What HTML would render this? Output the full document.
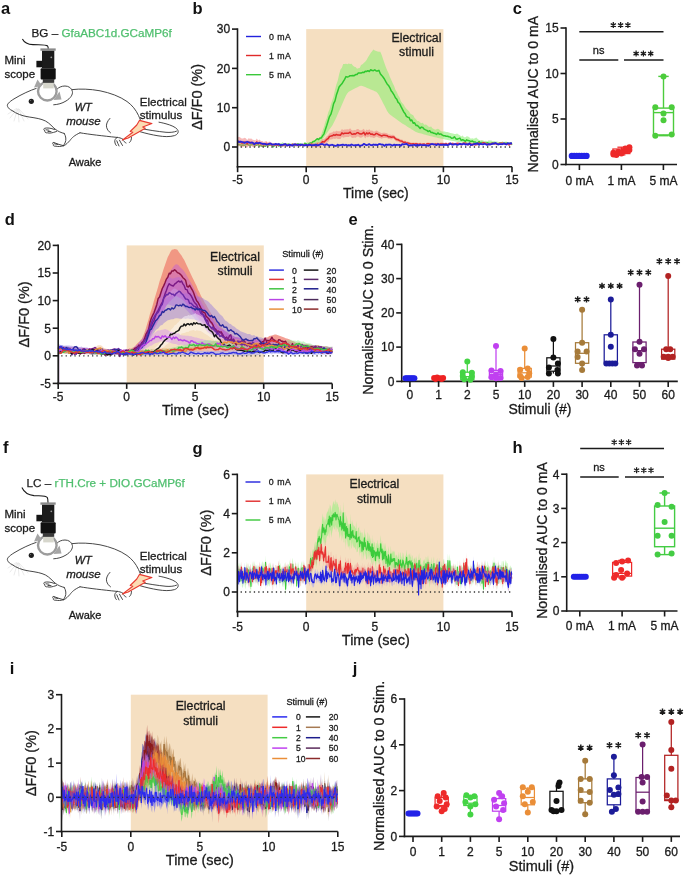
<!DOCTYPE html>
<html><head><meta charset="utf-8"><style>
html,body{margin:0;padding:0;background:#fff;}
svg{display:block;font-family:"Liberation Sans", sans-serif;will-change:transform;}
</style></head><body>
<svg width="685" height="876" viewBox="0 0 685 876">
<rect width="685" height="876" fill="#fff"/>
<rect x="306.2" y="29.1" width="137.2" height="137.6" fill="#f5dfc1"/>
<text x="416.5" y="41.9" font-size="12.3" text-anchor="middle" fill="#1b1b1b" stroke="#1b1b1b" stroke-width="0.3">Electrical</text>
<text x="416.5" y="56.4" font-size="12.3" text-anchor="middle" fill="#1b1b1b" stroke="#1b1b1b" stroke-width="0.3">stimuli</text>
<path transform="scale(.1)" d="M2376 1426l14 2 13-2 14-6 14 2 14 16 13 3 14-15 14 11 13-6 14-4 14 14 14 3 13-14 14 2 14 1 14-1 13 5 14 4 14-8 13 5 14 4 14-13 14 4 13-3 14 8 14-1 13 2 14-1 14-6 14 6 13-7 14 0 14-10 13 21 14-14 14 6 14 0 13 8 14-6 14-7 14 5 13 0 14 2 14-9 13 7 14 13 14-9 14 8 13 8 14-18 14-14 13 4 14 3 14-6 14-17 13 2 14-4 14-4 13-5 14-21 14-29 14-41 13-36 14-53 14-36 14-53 13-30 14-50 14-44 13-38 14-67 14-51 14-41 13-60 14-50 14-18 13-36 14 0 14-3 14 5 13-7 14 3 14-1 13 17 14 13 14 3 14 16 13-4 14-3 14-31 14-7 13-11 14-14 14-17 13-25 14-22 14-24 14-17 13-16 14 8 14 5 13 5 14 3 14 0 14 32 13 40 14 40 14 42 13 31 14 29 14 40 14 29 13 30 14 28 14 40 14 22 13 33 14 20 14 39 13 18 14 14 14 27 14 17 13 11 14 17 14 22 13 7 14 7 14 29 14 12 13 16 14 0 14 17 13 7 14-6 14 20 14-3 13 5 14 15 14 5 14-3 13 17 14 6 14 8 13-4 14-5 14 7 14 15 13 4 14 2 14-2 13 7 14 0 14 3 14 7 13 2 14 2 14 4 13 0 14-4 14 10 14 7 13 13 14-9 14 17 14 0 13-11 14 4 14 8 13 13 14-5 14 5 14-5 13-7 14 16 14 8 13 6 14-4 14 4 14 8 13-6 14 8 14-12 13 1 14 1 14 10 14-5 13 4 14 2 14 1 14 6 13 2 14-12 14 6 13-1 14-4 14 17 14-5 13-5 14-1 0 30-14 0-13 0-14 0-14 0-14 0-13 0-14 0-14 0-13 0-14 0-14 0-14 0-13 0-14 0-14 0-14 0-13 0-14 0-14 0-13 0-14-1-14-2-14-1-13-2-14-1-14-2-13-1-14-2-14-1-14-2-13-1-14-2-14-2-13-1-14-2-14-1-14-2-13-2-14-2-14-2-14-3-13-3-14-2-14-3-13-3-14-2-14-3-14-2-13-3-14-3-14-3-13-3-14-3-14-3-14-3-13-3-14-4-14-3-13-3-14-3-14-4-14-4-13-4-14-4-14-4-14-4-13-4-14-3-14-4-13-6-14-7-14-9-14-8-13-9-14-9-14-8-13-9-14-9-14-8-14-9-13-10-14-9-14-10-13-10-14-10-14-10-14-10-13-9-14-10-14-16-14-21-13-26-14-27-14-26-13-27-14-26-14-27-14-19-13-13-14-6-14-6-13-6-14-6-14-6-14-6-13-5-14-6-14-6-13-6-14-2-14 3-14 7-13 7-14 7-14 7-14 7-13 8-14 7-14 7-13 15-14 23-14 31-14 31-13 31-14 31-14 31-13 31-14 31-14 31-14 27-13 24-14 20-14 19-13 20-14 19-14 20-14 20-13 19-14 20-14 14-14 8-13 3-14 3-14 3-13 2-14 3-14 3-14 3-13 2-14 2-14 1-13 0-14 0-14 0-14 0-13 0-14 0-14 0-13 0-14 0-14 0-14 0-13 0-14 0-14 0-14 0-13 0-14 0-14 0-13 0-14 0-14 0-14 0-13 0-14 0-14 0-13 0-14 0-14 0-14 0-13 0-14 0-14 0-13 0-14 0-14 0-14 0-13 0-14 0-14 0-14 0-13 0-14 0-14 0-13 0-14 0-14 0-14 0-13 0-14 0z" fill="#86ee6e" fill-opacity="0.55"/>
<path transform="scale(.1)" d="M2376 1446l14-1 13 4 14 4 14-3 14 4 13-7 14-9 14 13 13 2 14-8 14 1 14 2 13 8 14-7 14-5 14 15 13-6 14 10 14-4 13 4 14-11 14 7 14-11 13 1 14 2 14 16 13-14 14-3 14-2 14 12 13-8 14 4 14-2 13-13 14 13 14-6 14-6 13 10 14-3 14-2 14 0 13 9 14-9 14-9 13 20 14-17 14 5 14 5 13-19 14 8 14 11 13-13 14-9 14 0 14-14 13-2 14-13 14-13 13 8 14-14 14-2 14-22 13-19 14-43 14-42 14-46 13-41 14-24 14-48 13-57 14-28 14-58 14-42 13-39 14-18 14-14 13-22 14-22 14-28 14 4 13-4 14-9 14 0 13-3 14 3 14-11 14 0 13-15 14-1 14 1 14-8 13 3 14-14 14 3 13-8 14 8 14-18 14 9 13 1 14-9 14 12 13 0 14-7 14 35 14 16 13 16 14 20 14 27 13 22 14 15 14 24 14 33 13 15 14 22 14 30 14 15 13 31 14 11 14 29 13 24 14 29 14 17 14 30 13 8 14 3 14 32 13-7 14 32 14-4 14 26 13 0 14 13 14 17 13-13 14 4 14 17 14 7 13 5 14 12 14-9 14 17 13 1 14 8 14 3 13 8 14-15 14 14 14-4 13 10 14 8 14 1 13 5 14-1 14 6 14 3 13 11 14-1 14-14 13 20 14 5 14-6 14-5 13 23 14-6 14 5 14 11 13-16 14 8 14 2 13 8 14-6 14 9 14 0 13 9 14 3 14-16 13 14 14-5 14 4 14 4 13 2 14-7 14 7 13 1 14-1 14-7 14 3 13 3 14 7 14 6 14-17 13 1 14 8 14-5 13-1 14 0 14-1 14 10 13-13 14 19" fill="none" stroke="#2ec82e" stroke-width="15" stroke-linejoin="round"/>
<path transform="scale(.1)" d="M2376 1374l14-6 13 7 14 11 14 0 14-8 13 4 14 17 14-17 13 6 14-2 14 12 14 1 13 7 14-20 14 18 14-8 13 15 14-2 14 12 13-5 14-6 14 15 14-11 13 6 14 10 14-1 13 2 14 0 14 5 14 4 13-3 14 4 14 2 13-7 14-6 14 15 14-9 13 4 14 2 14-10 14 8 13-12 14 14 14-7 13 4 14 3 14-7 14 4 13-4 14 4 14 4 13-7 14-3 14-7 14 9 13-7 14 8 14-16 13 3 14-3 14-17 14-14 13 3 14-15 14-15 14-9 13-21 14-5 14-3 13-11 14 5 14-10 14 5 13-1 14 1 14-24 13 11 14-6 14 0 14-1 13 1 14-11 14 18 13 3 14-3 14 2 14-12 13 0 14 11 14 2 14-6 13-10 14 25 14-19 13 9 14-10 14 15 14-2 13 10 14-1 14-11 13 6 14 9 14 5 14 9 13-6 14 0 14 3 13 2 14 12 14 0 14 6 13-2 14 2 14 18 14 9 13 2 14 9 14 6 13 2 14 13 14-4 14 11 13-1 14 5 14 4 13 3 14-2 14 3 14-3 13 2 14 8 14-9 13 9 14-5 14-1 14 10 13-13 14 0 14 2 14 1 13 0 14 4 14-5 13 2 14-4 14 8 14-9 13 1 14 2 14 1 13-5 14 13 14-13 14 1 13 0 14 0 14 6 13-3 14-5 14 1 14 2 13 10 14-12 14-4 14 1 13 4 14 11 14-15 13 7 14 14 14-17 14 11 13-2 14-3 14-12 13 10 14-4 14-9 14 1 13 10 14 1 14 6 13-3 14-7 14 0 14 2 13-5 14 10 14-4 14-5 13 1 14-3 14 4 13 5 14-4 14 8 14 3 13-13 14 4 0 24-14-4-13 13-14-4-14-8-14 4-13-4-14-4-14 3-13-1-14 5-14 4-14-11-13 6-14-2-14 0-14 6-13 4-14-6-14-1-13-10-14-1-14 9-14 4-13-10-14 11-14 4-13 1-14-11-14 17-14-14-13-6-14 15-14-11-13-5-14-1-14 4-14 12-13-10-14-1-14-1-14 5-13 2-14-6-14 1-13 0-14-1-14 12-14-13-13 6-14-2-14-1-13-1-14 8-14-7-14 4-13-2-14 4-14-3-13 0-14-2-14-2-14 1-13 13-14-11-14 2-14 4-13-8-14 8-14-8-13-1-14 4-14-2-14 3-13-2-14-4-14-3-13 2-14-10-14 5-14-12-13-1-14-5-14-8-13-1-14-8-14-16-14-1-13 4-14-5-14 2-14-10-13-1-14-1-14 1-13 8-14-7-14-4-14-8-13-4-14 13-14 2-13-8-14 4-14-13-14 11-13-9-14 20-14-25-13 11-14 6-14-2-14-11-13 1-14 12-14-1-14 3-13-3-14-17-14 11-13 0-14 1-14 1-14 6-13-11-14 24-14-2-13 0-14-7-14 8-14-6-13 9-14 2-14 3-13 19-14 8-14 12-14 13-13-6-14 11-14 15-14 0-13-5-14 13-14-11-13 5-14-12-14 4-14 0-13 5-14-7-14-4-13 5-14-5-14 8-14-4-13-3-14 6-14-13-13 11-14-8-14 11-14-2-13-4-14 8-14-14-14 5-13 7-14-1-14-5-13 3-14-1-14-2-14 2-13 1-14 4-14-8-13-3-14 14-14-13-14 9-13 8-14-10-14 5-13-13-14 11-14-16-14 22-13-4-14 0-14-10-14 5-13-5-14 19-14-14-13-2-14 10-14 2-14-9-13-5-14 8z" fill="#f08080" fill-opacity="0.55"/>
<path transform="scale(.1)" d="M2376 1421l14-7 13 6 14 10 14-1 14-9 13 3 14 15 14-18 13 6 14-3 14 11 14 0 13 6 14-21 14 17 14-10 13 14 14-4 14 12 13-7 14-7 14 14 14-13 13 5 14 9 14-3 13 1 14-2 14 4 14 2 13-3 14 5 14 2 13-8 14-5 14 15 14-9 13 4 14 2 14-11 14 9 13-12 14 14 14-7 13 4 14 3 14-8 14 5 13-4 14 4 14 5 13-6 14-1 14-6 14 10 13-5 14 9 14-14 13 4 14-2 14-16 14-13 13 5 14-14 14-13 14-9 13-20 14-4 14-3 13-10 14 6 14-9 14 6 13-1 14 2 14-24 13 11 14-6 14 0 14-1 13 0 14-11 14 18 13 3 14-4 14 2 14-12 13 0 14 10 14 3 14-6 13-11 14 25 14-20 13 10 14-11 14 14 14-3 13 9 14-1 14-13 13 5 14 9 14 5 14 7 13-7 14 0 14 2 13 2 14 11 14-1 14 5 13-3 14 2 14 16 14 9 13 1 14 9 14 5 13 2 14 12 14-4 14 10 13-1 14 4 14 4 13 3 14-3 14 3 14-4 13 2 14 8 14-9 13 8 14-4 14-2 14 11 13-13 14 0 14 1 14 2 13 0 14 3 14-4 13 2 14-4 14 8 14-9 13 1 14 1 14 2 13-6 14 13 14-12 14 1 13 0 14-1 14 6 13-2 14-5 14 1 14 1 13 10 14-12 14-3 14 1 13 4 14 11 14-15 13 6 14 14 14-17 14 11 13-1 14-4 14-11 13 10 14-4 14-9 14 1 13 10 14 1 14 6 13-3 14-7 14 0 14 2 13-5 14 10 14-4 14-5 13 1 14-3 14 4 13 4 14-4 14 8 14 4 13-13 14 4" fill="none" stroke="#e02a2a" stroke-width="15" stroke-linejoin="round"/>
<path transform="scale(.1)" d="M2376 1398l14 11 13-5 14 3 14 3 14 8 13-8 14-4 14 4 13 6 14-1 14-2 14 18 13-11 14-1 14 1 14-4 13 5 14 5 14 2 13-1 14 7 14-2 14-4 13-5 14 10 14 0 13 0 14-5 14 6 14-6 13 11 14-3 14 0 13-4 14-1 14 12 14-3 13-5 14 5 14 4 14-12 13 3 14 0 14 5 13-7 14 6 14-6 14 9 13 0 14-4 14 4 13-7 14 2 14 6 14-5 13 2 14-6 14 8 13-1 14-8 14-5 14 1 13 9 14 0 14-7 14 8 13 4 14-5 14-2 13 6 14 4 14-1 14-10 13 7 14-3 14-1 13-2 14 4 14-4 14 7 13-3 14 3 14-10 13 6 14 3 14-2 14 0 13-5 14 11 14-3 14-3 13-13 14 7 14 5 13-4 14-6 14 11 14 0 13-7 14 3 14-1 13 6 14-12 14 1 14 5 13-1 14 13 14-13 13 4 14-3 14-2 14 5 13 6 14-10 14 5 14-2 13 1 14-1 14 9 13-17 14 5 14-4 14-4 13 9 14 9 14-4 13 2 14-3 14-3 14 10 13-11 14 9 14-8 13 2 14 1 14-1 14 3 13 0 14 5 14-7 14-10 13-1 14 3 14 3 13 6 14-11 14 7 14 0 13 0 14-2 14 2 13-1 14 4 14-4 14-12 13 11 14 0 14-4 13-1 14 9 14-5 14-6 13 3 14 1 14-7 14 10 13-4 14 3 14-10 13 16 14-6 14-1 14-6 13 0 14-4 14 14 13-11 14 4 14 2 14-6 13 7 14 5 14-8 13 5 14-5 14-5 14 0 13-6 14 8 14 6 14-3 13 0 14 1 14-8 13 5 14 6 14-13 14 4 13-3 14 1 0 24-14-1-13 2-14-3-14 13-14-6-13-5-14 8-14-1-13-1-14 4-14-6-14-8-13 6-14 0-14 5-14 4-13-5-14 8-14-5-13-6-14 6-14-2-14-5-13 12-14-14-14 4-13 0-14 6-14 0-14 7-13-16-14 9-14-2-13 4-14-11-14 7-14 0-13-3-14 6-14 4-14-8-13 1-14 4-14-1-13-11-14 13-14 4-14-5-13 2-14-2-14 2-13-1-14 1-14-7-14 10-13-6-14-2-14-3-13 1-14 9-14 8-14-5-13-1-14-2-14 1-14-2-13-2-14 9-14-9-13 11-14-10-14 2-14 3-13-1-14 4-14-9-13-10-14 4-14 4-14-5-13 17-14-9-14 2-13-1-14 2-14-5-14 10-13-7-14-4-14 1-14 3-13-3-14 12-14-12-13 0-14-5-14-1-14 12-13-5-14 1-14-4-13 8-14-1-14-11-14 7-13 4-14-5-14-8-13 14-14 3-14 3-14-11-13 4-14 1-14 2-14-4-13-5-14 10-14-3-13 2-14-6-14 4-14-5-13 2-14 2-14 3-13-7-14 10-14 1-14-4-13-6-14 2-14 5-13-4-14-8-14 6-14 1-13-9-14-1-14 4-14 8-13 1-14-7-14 6-13-2-14 4-14-5-14-2-13 6-14-4-14 5-13 0-14-10-14 6-14-6-13 7-14-5-14 0-13-3-14 12-14-4-14-5-13 6-14 3-14-13-14 1-13 5-14-1-14 4-13-12-14 7-14-7-14 5-13 1-14 0-14-10-13 4-14 4-14 2-14-6-13 0-14-1-14-6-13-4-14 3-14-1-14 2-13 11-14-18-14 2-14 1-13-6-14-4-14 4-13 7-14-8-14-3-14-2-13 4-14-11z" fill="#9090f0" fill-opacity="0.5"/>
<path transform="scale(.1)" d="M2376 1410l14 11 13-5 14 3 14 2 14 9 13-8 14-4 14 4 13 6 14-1 14-2 14 18 13-11 14-2 14 1 14-3 13 4 14 6 14 1 13 0 14 6 14-2 14-4 13-4 14 10 14 0 13-1 14-5 14 7 14-7 13 12 14-3 14 0 13-5 14-1 14 13 14-3 13-6 14 5 14 5 14-12 13 2 14 1 14 4 13-6 14 6 14-6 14 9 13 0 14-5 14 5 13-7 14 2 14 6 14-5 13 2 14-6 14 7 13-1 14-7 14-5 14 1 13 9 14-1 14-6 14 8 13 4 14-5 14-2 13 6 14 4 14-1 14-10 13 7 14-3 14-2 13-2 14 5 14-4 14 7 13-3 14 3 14-10 13 5 14 4 14-2 14-1 13-4 14 11 14-3 14-3 13-14 14 8 14 5 13-4 14-6 14 10 14 1 13-7 14 3 14-1 13 5 14-11 14 1 14 5 13-1 14 13 14-13 13 3 14-3 14-1 14 5 13 6 14-10 14 5 14-2 13 1 14-2 14 10 13-17 14 4 14-3 14-4 13 9 14 9 14-4 13 1 14-3 14-2 14 10 13-11 14 9 14-8 13 2 14 1 14-1 14 2 13 1 14 5 14-8 14-9 13-1 14 3 14 2 13 7 14-11 14 7 14 0 13 0 14-2 14 2 13-2 14 5 14-4 14-13 13 11 14 1 14-4 13-1 14 8 14-4 14-6 13 3 14 1 14-7 14 10 13-4 14 3 14-10 13 16 14-6 14-1 14-6 13 0 14-4 14 14 13-11 14 4 14 2 14-6 13 6 14 6 14-9 13 5 14-4 14-5 14 0 13-6 14 8 14 6 14-4 13 1 14 1 14-8 13 5 14 6 14-13 14 4 13-3 14 1" fill="none" stroke="#2a22d8" stroke-width="17" stroke-linejoin="round"/>
<line x1="240.6" y1="147" x2="512" y2="147" stroke="#333" stroke-width="1.3" stroke-dasharray="1.3 3.1"/>
<line x1="237.5" y1="28.3" x2="237.5" y2="167.5" stroke="#1b1b1b" stroke-width="1.6"/>
<line x1="232" y1="29.1" x2="237.5" y2="29.1" stroke="#1b1b1b" stroke-width="1.6"/>
<text x="230.2" y="33.4" font-size="12" text-anchor="end" fill="#1b1b1b" stroke="#1b1b1b" stroke-width="0.3">30</text>
<line x1="232" y1="68.4" x2="237.5" y2="68.4" stroke="#1b1b1b" stroke-width="1.6"/>
<text x="230.2" y="72.7" font-size="12" text-anchor="end" fill="#1b1b1b" stroke="#1b1b1b" stroke-width="0.3">20</text>
<line x1="232" y1="107.7" x2="237.5" y2="107.7" stroke="#1b1b1b" stroke-width="1.6"/>
<text x="230.2" y="112" font-size="12" text-anchor="end" fill="#1b1b1b" stroke="#1b1b1b" stroke-width="0.3">10</text>
<line x1="232" y1="147" x2="237.5" y2="147" stroke="#1b1b1b" stroke-width="1.6"/>
<text x="230.2" y="151.3" font-size="12" text-anchor="end" fill="#1b1b1b" stroke="#1b1b1b" stroke-width="0.3">0</text>
<line x1="236.7" y1="166.7" x2="512" y2="166.7" stroke="#1b1b1b" stroke-width="1.6"/>
<line x1="237.6" y1="166.7" x2="237.6" y2="172.2" stroke="#1b1b1b" stroke-width="1.6"/>
<text x="237.6" y="183.9" font-size="12" text-anchor="middle" fill="#1b1b1b" stroke="#1b1b1b" stroke-width="0.3">-5</text>
<line x1="306.2" y1="166.7" x2="306.2" y2="172.2" stroke="#1b1b1b" stroke-width="1.6"/>
<text x="306.2" y="183.9" font-size="12" text-anchor="middle" fill="#1b1b1b" stroke="#1b1b1b" stroke-width="0.3">0</text>
<line x1="374.8" y1="166.7" x2="374.8" y2="172.2" stroke="#1b1b1b" stroke-width="1.6"/>
<text x="374.8" y="183.9" font-size="12" text-anchor="middle" fill="#1b1b1b" stroke="#1b1b1b" stroke-width="0.3">5</text>
<line x1="443.4" y1="166.7" x2="443.4" y2="172.2" stroke="#1b1b1b" stroke-width="1.6"/>
<text x="443.4" y="183.9" font-size="12" text-anchor="middle" fill="#1b1b1b" stroke="#1b1b1b" stroke-width="0.3">10</text>
<line x1="512" y1="166.7" x2="512" y2="172.2" stroke="#1b1b1b" stroke-width="1.6"/>
<text x="512" y="183.9" font-size="12" text-anchor="middle" fill="#1b1b1b" stroke="#1b1b1b" stroke-width="0.3">15</text>
<line x1="246" y1="36.5" x2="261" y2="36.5" stroke="#2222dd" stroke-width="1.4"/>
<text x="268.9" y="39.6" font-size="8.8" text-anchor="start" fill="#1b1b1b" stroke="#1b1b1b" stroke-width="0.3" letter-spacing="0.5">0 mA</text>
<line x1="246" y1="55.5" x2="261" y2="55.5" stroke="#e02a2a" stroke-width="1.4"/>
<text x="268.9" y="58.6" font-size="8.8" text-anchor="start" fill="#1b1b1b" stroke="#1b1b1b" stroke-width="0.3" letter-spacing="0.5">1 mA</text>
<line x1="246" y1="74.7" x2="261" y2="74.7" stroke="#3ac83a" stroke-width="1.4"/>
<text x="268.9" y="77.8" font-size="8.8" text-anchor="start" fill="#1b1b1b" stroke="#1b1b1b" stroke-width="0.3" letter-spacing="0.5">5 mA</text>
<text x="201.8" y="97" font-size="14.5" text-anchor="middle" fill="#1b1b1b" stroke="#1b1b1b" stroke-width="0.3" transform="rotate(-90 201.8 97)">ΔF/F0 (%)</text>
<text x="375.8" y="198.2" font-size="14" text-anchor="middle" fill="#1b1b1b" stroke="#1b1b1b" stroke-width="0.3">Time (sec)</text>
<text x="192.5" y="13.7" font-size="16.5" text-anchor="start" fill="#111" font-weight="bold">b</text>
<line x1="566" y1="27.2" x2="566" y2="165.3" stroke="#1b1b1b" stroke-width="1.6"/>
<line x1="560.5" y1="164.5" x2="566" y2="164.5" stroke="#1b1b1b" stroke-width="1.6"/>
<text x="558.7" y="168.8" font-size="12" text-anchor="end" fill="#1b1b1b" stroke="#1b1b1b" stroke-width="0.3">0</text>
<line x1="560.5" y1="119" x2="566" y2="119" stroke="#1b1b1b" stroke-width="1.6"/>
<text x="558.7" y="123.3" font-size="12" text-anchor="end" fill="#1b1b1b" stroke="#1b1b1b" stroke-width="0.3">5</text>
<line x1="560.5" y1="73.5" x2="566" y2="73.5" stroke="#1b1b1b" stroke-width="1.6"/>
<text x="558.7" y="77.8" font-size="12" text-anchor="end" fill="#1b1b1b" stroke="#1b1b1b" stroke-width="0.3">10</text>
<line x1="560.5" y1="28" x2="566" y2="28" stroke="#1b1b1b" stroke-width="1.6"/>
<text x="558.7" y="32.3" font-size="12" text-anchor="end" fill="#1b1b1b" stroke="#1b1b1b" stroke-width="0.3">15</text>
<line x1="565.2" y1="164.5" x2="677" y2="164.5" stroke="#1b1b1b" stroke-width="1.6"/>
<line x1="579.4" y1="164.5" x2="579.4" y2="170" stroke="#1b1b1b" stroke-width="1.6"/>
<text x="579.4" y="185.1" font-size="12" text-anchor="middle" fill="#1b1b1b" stroke="#1b1b1b" stroke-width="0.3">0 mA</text>
<line x1="621.4" y1="164.5" x2="621.4" y2="170" stroke="#1b1b1b" stroke-width="1.6"/>
<text x="621.4" y="185.1" font-size="12" text-anchor="middle" fill="#1b1b1b" stroke="#1b1b1b" stroke-width="0.3">1 mA</text>
<line x1="663.4" y1="164.5" x2="663.4" y2="170" stroke="#1b1b1b" stroke-width="1.6"/>
<text x="663.4" y="185.1" font-size="12" text-anchor="middle" fill="#1b1b1b" stroke="#1b1b1b" stroke-width="0.3">5 mA</text>
<text x="538.4" y="94.2" font-size="14.1" text-anchor="middle" fill="#1b1b1b" stroke="#1b1b1b" stroke-width="0.3" transform="rotate(-90 538.4 94.2)">Normalised AUC to 0 mA</text>
<line x1="579.3" y1="31.7" x2="663.5" y2="31.7" stroke="#1b1b1b" stroke-width="1.5"/>
<line x1="579.3" y1="60" x2="618.3" y2="60" stroke="#1b1b1b" stroke-width="1.5"/>
<line x1="624" y1="60" x2="663.5" y2="60" stroke="#1b1b1b" stroke-width="1.5"/>
<path d="M613.30,22.10L613.30,28.10M610.70,23.60L615.90,26.60M610.70,26.60L615.90,23.60" stroke="#1b1b1b" stroke-width="1.25"/>
<path d="M620.60,22.10L620.60,28.10M618.00,23.60L623.20,26.60M618.00,26.60L623.20,23.60" stroke="#1b1b1b" stroke-width="1.25"/>
<path d="M627.90,22.10L627.90,28.10M625.30,23.60L630.50,26.60M625.30,26.60L630.50,23.60" stroke="#1b1b1b" stroke-width="1.25"/>
<path d="M636.10,50.60L636.10,56.60M633.50,52.10L638.70,55.10M633.50,55.10L638.70,52.10" stroke="#1b1b1b" stroke-width="1.25"/>
<path d="M643.40,50.60L643.40,56.60M640.80,52.10L646.00,55.10M640.80,55.10L646.00,52.10" stroke="#1b1b1b" stroke-width="1.25"/>
<path d="M650.70,50.60L650.70,56.60M648.10,52.10L653.30,55.10M648.10,55.10L653.30,52.10" stroke="#1b1b1b" stroke-width="1.25"/>
<text x="598.6" y="54.2" font-size="11" text-anchor="middle" fill="#1b1b1b" stroke="#1b1b1b" stroke-width="0.3">ns</text>
<circle cx="571.8" cy="155.9" r="3.1" fill="#2222e8"/>
<circle cx="574.2" cy="155.9" r="3.1" fill="#2222e8"/>
<circle cx="576.7" cy="155.9" r="3.1" fill="#2222e8"/>
<circle cx="579.2" cy="155.9" r="3.1" fill="#2222e8"/>
<circle cx="581.7" cy="155.9" r="3.1" fill="#2222e8"/>
<circle cx="584.2" cy="155.9" r="3.1" fill="#2222e8"/>
<circle cx="586.6" cy="155.9" r="3.1" fill="#2222e8"/>
<line x1="621.4" y1="147.2" x2="621.4" y2="149" stroke="#ee2a2a" stroke-width="1.25"/>
<line x1="621.4" y1="153.6" x2="621.4" y2="154.9" stroke="#ee2a2a" stroke-width="1.25"/>
<rect x="612.9" y="149" width="17" height="4.6" fill="white" fill-opacity="0" stroke="#ee2a2a" stroke-width="1.25"/>
<line x1="612.9" y1="151.3" x2="629.9" y2="151.3" stroke="#ee2a2a" stroke-width="1.25"/>
<line x1="617.4" y1="147.2" x2="625.4" y2="147.2" stroke="#ee2a2a" stroke-width="1.25"/>
<line x1="617.4" y1="154.9" x2="625.4" y2="154.9" stroke="#ee2a2a" stroke-width="1.25"/>
<circle cx="613.4" cy="154.5" r="3.0" fill="#ee2a2a"/>
<circle cx="616.4" cy="154.9" r="3.0" fill="#ee2a2a"/>
<circle cx="613.4" cy="152.7" r="3.0" fill="#ee2a2a"/>
<circle cx="618.4" cy="151.8" r="3.0" fill="#ee2a2a"/>
<circle cx="623.4" cy="151.3" r="3.0" fill="#ee2a2a"/>
<circle cx="626.4" cy="150.8" r="3.0" fill="#ee2a2a"/>
<circle cx="629.4" cy="149.9" r="3.0" fill="#ee2a2a"/>
<circle cx="629.4" cy="147.2" r="3.0" fill="#ee2a2a"/>
<circle cx="625.4" cy="148.6" r="3.0" fill="#ee2a2a"/>
<circle cx="621.4" cy="153.6" r="3.0" fill="#ee2a2a"/>
<line x1="663.5" y1="76.4" x2="663.5" y2="108.1" stroke="#4ccc3c" stroke-width="1.4"/>
<line x1="663.5" y1="134.8" x2="663.5" y2="135.7" stroke="#4ccc3c" stroke-width="1.4"/>
<rect x="653.5" y="108.1" width="20" height="26.8" fill="white" fill-opacity="0" stroke="#4ccc3c" stroke-width="1.4"/>
<line x1="653.5" y1="112.6" x2="673.5" y2="112.6" stroke="#4ccc3c" stroke-width="1.4"/>
<line x1="658.3" y1="76.4" x2="668.7" y2="76.4" stroke="#4ccc3c" stroke-width="1.4"/>
<line x1="658.3" y1="135.7" x2="668.7" y2="135.7" stroke="#4ccc3c" stroke-width="1.4"/>
<circle cx="663.5" cy="76.4" r="3.0" fill="#4ccc3c"/>
<circle cx="655.3" cy="107.2" r="3.0" fill="#4ccc3c"/>
<circle cx="671.7" cy="107.2" r="3.0" fill="#4ccc3c"/>
<circle cx="663.5" cy="113.5" r="3.0" fill="#4ccc3c"/>
<circle cx="663.5" cy="120.2" r="3.0" fill="#4ccc3c"/>
<circle cx="655.3" cy="135.7" r="3.0" fill="#4ccc3c"/>
<circle cx="671.7" cy="134.5" r="3.0" fill="#4ccc3c"/>
<text x="512.7" y="13.6" font-size="16.5" text-anchor="start" fill="#111" font-weight="bold">c</text>
<rect x="126.7" y="245.4" width="137.1" height="138" fill="#f5dfc1"/>
<text x="235" y="260.9" font-size="12.3" text-anchor="middle" fill="#1b1b1b" stroke="#1b1b1b" stroke-width="0.3">Electrical</text>
<text x="235" y="275.2" font-size="12.3" text-anchor="middle" fill="#1b1b1b" stroke="#1b1b1b" stroke-width="0.3">stimuli</text>
<path transform="scale(.1)" d="M582 3462l14 0 13 1 14 2 14-2 13-1 14 5 14 1 14 3 13-2 14 4 14 2 13 0 14 4 14 1 13 0 14 0 14 5 14 1 13-1 14 1 14 2 13-2 14-2 14-3 13 2 14 7 14-1 14-4 13 1 14-2 14 5 13-3 14 0 14 3 13-2 14 8 14 0 14 4 13-4 14-3 14-2 13 7 14 1 14 0 13 3 14 2 14-2 14 0 13-1 14 2 14-5 13-14 14 5 14-7 13-8 14-9 14-18 14-15 13-10 14-19 14-13 13-30 14-33 14-44 13-45 14-45 14-54 14-41 13-45 14-49 14-47 13-43 14-47 14-53 13-35 14-45 14-46 14-39 13-38 14-41 14-24 13-28 14-19 14-4 13-5 14 4 14 5 14 21 13 18 14 18 14 25 13 20 14 30 14 31 13 27 14 30 14 29 14 30 13 25 14 30 14 27 13 36 14 24 14 33 13 26 14 21 14 28 14 20 13 25 14 26 14 22 13 25 14 24 14 10 13 23 14 15 14 18 14 23 13 11 14 16 14 17 13 12 14 5 14 11 13 13 14 7 14 5 14 5 13 9 14 1 14 2 13 10 14 3 14 3 13-2 14 8 14 0 14 1 13 1 14 4 14 3 13-9 14 1 14 4 13-8 14-3 14-1 14 6 13-5 14 0 14-6 13-10 14 0 14-12 13-2 14-3 14-5 14-5 13-1 14 7 14 3 13 5 14 5 14 6 13 5 14 8 14 3 14 5 13 4 14 9 14 5 13 4 14 9 14 5 13-1 14 1 14 5 14 5 13 3 14 1 14 1 13-1 14 3 14 4 13 2 14 1 14 2 14-1 13-1 14-1 14 9 13 1 14 1 14 4 13-2 14 3 14 2 14 3 13 1 14-4 0 66-14-6-13-1-14 0-14-1-14 0-13-4-14 1-14-2-13-1-14 6-14-4-13-4-14-3-14-1-14-2-13-1-14 2-14 0-13-4-14-1-14-2-13 1-14 1-14 2-14-3-13-7-14-4-14 0-13-6-14-3-14 0-13-6-14-3-14-6-14-1-13-3-14-2-14-3-13-3-14-5-14-1-13-3-14 0-14 4-14 6-13 8-14-2-14 9-13 1-14 1-14 4-13-2-14 7-14 1-14 0-13-5-14 5-14 4-13-7-14 3-14 2-13-3-14-4-14-4-14 3-13-6-14-1-14-2-13 5-14-5-14-7-13-2-14-5-14-7-14-4-13 3-14-1-14-10-13-9-14-9-14-12-13-16-14-6-14-9-14-13-13-6-14-21-14-13-13-15-14-17-14-13-13-15-14-19-14-12-14-20-13-18-14-15-14-23-13-12-14-21-14-18-13-22-14-19-14-21-14-19-13-22-14-17-14-19-13-22-14-12-14-13-13-14-14-5-14-13-14-5-13 2-14 16-14 11-13 13-14 25-14 21-13 25-14 28-14 28-14 31-13 39-14 23-14 28-13 33-14 29-14 27-13 30-14 35-14 22-14 31-13 30-14 32-14 26-13 11-14 11-14 5-13 14-14 8-14 6-14 10-13 4-14 0-14 11-13-6-14-1-14 3-13-1-14-1-14-3-14 2-13 2-14-1-14 0-13 6-14-2-14-4-13-4-14 2-14 0-14 6-13-2-14 2-14 0-13-4-14 4-14-3-13 0-14-4-14-2-14 7-13 0-14-3-14-3-13-2-14 1-14-1-13-4-14-1-14 3-14-2-13-3-14-1-14 2-13-2-14 0-14 1-13-4-14 1-14-1-14 2-13-3-14-4-14 0-13-1-14-2z" fill="#f07868" fill-opacity="0.7"/>
<path transform="scale(.1)" d="M582 3453l14 2 13-3 14-3 14 11 13-2 14-3 14 0 14 1 13 2 14 0 14 5 13-3 14 6 14-1 13 6 14 0 14-5 14 9 13-3 14 4 14 2 13 2 14 1 14 1 13 0 14-4 14-5 14 12 13 1 14 1 14-3 13 2 14 1 14 2 13 2 14 3 14 3 14-5 13 2 14 6 14-3 13 6 14-6 14 4 13 4 14 0 14 0 14 3 13 0 14-2 14-9 13 4 14-3 14-4 13-7 14-12 14-9 14-10 13-18 14-13 14-13 13-13 14-20 14-25 13-37 14-36 14-35 14-31 13-38 14-39 14-23 13-23 14-20 14-8 13-17 14-27 14-9 14-18 13-12 14-8 14-7 13-8 14-7 14-13 13 0 14 1 14-1 14-1 13-6 14 2 14 3 13-1 14-5 14 5 13 5 14-2 14 10 14 3 13 5 14 3 14 0 13 8 14-3 14 10 13 4 14 6 14 13 14 5 13 9 14 10 14 17 13 10 14 17 14 14 13 14 14 14 14 17 14 19 13 9 14 14 14 21 13 18 14 7 14 14 13 11 14 3 14 14 14 9 13 7 14 14 14 9 13 6 14 14 14 5 13 4 14 6 14 4 14 7 13 2 14 0 14 11 13 2 14-4 14 13 13-2 14 7 14 7 14-3 13 7 14 4 14 1 13-4 14 9 14-1 13 5 14 2 14 0 14-2 13 7 14 7 14-4 13 0 14 8 14 7 13 4 14 4 14-7 14 11 13 7 14 2 14 1 13 3 14 0 14 0 13 3 14-3 14 3 14 3 13 2 14-4 14 2 13-2 14 6 14 3 13-7 14 8 14-4 14 7 13 3 14-4 14 0 13 7 14 2 14 1 13 1 14 1 14 2 14 1 13-5 14 2 0 60-14 0-13-5-14-1-14-1-14-1-13 0-14-1-14 0-13 5-14-3-14-5-13 2-14 4-14-6-14 6-13-8-14 1-14 3-13-3-14 0-14-5-13 0-14 1-14 0-14-3-13 0-14-2-14-1-13 1-14-3-14-2-13 1-14 5-14-12-14-1-13-1-14 0-14 3-13-6-14-8-14 2-13 3-14-5-14-3-14-2-13 1-14-5-14 5-13-7-14-2-14 0-13 3-14-8-14 1-14 0-13-8-14 6-14-10-13-4-14 3-14-6-13-5-14 0-14-2-14-1-13-6-14-7-14-2-13-10-14-6-14-3-13-8-14-7-14-3-14-11-13-6-14-2-14-12-13-5-14-7-14-13-13-17-14-8-14-10-14-13-13-11-14-10-14-2-13-8-14-1-14-8-13-8-14-12-14-4-14-8-13-6-14 3-14-9-13 1-14-5-14-4-13-1-14-3-14 2-14-6-13 1-14 4-14-5-13-1-14 3-14 1-13-4-14-2-14 0-14 4-13 7-14-1-14 4-13 4-14 3-14 9-13 11-14 10-14 18-14 2-13 12-14 19-14 9-13 12-14 22-14 16-13 21-14 26-14 24-14 21-13 21-14 21-14 13-13 8-14 8-14 8-13 3-14 11-14 12-14 3-13 3-14 1-14 1-13 8-14-6-14-1-13-2-14 1-14-2-14-1-13 2-14 2-14-7-13 3-14-4-14 3-13 0-14-6-14 2-14 1-13 0-14 0-14-1-13 0-14-4-14-1-13-1-14 10-14-7-14-5-13-2-14 0-14-1-13 0-14 0-14 2-13-5-14 7-14-6-14-2-13 4-14-3-14 4-13-4-14 3-14-2-13 0-14-1-14-1-14-5-13-3-14 8-14-4-13-5-14 1z" fill="#9c80dc" fill-opacity="0.5"/>
<path transform="scale(.1)" d="M582 3470l14 2 13 1 14 3 14 3 13-7 14 1 14 2 14-4 13 7 14 5 14 0 13 0 14-3 14 0 13-5 14 5 14 5 14-4 13 0 14 1 14 2 13 1 14 2 14-4 13-1 14 2 14-1 14 6 13 0 14 3 14 1 13-1 14-2 14 0 13 2 14 4 14 0 14 2 13 1 14 0 14 1 13 0 14-1 14 1 13 2 14 1 14-2 14-2 13 4 14-3 14-7 13 6 14-5 14-1 13-13 14-18 14-6 14-13 13-21 14-10 14-17 13-21 14-22 14-42 13-28 14-47 14-35 14-39 13-34 14-41 14-40 13-33 14-41 14-30 13-32 14-40 14-29 14-27 13-29 14-10 14-7 13 10 14 6 14 1 13-5 14-6 14-2 14-3 13 7 14 14 14 14 13 13 14 12 14 11 13 19 14 20 14 24 14 17 13 24 14 13 14 24 13 13 14 26 14 29 13 14 14 26 14 22 14 18 13 17 14 19 14 20 13 18 14 13 14 16 13 9 14 18 14 10 14 16 13 10 14 3 14 4 13 11 14 1 14 11 13 13 14 11 14 6 14 6 13 10 14 0 14 6 13-5 14 4 14 9 13 4 14 5 14 4 14 2 13 5 14-2 14-4 13 2 14 5 14 1 13 7 14-2 14 3 14-1 13-3 14 7 14-13 13 6 14 10 14 0 13 7 14-4 14 4 14 3 13-2 14 6 14 0 13-2 14 4 14-2 13 5 14-2 14-5 14 5 13 3 14 0 14-2 13-3 14 0 14 13 13 2 14-6 14 0 14 7 13 2 14-7 14 3 13 6 14 1 14-5 13 10 14-5 14-1 14 3 13 2 14 3 14 2 13 1 14-1 14 3 13 0 14 4 14-4 14 0 13 4 14-6 0 68-14-7-13 2-14-2-14-4-14 1-13-1-14 1-14-2-13-2-14 1-14 1-13 0-14 2-14-3-14-6-13 8-14-7-14 0-13 4-14 0-14-7-13 0-14 4-14-1-14-7-13 1-14 9-14-1-13-4-14-3-14-3-13 2-14 3-14-6-14-4-13 3-14-3-14 2-13-3-14-3-14 4-13-3-14 0-14 1-14-6-13 5-14-2-14 6-13 4-14-14-14 5-13-5-14-3-14 0-14-4-13 4-14-1-14 3-13-1-14-6-14-6-13-1-14-3-14-2-14-1-13-2-14 3-14-2-13-9-14 0-14-5-13 1-14-5-14-7-14-3-13 0-14-3-14-12-13-2-14-10-14-9-13-7-14-5-14-13-14-6-13-14-14-8-14-11-13-6-14-7-14-13-13-17-14-17-14-13-14-9-13-20-14-7-14-10-13-21-14-10-14-22-13-11-14-18-14-10-14-16-13-12-14-16-14-12-13-10-14-11-14-10-13-5-14-1-14 11-14 8-13 0-14-3-14-6-13-3-14-6-14 14-13 18-14 28-14 26-14 17-13 23-14 26-14 19-13 30-14 27-14 25-13 33-14 28-14 31-14 21-13 37-14 13-14 16-13 5-14 9-14 14-13 5-14 12-14 17-14 2-13-1-14 3-14 0-13 9-14-3-14-2-13 3-14-3-14-3-14 0-13 2-14 0-14-2-13-1-14-1-14 0-13 0-14 1-14-1-14 3-13 1-14-1-14-3-13-1-14-1-14 2-13 0-14 4-14-2-14 2-13-2-14-5-14 1-13 0-14 1-14 0-13-1-14-4-14 3-14 4-13-5-14 0-14-5-13 0-14-1-14 3-13 6-14-4-14 1-14 0-13-8-14 2-14 2-13 1-14 0z" fill="#a870e0" fill-opacity="0.45"/>
<path transform="scale(.1)" d="M582 3462l14 2 13 2 14 1 14 4 13 1 14 0 14 0 14 2 13 0 14 0 14-7 13 3 14 1 14 1 13 7 14-1 14-1 14 1 13 1 14 1 14-4 13 6 14-1 14 5 13 1 14 0 14-1 14 0 13 1 14 1 14 2 13-1 14 4 14-2 13 0 14 2 14 1 14 0 13-3 14 2 14 2 13 1 14 3 14 2 13 0 14-5 14 7 14 0 13-4 14 0 14-5 13 2 14-3 14-3 13-7 14-8 14-19 14-11 13-14 14-18 14-11 13-20 14-19 14-30 13-36 14-43 14-33 14-35 13-34 14-44 14-35 13-37 14-31 14-43 13-33 14-39 14-37 14-36 13-34 14-38 14-17 13-24 14-15 14-21 13-16 14-9 14 2 14 9 13 19 14 13 14 12 13 18 14 18 14 25 13 26 14 23 14 23 14 25 13 23 14 28 14 21 13 30 14 22 14 28 13 22 14 24 14 25 14 19 13 23 14 19 14 22 13 15 14 17 14 21 13 24 14 13 14 17 14 9 13 10 14 6 14 8 13 14 14 9 14 18 13 7 14 5 14 1 14 9 13 4 14 5 14 2 13 2 14 9 14 3 13-4 14 4 14 3 14 2 13 1 14 3 14-1 13 2 14-1 14-3 13 7 14-3 14-3 14 0 13 9 14-1 14 2 13 0 14 0 14-10 13 0 14-7 14 3 14 9 13 5 14-7 14 5 13 7 14-1 14-2 13 5 14-1 14 11 14-8 13 1 14 8 14 4 13 4 14 2 14 4 13 3 14 0 14 2 14 3 13-5 14 6 14 3 13 1 14-4 14 1 13 2 14-1 14 6 14 0 13 3 14 2 14-2 13 7 14 0 14-1 13 3 14-3 14 5 14 3 13 1 14-8 0 70-14-10-13 0-14 0-14 2-14-4-13 0-14-3-14-1-13 3-14-4-14 0-13 1-14-2-14 3-14-3-13-1-14 0-14-6-13-1-14 0-14 3-13-6-14 1-14-1-14-2-13-1-14 0-14-2-13 1-14 0-14 3-13-2-14-10-14 5-14-4-13 1-14-5-14-5-13 3-14 2-14-7-13 4-14 8-14 3-14-6-13 0-14-9-14 0-13 0-14 1-14-1-13 6-14-1-14-4-14-5-13 6-14-4-14-3-13 1-14-2-14 1-13-1-14 0-14 2-14 0-13-8-14-3-14 1-13-4-14-4-14-2-13-3-14 2-14-6-14-5-13-6-14 0-14-9-13-3-14-10-14-10-13-8-14-8-14-6-14-13-13-9-14-12-14-14-13-17-14-11-14-13-13-12-14-19-14-17-14-18-13-19-14-14-14-20-13-12-14-21-14-14-13-19-14-16-14-19-14-19-13-15-14-17-14-17-13-11-14-10-14-10-13-4-14-12-14-3-14 5-13 16-14 10-14 17-13 8-14 24-14 15-13 28-14 27-14 26-14 24-13 29-14 21-14 30-13 25-14 27-14 19-13 27-14 27-14 28-14 20-13 26-14 20-14 16-13 4-14 14-14 5-13 10-14 13-14 5-14 8-13 4-14 2-14 1-13 6-14-1-14 0-13-5-14 0-14 5-14-6-13-1-14 0-14 2-13 0-14 1-14 0-13-3-14-1-14 0-14 0-13 0-14-3-14 2-13-1-14 0-14 0-13 0-14-1-14-2-14-1-13-1-14 4-14-2-13 4-14-4-14 0-13-1-14 0-14-2-14-1-13 5-14 0-14-1-13 2-14-7-14-1-13-1-14 1-14-1-14-1-13-1-14 2-14 1-13 0-14 1z" fill="#c058d8" fill-opacity="0.45"/>
<path transform="scale(.1)" d="M582 3489l14-1 13-4 14 0 14 9 13-5 14 5 14-2 14-1 13 4 14 0 14 1 13 0 14-2 14-4 13 2 14 2 14 5 14 1 13-2 14 0 14 2 13-2 14-2 14 3 13 4 14-1 14 0 14-5 13 5 14 0 14 2 13 1 14-2 14-3 13 4 14 0 14 0 14 4 13-5 14 3 14-1 13-1 14 5 14-5 13 4 14 1 14-2 14 2 13-5 14 0 14 5 13-3 14 3 14-2 13-7 14 4 14 3 14-5 13-2 14 4 14-8 13 9 14-8 14-2 13 4 14-2 14-7 14 8 13 0 14-6 14-17 13-11 14-13 14-19 13-11 14-16 14-18 14-16 13-14 14-19 14-16 13-17 14-17 14-13 13-21 14-6 14-16 14-11 13-21 14-7 14-16 13-11 14-5 14 1 13-12 14 5 14-4 14-6 13-2 14-11 14 11 13 4 14 7 14 7 13 9 14 9 14 8 14 14 13 12 14 15 14 13 13 16 14 15 14 13 13 12 14 18 14 14 14 14 13 15 14 13 14 14 13 15 14 11 14 5 13-1 14 17 14 0 14 11 13 10 14 4 14 6 13 6 14 3 14 3 13-3 14 5 14 4 14 0 13 6 14 1 14 3 13 0 14 0 14 2 13-8 14 4 14 0 14-6 13 6 14 1 14-2 13-4 14 4 14 0 13 4 14 1 14-2 14 1 13 1 14 0 14-4 13-9 14-3 14 14 13-7 14 10 14-4 14 0 13 2 14 0 14 0 13 1 14 0 14 2 13-1 14-4 14 5 14-1 13 1 14 0 14-3 13 1 14 3 14 0 13-1 14-4 14 3 14-4 13 2 14 1 14 1 13 2 14 2 14-2 13-6 14 7 14 1 14-3 13 3 14-1 0 44-14-1-13 3-14-3-14 1-14 6-13-6-14-2-14 1-13 3-14 1-14 0-13 2-14-4-14 2-14-3-13-2-14 0-14 3-13 0-14-2-14-1-13 1-14-1-14 5-14-4-13-1-14 1-14 0-13 1-14 0-14 0-13 1-14 0-14-4-14 9-13-6-14 12-14-3-13-8-14-4-14 0-13 1-14 0-14-1-14 0-13 3-14 0-14 4-13-4-14-2-14 1-13 5-14-6-14 0-14 4-13-7-14 1-14-1-13 0-14 2-14-2-13 0-14-3-14-1-14 1-13-7-14-2-14-2-13 2-14-2-14-6-13-2-14-2-14-12-14 4-13-13-14-7-14-6-13-5-14-10-14-11-13-9-14-10-14-9-14-7-13-12-14-12-14-9-13-9-14-11-14-10-13-9-14-7-14-10-14-9-13-7-14-4-14-1-13-4-14 7-14-10-13 4-14 2-14 3-14 13-13-4-14 9-14 4-13 3-14 3-14 15-13 3-14 11-14 7-14 16-13 4-14 14-14 10-13 11-14 11-14 9-13 14-14 11-14 9-14 10-13 14-14 6-14 12-13 14-14 0-14 4-13 1-14 8-14-6-14 0-13 4-14 0-14-6-13 8-14-6-14 5-13 0-14-4-14 4-14 4-13-5-14 0-14 3-13-1-14 5-14-1-13-4-14 1-14-3-14 0-13 3-14-5-14 4-13-1-14-2-14 2-13-5-14 3-14 0-14-2-13 3-14-3-14-2-13 0-14 1-14-1-13 5-14-5-14-1-14-2-13 3-14 3-14-3-13-3-14 2-14-1-13-2-14 0-14 3-14 2-13 1-14-5-14-2-13 0-14 0-14-1-13 3-14-1-14-3-14 4-13-5-14 8-14-1-13-4-14-1z" fill="#ffffff" fill-opacity="0.45"/>
<path transform="scale(.1)" d="M582 3471l14 6 13-2 14 3 14-2 13-3 14-2 14 8 14 2 13 1 14-2 14 2 13 0 14-1 14 2 13 0 14-2 14 4 14 1 13-2 14 2 14 2 13-2 14 3 14 1 13-4 14-1 14 4 14 1 13-3 14 5 14 2 13 0 14 1 14 0 13-2 14-3 14 4 14-3 13 5 14 3 14-4 13 2 14 4 14-5 13 5 14 2 14-1 14 2 13-4 14 2 14-2 13 0 14 0 14-3 13-4 14-7 14-3 14-2 13-8 14-16 14-12 13-18 14-14 14-16 13-16 14-12 14-7 14-16 13-6 14-6 14-11 13-10 14-10 14 1 13-4 14-3 14-1 14-7 13 6 14 6 14 8 13 8 14 2 14 7 13 3 14 7 14-1 14-3 13 17 14 3 14 2 13 2 14 1 14 1 13 0 14 4 14-2 14 7 13 2 14 5 14 2 13 5 14 2 14 7 13-3 14 8 14 2 14 4 13 4 14 2 14 1 13 3 14 3 14 1 13 0 14 1 14 1 14 2 13 6 14 0 14-1 13 0 14 7 14 0 13 4 14-1 14 4 14-7 13 0 14-5 14 9 13 5 14 5 14-9 13 6 14-3 14 4 14 6 13 0 14 2 14 1 13-1 14-3 14 8 13 1 14-1 14 1 14 2 13-2 14 1 14 0 13 1 14 4 14-3 13 0 14 5 14-2 14 2 13 0 14 0 14 1 13-3 14 4 14 0 13-2 14 0 14-7 14-1 13 3 14 4 14 1 13 6 14-3 14 1 13-4 14-2 14 2 14 7 13-1 14 3 14 0 13 1 14-3 14 1 13-1 14 0 14 2 14 1 13 2 14 1 14-1 13 2 14 0 14 0 13-5 14 4 14 5 14 0 13-1 14-6 0 62-14-6-13-2-14 0-14 3-14 3-13-5-14 0-14-1-13 1-14-2-14 0-13 2-14 0-14 1-14-1-13-1-14 0-14-3-13 0-14 0-14 2-13-2-14 6-14 1-14-2-13-4-14 0-14-4-13 5-14 1-14 2-13 2-14-2-14-6-14 0-13-3-14-1-14 3-13-3-14 0-14 0-13-1-14 1-14-2-14 4-13-1-14-3-14 3-13 0-14-1-14 0-13-4-14 1-14-2-14-2-13-1-14 6-14-4-13-3-14 0-14 0-13-2-14 5-14 1-14-4-13 4-14-10-14 3-13 3-14 6-14-7-13-2-14-7-14 1-14-3-13 2-14-3-14 4-13-2-14-3-14-2-13 4-14-1-14-1-14-2-13-4-14-3-14-1-13-2-14-2-14-3-13-1-14 0-14-3-14 3-13-8-14 0-14-4-13-2-14-4-14-2-13-3-14 3-14-4-14 0-13-2-14-2-14-1-13-2-14-2-14-1-13 9-14-9-14-7-14 1-13-4-14-1-14-8-13-3-14-3-14-5-13 0-14-7-14 3-14 2-13 1-14 8-14 3-13 5-14 5-14 10-13 10-14 0-14 12-14 8-13 8-14 9-14 9-13 6-14 11-14 9-13 8-14 7-14 0-14-3-13-1-14 0-14 2-13 3-14 0-14 2-13-5-14 1-14-1-14 0-13 4-14-6-14 4-13 1-14-5-14 1-13 5-14-4-14 3-14-4-13-3-14 0-14-1-13 0-14 1-14 3-13-3-14 0-14 3-14-2-13-5-14 1-14 1-13-2-14 1-14 1-13-3-14 0-14 3-14-3-13-1-14 2-14-2-13-2-14 1-14-2-13 0-14 1-14 7-14-4-13-3-14-3-14 3-13-3-14 5z" fill="#d38ef0" fill-opacity="0.45"/>
<path transform="scale(.1)" d="M582 3486l14-1 13-2 14 3 14-1 13 0 14-2 14-1 14 5 13-2 14 2 14 2 13 0 14-7 14 6 13-2 14 1 14-2 14 5 13-6 14 6 14-3 13 5 14-5 14-3 13-1 14-3 14-5 14-12 13-11 14 0 14 1 13 7 14 15 14 11 13 3 14 4 14 1 14-1 13-3 14 1 14 3 13 3 14-1 14-3 13 0 14 4 14-1 14 6 13-2 14 2 14 2 13-5 14 4 14-3 13-3 14 0 14-2 14 3 13 1 14-3 14-1 13 0 14 1 14-1 13-2 14-1 14 2 14-3 13 2 14 0 14-7 13-1 14 4 14-4 13 3 14-8 14 0 14-1 13 0 14 7 14-1 13-2 14-4 14 4 13-2 14 1 14 0 14-3 13-3 14 2 14-5 13-3 14 2 14-8 13 2 14-3 14 1 14-3 13-8 14 0 14 2 13-8 14 0 14-1 13-7 14 0 14-2 14-3 13-1 14-6 14-1 13-5 14-10 14 1 13-4 14-1 14-5 14-6 13-2 14-5 14-2 13 1 14 0 14-2 13 6 14-7 14 6 14-2 13-1 14 3 14 1 13 3 14 0 14 3 13 3 14 0 14 6 14-2 13 2 14 8 14-2 13 4 14 1 14 2 13 0 14 3 14 3 14-1 13-3 14 5 14 3 13 2 14 0 14 2 13 1 14 1 14 1 14 0 13 2 14 5 14-8 13 4 14 9 14 1 13-2 14 3 14-5 14 5 13 6 14 2 14-4 13 7 14-3 14 5 13-5 14-5 14 9 14 5 13-7 14 1 14 2 13-4 14 10 14-6 13 4 14 5 14-2 14 3 13 3 14-7 14 6 13 3 14 0 14-3 13 5 14-6 14 8 14-2 13-6 14 5 0 53-14 4-13-7-14-3-14 6-14-7-13 3-14-4-14-1-13 0-14 5-14-8-13 2-14 1-14-4-14 3-13 3-14-7-14 7-13-5-14 1-14-1-13-7-14 3-14 7-14-7-13-5-14 3-14-4-13 4-14-4-14-1-13 2-14 3-14-8-14 0-13-4-14-2-14 5-13 1-14-9-14 2-13-1-14-3-14-1-14-2-13-1-14-1-14-3-13-1-14 0-14 2-13-4-14-3-14 0-14 1-13-2-14-1-14 0-13 1-14-5-14 4-13-2-14-7-14 2-14-4-13-2-14-1-14-4-13-2-14-2-14 2-13-1-14-2-14 5-14-7-13 6-14-2-14 0-13 1-14 1-14-1-13 5-14 0-14 2-14 6-13 2-14 8-14-3-13 2-14 5-14 1-13 5-14 4-14 4-14 6-13-2-14 2-14 4-13-4-14 6-14 3-13-3-14 1-14 3-14 1-13 6-14-4-14 5-13 1-14-1-14 3-13-2-14-1-14 1-14 2-13-1-14 4-14-2-13-1-14 0-14 8-13 1-14 0-14 1-14-6-13 3-14-2-14 5-13 0-14-5-14 1-13 2-14-1-14 3-14 0-13-1-14 0-14 2-13 1-14 0-14-1-13 1-14 5-14-2-14 1-13-1-14-1-14 4-13-4-14 3-14 1-13-3-14 4-14-3-14 3-13-2-14-4-14-2-13 1-14 2-14 0-13-4-14-2-14 0-14 2-13-6-14-4-14-7-13-15-14-6-14 7-13 10-14 11-14 9-14 5-13-2-14-3-14-5-13 4-14-3-14 5-13-6-14 4-14-2-14 0-13-2-14 5-14-6-13 0-14 1-14 1-13-2-14 4-14-2-14-2-13 0-14-1-14 2-13-2-14-1z" fill="#f0b070" fill-opacity="0.4"/>
<path transform="scale(.1)" d="M582 3482l14-1 13 8 14 1 14 1 13-1 14 3 14 0 14-1 13 1 14-5 14 1 13 1 14 0 14 6 13-3 14 3 14 0 14 2 13-1 14 2 14-2 13 2 14-5 14 1 13-3 14 0 14 4 14-6 13 11 14-3 14 3 13 4 14-11 14 11 13 0 14-2 14 3 14 1 13-1 14 1 14-1 13 0 14-2 14 3 13 2 14 1 14 0 14-1 13 0 14-3 14 4 13-2 14-3 14-4 13-3 14 1 14 4 14 2 13-1 14-4 14-2 13 1 14 4 14-3 13 0 14 0 14-3 14-6 13 7 14-4 14 2 13-3 14 0 14-6 13 2 14 5 14-5 14 3 13-6 14 3 14-3 13-2 14-7 14-5 13-1 14-2 14-10 14 4 13-2 14-5 14-2 13-6 14-1 14-2 13-6 14-3 14-5 14 2 13-14 14-4 14 3 13-4 14 1 14-8 13 3 14-1 14-6 14 3 13-5 14 1 14 1 13 4 14 1 14-1 13-1 14 4 14 4 14 0 13 5 14-1 14 4 13 2 14 6 14 0 13 2 14 0 14 2 14 2 13 2 14 4 14-3 13 3 14 3 14 2 13 2 14 1 14-2 14 0 13 1 14 1 14-9 13 0 14 9 14 1 13-6 14-5 14 8 14 0 13-6 14-5 14 4 13-6 14 9 14-4 13-2 14 0 14-3 14-5 13-3 14-3 14-5 13-8 14 3 14-3 13-1 14-3 14-1 14-9 13 4 14-4 14 9 13-1 14-1 14 5 13-8 14 7 14 6 14 4 13-5 14 10 14 7 13 3 14-1 14 2 13 6 14 11 14 2 14-4 13 5 14 1 14 3 13 0 14 4 14 0 13 2 14-4 14 8 14 0 13-1 14 2 0 63-14 0-13-4-14-2-14 4-14-6-13-1-14-3-14 0-13-2-14 0-14-2-13 1-14-6-14-1-14 6-13 0-14-4-14-7-13-4-14 0-14 3-13-11-14-2-14-2-14 3-13-10-14 5-14-1-13-1-14 8-14-4-13 4-14-8-14-1-14-1-13 3-14 3-14 8-13-3-14 1-14 2-13 4-14 0-14 2-14 4-13 2-14-3-14 10-13-5-14 5-14-3-13-4-14 2-14 9-14-4-13-3-14 2-14 9-13 2-14-9-14 1-13-1-14-2-14-5-14-1-13 0-14 0-14 1-13 0-14-5-14 1-13 1-14-1-14-1-14-2-13-2-14-4-14 1-13-2-14-1-14-4-13 0-14-5-14-1-14 1-13-2-14-1-14 1-13 4-14 1-14 0-13-4-14 2-14-5-14 1-13 7-14-3-14 7-13 2-14 7-14 1-13-6-14 6-14 1-14 3-13-1-14 3-14 4-13-1-14 4-14 1-13 2-14 9-14-4-14 3-13 4-14 0-14-1-13 3-14 1-14 5-13-4-14 3-14-3-14 5-13 3-14-4-14 1-13-2-14 3-14-2-13 7-14-4-14-2-14 1-13 1-14-1-14 4-13 2-14-1-14-2-13-1-14 4-14 4-14 3-13-2-14-3-14-2-13 0-14 4-14-3-13-1-14-1-14-1-14 0-13 2-14 1-14-2-13 0-14-2-14 1-13-2-14 0-14 2-14-2-13-1-14 9-14-10-13 3-14 2-14-4-13 10-14-6-14 3-14-1-13-3-14 0-14-5-13 1-14-3-14 2-13-2-14 1-14 0-14 2-13-3-14 4-14 0-13 0-14 0-14-4-13 0-14-2-14-1-14 2-13-1-14 0-14 1-13 6-14-1z" fill="#8ee68e" fill-opacity="0.45"/>
<path transform="scale(.1)" d="M582 3485l14-4 13-2 14 5 14 3 13-8 14 8 14 0 14-3 13-1 14-1 14 4 13 0 14-3 14 6 13 4 14 1 14-1 14-1 13-5 14 3 14 0 13 1 14 4 14-2 13-2 14-1 14 3 14 4 13-1 14-1 14 0 13 4 14 1 14 3 13 0 14 1 14-3 14-2 13 5 14-1 14 3 13-1 14 1 14 1 13-3 14-1 14 1 14 4 13 2 14-3 14 1 13-1 14-2 14-1 13 1 14 3 14-2 14-2 13 1 14-4 14-2 13 2 14 5 14-7 13 2 14-2 14 3 14-8 13 4 14-1 14 3 13-2 14 1 14-6 13 1 14-9 14 11 14-2 13-1 14-4 14-4 13 4 14-2 14 0 13-3 14-2 14-2 14 0 13-1 14-3 14-1 13 1 14-7 14 0 13 2 14-2 14 0 14-2 13-6 14 3 14-2 13-4 14 3 14-7 13 0 14 5 14-3 14 1 13-3 14-4 14 7 13 5 14 0 14 0 13 1 14 0 14-1 14 0 13-6 14 4 14-4 13 1 14 4 14 2 13-3 14 0 14 0 14-1 13 1 14-7 14 8 13-2 14-3 14-1 13-1 14 0 14-6 14-3 13-2 14-9 14 3 13-5 14 2 14-5 13-8 14-1 14 1 14-4 13-4 14-1 14-9 13-12 14-8 14-1 13-4 14 1 14 1 14 6 13 3 14 4 14 1 13 8 14 0 14 8 13 0 14 2 14 2 14-1 13 13 14-4 14 11 13 0 14-6 14 12 13 5 14 3 14 0 14 2 13-1 14 4 14-8 13 9 14-2 14 4 13-2 14 10 14 1 14-3 13 7 14-3 14 1 13 4 14 3 14-4 13 4 14 6 14-2 14 2 13 2 14 3 0 46-14 0-13 0-14-1-14-4-14 3-13 0-14-6-14 0-13 1-14-1-14-5-13 4-14-6-14-1-14 6-13-4-14 1-14-4-13 5-14-10-14 2-13-3-14-2-14-2-14 0-13-1-14 6-14-11-13-4-14 4-14-9-13 6-14-6-14-3-14-4-13-6-14 1-14-6-13 0-14-4-14-3-13-4-14-1-14-5-14 1-13 2-14 12-14 5-13 2-14 2-14 7-13 1-14 1-14 6-14 4-13-3-14 1-14 7-13 0-14 8-14-4-13 3-14 3-14 0-14 3-13 1-14 0-14-2-13-1-14 8-14-6-13 2-14 0-14 0-14 1-13-2-14 3-14 3-13 2-14-4-14 5-13-7-14 0-14-2-14-1-13 0-14 0-14-1-13 4-14 6-14-5-13-3-14 0-14-3-14 4-13 1-14-3-14 4-13-2-14 1-14 5-13-4-14 1-14 2-14 0-13 3-14 3-14-4-13 3-14 1-14-1-13 1-14 2-14 1-14 0-13 0-14 2-14 0-13 6-14-2-14-2-13 2-14 0-14 12-14-6-13 3-14-3-14 3-13 0-14 4-14 0-13 5-14-7-14 3-14-1-13 2-14-5-14 4-13 2-14-1-14-3-13 2-14-1-14-2-14 4-13 2-14-1-14-2-13 0-14 1-14-3-13 0-14 3-14 1-14-2-13-3-14-1-14 0-13-1-14 1-14-1-13 4-14-3-14-3-14 0-13-2-14 2-14 1-13 2-14 0-14-2-13-2-14 3-14 2-14-2-13-3-14-2-14 2-13 0-14 0-14 2-13-5-14-2-14-2-14 0-13 3-14 4-14-3-13-1-14 2-14-1-13-2-14-3-14-1-14 6-13-8-14 2-14 3-13-2-14-5z" fill="#f09090" fill-opacity="0.4"/>
<path transform="scale(.1)" d="M582 3435l14 9 13 6 14 0 14 7 13 1 14 4 14 0 14 10 13 2 14 2 14 3 13-4 14 0 14 9 13 0 14 2 14 3 14-3 13-3 14 0 14 8 13 3 14-5 14-5 13 2 14 4 14 5 14-3 13 6 14 1 14-3 13 2 14 2 14 3 13 0 14-3 14 1 14 0 13 3 14 3 14 0 13-6 14 8 14-1 13-3 14 0 14 4 14-4 13 0 14 6 14 2 13-1 14-7 14 1 13 7 14 0 14-1 14-1 13-1 14 1 14-8 13-2 14 5 14-1 13 5 14-1 14 3 14-4 13 3 14-4 14-2 13 5 14 1 14-5 13 3 14 0 14 1 14-1 13 3 14 0 14-2 13 1 14 0 14-7 13 4 14-1 14 5 14 0 13-1 14 1 14-1 13-10 14 11 14-2 13-2 14-11 14 10 14 2 13-6 14 9 14-5 13 2 14 2 14-3 13 4 14-4 14 1 14 0 13-3 14 5 14 0 13 0 14 1 14-3 13 1 14 0 14-1 14 1 13-2 14-8 14 4 13-3 14 1 14-3 13 6 14 6 14-4 14 2 13-1 14-1 14 1 13-1 14-3 14-4 13-10 14 10 14 7 14-5 13-2 14 5 14 1 13 1 14 0 14-4 13-10 14 5 14-4 14 6 13-2 14-5 14-4 13 1 14 0 14 1 13-3 14-6 14 10 14-2 13 5 14 0 14 0 13 1 14 2 14-5 13 2 14-3 14 7 14 1 13 4 14-1 14-7 13-3 14 7 14-2 13 5 14-1 14 0 14 3 13-3 14 1 14-1 13-7 14 1 14 9 13-6 14 2 14-4 14 0 13 4 14 0 14 2 13-3 14 3 14-4 13 2 14 3 14 1 14-4 13 4 14-1 0 40-14-2-13 5-14-4-14 1-14 2-13 2-14-3-14 2-13-3-14 2-14 1-13 3-14 0-14-3-14 1-13-5-14 8-14 1-13-7-14 0-14 1-13-4-14 4-14 0-14-1-13 4-14-2-14 7-13-3-14-7-14-2-13 3-14-1-14 5-14-4-13 0-14-6-14 0-13 1-14-2-14-2-13 3-14-3-14 8-14-6-13-1-14 2-14 3-13 3-14-2-14-2-13 0-14 8-14-2-14 7-13-7-14-2-14 2-13 3-14 2-14 5-13-1-14-4-14 6-14 9-13-9-14-4-14-2-13-1-14 1-14-1-13-1-14 2-14-4-14 7-13 5-14-3-14 1-13-3-14 4-14-8-13-1-14 1-14-1-14 0-13 1-14-2-14 0-13 0-14 1-14 5-13-3-14 0-14 1-14-4-13 4-14-3-14 2-13 2-14-4-14 8-13-6-14 2-14 9-14-10-13-2-14-1-14 10-13-9-14-1-14 0-13 0-14 0-14 4-14-1-13 4-14-6-14 0-13 1-14-2-14 1-13 2-14 0-14 1-14 0-13 2-14-4-14 0-13 6-14-3-14-3-13 3-14-4-14 3-14-1-13 4-14 0-14 4-13-1-14-7-14 1-13-1-14-1-14-1-14 0-13 6-14 1-14-6-13-1-14 1-14 6-13-2-14-5-14 2-14 0-13-5-14-2-14 6-13-6-14-2-14 2-13 1-14 0-14-1-14-4-13-1-14 1-14 1-13 0-14-4-14 0-13 5-14-4-14 3-14 2-13 0-14-5-14-6-13 2-14 5-14-2-13-4-14-5-14 0-14 0-13-2-14 7-14-3-13-6-14 0-14-3-13-5-14 2-14-6-14-2-13-6-14 0-14-6-13-1-14 4z" fill="#9a9af0" fill-opacity="0.5"/>
<path transform="scale(.1)" d="M582 3465l14 3 13 16 14 0 14-8 13 22 14 5 14 9 14 15 13-13 14 6 14-23 13 20 14 3 14 10 13-2 14 12 14-8 14-3 13 5 14-8 14-19 13 11 14-27 14 19 13-11 14 18 14 10 14-4 13-9 14 8 14 12 13 9 14-13 14 21 13-6 14 4 14-18 14 18 13-11 14-9 14 6 13-1 14-15 14 13 13-11 14-12 14 19 14 18 13-7 14-10 14-29 13 10 14-2 14-10 13 2 14-18 14-5 14-9 13-19 14 15 14-39 13-9 14-27 14-45 13-24 14-22 14-75 14-43 13-27 14-28 14-41 13-37 14-63 14-14 13-43 14-42 14-26 14-34 13-34 14-19 14-40 13 5 14-28 14 0 13-12 14 12 14 17 14 6 13 9 14 14 14 22 13 11 14 14 14 61 13 7 14-17 14 27 14 23 13 30 14 41 14 33 13 15 14 26 14 27 13 23 14 28 14 0 14 38 13 11 14 14 14 26 13 11 14 24 14 38 13 10 14 14 14 0 14 14 13-7 14 32 14 25 13 10 14 9 14 4 13 0 14-7 14 37 14 0 13 1 14 19 14-18 13-4 14-3 14 13 13-8 14-17 14 26 14 0 13-4 14-2 14 8 13 11 14-3 14-4 13 9 14-4 14-12 14-2 13-19 14-1 14-35 13 33 14-9 14 2 13-7 14-27 14 26 14 5 13 16 14 4 14-26 13 2 14 14 14 0 13 6 14-7 14 32 14 1 13 24 14-1 14-32 13 46 14-20 14 12 13 13 14 11 14-3 14-8 13-11 14 7 14-20 13 10 14 6 14-10 13-2 14 2 14 14 14-6 13 6 14 5 14-9 13 16 14-1 14-8 13 24 14-17 14 14 14-19 13 12 14-6" fill="none" stroke="#8c1444" stroke-width="14.5" stroke-linejoin="round"/>
<path transform="scale(.1)" d="M582 3493l14-23 13 6 14 13 14 1 13 21 14-2 14-15 14 1 13-4 14 17 14-1 13 9 14 28 14-26 13 2 14 3 14-11 14-21 13-3 14 11 14 17 13-5 14 2 14-21 13-5 14-6 14-7 14 14 13 18 14 20 14-3 13 15 14-26 14 9 13 0 14-15 14 18 14-8 13-11 14-11 14-5 13 25 14 21 14-4 13 34 14-42 14 6 14 18 13-43 14-4 14 32 13-8 14-8 14 6 13 9 14-28 14-17 14 0 13-26 14-2 14-30 13 5 14-24 14-20 13-36 14-59 14-12 14-23 13-35 14-20 14-45 13-32 14-23 14-31 13-26 14-22 14-42 14-47 13-31 14-42 14-26 13 12 14 6 14 6 13-20 14-10 14-13 14-8 13 11 14-11 14 29 13 18 14 37 14 2 13 33 14 9 14 19 14 27 13 30 14 19 14 13 13 37 14 3 14 5 13 43 14 16 14 20 14 36 13-3 14 51 14 15 13 18 14 3 14-5 13 6 14 40 14-17 14 6 13 13 14 10 14 27 13 9 14-8 14 20 13-32 14-12 14 69 14-25 13 25 14 12 14-17 13 28 14-20 14-11 13 23 14 18 14-1 14 12 13-12 14 21 14-10 13 26 14-15 14 9 13 18 14-36 14-13 14-5 13-11 14 20 14 14 13-29 14-4 14-4 13 17 14 16 14 3 14-16 13 4 14 7 14-1 13 1 14 1 14-30 13 18 14 27 14-5 14-8 13 11 14 10 14 7 13-7 14 2 14-1 13-35 14 25 14-2 14-29 13 17 14-2 14-3 13 17 14 21 14 10 13-23 14 12 14-24 14-7 13 25 14-20 14 4 13-4 14 29 14 2 13 23 14 12 14 3 14-9 13 3 14-18" fill="none" stroke="#7b1a86" stroke-width="14.5" stroke-linejoin="round"/>
<path transform="scale(.1)" d="M582 3473l14 27 13-14 14 28 14-6 13-23 14 14 14 14 14-13 13 24 14 25 14-22 13 17 14-28 14-1 13 8 14-7 14 0 14-5 13-1 14-12 14 21 13-11 14 17 14 0 13-15 14 19 14-20 14 1 13 14 14-1 14 5 13 1 14 11 14-21 13-12 14-2 14-3 14 31 13 0 14-22 14-11 13-9 14 5 14-10 13 13 14 12 14 13 14 4 13 7 14 4 14-14 13 12 14-19 14 0 13-7 14-5 14-6 14-27 13 4 14-3 14-23 13-18 14-32 14-9 13-50 14-13 14-60 14-42 13-32 14-24 14-25 13-11 14-13 14-28 13-33 14-19 14-61 14-16 13-20 14 2 14-19 13 5 14 11 14-2 13 16 14-21 14-10 14-14 13 5 14 17 14 12 13 21 14 22 14 1 13 7 14 36 14-2 14 15 13 16 14 2 14 22 13-5 14 16 14 33 13 12 14 6 14 40 14 27 13 25 14 11 14 14 13 13 14-10 14 40 13 4 14 31 14-13 14 34 13-9 14 14 14 3 13 26 14-5 14 12 13-6 14 5 14 10 14 2 13 10 14-11 14 3 13-7 14 29 14 10 13-8 14-21 14 17 14 1 13 10 14-8 14-3 13-16 14 10 14 15 13 26 14 1 14-9 14 8 13-32 14-11 14 31 13-11 14-15 14-1 13 23 14 7 14 0 14 6 13 8 14-17 14 20 13 4 14-19 14 26 13-6 14-13 14-11 14 1 13 10 14 6 14-19 13 12 14-2 14-2 13 7 14 0 14 3 14 16 13 3 14 8 14 6 13-17 14 17 14-17 13 23 14 7 14-5 14-18 13 18 14 7 14-23 13 0 14 8 14-13 13-3 14 10 14-11 14 11 13-7 14-7" fill="none" stroke="#6a2aa6" stroke-width="14.5" stroke-linejoin="round"/>
<path transform="scale(.1)" d="M582 3501l14 15 13-23 14-9 14 13 13-8 14-13 14 7 14 2 13 13 14 21 14-33 13-17 14-3 14 10 13 29 14-6 14 10 14 5 13-17 14 6 14 5 13 13 14-9 14 11 13 14 14-12 14-17 14 22 13-26 14 3 14-8 13-9 14 32 14 14 13-8 14-6 14 11 14-30 13-1 14 3 14-9 13 7 14-9 14 25 13-23 14 20 14 14 14 2 13 16 14-3 14-7 13-11 14-21 14-1 13 17 14-8 14 1 14-5 13-18 14-8 14-7 13-22 14-5 14-28 13-35 14-39 14-49 14-8 13-28 14-27 14-27 13-11 14-20 14-23 13-5 14-35 14 9 14-21 13-2 14-13 14 0 13 11 14-21 14 11 13-9 14-30 14 1 14 7 13-8 14 10 14-19 13 10 14 15 14-4 13 10 14 4 14-5 14 13 13 0 14 15 14-16 13 14 14-4 14-1 13 6 14 6 14 0 14 14 13 15 14 19 14 13 13-11 14 22 14-11 13 22 14 28 14 12 14 24 13 9 14-13 14 23 13 3 14 0 14 34 13 1 14-11 14 14 14 5 13 24 14-6 14 9 13 12 14 13 14 21 13 13 14-5 14-8 14 11 13 5 14 1 14-1 13 1 14-20 14 2 13-10 14 17 14 12 14 18 13 18 14-14 14 11 13-12 14 22 14 3 13 7 14-10 14-6 14 9 13-8 14 13 14-24 13 18 14 15 14 18 13-11 14 2 14 3 14 3 13 3 14 6 14-26 13 0 14 2 14 10 13 22 14 5 14 3 14-9 13-2 14 2 14-12 13 2 14-7 14 1 13 21 14-1 14 0 14 8 13 7 14 0 14-1 13-25 14 5 14-18 13 10 14 16 14-7 14 11 13 10 14 3" fill="none" stroke="#2a2a9c" stroke-width="14.5" stroke-linejoin="round"/>
<path transform="scale(.1)" d="M582 3510l14-2 13 16 14-9 14-8 13 6 14-12 14 2 14 25 13-6 14 15 14-11 13-13 14 5 14-6 13 18 14 4 14-13 14 4 13-7 14 3 14-1 13-18 14 8 14 2 13-18 14 8 14-5 14 7 13-3 14 15 14-1 13 11 14 7 14-5 13 4 14 16 14-2 14-9 13 10 14-24 14 1 13 1 14-14 14-8 13 12 14-5 14 16 14-2 13-19 14 23 14 2 13 0 14 6 14-1 13 15 14-11 14 3 14-3 13-16 14 8 14-1 13-11 14 14 14-6 13 1 14-4 14 2 14-7 13 4 14-5 14-16 13-10 14-8 14-14 13-20 14-13 14-23 14-15 13-7 14-16 14-3 13-32 14 5 14-11 13-2 14-15 14-7 14-7 13-28 14-15 14 0 13-21 14 17 14-17 13-2 14 10 14-13 14 14 13-22 14 13 14-13 13 11 14 1 14 1 13 13 14-2 14-4 14 27 13-10 14 31 14 11 13 7 14 18 14 36 13-19 14 23 14 17 14 6 13 32 14 14 14 1 13 18 14 6 14-8 13-6 14 12 14 6 14 5 13 8 14 13 14 6 13 0 14 1 14 0 13 5 14 5 14-2 14-2 13 7 14 1 14 7 13-7 14-6 14 3 13 3 14 2 14 8 14-5 13-2 14-1 14-17 13 4 14-4 14 2 13-6 14 10 14-5 14-12 13 0 14 22 14-20 13 23 14 5 14 8 13-3 14-3 14-3 14-26 13 9 14 5 14-10 13 8 14 7 14 7 13-9 14 6 14-11 14 23 13-3 14-5 14 11 13 1 14-9 14 3 13 7 14-17 14-8 14 5 13 9 14-2 14-4 13 9 14-2 14-5 13-8 14 14 14 4 14-9 13 0 14-1" fill="none" stroke="#151515" stroke-width="14.5" stroke-linejoin="round"/>
<path transform="scale(.1)" d="M582 3501l14 0 13-10 14 18 14 8 13 2 14 1 14-16 14 29 13-18 14-4 14 10 13-6 14-11 14 0 13 18 14 4 14-7 14-9 13 0 14 4 14-13 13 15 14 2 14 7 13 4 14-6 14-23 14-11 13-2 14-5 14-2 13 24 14 13 14-7 13 1 14-7 14 9 14-3 13-2 14 3 14 2 13 8 14 5 14-2 13 7 14 0 14-6 14-2 13-8 14 5 14-4 13-5 14 6 14-1 13-3 14 8 14 6 14 8 13-12 14-9 14-3 13 2 14 11 14-17 13 6 14-5 14 10 14 9 13 5 14 9 14-17 13-6 14-15 14 1 13 1 14 10 14 0 14-11 13 1 14-7 14 15 13 10 14 1 14-4 13-7 14-7 14-7 14 5 13 3 14 9 14-12 13 8 14 5 14-20 13-11 14 9 14-5 14 3 13-3 14 3 14-7 13-17 14 10 14-5 13 0 14 6 14-11 14-9 13 3 14-10 14-8 13 5 14 13 14-1 13-1 14-18 14 0 14-9 13 3 14 4 14-19 13 1 14 7 14-16 13 4 14 5 14-3 14 14 13-9 14-7 14 17 13-1 14 1 14-11 13 6 14 1 14 6 14 10 13 0 14 5 14 5 13-5 14-15 14 3 13-6 14 9 14 11 14 11 13-2 14-6 14 2 13 2 14-3 14-6 13 5 14-5 14 5 14 6 13-2 14 5 14 5 13 4 14 10 14-10 13 18 14-9 14-16 14 13 13 3 14-7 14-1 13 10 14-3 14 7 13-1 14-18 14 23 14 4 13 6 14-4 14 0 13 4 14 5 14 7 13-12 14 0 14-4 14 21 13-8 14 0 14-5 13-3 14-6 14 3 13 7 14 1 14-7 14-9 13 15 14-10" fill="none" stroke="#e8903c" stroke-width="14.5" stroke-linejoin="round"/>
<path transform="scale(.1)" d="M582 3503l14 7 13-10 14 19 14-6 13-1 14-8 14-8 14-6 13 23 14-4 14 3 13 13 14-1 14-9 13-11 14 17 14-4 14 11 13-5 14 0 14-13 13 4 14-7 14 2 13 5 14 4 14 11 14 4 13-21 14 0 14-2 13-8 14 19 14-3 13 2 14-4 14 0 14 3 13-1 14-10 14 26 13-21 14 0 14 10 13-8 14-16 14 16 14-16 13 21 14 9 14 7 13-5 14-1 14-3 13-6 14 8 14-15 14 0 13-5 14-26 14-19 13-10 14-7 14-4 13-15 14-8 14-15 14 1 13-19 14 0 14-24 13 7 14-6 14 11 13 11 14-27 14 11 14-13 13 15 14 2 14-6 13 8 14 19 14-25 13 14 14-13 14 11 14 21 13-8 14 8 14 5 13-9 14 9 14 4 13 7 14 12 14-24 14 3 13 13 14 0 14 10 13 7 14-2 14 8 13-20 14 13 14 3 14 3 13 0 14-7 14 9 13 12 14 2 14-2 13-6 14-22 14 7 14-5 13 27 14 3 14-10 13 2 14 13 14 2 13-4 14 2 14 1 14-13 13 9 14 7 14 4 13 16 14-9 14 3 13 6 14-7 14 6 14 2 13-5 14-4 14 6 13 1 14 8 14-13 13-2 14-13 14 9 14-3 13-1 14 16 14-9 13-5 14 15 14-19 13 15 14 0 14-7 14 13 13 2 14-1 14-8 13 7 14-6 14 14 13 16 14-3 14 13 14-12 13-3 14-18 14-2 13-2 14 13 14 0 13 3 14 7 14 2 14-7 13-14 14 17 14 1 13-7 14 8 14-13 13 3 14 5 14-15 14-5 13 15 14-4 14 10 13-1 14 5 14-4 13-16 14 3 14-3 14-1 13 1 14-2" fill="none" stroke="#b845e6" stroke-width="14.5" stroke-linejoin="round"/>
<path transform="scale(.1)" d="M582 3533l14-7 13 2 14-9 14 4 13-11 14-9 14-4 14 11 13 7 14-2 14 11 13-6 14-16 14 19 13-7 14 6 14-3 14 7 13-7 14-3 14-6 13-2 14 1 14-1 13 4 14 14 14-3 14 10 13-6 14 0 14 13 13-2 14 1 14-8 13-15 14 9 14-5 14 4 13-10 14 5 14 0 13-2 14 4 14 4 13 0 14 2 14-2 14-8 13 18 14-4 14-4 13-12 14-11 14-4 13 13 14 9 14 4 14 9 13 1 14-4 14 7 13 0 14-19 14-20 13 11 14-9 14 23 14 5 13 6 14-7 14-18 13 17 14-22 14 15 13-4 14-12 14 4 14 7 13 11 14-14 14 5 13-18 14 7 14 3 13-4 14-11 14 2 14-24 13 5 14-9 14 11 13 6 14-11 14 5 13-7 14-26 14 6 14-1 13-8 14 15 14-9 13 10 14-14 14 3 13 4 14 0 14 2 14-5 13-6 14 13 14-5 13 2 14 4 14-2 13-18 14 26 14-4 14 6 13-4 14 6 14-4 13-3 14 11 14 5 13-13 14 11 14-6 14-11 13 22 14 1 14 6 13 3 14-7 14-17 13 8 14 9 14 24 14-11 13 3 14 4 14-7 13 1 14-21 14 6 13-6 14-5 14 3 14 12 13 4 14 2 14-15 13-1 14 2 14 3 13-8 14-9 14 16 14-10 13 5 14-5 14-14 13-4 14 6 14-4 13-14 14 18 14-4 14-7 13 7 14 7 14-3 13-4 14-6 14-10 13 6 14-10 14 17 14 0 13 17 14-3 14-4 13-4 14 9 14 7 13 7 14 10 14-4 14-1 13-2 14-2 14 11 13-6 14 10 14 4 13-5 14-5 14 5 14 5 13 6 14 3" fill="none" stroke="#44c444" stroke-width="14.5" stroke-linejoin="round"/>
<path transform="scale(.1)" d="M582 3532l14-3 13 3 14-16 14-18 13 2 14 0 14 4 14 7 13 2 14 11 14 3 13 6 14-16 14 6 13-2 14-12 14-1 14 12 13-9 14 8 14 6 13-8 14 11 14-4 13-6 14 4 14-10 14 9 13 13 14-4 14-13 13 0 14-12 14 6 13 10 14-3 14 0 14 10 13-6 14-7 14 11 13-7 14 2 14 9 13-6 14-1 14-14 14 8 13 12 14 8 14-10 13 1 14 8 14-17 13 11 14-7 14 11 14 13 13-7 14 8 14-16 13 3 14-12 14-1 13-2 14-6 14 5 14 3 13 6 14-4 14 4 13-22 14 7 14-8 13-4 14 9 14 8 14 4 13 3 14-6 14-6 13-11 14-5 14-1 13-4 14 7 14-2 14 3 13-3 14 5 14 5 13-17 14-4 14-2 13 7 14 8 14-4 14 6 13-6 14-16 14-1 13 0 14 10 14 0 13-4 14-3 14-8 14 8 13-10 14 5 14-6 13 4 14 9 14 13 13 3 14-3 14-1 14-14 13 8 14 5 14 0 13 6 14-2 14-2 13-5 14-9 14 7 14-10 13-2 14 15 14 2 13-3 14 0 14-14 13 11 14 4 14 0 14 8 13-11 14-7 14-10 13 0 14-9 14 4 13 7 14-23 14 20 14-7 13-19 14 13 14-17 13-3 14-7 14-14 13-5 14-7 14 7 14 2 13-3 14 13 14 2 13 14 14 3 14-12 13 1 14-3 14 12 14 1 13 17 14 6 14 3 13-6 14 8 14-5 13 14 14 12 14-4 14 3 13-7 14 2 14-3 13 15 14-14 14-6 13 8 14 2 14 12 14-6 13 2 14-1 14 11 13 9 14 15 14-15 13-1 14-5 14-13 14 6 13 12 14-2" fill="none" stroke="#e03434" stroke-width="14.5" stroke-linejoin="round"/>
<path transform="scale(.1)" d="M582 3469l14 3 13-9 14 11 14 14 13-2 14 10 14-1 14 0 13 1 14 1 14 1 13 5 14-3 14 7 13-5 14-2 14 11 14-1 13 2 14-1 14-1 13 2 14-8 14 10 13-9 14 11 14-1 14-5 13 9 14-1 14 5 13 6 14 0 14-14 13 15 14 1 14 0 14-1 13 10 14-4 14-10 13 1 14-13 14 6 13 13 14 5 14 4 14-3 13-6 14-3 14 5 13 4 14 1 14 0 13 8 14-8 14-2 14-4 13 0 14-1 14-9 13 0 14 11 14 2 13-3 14 0 14 12 14-10 13 5 14-13 14 0 13 8 14 0 14-8 13 2 14-4 14-5 14 14 13 3 14 4 14-2 13-4 14-2 14-3 13 6 14 2 14-2 14-11 13 5 14-7 14-3 13 8 14 5 14 6 13 3 14-11 14-10 14 6 13 4 14 4 14 2 13-6 14 2 14 7 13-4 14-1 14-9 14 7 13-4 14 5 14-7 13-4 14 2 14 9 13 10 14-4 14 0 14-2 13-8 14-2 14 5 13 2 14 1 14-2 13-4 14 1 14-4 14-4 13 5 14-3 14 13 13-1 14-1 14-4 13-6 14 7 14-2 14-4 13-8 14 6 14 4 13 0 14-2 14-9 13-4 14-7 14 13 14-5 13 9 14 4 14-1 13-6 14-2 14-11 13 10 14-7 14 4 14 2 13 0 14-4 14 4 13-9 14 5 14 5 13-3 14 10 14-2 14 16 13-6 14-11 14 13 13-1 14-4 14 0 13 3 14-9 14-1 14 2 13 1 14-1 14 6 13-2 14-6 14 1 13-15 14 11 14 9 14-8 13 1 14-1 14 1 13 6 14-8 14 4 13-5 14-3 14 9 14-5 13 8 14-5" fill="none" stroke="#3333e0" stroke-width="14.5" stroke-linejoin="round"/>
<line x1="61.2" y1="355.8" x2="332.2" y2="355.8" stroke="#333" stroke-width="1.3" stroke-dasharray="1.3 3.1"/>
<line x1="58.6" y1="351.4" x2="58.6" y2="383.4" stroke="#5a2a6a" stroke-width="1.3"/>
<line x1="58.2" y1="244.6" x2="58.2" y2="384.2" stroke="#1b1b1b" stroke-width="1.6"/>
<line x1="52.7" y1="245.4" x2="58.2" y2="245.4" stroke="#1b1b1b" stroke-width="1.6"/>
<text x="50.9" y="249.7" font-size="12" text-anchor="end" fill="#1b1b1b" stroke="#1b1b1b" stroke-width="0.3">20</text>
<line x1="52.7" y1="273" x2="58.2" y2="273" stroke="#1b1b1b" stroke-width="1.6"/>
<text x="50.9" y="277.3" font-size="12" text-anchor="end" fill="#1b1b1b" stroke="#1b1b1b" stroke-width="0.3">15</text>
<line x1="52.7" y1="300.6" x2="58.2" y2="300.6" stroke="#1b1b1b" stroke-width="1.6"/>
<text x="50.9" y="304.9" font-size="12" text-anchor="end" fill="#1b1b1b" stroke="#1b1b1b" stroke-width="0.3">10</text>
<line x1="52.7" y1="328.2" x2="58.2" y2="328.2" stroke="#1b1b1b" stroke-width="1.6"/>
<text x="50.9" y="332.5" font-size="12" text-anchor="end" fill="#1b1b1b" stroke="#1b1b1b" stroke-width="0.3">5</text>
<line x1="52.7" y1="355.8" x2="58.2" y2="355.8" stroke="#1b1b1b" stroke-width="1.6"/>
<text x="50.9" y="360.1" font-size="12" text-anchor="end" fill="#1b1b1b" stroke="#1b1b1b" stroke-width="0.3">0</text>
<line x1="52.7" y1="383.4" x2="58.2" y2="383.4" stroke="#1b1b1b" stroke-width="1.6"/>
<text x="50.9" y="387.7" font-size="12" text-anchor="end" fill="#1b1b1b" stroke="#1b1b1b" stroke-width="0.3">-5</text>
<line x1="57.4" y1="383.4" x2="332.2" y2="383.4" stroke="#1b1b1b" stroke-width="1.6"/>
<line x1="58.2" y1="383.4" x2="58.2" y2="388.9" stroke="#1b1b1b" stroke-width="1.6"/>
<text x="58.2" y="400.9" font-size="12" text-anchor="middle" fill="#1b1b1b" stroke="#1b1b1b" stroke-width="0.3">-5</text>
<line x1="126.7" y1="383.4" x2="126.7" y2="388.9" stroke="#1b1b1b" stroke-width="1.6"/>
<text x="126.7" y="400.9" font-size="12" text-anchor="middle" fill="#1b1b1b" stroke="#1b1b1b" stroke-width="0.3">0</text>
<line x1="195.2" y1="383.4" x2="195.2" y2="388.9" stroke="#1b1b1b" stroke-width="1.6"/>
<text x="195.2" y="400.9" font-size="12" text-anchor="middle" fill="#1b1b1b" stroke="#1b1b1b" stroke-width="0.3">5</text>
<line x1="263.7" y1="383.4" x2="263.7" y2="388.9" stroke="#1b1b1b" stroke-width="1.6"/>
<text x="263.7" y="400.9" font-size="12" text-anchor="middle" fill="#1b1b1b" stroke="#1b1b1b" stroke-width="0.3">10</text>
<line x1="332.2" y1="383.4" x2="332.2" y2="388.9" stroke="#1b1b1b" stroke-width="1.6"/>
<text x="332.2" y="400.9" font-size="12" text-anchor="middle" fill="#1b1b1b" stroke="#1b1b1b" stroke-width="0.3">15</text>
<text x="28.9" y="314.4" font-size="14.5" text-anchor="middle" fill="#1b1b1b" stroke="#1b1b1b" stroke-width="0.3" transform="rotate(-90 28.9 314.4)">ΔF/F0 (%)</text>
<text x="195.6" y="415" font-size="14.3" text-anchor="middle" fill="#1b1b1b" stroke="#1b1b1b" stroke-width="0.3">Time (sec)</text>
<text x="302.9" y="257.3" font-size="9.2" text-anchor="middle" fill="#1b1b1b" stroke="#1b1b1b" stroke-width="0.3">Stimuli (#)</text>
<line x1="269.1" y1="270.1" x2="283.9" y2="270.1" stroke="#3333e0" stroke-width="1.5"/>
<text x="292.1" y="273.8" font-size="8.7" text-anchor="start" fill="#1b1b1b" stroke="#1b1b1b" stroke-width="0.3">0</text>
<line x1="303.8" y1="270.1" x2="318.4" y2="270.1" stroke="#151515" stroke-width="1.5"/>
<text x="326.6" y="273.8" font-size="8.7" text-anchor="start" fill="#1b1b1b" stroke="#1b1b1b" stroke-width="0.3">20</text>
<line x1="269.1" y1="279.4" x2="283.9" y2="279.4" stroke="#e03434" stroke-width="1.5"/>
<text x="292.1" y="283.1" font-size="8.7" text-anchor="start" fill="#1b1b1b" stroke="#1b1b1b" stroke-width="0.3">1</text>
<line x1="303.8" y1="279.4" x2="318.4" y2="279.4" stroke="#5a2a6a" stroke-width="1.5"/>
<text x="326.6" y="283.1" font-size="8.7" text-anchor="start" fill="#1b1b1b" stroke="#1b1b1b" stroke-width="0.3">30</text>
<line x1="269.1" y1="288.8" x2="283.9" y2="288.8" stroke="#44c444" stroke-width="1.5"/>
<text x="292.1" y="292.5" font-size="8.7" text-anchor="start" fill="#1b1b1b" stroke="#1b1b1b" stroke-width="0.3">2</text>
<line x1="303.8" y1="288.8" x2="318.4" y2="288.8" stroke="#1c1c8c" stroke-width="1.5"/>
<text x="326.6" y="292.5" font-size="8.7" text-anchor="start" fill="#1b1b1b" stroke="#1b1b1b" stroke-width="0.3">40</text>
<line x1="269.1" y1="299.6" x2="283.9" y2="299.6" stroke="#b845e6" stroke-width="1.5"/>
<text x="292.1" y="303.3" font-size="8.7" text-anchor="start" fill="#1b1b1b" stroke="#1b1b1b" stroke-width="0.3">5</text>
<line x1="303.8" y1="299.6" x2="318.4" y2="299.6" stroke="#4a2a5a" stroke-width="1.5"/>
<text x="326.6" y="303.3" font-size="8.7" text-anchor="start" fill="#1b1b1b" stroke="#1b1b1b" stroke-width="0.3">50</text>
<line x1="269.1" y1="309.1" x2="283.9" y2="309.1" stroke="#e8903c" stroke-width="1.5"/>
<text x="292.1" y="312.8" font-size="8.7" text-anchor="start" fill="#1b1b1b" stroke="#1b1b1b" stroke-width="0.3">10</text>
<line x1="303.8" y1="309.1" x2="318.4" y2="309.1" stroke="#8b2a2a" stroke-width="1.5"/>
<text x="326.6" y="312.8" font-size="8.7" text-anchor="start" fill="#1b1b1b" stroke="#1b1b1b" stroke-width="0.3">60</text>
<text x="4.7" y="224.8" font-size="16.5" text-anchor="start" fill="#111" font-weight="bold">d</text>
<line x1="401.7" y1="243.6" x2="401.7" y2="382.2" stroke="#1b1b1b" stroke-width="1.6"/>
<line x1="396.2" y1="381.4" x2="401.7" y2="381.4" stroke="#1b1b1b" stroke-width="1.6"/>
<text x="394.4" y="385.7" font-size="12" text-anchor="end" fill="#1b1b1b" stroke="#1b1b1b" stroke-width="0.3">0</text>
<line x1="396.2" y1="347.1" x2="401.7" y2="347.1" stroke="#1b1b1b" stroke-width="1.6"/>
<text x="394.4" y="351.4" font-size="12" text-anchor="end" fill="#1b1b1b" stroke="#1b1b1b" stroke-width="0.3">10</text>
<line x1="396.2" y1="312.9" x2="401.7" y2="312.9" stroke="#1b1b1b" stroke-width="1.6"/>
<text x="394.4" y="317.2" font-size="12" text-anchor="end" fill="#1b1b1b" stroke="#1b1b1b" stroke-width="0.3">20</text>
<line x1="396.2" y1="278.6" x2="401.7" y2="278.6" stroke="#1b1b1b" stroke-width="1.6"/>
<text x="394.4" y="282.9" font-size="12" text-anchor="end" fill="#1b1b1b" stroke="#1b1b1b" stroke-width="0.3">30</text>
<line x1="396.2" y1="244.4" x2="401.7" y2="244.4" stroke="#1b1b1b" stroke-width="1.6"/>
<text x="394.4" y="248.7" font-size="12" text-anchor="end" fill="#1b1b1b" stroke="#1b1b1b" stroke-width="0.3">40</text>
<line x1="400.9" y1="381.4" x2="677.8" y2="381.4" stroke="#1b1b1b" stroke-width="1.6"/>
<line x1="409.9" y1="381.4" x2="409.9" y2="386.9" stroke="#1b1b1b" stroke-width="1.6"/>
<text x="409.9" y="398.9" font-size="12" text-anchor="middle" fill="#1b1b1b" stroke="#1b1b1b" stroke-width="0.3">0</text>
<line x1="438.6" y1="381.4" x2="438.6" y2="386.9" stroke="#1b1b1b" stroke-width="1.6"/>
<text x="438.6" y="398.9" font-size="12" text-anchor="middle" fill="#1b1b1b" stroke="#1b1b1b" stroke-width="0.3">1</text>
<line x1="467.3" y1="381.4" x2="467.3" y2="386.9" stroke="#1b1b1b" stroke-width="1.6"/>
<text x="467.3" y="398.9" font-size="12" text-anchor="middle" fill="#1b1b1b" stroke="#1b1b1b" stroke-width="0.3">2</text>
<line x1="496" y1="381.4" x2="496" y2="386.9" stroke="#1b1b1b" stroke-width="1.6"/>
<text x="496" y="398.9" font-size="12" text-anchor="middle" fill="#1b1b1b" stroke="#1b1b1b" stroke-width="0.3">5</text>
<line x1="524.7" y1="381.4" x2="524.7" y2="386.9" stroke="#1b1b1b" stroke-width="1.6"/>
<text x="524.7" y="398.9" font-size="12" text-anchor="middle" fill="#1b1b1b" stroke="#1b1b1b" stroke-width="0.3">10</text>
<line x1="553.4" y1="381.4" x2="553.4" y2="386.9" stroke="#1b1b1b" stroke-width="1.6"/>
<text x="553.4" y="398.9" font-size="12" text-anchor="middle" fill="#1b1b1b" stroke="#1b1b1b" stroke-width="0.3">20</text>
<line x1="582.1" y1="381.4" x2="582.1" y2="386.9" stroke="#1b1b1b" stroke-width="1.6"/>
<text x="582.1" y="398.9" font-size="12" text-anchor="middle" fill="#1b1b1b" stroke="#1b1b1b" stroke-width="0.3">30</text>
<line x1="610.8" y1="381.4" x2="610.8" y2="386.9" stroke="#1b1b1b" stroke-width="1.6"/>
<text x="610.8" y="398.9" font-size="12" text-anchor="middle" fill="#1b1b1b" stroke="#1b1b1b" stroke-width="0.3">40</text>
<line x1="639.5" y1="381.4" x2="639.5" y2="386.9" stroke="#1b1b1b" stroke-width="1.6"/>
<text x="639.5" y="398.9" font-size="12" text-anchor="middle" fill="#1b1b1b" stroke="#1b1b1b" stroke-width="0.3">50</text>
<line x1="668.2" y1="381.4" x2="668.2" y2="386.9" stroke="#1b1b1b" stroke-width="1.6"/>
<text x="668.2" y="398.9" font-size="12" text-anchor="middle" fill="#1b1b1b" stroke="#1b1b1b" stroke-width="0.3">60</text>
<text x="373.4" y="309.7" font-size="14.3" text-anchor="middle" fill="#1b1b1b" stroke="#1b1b1b" stroke-width="0.3" transform="rotate(-90 373.4 309.7)">Normalised AUC to 0 Stim.</text>
<text x="540" y="413.5" font-size="14" text-anchor="middle" fill="#1b1b1b" stroke="#1b1b1b" stroke-width="0.3">Stimuli (#)</text>
<circle cx="405.4" cy="378.3" r="3" fill="#2222e8"/>
<circle cx="406.9" cy="378.3" r="3" fill="#2222e8"/>
<circle cx="408.4" cy="378.3" r="3" fill="#2222e8"/>
<circle cx="409.9" cy="378.3" r="3" fill="#2222e8"/>
<circle cx="411.4" cy="378.3" r="3" fill="#2222e8"/>
<circle cx="412.9" cy="378.3" r="3" fill="#2222e8"/>
<circle cx="414.4" cy="378.3" r="3" fill="#2222e8"/>
<circle cx="434.1" cy="378" r="3" fill="#ee2222"/>
<circle cx="437.1" cy="377.6" r="3" fill="#ee2222"/>
<circle cx="440.1" cy="378.3" r="3" fill="#ee2222"/>
<circle cx="443.1" cy="378" r="3" fill="#ee2222"/>
<circle cx="435.6" cy="379" r="3" fill="#ee2222"/>
<circle cx="441.6" cy="379" r="3" fill="#ee2222"/>
<line x1="467.3" y1="361.5" x2="467.3" y2="372.2" stroke="#44d444" stroke-width="1.25"/>
<line x1="467.3" y1="379.3" x2="467.3" y2="379.7" stroke="#44d444" stroke-width="1.25"/>
<rect x="460.7" y="372.2" width="13.2" height="7.2" fill="white" fill-opacity="0" stroke="#44d444" stroke-width="1.25"/>
<line x1="460.7" y1="376.6" x2="473.9" y2="376.6" stroke="#44d444" stroke-width="1.25"/>
<circle cx="467.3" cy="361.5" r="3.0" fill="#44d444"/>
<circle cx="462.8" cy="372.2" r="3.0" fill="#44d444"/>
<circle cx="471.8" cy="372.8" r="3.0" fill="#44d444"/>
<circle cx="462.8" cy="375.9" r="3.0" fill="#44d444"/>
<circle cx="471.8" cy="376.6" r="3.0" fill="#44d444"/>
<circle cx="464.3" cy="379.3" r="3.0" fill="#44d444"/>
<circle cx="470.3" cy="379.7" r="3.0" fill="#44d444"/>
<line x1="496" y1="346.1" x2="496" y2="370.4" stroke="#c040f0" stroke-width="1.25"/>
<line x1="496" y1="378.3" x2="496" y2="378.3" stroke="#c040f0" stroke-width="1.25"/>
<rect x="489.4" y="370.4" width="13.2" height="7.9" fill="white" fill-opacity="0" stroke="#c040f0" stroke-width="1.25"/>
<line x1="489.4" y1="374.5" x2="502.6" y2="374.5" stroke="#c040f0" stroke-width="1.25"/>
<circle cx="496" cy="346.1" r="3.0" fill="#c040f0"/>
<circle cx="491.5" cy="370.4" r="3.0" fill="#c040f0"/>
<circle cx="500.5" cy="371.1" r="3.0" fill="#c040f0"/>
<circle cx="496" cy="374.5" r="3.0" fill="#c040f0"/>
<circle cx="491.5" cy="377.3" r="3.0" fill="#c040f0"/>
<circle cx="500.5" cy="378" r="3.0" fill="#c040f0"/>
<circle cx="496" cy="378.3" r="3.0" fill="#c040f0"/>
<line x1="524.7" y1="348.5" x2="524.7" y2="368.4" stroke="#ea8e38" stroke-width="1.25"/>
<line x1="524.7" y1="377.1" x2="524.7" y2="378" stroke="#ea8e38" stroke-width="1.25"/>
<rect x="518.1" y="368.4" width="13.2" height="8.7" fill="white" fill-opacity="0" stroke="#ea8e38" stroke-width="1.25"/>
<line x1="518.1" y1="372.8" x2="531.3" y2="372.8" stroke="#ea8e38" stroke-width="1.25"/>
<circle cx="524.7" cy="348.5" r="3.0" fill="#ea8e38"/>
<circle cx="527.7" cy="368.4" r="3.0" fill="#ea8e38"/>
<circle cx="520.2" cy="369.8" r="3.0" fill="#ea8e38"/>
<circle cx="529.2" cy="373.2" r="3.0" fill="#ea8e38"/>
<circle cx="520.2" cy="375.9" r="3.0" fill="#ea8e38"/>
<circle cx="521.7" cy="378" r="3.0" fill="#ea8e38"/>
<circle cx="527.7" cy="376.9" r="3.0" fill="#ea8e38"/>
<line x1="553.4" y1="338.9" x2="553.4" y2="357.8" stroke="#111111" stroke-width="1.25"/>
<line x1="553.4" y1="371.1" x2="553.4" y2="373.5" stroke="#111111" stroke-width="1.25"/>
<rect x="546.8" y="357.8" width="13.2" height="13.4" fill="white" fill-opacity="0" stroke="#111111" stroke-width="1.25"/>
<line x1="546.8" y1="366" x2="560" y2="366" stroke="#111111" stroke-width="1.25"/>
<circle cx="553.4" cy="338.9" r="3.0" fill="#111111"/>
<circle cx="553.4" cy="357.4" r="3.0" fill="#111111"/>
<circle cx="557.9" cy="363.6" r="3.0" fill="#111111"/>
<circle cx="548.9" cy="367.4" r="3.0" fill="#111111"/>
<circle cx="557.4" cy="370.1" r="3.0" fill="#111111"/>
<circle cx="548.9" cy="373.5" r="3.0" fill="#111111"/>
<circle cx="557.9" cy="373.5" r="3.0" fill="#111111"/>
<line x1="582.1" y1="309.8" x2="582.1" y2="342.7" stroke="#a67a3a" stroke-width="1.25"/>
<line x1="582.1" y1="363.2" x2="582.1" y2="370.1" stroke="#a67a3a" stroke-width="1.25"/>
<rect x="575.5" y="342.7" width="13.2" height="20.6" fill="white" fill-opacity="0" stroke="#a67a3a" stroke-width="1.25"/>
<line x1="575.5" y1="353.3" x2="588.7" y2="353.3" stroke="#a67a3a" stroke-width="1.25"/>
<circle cx="582.1" cy="309.8" r="3.0" fill="#a67a3a"/>
<circle cx="582.1" cy="342.7" r="3.0" fill="#a67a3a"/>
<circle cx="577.6" cy="351.6" r="3.0" fill="#a67a3a"/>
<circle cx="586.6" cy="351.6" r="3.0" fill="#a67a3a"/>
<circle cx="577.6" cy="357.1" r="3.0" fill="#a67a3a"/>
<circle cx="582.1" cy="363.6" r="3.0" fill="#a67a3a"/>
<circle cx="582.1" cy="370.1" r="3.0" fill="#a67a3a"/>
<line x1="610.8" y1="299.5" x2="610.8" y2="334.8" stroke="#1c1c99" stroke-width="1.25"/>
<line x1="610.8" y1="361.9" x2="610.8" y2="363.6" stroke="#1c1c99" stroke-width="1.25"/>
<rect x="604.2" y="334.8" width="13.2" height="27.1" fill="white" fill-opacity="0" stroke="#1c1c99" stroke-width="1.25"/>
<line x1="604.2" y1="361.9" x2="617.4" y2="361.9" stroke="#1c1c99" stroke-width="1.25"/>
<circle cx="610.8" cy="299.5" r="3.0" fill="#1c1c99"/>
<circle cx="610.8" cy="334.8" r="3.0" fill="#1c1c99"/>
<circle cx="610.8" cy="346.8" r="3.0" fill="#1c1c99"/>
<circle cx="606.3" cy="363.6" r="3.0" fill="#1c1c99"/>
<circle cx="609.3" cy="363.6" r="3.0" fill="#1c1c99"/>
<circle cx="612.3" cy="363.6" r="3.0" fill="#1c1c99"/>
<circle cx="615.3" cy="363.6" r="3.0" fill="#1c1c99"/>
<line x1="639.5" y1="284.8" x2="639.5" y2="342" stroke="#6b1f6e" stroke-width="1.25"/>
<line x1="639.5" y1="362.6" x2="639.5" y2="365.6" stroke="#6b1f6e" stroke-width="1.25"/>
<rect x="632.9" y="342" width="13.2" height="20.6" fill="white" fill-opacity="0" stroke="#6b1f6e" stroke-width="1.25"/>
<line x1="632.9" y1="350.6" x2="646.1" y2="350.6" stroke="#6b1f6e" stroke-width="1.25"/>
<circle cx="639.5" cy="284.8" r="3.0" fill="#6b1f6e"/>
<circle cx="639.5" cy="341.7" r="3.0" fill="#6b1f6e"/>
<circle cx="635" cy="349.2" r="3.0" fill="#6b1f6e"/>
<circle cx="644" cy="349.2" r="3.0" fill="#6b1f6e"/>
<circle cx="639.5" cy="353.7" r="3.0" fill="#6b1f6e"/>
<circle cx="637" cy="365.6" r="3.0" fill="#6b1f6e"/>
<circle cx="642" cy="365.6" r="3.0" fill="#6b1f6e"/>
<line x1="668.2" y1="275.9" x2="668.2" y2="349.2" stroke="#b22222" stroke-width="1.25"/>
<line x1="668.2" y1="359.1" x2="668.2" y2="358.1" stroke="#b22222" stroke-width="1.25"/>
<rect x="661.6" y="349.2" width="13.2" height="9.9" fill="white" fill-opacity="0" stroke="#b22222" stroke-width="1.25"/>
<line x1="661.6" y1="355.4" x2="674.8" y2="355.4" stroke="#b22222" stroke-width="1.25"/>
<circle cx="668.2" cy="275.9" r="3.0" fill="#b22222"/>
<circle cx="666.2" cy="349.2" r="3.0" fill="#b22222"/>
<circle cx="670.2" cy="349.2" r="3.0" fill="#b22222"/>
<circle cx="663.7" cy="356.7" r="3.0" fill="#b22222"/>
<circle cx="668.2" cy="356.7" r="3.0" fill="#b22222"/>
<circle cx="672.7" cy="356.7" r="3.0" fill="#b22222"/>
<circle cx="668.2" cy="358.1" r="3.0" fill="#b22222"/>
<path d="M577.70,296.20L577.70,302.60M574.93,297.80L580.47,301.00M574.93,301.00L580.47,297.80" stroke="#1b1b1b" stroke-width="1.45"/>
<path d="M586.50,296.20L586.50,302.60M583.73,297.80L589.27,301.00M583.73,301.00L589.27,297.80" stroke="#1b1b1b" stroke-width="1.45"/>
<path d="M602.00,282.70L602.00,289.10M599.23,284.30L604.77,287.50M599.23,287.50L604.77,284.30" stroke="#1b1b1b" stroke-width="1.45"/>
<path d="M610.80,282.70L610.80,289.10M608.03,284.30L613.57,287.50M608.03,287.50L613.57,284.30" stroke="#1b1b1b" stroke-width="1.45"/>
<path d="M619.60,282.70L619.60,289.10M616.83,284.30L622.37,287.50M616.83,287.50L622.37,284.30" stroke="#1b1b1b" stroke-width="1.45"/>
<path d="M630.70,269.30L630.70,275.70M627.93,270.90L633.47,274.10M627.93,274.10L633.47,270.90" stroke="#1b1b1b" stroke-width="1.45"/>
<path d="M639.50,269.30L639.50,275.70M636.73,270.90L642.27,274.10M636.73,274.10L642.27,270.90" stroke="#1b1b1b" stroke-width="1.45"/>
<path d="M648.30,269.30L648.30,275.70M645.53,270.90L651.07,274.10M645.53,274.10L651.07,270.90" stroke="#1b1b1b" stroke-width="1.45"/>
<path d="M659.40,258.10L659.40,264.50M656.63,259.70L662.17,262.90M656.63,262.90L662.17,259.70" stroke="#1b1b1b" stroke-width="1.45"/>
<path d="M668.20,258.10L668.20,264.50M665.43,259.70L670.97,262.90M665.43,262.90L670.97,259.70" stroke="#1b1b1b" stroke-width="1.45"/>
<path d="M677.00,258.10L677.00,264.50M674.23,259.70L679.77,262.90M674.23,262.90L679.77,259.70" stroke="#1b1b1b" stroke-width="1.45"/>
<text x="348.5" y="224.9" font-size="16.5" text-anchor="start" fill="#111" font-weight="bold">e</text>
<rect x="306.2" y="474.4" width="137.2" height="137.2" fill="#f5dfc1"/>
<text x="374.4" y="488.4" font-size="12.3" text-anchor="middle" fill="#1b1b1b" stroke="#1b1b1b" stroke-width="0.3">Electrical</text>
<text x="374.4" y="502.6" font-size="12.3" text-anchor="middle" fill="#1b1b1b" stroke="#1b1b1b" stroke-width="0.3">stimuli</text>
<path transform="scale(.1)" d="M2376 5614l5 61 5-50 4 94 5-57 5-38 5 48 5 68 4-49 5-37 5 83 5 2 5-72 4 51 5-71 5 81 5 28 5-46 4-98 5 102 5-37 5-11 5 52 4-88 5 39 5-12 5 92 5 3 4 44 5-111 5 2 5-42 5-33 4 76 5 0 5-31 5-46 5 101 4-62 5 37 5 4 5-50 5 70 4 12 5-75 5 30 5 10 5-6 4-27 5 38 5-49 5 15 5-46 5 9 4 18 5 45 5-14 5 31 5-149 4 133 5-33 5-35 5 117 5-23 4-18 5 25 5 12 5-32 5-78 4 24 5 30 5 0 5 73 5-102 4 12 5 65 5-56 5 18 5 14 4 20 5-13 5 11 5-61 5 5 4 1 5 22 5 10 5-106 5 169 4-132 5 36 5 12 5 25 5-12 4 41 5 9 5-55 5 67 5-108 4-12 5 197 5-82 5-78 5 2 4 4 5-13 5-14 5-5 5-40 4 76 5-36 5 107 5-64 5 47 4-113 5-41 5 78 5 79 5-51 4-6 5-7 5-39 5 6 5 155 4-173 5 80 5 3 5-85 5 73 4 47 5-2 5-59 5-37 5-26 4 72 5 13 5-90 5 90 5-83 4 53 5 0 5 20 5-23 5 33 4 9 5-23 5 18 5-57 5-5 4 0 5-18 5-14 5-100 5 60 5 11 4-28 5-57 5 22 5-17 5-10 4-34 5-25 5-17 5 75 5-40 4 52 5-163 5-28 5-23 5 34 4-58 5 36 5-11 5 46 5-48 4-23 5-81 5-47 5 82 5-45 4-5 5 36 5 32 5-51 5 21 4-58 5-16 5-8 5-9 5-37 4 51 5-87 5 105 5-78 5-17 4 48 5 31 5-99 5 54 5-66 4-2 5 30 5-3 5-46 5 23 4 54 5-48 5-9 5 23 5 8 4 22 5 6 5 43 5 29 5-102 4 83 5-30 5 82 5-64 5 50 4-155 5 178 5 6 5-75 5 0 4 146 5-93 5-20 5 98 5-76 4 57 5 25 5-24 5 10 5 44 4-151 5 120 5 17 5-64 5 44 4-56 5 74 5-22 5 15 5 1 4 20 5-1 5-73 5 105 5-2 5-5 4-35 5 11 5-19 5 101 5-65 4 23 5 8 5-15 5 95 5-92 4 9 5 71 5-53 5-67 5 87 4-38 5 38 5 29 5 9 5-19 4-69 5 24 5 68 5-70 5 52 4 27 5-45 5 60 5 31 5-119 4 136 5-98 5 91 5-60 5 10 4 13 5 78 5-86 5 0 5 40 4-33 5-42 5 76 5-39 5 63 4-62 5-8 5-75 5 70 5 23 4-38 5 105 5-85 5 72 5 6 4-70 5 40 5-44 5 121 5-70 4 37 5-8 5 73 5-118 5 34 4 54 5 18 5-17 5-94 5 67 4 13 5-32 5 23 5-6 5-19 4 21 5-21 5 91 5-51 5 19 4-18 5 8 5 27 5-11 5-53 4 65 5 31 5-77 5-14 5 54 4-16 5 43 5-26 5-54 5 15 4 29 5 19 5 59 5-81 5-4 5-24 4-39 5 71 5-23 5 89 5-97 4 16 5-20 5 30 5 11 5-42 4 91 5-54 5-17 5 80 5 16 4-65 5 14 5-20 5 0 5 60 4-45 5-32 5 63 5-1 5 36 4-81 5-46 5 141 5-89 5-5 4 63 5-7 5 30 5-10 5-39 4-20 5 23 5-30 5 28 5 59 4-110 5 12 5 81 5-104 5 55 4 15 5-74 5 186 5-36 5-97 4 41 5 30 5-102 5 43 5 75 4-25 5-63 5-38 5 160 5-94 4 27 5 58 5-66 5 61 5-44 4-89 5 47 5-11 5 9 5 11 4-26 5 91 5-33 5-50 5 67 4-12 5-68 5-13 5 91 5 9 4-58 5 14 5 40 5-52 5 2 4 21 5-120 5 67 5 24 5-8 4-81 5 79 5 78 5-43 5 11 4 28 5-35 5 2 5 13 5 19 5-55 4 103 5-101 5 35 5-10 5 112 4-171 5 144 5-36 5-64 5 53 4-9 5 77 5-75 5-28 5-19 4 40 5-21 5-9 5 47 5 3 4-115 5 119 5-88 5 49 5-59 4 89 5-49 5 8 5 24 5-23 4 46 5-30 5 14 5-49 5 36 4 55 5-43 5-12 5 34 5-94 4 39 5-19 5 68 5-15 5-60 4 104 5-76 5 11 5 25 5-25 4 50 5-55 5 61 5 2 5-113 4 89 5 60 5-131 5 74 5 116 4-147 5-41 5 24 5-58 5 78 4-30 5 68 5-50 5-58 5 44 4 14 5 91 5-68 5 39 5-88 4 64 5-46 5 57 5-122 5 130 4-56 5-106 5 103 5 46 5-63 4-16 5 5 5 121 5-93 5 99 4-171 5 78 5 23 5-49 5 8 4 71 5-119 5 79 5 65 5-135 5-5 4 12 5 30 5 61 5-78 5-39 4 44 5-33 5 101 5-77 5 4 4 103 5 6 5-38 5-35 5-16 4 29 5-6 5 2 0 137-5-2-5 7-4-29-5 16-5 34-5 38-5-5-4-104-5-3-5 76-5-101-5 33-4-44-5 39-5 78-5-61-5-30-4-12-5 6-5 134-5-65-5-79-5 120-4-72-5-7-5 48-5-23-5-77-4 170-5-99-5 93-5-121-5-5-4 16-5 63-5-46-5-102-5 105-4 56-5-130-5 123-5-58-5 47-4-65-5 88-5-39-5 68-5-91-4-14-5-44-5 58-5 50-5-68-4 31-5-79-5 58-5-24-5 42-4 146-5-116-5-74-5 131-5-60-4-89-5 113-5-2-5-61-5 55-4-50-5 25-5-25-5-11-5 76-4-103-5 59-5 16-5-68-5 18-4-39-5 94-5-34-5 12-5 43-4-55-5-36-5 49-5-13-5 29-4-46-5 23-5-24-5-8-5 49-4-89-5 59-5-49-5 88-5-118-4 114-5-3-5-47-5 9-5 21-4-40-5 19-5 28-5 76-5-77-4 8-5-53-5 64-5 36-5-143-4 170-5-112-5 11-5-35-5 101-4-103-5 55-5-19-5-13-5-1-5 34-4-27-5-12-5 44-5-77-5-79-4 81-5 8-5-24-5-67-5 120-4-21-5-2-5 53-5-41-5-13-4 58-5-10-5-90-5 13-5 69-4 11-5-67-5 51-5 33-5-91-4 26-5-11-5-8-5 10-5-47-4 90-5 44-5-61-5 66-5-58-4-27-5 94-5-160-5 39-5 63-4 25-5-74-5-44-5 103-5-30-4-41-5 97-5 36-5-186-5 75-4-15-5-55-5 103-5-80-5-12-4 110-5-58-5-28-5 30-5-23-4 20-5 39-5 10-5-29-5 7-4-63-5 5-5 89-5-141-5 47-4 81-5-36-5 2-5-63-5 32-4 46-5-61-5 1-5 19-5-14-4 66-5-16-5-80-5 18-5 54-4-91-5 42-5-10-5-30-5 20-4-16-5 97-5-89-5 24-5-71-4 40-5 24-5 4-5 81-5-58-5-19-4-29-5-14-5 54-5 26-5-42-4 15-5-53-5 14-5 77-5-31-4-64-5 53-5 11-5-26-5-8-4 19-5-19-5 51-5-90-5 21-4-20-5 19-5 7-5-23-5 33-4-13-5-66-5 94-5 18-5-18-4-53-5-33-5 118-5-72-5 8-4-36-5 71-5-121-5 44-5-39-4 71-5-6-5-71-5 85-5-105-4 39-5-22-5-70-5 76-5 9-4 63-5-63-5 39-5-75-5 43-4 33-5-40-5 1-5 86-5-77-4-13-5-9-5 61-5-91-5 99-4-136-5 120-5-30-5-60-5 45-4-26-5-51-5 71-5-68-5-23-4 69-5 19-5-7-5-29-5-38-4 39-5-86-5 68-5 53-5-70-4-8-5 92-5-94-5 16-5-8-4-21-5 65-5-100-5 19-5-10-4 36-5 6-5 2-5-104-5 73-5 2-4-19-5 0-5-15-5 23-5-72-4 56-5-43-5 65-5-17-5-119-4 152-5-43-5-9-5 24-5-24-4-55-5 76-5-96-5 21-5 95-4-146-5 2-5 76-5-4-5-177-4 157-5-49-5 65-5-80-5 31-4-82-5 104-5-28-5-41-5-5-4-21-5-6-5-22-5 11-5 47-4-54-5-24-5 45-5 3-5-31-4 2-5 65-5-54-5 99-5-32-4-49-5 17-5 77-5-106-5 86-4-53-5 35-5 8-5 6-5 15-4 55-5-22-5 49-5-33-5-38-4 3-5 44-5-84-5 45-5 77-4 21-5 45-5-49-5 9-5-39-4 56-5-38-5 21-5 25-5 160-4-55-5 37-5-77-5 15-5 22-4 30-5 8-5 14-5-24-5 53-4 25-5-12-5-63-5 97-5 11-5 15-4-3-5 3-5 54-5-19-5 23-4-9-5-33-5 23-5-20-5 0-4-53-5 83-5-90-5 90-5-12-4-72-5 25-5 37-5 59-5 2-4-47-5-73-5 85-5-2-5-81-4 174-5-156-5-6-5 39-5 7-4 6-5 51-5-79-5-77-5 40-4 113-5-47-5 64-5-107-5 36-4-76-5 40-5 5-5 14-5 14-4-5-5-2-5 78-5 82-5-197-4 12-5 108-5-67-5 55-5-8-4-42-5 12-5-24-5-13-5-36-4 132-5-169-5 106-5-10-5-21-4-2-5-4-5 60-5-11-5 13-4-20-5-14-5-17-5 55-5-65-4-11-5 101-5-73-5 0-5-30-4-24-5 78-5 32-5-11-5-26-4 18-5 24-5-118-5 35-5 33-4-132-5 148-5-30-5 14-5-46-4-18-5-9-5 46-5-15-5 49-5-38-4 28-5 5-5-10-5-30-5 75-4-12-5-69-5 49-5-4-5-37-4 62-5-101-5 46-5 31-5 0-4-75-5 33-5 41-5-2-5 111-4-44-5-2-5-92-5 11-5-39-4 88-5-52-5 11-5 37-5-102-4 98-5 46-5-28-5-81-5 71-4-51-5 72-5-2-5-83-5 37-4 49-5-68-5-48-5 38-5 57-4-93-5 49-5-60z" fill="#8ef07a" fill-opacity="0.55"/>
<path transform="scale(.1)" d="M2376 5683l5 61 5-50 4 93 5-57 5-37 5 47 5 69 4-49 5-38 5 84 5 2 5-73 4 51 5-70 5 80 5 29 5-46 4-98 5 102 5-37 5-11 5 51 4-88 5 40 5-12 5 92 5 3 4 43 5-111 5 2 5-41 5-33 4 75 5 1 5-31 5-47 5 102 4-63 5 38 5 4 5-50 5 69 4 12 5-75 5 30 5 11 5-6 4-27 5 37 5-49 5 15 5-46 5 10 4 17 5 46 5-14 5 31 5-149 4 133 5-34 5-35 5 118 5-23 4-19 5 26 5 12 5-33 5-78 4 25 5 30 5 0 5 73 5-102 4 12 5 65 5-56 5 17 5 14 4 21 5-14 5 12 5-61 5 4 4 2 5 22 5 10 5-106 5 168 4-132 5 37 5 12 5 25 5-13 4 42 5 9 5-55 5 66 5-107 4-12 5 196 5-81 5-79 5 3 4 4 5-13 5-14 5-6 5-39 4 76 5-36 5 107 5-65 5 47 4-112 5-41 5 77 5 80 5-51 4-7 5-7 5-38 5 6 5 155 4-173 5 80 5 3 5-85 5 72 4 48 5-2 5-60 5-36 5-26 4 72 5 13 5-90 5 89 5-82 4 52 5 0 5 21 5-23 5 33 4 9 5-24 5 19 5-55 5-4 4 1 5-17 5-12 5-99 5 62 5 12 4-27 5-55 5 23 5-15 5-10 4-32 5-23 5-16 5 76 5-38 4 53 5-161 5-27 5-22 5 36 4-57 5 37 5-10 5 48 5-47 4-22 5-78 5-46 5 83 5-45 4-4 5 37 5 33 5-50 5 21 4-57 5-15 5-7 5-9 5-36 4 53 5-87 5 105 5-77 5-17 4 48 5 32 5-99 5 54 5-65 4-3 5 31 5-3 5-45 5 23 4 54 5-47 5-10 5 22 5 7 4 22 5 5 5 42 5 28 5-103 4 83 5-30 5 81 5-65 5 49 4-156 5 178 5 5 5-75 5-2 4 147 5-95 5-20 5 97 5-76 4 56 5 24 5-23 5 9 5 44 4-152 5 120 5 16 5-64 5 44 4-56 5 72 5-22 5 15 5 0 4 20 5-1 5-73 5 104 5-2 5-5 4-36 5 11 5-20 5 101 5-65 4 22 5 8 5-16 5 95 5-92 4 8 5 71 5-53 5-67 5 86 4-39 5 39 5 28 5 8 5-18 4-70 5 24 5 68 5-70 5 51 4 27 5-46 5 60 5 31 5-119 4 136 5-99 5 91 5-61 5 10 4 13 5 77 5-85 5-1 5 40 4-33 5-43 5 76 5-39 5 63 4-63 5-8 5-75 5 69 5 23 4-39 5 106 5-86 5 72 5 6 4-70 5 39 5-44 5 121 5-71 4 37 5-8 5 72 5-118 5 34 4 53 5 18 5-17 5-94 5 67 4 12 5-32 5 23 5-7 5-19 4 21 5-21 5 91 5-51 5 19 4-19 5 8 5 27 5-11 5-54 4 65 5 31 5-77 5-14 5 54 4-16 5 42 5-25 5-54 5 14 4 29 5 19 5 59 5-81 5-5 5-24 4-39 5 71 5-23 5 89 5-97 4 15 5-19 5 30 5 10 5-42 4 91 5-54 5-17 5 79 5 17 4-66 5 14 5-19 5-1 5 60 4-45 5-32 5 63 5-2 5 37 4-81 5-47 5 141 5-89 5-5 4 63 5-7 5 29 5-10 5-39 4-20 5 24 5-31 5 28 5 59 4-110 5 12 5 80 5-103 5 55 4 15 5-74 5 186 5-37 5-97 4 41 5 30 5-102 5 43 5 75 4-25 5-63 5-38 5 159 5-94 4 28 5 58 5-66 5 61 5-44 4-90 5 47 5-11 5 9 5 11 4-26 5 91 5-33 5-51 5 68 4-12 5-69 5-13 5 91 5 10 4-59 5 14 5 41 5-53 5 2 4 21 5-120 5 67 5 24 5-8 4-81 5 79 5 77 5-43 5 11 4 28 5-34 5 1 5 13 5 19 5-55 4 103 5-101 5 35 5-11 5 113 4-171 5 144 5-37 5-63 5 52 4-8 5 77 5-76 5-27 5-20 4 41 5-21 5-10 5 47 5 3 4-114 5 119 5-88 5 49 5-59 4 89 5-49 5 8 5 23 5-22 4 45 5-29 5 14 5-49 5 36 4 54 5-43 5-11 5 34 5-95 4 40 5-19 5 68 5-15 5-60 4 103 5-76 5 12 5 25 5-25 4 49 5-55 5 61 5 3 5-114 4 89 5 60 5-131 5 74 5 117 4-147 5-42 5 25 5-58 5 78 4-31 5 68 5-49 5-58 5 43 4 15 5 90 5-67 5 38 5-87 4 64 5-47 5 58 5-122 5 129 4-55 5-106 5 102 5 47 5-63 4-17 5 6 5 120 5-93 5 100 4-171 5 78 5 22 5-48 5 8 4 71 5-120 5 80 5 64 5-134 5-6 4 12 5 30 5 61 5-77 5-40 4 45 5-34 5 102 5-77 5 4 4 103 5 6 5-39 5-34 5-16 4 29 5-7 5 2" fill="none" stroke="#3ccc3c" stroke-width="11" stroke-linejoin="round"/>
<path transform="scale(.1)" d="M2376 5679l5-21 5 3 4 24 5-14 5 31 5-53 5 55 4-92 5 72 5-13 5 44 5-18 4-22 5 7 5 27 5 23 5-51 4-5 5-17 5-30 5 67 5 72 4-79 5 73 5-24 5-100 5 20 4 52 5 0 5-24 5 72 5-96 4 35 5-93 5 124 5-89 5 73 4-73 5 85 5-73 5 50 5 17 4-29 5-27 5 3 5-50 5 32 4 149 5-96 5 68 5-69 5-43 5 84 4-7 5-57 5 19 5-81 5 55 4-9 5-53 5 97 5-22 5 43 4-54 5-33 5-14 5 60 5 29 4 2 5 27 5-65 5-53 5 160 4-8 5-154 5 129 5-83 5 68 4-87 5 0 5 26 5-28 5 33 4-22 5-54 5 31 5 75 5 7 4-25 5 0 5-13 5 29 5-54 4 26 5-14 5 16 5-27 5 78 4-119 5 53 5-5 5-7 5-20 4 15 5 22 5 18 5 63 5-81 4 23 5 0 5-117 5 184 5-83 4-50 5 11 5-12 5 108 5-13 4-68 5 39 5-86 5 64 5 1 4-11 5 31 5-17 5 34 5-27 4 19 5-32 5 72 5 4 5-85 4 10 5 52 5-32 5 35 5-133 4 156 5-142 5 110 5-54 5 29 4 6 5-57 5 5 5 48 5 26 4-134 5 15 5 41 5 5 5-39 5-5 4-62 5 80 5-57 5 25 5-99 4-31 5 73 5-36 5-47 5 65 4 18 5-93 5 21 5 29 5-75 4 51 5 85 5-94 5 15 5-86 4 85 5 13 5-23 5 14 5 76 4-60 5 24 5-70 5-37 5 156 4-1 5 0 5-3 5 7 5-26 4-39 5 108 5 16 5 18 5-121 4-4 5 129 5 9 5-70 5-36 4 9 5 38 5-19 5 18 5 41 4-103 5 85 5 51 5-26 5 50 4-65 5-44 5 105 5-101 5-39 4 76 5 67 5-13 5-21 5 41 4-1 5-42 5-2 5-34 5 79 4-132 5 36 5 8 5 67 5-102 4 90 5-92 5 32 5 86 5-18 4-100 5 38 5 51 5-15 5 1 4 42 5-24 5 21 5-9 5-37 4 62 5-71 5 28 5-27 5-4 5-14 4 28 5-2 5 40 5-31 5 65 4-27 5-42 5 35 5-22 5 65 4-104 5 84 5-42 5 18 5-42 4 57 5 27 5 39 5-69 5 38 4-74 5-40 5 159 5-41 5-69 4-40 5 40 5 0 5-8 5-3 4-46 5 44 5 80 5-33 5-29 4 44 5-24 5 11 5 8 5-60 4 47 5 30 5-16 5-33 5-90 4 81 5-54 5 43 5 115 5-110 4 54 5 21 5-12 5-124 5 146 4-41 5-77 5 21 5 103 5-69 4 17 5-14 5-41 5 58 5-11 4-78 5 144 5-64 5-37 5 75 4-27 5 30 5-64 5 34 5-61 4-10 5 42 5 18 5-27 5 8 4 56 5-100 5 37 5-24 5 93 4-97 5-54 5 65 5 90 5-65 4 4 5-12 5 20 5-32 5 42 4-30 5 40 5-34 5-39 5 64 5-50 4 68 5-23 5-6 5-64 5 87 4-86 5 117 5-57 5-47 5 10 4 74 5 9 5-91 5 93 5-80 4 48 5-22 5-102 5 34 5 31 4 96 5-74 5 12 5 7 5-63 4 133 5-89 5 9 5 38 5-108 4 130 5-56 5-2 5 99 5-33 4-20 5-77 5-7 5 15 5 16 4 106 5-105 5 32 5-74 5-7 4-39 5 66 5-4 5 80 5-48 4 57 5-93 5 92 5-43 5 26 4-15 5-41 5 45 5-34 5 53 4-105 5 90 5-73 5-49 5 200 4-63 5-34 5-61 5 73 5-38 4 48 5-56 5 78 5-90 5 168 4-49 5-162 5 72 5 47 5-136 4 51 5-4 5 68 5-46 5 5 4 95 5-98 5 34 5-65 5-1 4 86 5-2 5-35 5-20 5 47 4-13 5-32 5 8 5-32 5 40 5 50 4 38 5-113 5 50 5 1 5-2 4 56 5-52 5 97 5-96 5 21 4-120 5 61 5 29 5-16 5-25 4 65 5-23 5 6 5-126 5 107 4 90 5-122 5-79 5 156 5-196 4 157 5-47 5 69 5-13 5 42 4-7 5 48 5-146 5 102 5-67 4 1 5 44 5-31 5 6 5 18 4-24 5 0 5 47 5 13 5-20 4-43 5-56 5-4 5 51 5-28 4 37 5-44 5 44 5-12 5 30 4-13 5-84 5 138 5-54 5 27 4-69 5-39 5 95 5 110 5-151 4 0 5 102 5-64 5-8 5 100 4-133 5 11 5 9 5 58 5-16 4-3 5-50 5 65 5-109 5 49 4 114 5-173 5 68 5 32 5-29 4 86 5-90 5 119 5-65 5-106 4 4 5 72 5 28 5-85 5 44 4-12 5-18 5 76 5-84 5 131 5-161 4 136 5-42 5 2 5-63 5-1 4 18 5-8 5 3 5 24 5 83 4 17 5 0 5-101 5 8 5-4 4-16 5 21 5 34 0 118-5-35-5-20-4 16-5 4-5-8-5 101-5 0-4-18-5-82-5-25-5-3-5 8-4-17-5 1-5 62-5-1-5 42-4-136-5 160-5-130-5 84-5-77-5 19-4 12-5-45-5 86-5-28-5-72-4-4-5 106-5 64-5-118-5 90-4-86-5 29-5-32-5-68-5 172-4-114-5-48-5 109-5-65-5 49-4 4-5 15-5-58-5-9-5-10-4 133-5-100-5 8-5 64-5-103-4 0-5 151-5-109-5-95-5 38-4 69-5-26-5 53-5-138-5 85-4 12-5-30-5 12-5-43-5 43-4-36-5 28-5-52-5 4-5 56-4 43-5 20-5-12-5-48-5 0-4 25-5-18-5-6-5 30-5-43-4-2-5 67-5-101-5 145-5-48-4 8-5-42-5 13-5-70-5 47-4-156-5 196-5-157-5 79-5 122-4-90-5-106-5 125-5-5-5 23-4-66-5 25-5 17-5-29-5-62-4 121-5-22-5 97-5-97-5 52-4-57-5 3-5-1-5-50-5 113-4-39-5-49-5-41-5 33-5-9-5 32-4 13-5-46-5 20-5 35-5 2-4-86-5 1-5 64-5-34-5 99-4-95-5-5-5 46-5-68-5 3-4-50-5 135-5-46-5-72-5 162-4 48-5-167-5 89-5-77-5 56-4-48-5 37-5-72-5 60-5 34-4 64-5-200-5 49-5 72-5-89-4 105-5-54-5 35-5-45-5 40-4 16-5-27-5 43-5-91-5 93-4-58-5 49-5-81-5 5-5-67-4 39-5 8-5 73-5-32-5 106-4-107-5-15-5-15-5 7-5 76-4 20-5 33-5-99-5 3-5 56-4-130-5 108-5-39-5-8-5 89-4-133-5 62-5-7-5-11-5 74-4-97-5-31-5-33-5 101-5 22-4-48-5 81-5-94-5 92-5-9-4-75-5-9-5 47-5 56-5-116-4 86-5-88-5 65-5 6-5 22-4-67-5 50-5-65-5 39-5 34-5-39-4 30-5-42-5 32-5-20-5 12-4-4-5 65-5-90-5-65-5 53-4 98-5-94-5 25-5-37-5 99-4-55-5-9-5 28-5-19-5-42-4 10-5 61-5-33-5 63-5-29-4 27-5-75-5 37-5 63-5-143-4 77-5 11-5-57-5 41-5 14-4-18-5 70-5-103-5-22-5 77-4 42-5-146-5 124-5 12-5-22-4-53-5 109-5-114-5-43-5 53-4-80-5 90-5 32-5 17-5-31-4-47-5 61-5-8-5-11-5 23-4-44-5 30-5 33-5-80-5-45-4 46-5 3-5 8-5 1-5-40-4 40-5 69-5 40-5-158-5 39-4 75-5-38-5 68-5-38-5-27-4-57-5 41-5-18-5 42-5-84-4 105-5-65-5 22-5-35-5 41-4 27-5-65-5 31-5-39-5 2-4-28-5 14-5 4-5 27-5-28-5 71-4-63-5 37-5 10-5-21-5 24-4-43-5 0-5 14-5-50-5-38-4 99-5 19-5-86-5-33-5 93-4-91-5 103-5-68-5-8-5-35-4 132-5-79-5 33-5 3-5 42-4 1-5-42-5 22-5 12-5-67-4-75-5 39-5 100-5-104-5 44-4 64-5-49-5 25-5-51-5-85-4 104-5-41-5-18-5 18-5-38-4-9-5 36-5 71-5-10-5-129-4 4-5 122-5-19-5-15-5-109-4 39-5 27-5-7-5 3-5 0-4 1-5-157-5 38-5 70-5-25-4 61-5-77-5-13-5 23-5-14-4-85-5 86-5-15-5 94-5-84-4-51-5 74-5-28-5-21-5 92-4-18-5-64-5 46-5 37-5-73-4 31-5 99-5-25-5 56-5-79-4 62-5 4-5 39-5-5-5-40-5-16-4 135-5-27-5-47-5-6-5 57-4-5-5-29-5 53-5-109-5 141-4-155-5 133-5-35-5 31-5-51-4-10-5 84-5-3-5-72-5 32-4-19-5 27-5-34-5 17-5-31-4 11-5-2-5-64-5 87-5-40-4 69-5 13-5-108-5 12-5-11-4 50-5 82-5-183-5 117-5 0-4-23-5 80-5-63-5-18-5-21-4-15-5 20-5 7-5 5-5-54-4 120-5-78-5 26-5-15-5 14-4-27-5 55-5-29-5 12-5 1-4 24-5-6-5-76-5-31-5 54-4 23-5-34-5 29-5-27-5 0-4 88-5-68-5 83-5-129-5 153-4 9-5-161-5 54-5 65-5-27-4-3-5-29-5-60-5 14-5 34-4 54-5-43-5 21-5-96-5 52-4 9-5-54-5 80-5-18-5 57-4 6-5-84-5 43-5 70-5-69-5 96-4-148-5-33-5 51-5-3-5 26-4 29-5-16-5-50-5 73-5-86-4 73-5-72-5 88-5-124-5 94-4-36-5 96-5-71-5 23-5 1-4-52-5-20-5 99-5 24-5-73-4 79-5-72-5-66-5 30-5 17-4 4-5 52-5-23-5-28-5-6-4 22-5 18-5-45-5 13-5-71-4 92-5-56-5 53-5-30-5 14-4-24-5-4-5 21z" fill="#f08a8a" fill-opacity="0.5"/>
<path transform="scale(.1)" d="M2376 5738l5-22 5 4 4 24 5-14 5 31 5-54 5 56 4-92 5 71 5-12 5 44 5-18 4-22 5 7 5 27 5 23 5-51 4-5 5-17 5-30 5 67 5 72 4-80 5 73 5-24 5-99 5 20 4 52 5-1 5-23 5 71 5-95 4 35 5-94 5 125 5-89 5 72 4-73 5 86 5-73 5 50 5 17 4-29 5-27 5 3 5-51 5 33 4 148 5-96 5 69 5-69 5-44 5 85 4-7 5-57 5 19 5-81 5 54 4-9 5-52 5 97 5-22 5 43 4-54 5-33 5-15 5 61 5 29 4 2 5 27 5-65 5-53 5 160 4-8 5-154 5 129 5-83 5 68 4-88 5 0 5 27 5-29 5 34 4-22 5-55 5 32 5 75 5 6 4-24 5 0 5-13 5 29 5-54 4 26 5-14 5 15 5-26 5 78 4-119 5 53 5-5 5-7 5-20 4 15 5 21 5 18 5 63 5-80 4 23 5 0 5-117 5 184 5-83 4-50 5 11 5-12 5 108 5-13 4-68 5 39 5-86 5 63 5 2 4-11 5 31 5-17 5 34 5-27 4 19 5-32 5 72 5 3 5-84 4 10 5 52 5-32 5 35 5-133 4 155 5-141 5 109 5-53 5 29 4 5 5-56 5 5 5 47 5 27 4-134 5 15 5 40 5 6 5-40 5-4 4-62 5 79 5-56 5 25 5-99 4-31 5 73 5-37 5-46 5 64 4 19 5-93 5 21 5 28 5-74 4 51 5 84 5-94 5 16 5-86 4 84 5 14 5-23 5 14 5 76 4-61 5 25 5-70 5-38 5 157 4-1 5 0 5-3 5 7 5-26 4-40 5 109 5 16 5 18 5-121 4-4 5 128 5 10 5-70 5-36 4 8 5 39 5-19 5 18 5 41 4-103 5 85 5 50 5-25 5 49 4-64 5-44 5 105 5-101 5-39 4 75 5 67 5-12 5-22 5 42 4-1 5-42 5-3 5-33 5 79 4-132 5 36 5 8 5 67 5-103 4 91 5-93 5 33 5 86 5-19 4-99 5 38 5 51 5-15 5 1 4 42 5-24 5 21 5-9 5-38 4 63 5-71 5 28 5-27 5-4 5-14 4 28 5-2 5 40 5-31 5 64 4-26 5-42 5 35 5-22 5 65 4-105 5 84 5-42 5 18 5-41 4 57 5 27 5 39 5-69 5 38 4-75 5-39 5 159 5-41 5-69 4-40 5 40 5-1 5-7 5-3 4-47 5 45 5 80 5-33 5-30 4 45 5-24 5 11 5 8 5-61 4 47 5 31 5-17 5-32 5-90 4 80 5-53 5 43 5 115 5-110 4 53 5 22 5-12 5-124 5 146 4-42 5-77 5 22 5 103 5-70 4 18 5-14 5-41 5 58 5-12 4-77 5 144 5-64 5-37 5 75 4-27 5 30 5-64 5 34 5-62 4-10 5 43 5 18 5-28 5 9 4 56 5-100 5 37 5-25 5 94 4-97 5-54 5 65 5 90 5-65 4 4 5-12 5 20 5-32 5 42 4-30 5 40 5-35 5-39 5 65 5-50 4 67 5-22 5-6 5-64 5 87 4-86 5 117 5-57 5-47 5 10 4 74 5 9 5-91 5 93 5-80 4 48 5-23 5-101 5 33 5 31 4 97 5-74 5 12 5 6 5-62 4 133 5-89 5 8 5 39 5-108 4 130 5-56 5-2 5 99 5-34 4-20 5-76 5-7 5 15 5 16 4 106 5-105 5 32 5-74 5-8 4-39 5 67 5-4 5 80 5-48 4 57 5-93 5 91 5-42 5 26 4-15 5-41 5 45 5-34 5 53 4-105 5 89 5-72 5-49 5 200 4-63 5-35 5-60 5 73 5-38 4 48 5-56 5 77 5-89 5 167 4-48 5-162 5 72 5 47 5-136 4 50 5-3 5 68 5-46 5 5 4 95 5-99 5 35 5-65 5-1 4 86 5-2 5-35 5-20 5 47 4-13 5-32 5 8 5-33 5 41 5 50 4 38 5-113 5 50 5 1 5-3 4 57 5-52 5 97 5-97 5 22 4-120 5 61 5 29 5-16 5-25 4 65 5-23 5 5 5-125 5 107 4 90 5-122 5-80 5 157 5-196 4 157 5-47 5 69 5-13 5 42 4-7 5 48 5-146 5 102 5-68 4 2 5 44 5-31 5 6 5 18 4-24 5 0 5 47 5 12 5-19 4-43 5-56 5-4 5 51 5-28 4 37 5-44 5 43 5-11 5 30 4-13 5-84 5 137 5-53 5 26 4-69 5-38 5 95 5 110 5-151 4 0 5 102 5-64 5-8 5 100 4-133 5 11 5 9 5 57 5-15 4-4 5-49 5 65 5-109 5 48 4 115 5-173 5 68 5 32 5-29 4 86 5-90 5 118 5-64 5-106 4 4 5 72 5 28 5-85 5 44 4-12 5-19 5 77 5-84 5 130 5-160 4 136 5-42 5 2 5-63 5-1 4 18 5-9 5 4 5 24 5 83 4 17 5 0 5-101 5 8 5-4 4-16 5 20 5 35" fill="none" stroke="#e83030" stroke-width="11" stroke-linejoin="round"/>
<path transform="scale(.1)" d="M2376 5774l5 16 5-127 4 13 5 92 5-44 5-29 5-47 4 89 5-31 5-41 5 119 5-41 4-29 5 28 5-116 5 51 5 28 4 47 5-75 5 10 5 47 5-3 4 42 5-57 5-38 5-6 5 17 4-10 5 58 5-5 5-68 5 31 4 51 5-53 5-14 5 5 5 25 4 25 5-37 5-53 5 63 5 33 4-41 5 65 5-60 5 21 5-51 4 35 5-39 5-51 5 103 5 25 5-53 4 23 5-10 5 31 5-47 5 19 4 91 5-78 5-23 5-35 5 72 4 9 5-80 5 72 5-29 5-15 4-11 5 30 5 46 5-87 5 59 4 4 5-103 5 46 5 79 5-24 4-10 5 21 5 47 5-110 5 1 4 21 5 27 5-25 5-18 5 69 4-29 5 9 5-51 5 18 5 63 4-27 5-97 5 111 5-46 5 32 4-76 5 53 5 15 5 30 5-38 4-43 5 6 5 81 5-117 5 74 4 32 5-48 5 31 5-2 5 2 4-22 5 17 5 49 5-91 5 43 4-70 5 27 5-3 5 17 5-45 4 66 5 27 5-54 5 124 5-95 4-24 5 26 5-68 5 22 5 24 4 21 5-61 5 72 5-10 5-47 4 6 5-59 5 92 5 67 5-103 4-24 5 58 5-70 5-9 5 99 4-8 5 32 5-73 5-7 5 4 5 75 4-19 5 27 5 7 5-11 5 10 4-57 5-24 5-8 5 26 5 26 4-27 5-23 5 35 5-14 5 14 4 9 5-22 5 46 5-87 5 105 4-81 5 73 5-116 5 26 5 68 4-15 5 28 5-43 5-19 5-87 4 158 5-105 5 74 5-35 5-24 4 13 5 5 5 25 5-7 5-7 4-42 5 107 5-39 5 30 5-11 4 9 5-76 5-43 5 32 5 103 4-51 5 49 5-64 5-33 5 27 4-11 5 41 5 73 5 1 5-76 4-27 5-28 5 65 5-17 5-7 4-33 5 46 5 41 5-88 5 27 4 1 5 67 5-51 5 69 5 12 4-72 5 8 5-40 5-35 5 59 4-73 5 96 5-55 5 82 5-56 4 18 5-5 5-32 5 100 5-81 4 38 5-38 5-11 5 31 5 0 5 31 4-68 5 49 5-45 5 75 5-112 4 96 5-88 5 65 5-40 5 28 4-33 5 27 5-51 5 24 5-1 4-39 5 95 5-80 5 49 5 62 4-78 5 27 5-76 5 88 5-22 4-8 5 87 5-98 5 61 5-97 4-10 5 67 5 64 5-71 5 0 4-22 5 41 5 36 5-42 5 31 4-108 5 99 5-2 5-24 5 48 4-32 5-13 5 15 5-10 5-60 4 32 5 72 5-37 5-47 5 56 4-29 5 4 5-22 5 28 5-1 4 28 5-49 5 52 5-107 5 71 4 8 5-41 5 35 5-7 5 6 4 27 5 8 5-9 5-74 5 71 4-9 5 2 5-46 5-52 5 117 4-59 5 17 5 17 5-32 5 71 4-85 5 25 5 49 5-104 5 30 4-13 5 105 5-47 5 10 5-46 4-29 5 130 5-77 5 6 5-45 5 42 4 49 5-43 5 33 5-10 5-33 4 21 5-30 5 72 5-154 5 42 4 22 5 81 5 34 5-52 5-25 4-99 5 38 5 73 5-70 5 0 4 48 5-48 5 36 5 39 5 21 4 123 5-210 5 94 5 10 5-86 4 131 5-182 5 91 5-47 5-46 4 133 5-16 5-132 5 101 5-6 4-14 5-33 5-11 5 48 5 18 4-12 5-13 5-41 5 32 5-68 4 108 5-56 5-49 5 19 5 38 4 49 5-7 5-23 5-18 5 22 4 49 5-29 5-51 5-12 5 89 4-41 5 52 5-44 5-165 5 140 4 16 5 10 5 25 5 26 5-73 4 9 5-70 5 125 5-83 5-37 4 133 5-105 5 91 5-86 5-38 4 59 5-11 5 39 5-39 5-34 4 53 5-2 5-21 5-18 5 99 4-68 5 30 5-48 5-21 5 29 5-40 4 92 5-23 5 23 5-42 5-2 4 12 5 41 5-46 5 15 5-42 4 35 5-57 5 37 5 84 5-68 4 50 5-96 5-18 5 58 5-19 4 76 5 32 5-68 5-12 5 51 4-64 5-9 5-14 5-36 5 30 4 47 5-19 5-20 5 66 5-95 4 17 5 45 5 17 5-179 5 119 4-4 5-34 5 33 5 31 5-20 4 65 5-66 5 91 5-79 5-5 4 85 5-140 5 123 5-88 5 63 4-34 5 39 5-126 5 58 5-31 4 41 5 4 5 22 5 15 5-34 4 18 5 13 5 49 5-43 5-37 4 43 5-33 5 20 5 36 5-5 4-7 5-18 5-1 5-56 5 89 4 38 5-109 5 46 5-14 5-107 4 43 5 36 5-15 5 33 5-33 4 63 5 4 5-10 5-82 5 1 4 86 5-71 5 53 5-49 5 56 5-51 4 42 5 8 5-11 5-7 5 29 4 32 5-123 5 84 5 57 5 18 4 22 5-88 5-80 5 121 5-53 4 61 5-119 5 30 0 98-5-30-5 119-4-61-5 53-5-121-5 80-5 88-4-22-5-18-5-57-5-84-5 123-4-32-5-29-5 7-5 11-5-8-4-42-5 51-5-56-5 49-5-53-5 71-4-86-5-1-5 82-5 10-5-4-4-63-5 33-5-33-5 15-5-36-4-43-5 107-5 14-5-46-5 109-4-38-5-89-5 56-5 1-5 18-4 7-5 5-5-36-5-20-5 33-4-43-5 37-5 43-5-49-5-13-4-18-5 34-5-15-5-22-5-4-4-41-5 31-5-58-5 126-5-39-4 34-5-63-5 88-5-123-5 140-4-85-5 5-5 79-5-91-5 66-4-65-5 20-5-31-5-33-5 34-4 4-5-119-5 179-5-17-5-45-4-17-5 95-5-66-5 20-5 19-4-47-5-30-5 36-5 14-5 9-4 64-5-51-5 12-5 68-5-32-4-76-5 19-5-58-5 18-5 96-4-50-5 68-5-84-5-37-5 57-4-35-5 42-5-15-5 46-5-41-4-12-5 2-5 42-5-23-5 23-4-92-5 40-5-29-5 21-5 48-5-30-4 68-5-99-5 18-5 21-5 2-4-53-5 34-5 39-5-39-5 11-4-59-5 38-5 86-5-91-5 105-4-133-5 37-5 83-5-125-5 70-4-9-5 73-5-26-5-25-5-10-4-16-5-140-5 165-5 44-5-52-4 41-5-89-5 12-5 51-5 29-4-49-5-22-5 18-5 23-5 7-4-49-5-38-5-19-5 49-5 56-4-108-5 68-5-32-5 41-5 13-4 12-5-18-5-48-5 11-5 33-4 14-5 6-5-101-5 132-5 16-4-133-5 46-5 47-5-91-5 182-4-131-5 86-5-10-5-94-5 210-4-123-5-21-5-39-5-36-5 48-4-48-5 0-5 70-5-73-5-38-4 99-5 25-5 52-5-34-5-81-4-22-5-42-5 154-5-72-5 30-4-21-5 33-5 10-5-33-5 43-4-49-5-42-5 45-5-6-5 77-5-130-4 29-5 46-5-10-5 47-5-105-4 13-5-30-5 104-5-49-5-25-4 85-5-71-5 32-5-17-5-17-4 59-5-117-5 52-5 46-5-2-4 9-5-71-5 74-5 9-5-8-4-27-5-6-5 7-5-35-5 41-4-8-5-71-5 107-5-52-5 49-4-28-5 1-5-28-5 22-5-4-4 29-5-56-5 47-5 37-5-72-4-32-5 60-5 10-5-15-5 13-4 32-5-48-5 24-5 2-5-99-4 108-5-31-5 42-5-36-5-41-4 22-5 0-5 71-5-64-5-67-4 10-5 97-5-61-5 98-5-87-4 8-5 22-5-88-5 76-5-27-4 78-5-62-5-49-5 80-5-95-4 39-5 1-5-24-5 51-5-27-4 33-5-28-5 40-5-65-5 88-4-96-5 112-5-75-5 45-5-49-4 68-5-31-5 0-5-31-5 11-5 38-4-38-5 81-5-100-5 32-5 5-4-18-5 56-5-82-5 55-5-96-4 73-5-59-5 35-5 40-5-8-4 72-5-12-5-69-5 51-5-67-4-1-5-27-5 88-5-41-5-46-4 33-5 7-5 17-5-65-5 28-4 27-5 76-5-1-5-73-5-41-4 11-5-27-5 33-5 64-5-49-4 51-5-103-5-32-5 43-5 76-4-9-5 11-5-30-5 39-5-107-4 42-5 7-5 7-5-25-5-5-4-13-5 24-5 35-5-74-5 105-4-158-5 87-5 19-5 43-5-28-4 15-5-68-5-26-5 116-5-73-4 81-5-105-5 87-5-46-5 22-4-9-5-14-5 14-5-35-5 23-4 27-5-26-5-26-5 8-5 24-4 57-5-10-5 11-5-7-5-27-4 19-5-75-5-4-5 7-5 73-5-32-4 8-5-99-5 9-5 70-5-58-4 24-5 103-5-67-5-92-5 59-4-6-5 47-5 10-5-72-5 61-4-21-5-24-5-22-5 68-5-26-4 24-5 95-5-124-5 54-5-27-4-66-5 45-5-17-5 3-5-27-4 70-5-43-5 91-5-49-5-17-4 22-5-2-5 2-5-31-5 48-4-32-5-74-5 117-5-81-5-6-4 43-5 38-5-30-5-15-5-53-4 76-5-32-5 46-5-111-5 97-4 27-5-63-5-18-5 51-5-9-4 29-5-69-5 18-5 25-5-27-4-21-5-1-5 110-5-47-5-21-4 10-5 24-5-79-5-46-5 103-4-4-5-59-5 87-5-46-5-30-4 11-5 15-5 29-5-72-5 80-4-9-5-72-5 35-5 23-5 78-4-91-5-19-5 47-5-31-5 10-4-23-5 53-5-25-5-103-5 51-5 39-4-35-5 51-5-21-5 60-5-65-4 41-5-33-5-63-5 53-5 37-4-25-5-25-5-5-5 14-5 53-4-51-5-31-5 68-5 5-5-58-4 10-5-17-5 6-5 38-5 57-4-42-5 3-5-47-5-10-5 75-4-47-5-28-5-51-5 116-5-28-4 29-5 41-5-119-5 41-5 31-4-89-5 47-5 29-5 44-5-92-4-13-5 127-5-16z" fill="#9a9af4" fill-opacity="0.5"/>
<path transform="scale(.1)" d="M2376 5823l5 16 5-127 4 13 5 92 5-44 5-29 5-47 4 89 5-31 5-41 5 119 5-41 4-29 5 28 5-116 5 51 5 28 4 47 5-75 5 10 5 47 5-3 4 42 5-57 5-38 5-6 5 17 4-10 5 58 5-5 5-68 5 31 4 51 5-53 5-14 5 5 5 25 4 25 5-37 5-53 5 63 5 33 4-41 5 65 5-60 5 21 5-51 4 35 5-39 5-51 5 103 5 25 5-53 4 23 5-10 5 31 5-47 5 19 4 91 5-78 5-23 5-35 5 72 4 9 5-80 5 72 5-29 5-15 4-11 5 30 5 46 5-87 5 59 4 4 5-103 5 46 5 79 5-24 4-10 5 21 5 47 5-110 5 1 4 21 5 27 5-25 5-18 5 69 4-29 5 9 5-51 5 18 5 63 4-27 5-97 5 111 5-46 5 32 4-76 5 53 5 15 5 30 5-38 4-43 5 6 5 81 5-117 5 74 4 32 5-48 5 31 5-2 5 2 4-22 5 17 5 49 5-91 5 43 4-70 5 27 5-3 5 17 5-45 4 66 5 27 5-54 5 124 5-95 4-24 5 26 5-68 5 22 5 24 4 21 5-61 5 72 5-10 5-47 4 6 5-59 5 92 5 67 5-103 4-24 5 58 5-70 5-9 5 99 4-8 5 32 5-73 5-7 5 4 5 75 4-19 5 27 5 7 5-11 5 10 4-57 5-24 5-8 5 26 5 26 4-27 5-23 5 35 5-14 5 14 4 9 5-22 5 46 5-87 5 105 4-81 5 73 5-116 5 26 5 68 4-15 5 28 5-43 5-19 5-87 4 158 5-105 5 74 5-35 5-24 4 13 5 5 5 25 5-7 5-7 4-42 5 107 5-39 5 30 5-11 4 9 5-76 5-43 5 32 5 103 4-51 5 49 5-64 5-33 5 27 4-11 5 41 5 73 5 1 5-76 4-27 5-28 5 65 5-17 5-7 4-33 5 46 5 41 5-88 5 27 4 1 5 67 5-51 5 69 5 12 4-72 5 8 5-40 5-35 5 59 4-73 5 96 5-55 5 82 5-56 4 18 5-5 5-32 5 100 5-81 4 38 5-38 5-11 5 31 5 0 5 31 4-68 5 49 5-45 5 75 5-112 4 96 5-88 5 65 5-40 5 28 4-33 5 27 5-51 5 24 5-1 4-39 5 95 5-80 5 49 5 62 4-78 5 27 5-76 5 88 5-22 4-8 5 87 5-98 5 61 5-97 4-10 5 67 5 64 5-71 5 0 4-22 5 41 5 36 5-42 5 31 4-108 5 99 5-2 5-24 5 48 4-32 5-13 5 15 5-10 5-60 4 32 5 72 5-37 5-47 5 56 4-29 5 4 5-22 5 28 5-1 4 28 5-49 5 52 5-107 5 71 4 8 5-41 5 35 5-7 5 6 4 27 5 8 5-9 5-74 5 71 4-9 5 2 5-46 5-52 5 117 4-59 5 17 5 17 5-32 5 71 4-85 5 25 5 49 5-104 5 30 4-13 5 105 5-47 5 10 5-46 4-29 5 130 5-77 5 6 5-45 5 42 4 49 5-43 5 33 5-10 5-33 4 21 5-30 5 72 5-154 5 42 4 22 5 81 5 34 5-52 5-25 4-99 5 38 5 73 5-70 5 0 4 48 5-48 5 36 5 39 5 21 4 123 5-210 5 94 5 10 5-86 4 131 5-182 5 91 5-47 5-46 4 133 5-16 5-132 5 101 5-6 4-14 5-33 5-11 5 48 5 18 4-12 5-13 5-41 5 32 5-68 4 108 5-56 5-49 5 19 5 38 4 49 5-7 5-23 5-18 5 22 4 49 5-29 5-51 5-12 5 89 4-41 5 52 5-44 5-165 5 140 4 16 5 10 5 25 5 26 5-73 4 9 5-70 5 125 5-83 5-37 4 133 5-105 5 91 5-86 5-38 4 59 5-11 5 39 5-39 5-34 4 53 5-2 5-21 5-18 5 99 4-68 5 30 5-48 5-21 5 29 5-40 4 92 5-23 5 23 5-42 5-2 4 12 5 41 5-46 5 15 5-42 4 35 5-57 5 37 5 84 5-68 4 50 5-96 5-18 5 58 5-19 4 76 5 32 5-68 5-12 5 51 4-64 5-9 5-14 5-36 5 30 4 47 5-19 5-20 5 66 5-95 4 17 5 45 5 17 5-179 5 119 4-4 5-34 5 33 5 31 5-20 4 65 5-66 5 91 5-79 5-5 4 85 5-140 5 123 5-88 5 63 4-34 5 39 5-126 5 58 5-31 4 41 5 4 5 22 5 15 5-34 4 18 5 13 5 49 5-43 5-37 4 43 5-33 5 20 5 36 5-5 4-7 5-18 5-1 5-56 5 89 4 38 5-109 5 46 5-14 5-107 4 43 5 36 5-15 5 33 5-33 4 63 5 4 5-10 5-82 5 1 4 86 5-71 5 53 5-49 5 56 5-51 4 42 5 8 5-11 5-7 5 29 4 32 5-123 5 84 5 57 5 18 4 22 5-88 5-80 5 121 5-53 4 61 5-119 5 30" fill="none" stroke="#2323e0" stroke-width="11" stroke-linejoin="round"/>
<line x1="240.6" y1="592" x2="512" y2="592" stroke="#333" stroke-width="1.3" stroke-dasharray="1.3 3.1"/>
<line x1="237.3" y1="473.6" x2="237.3" y2="612.4" stroke="#1b1b1b" stroke-width="1.6"/>
<line x1="231.8" y1="474.4" x2="237.3" y2="474.4" stroke="#1b1b1b" stroke-width="1.6"/>
<text x="230" y="478.7" font-size="12" text-anchor="end" fill="#1b1b1b" stroke="#1b1b1b" stroke-width="0.3">6</text>
<line x1="231.8" y1="513.6" x2="237.3" y2="513.6" stroke="#1b1b1b" stroke-width="1.6"/>
<text x="230" y="517.9" font-size="12" text-anchor="end" fill="#1b1b1b" stroke="#1b1b1b" stroke-width="0.3">4</text>
<line x1="231.8" y1="552.8" x2="237.3" y2="552.8" stroke="#1b1b1b" stroke-width="1.6"/>
<text x="230" y="557.1" font-size="12" text-anchor="end" fill="#1b1b1b" stroke="#1b1b1b" stroke-width="0.3">2</text>
<line x1="231.8" y1="592" x2="237.3" y2="592" stroke="#1b1b1b" stroke-width="1.6"/>
<text x="230" y="596.3" font-size="12" text-anchor="end" fill="#1b1b1b" stroke="#1b1b1b" stroke-width="0.3">0</text>
<line x1="236.5" y1="611.6" x2="512" y2="611.6" stroke="#1b1b1b" stroke-width="1.6"/>
<line x1="237.6" y1="611.6" x2="237.6" y2="617.1" stroke="#1b1b1b" stroke-width="1.6"/>
<text x="237.6" y="630.9" font-size="12" text-anchor="middle" fill="#1b1b1b" stroke="#1b1b1b" stroke-width="0.3">-5</text>
<line x1="306.2" y1="611.6" x2="306.2" y2="617.1" stroke="#1b1b1b" stroke-width="1.6"/>
<text x="306.2" y="630.9" font-size="12" text-anchor="middle" fill="#1b1b1b" stroke="#1b1b1b" stroke-width="0.3">0</text>
<line x1="374.8" y1="611.6" x2="374.8" y2="617.1" stroke="#1b1b1b" stroke-width="1.6"/>
<text x="374.8" y="630.9" font-size="12" text-anchor="middle" fill="#1b1b1b" stroke="#1b1b1b" stroke-width="0.3">5</text>
<line x1="443.4" y1="611.6" x2="443.4" y2="617.1" stroke="#1b1b1b" stroke-width="1.6"/>
<text x="443.4" y="630.9" font-size="12" text-anchor="middle" fill="#1b1b1b" stroke="#1b1b1b" stroke-width="0.3">10</text>
<line x1="512" y1="611.6" x2="512" y2="617.1" stroke="#1b1b1b" stroke-width="1.6"/>
<text x="512" y="630.9" font-size="12" text-anchor="middle" fill="#1b1b1b" stroke="#1b1b1b" stroke-width="0.3">15</text>
<line x1="245.5" y1="482" x2="260.4" y2="482" stroke="#2222dd" stroke-width="1.4"/>
<text x="268.8" y="485.1" font-size="8.8" text-anchor="start" fill="#1b1b1b" stroke="#1b1b1b" stroke-width="0.3" letter-spacing="0.5">0 mA</text>
<line x1="245.5" y1="501.2" x2="260.4" y2="501.2" stroke="#e02a2a" stroke-width="1.4"/>
<text x="268.8" y="504.3" font-size="8.8" text-anchor="start" fill="#1b1b1b" stroke="#1b1b1b" stroke-width="0.3" letter-spacing="0.5">1 mA</text>
<line x1="245.5" y1="520" x2="260.4" y2="520" stroke="#3ac83a" stroke-width="1.4"/>
<text x="268.8" y="523.1" font-size="8.8" text-anchor="start" fill="#1b1b1b" stroke="#1b1b1b" stroke-width="0.3" letter-spacing="0.5">5 mA</text>
<text x="210.6" y="542.6" font-size="14.5" text-anchor="middle" fill="#1b1b1b" stroke="#1b1b1b" stroke-width="0.3" transform="rotate(-90 210.6 542.6)">ΔF/F0 (%)</text>
<text x="375.8" y="645.4" font-size="14.5" text-anchor="middle" fill="#1b1b1b" stroke="#1b1b1b" stroke-width="0.3">Time (sec)</text>
<text x="192.5" y="453.5" font-size="16.5" text-anchor="start" fill="#111" font-weight="bold">g</text>
<line x1="566.7" y1="473.4" x2="566.7" y2="611.8" stroke="#1b1b1b" stroke-width="1.6"/>
<line x1="561.2" y1="611" x2="566.7" y2="611" stroke="#1b1b1b" stroke-width="1.6"/>
<text x="559.4" y="615.3" font-size="12" text-anchor="end" fill="#1b1b1b" stroke="#1b1b1b" stroke-width="0.3">0</text>
<line x1="561.2" y1="576.8" x2="566.7" y2="576.8" stroke="#1b1b1b" stroke-width="1.6"/>
<text x="559.4" y="581.1" font-size="12" text-anchor="end" fill="#1b1b1b" stroke="#1b1b1b" stroke-width="0.3">1</text>
<line x1="561.2" y1="542.6" x2="566.7" y2="542.6" stroke="#1b1b1b" stroke-width="1.6"/>
<text x="559.4" y="546.9" font-size="12" text-anchor="end" fill="#1b1b1b" stroke="#1b1b1b" stroke-width="0.3">2</text>
<line x1="561.2" y1="508.4" x2="566.7" y2="508.4" stroke="#1b1b1b" stroke-width="1.6"/>
<text x="559.4" y="512.7" font-size="12" text-anchor="end" fill="#1b1b1b" stroke="#1b1b1b" stroke-width="0.3">3</text>
<line x1="561.2" y1="474.2" x2="566.7" y2="474.2" stroke="#1b1b1b" stroke-width="1.6"/>
<text x="559.4" y="478.5" font-size="12" text-anchor="end" fill="#1b1b1b" stroke="#1b1b1b" stroke-width="0.3">4</text>
<line x1="565.9" y1="611" x2="677.5" y2="611" stroke="#1b1b1b" stroke-width="1.6"/>
<line x1="579.8" y1="611" x2="579.8" y2="616.5" stroke="#1b1b1b" stroke-width="1.6"/>
<text x="579.8" y="630.3" font-size="12" text-anchor="middle" fill="#1b1b1b" stroke="#1b1b1b" stroke-width="0.3">0 mA</text>
<line x1="622.1" y1="611" x2="622.1" y2="616.5" stroke="#1b1b1b" stroke-width="1.6"/>
<text x="622.1" y="630.3" font-size="12" text-anchor="middle" fill="#1b1b1b" stroke="#1b1b1b" stroke-width="0.3">1 mA</text>
<line x1="664.6" y1="611" x2="664.6" y2="616.5" stroke="#1b1b1b" stroke-width="1.6"/>
<text x="664.6" y="630.3" font-size="12" text-anchor="middle" fill="#1b1b1b" stroke="#1b1b1b" stroke-width="0.3">5 mA</text>
<text x="547" y="540.5" font-size="14.1" text-anchor="middle" fill="#1b1b1b" stroke="#1b1b1b" stroke-width="0.3" transform="rotate(-90 547 540.5)">Normalised AUC to 0 mA</text>
<line x1="580.2" y1="448.4" x2="664" y2="448.4" stroke="#1b1b1b" stroke-width="1.5"/>
<line x1="580.2" y1="477.1" x2="618.7" y2="477.1" stroke="#1b1b1b" stroke-width="1.5"/>
<line x1="625" y1="477.1" x2="664" y2="477.1" stroke="#1b1b1b" stroke-width="1.5"/>
<path d="M614.20,439.30L614.20,445.30M611.60,440.80L616.80,443.80M611.60,443.80L616.80,440.80" stroke="#1b1b1b" stroke-width="1.25"/>
<path d="M621.40,439.30L621.40,445.30M618.80,440.80L624.00,443.80M618.80,443.80L624.00,440.80" stroke="#1b1b1b" stroke-width="1.25"/>
<path d="M628.60,439.30L628.60,445.30M626.00,440.80L631.20,443.80M626.00,443.80L631.20,440.80" stroke="#1b1b1b" stroke-width="1.25"/>
<path d="M636.60,467.30L636.60,473.30M634.00,468.80L639.20,471.80M634.00,471.80L639.20,468.80" stroke="#1b1b1b" stroke-width="1.25"/>
<path d="M643.80,467.30L643.80,473.30M641.20,468.80L646.40,471.80M641.20,471.80L646.40,468.80" stroke="#1b1b1b" stroke-width="1.25"/>
<path d="M651.00,467.30L651.00,473.30M648.40,468.80L653.60,471.80M648.40,471.80L653.60,468.80" stroke="#1b1b1b" stroke-width="1.25"/>
<text x="599" y="470.6" font-size="11" text-anchor="middle" fill="#1b1b1b" stroke="#1b1b1b" stroke-width="0.3">ns</text>
<circle cx="573.8" cy="576.8" r="3" fill="#2222e8"/>
<circle cx="575.8" cy="576.8" r="3" fill="#2222e8"/>
<circle cx="577.8" cy="576.8" r="3" fill="#2222e8"/>
<circle cx="579.8" cy="576.8" r="3" fill="#2222e8"/>
<circle cx="581.8" cy="576.8" r="3" fill="#2222e8"/>
<circle cx="583.8" cy="576.8" r="3" fill="#2222e8"/>
<circle cx="585.8" cy="576.8" r="3" fill="#2222e8"/>
<line x1="622.1" y1="560.4" x2="622.1" y2="562.4" stroke="#ee2a2a" stroke-width="1.25"/>
<line x1="622.1" y1="576.1" x2="622.1" y2="577.8" stroke="#ee2a2a" stroke-width="1.25"/>
<rect x="612.6" y="562.4" width="19" height="13.7" fill="white" fill-opacity="0" stroke="#ee2a2a" stroke-width="1.25"/>
<line x1="612.6" y1="573.4" x2="631.6" y2="573.4" stroke="#ee2a2a" stroke-width="1.25"/>
<line x1="618.1" y1="560.4" x2="626.1" y2="560.4" stroke="#ee2a2a" stroke-width="1.25"/>
<line x1="618.1" y1="577.8" x2="626.1" y2="577.8" stroke="#ee2a2a" stroke-width="1.25"/>
<circle cx="628.1" cy="560.4" r="3.0" fill="#ee2a2a"/>
<circle cx="622.1" cy="561.4" r="3.0" fill="#ee2a2a"/>
<circle cx="616.1" cy="563.1" r="3.0" fill="#ee2a2a"/>
<circle cx="621.1" cy="570" r="3.0" fill="#ee2a2a"/>
<circle cx="627.1" cy="573.4" r="3.0" fill="#ee2a2a"/>
<circle cx="616.1" cy="575.1" r="3.0" fill="#ee2a2a"/>
<circle cx="614.1" cy="577.8" r="3.0" fill="#ee2a2a"/>
<circle cx="622.1" cy="577.8" r="3.0" fill="#ee2a2a"/>
<line x1="664.6" y1="493" x2="664.6" y2="506" stroke="#44cc44" stroke-width="1.4"/>
<line x1="664.6" y1="546.7" x2="664.6" y2="554.6" stroke="#44cc44" stroke-width="1.4"/>
<rect x="654.6" y="506" width="20" height="40.7" fill="white" fill-opacity="0" stroke="#44cc44" stroke-width="1.4"/>
<line x1="654.6" y1="528.2" x2="674.6" y2="528.2" stroke="#44cc44" stroke-width="1.4"/>
<line x1="659.4" y1="493" x2="669.8" y2="493" stroke="#44cc44" stroke-width="1.4"/>
<line x1="659.4" y1="554.6" x2="669.8" y2="554.6" stroke="#44cc44" stroke-width="1.4"/>
<circle cx="664.6" cy="493" r="3.0" fill="#44cc44"/>
<circle cx="657.6" cy="505" r="3.0" fill="#44cc44"/>
<circle cx="671.6" cy="506.7" r="3.0" fill="#44cc44"/>
<circle cx="664.6" cy="522.1" r="3.0" fill="#44cc44"/>
<circle cx="657.6" cy="535.8" r="3.0" fill="#44cc44"/>
<circle cx="671.6" cy="535.8" r="3.0" fill="#44cc44"/>
<circle cx="657.6" cy="554.6" r="3.0" fill="#44cc44"/>
<circle cx="671.6" cy="553.5" r="3.0" fill="#44cc44"/>
<text x="512.4" y="452.8" font-size="16.5" text-anchor="start" fill="#111" font-weight="bold">h</text>
<rect x="130.8" y="694.7" width="136.8" height="136.8" fill="#f5dfc1"/>
<text x="200.6" y="710.3" font-size="12.3" text-anchor="middle" fill="#1b1b1b" stroke="#1b1b1b" stroke-width="0.3">Electrical</text>
<text x="200.6" y="724.8" font-size="12.3" text-anchor="middle" fill="#1b1b1b" stroke="#1b1b1b" stroke-width="0.3">stimuli</text>
<path transform="scale(.1)" d="M618 7896l4-96 4 18 4 29 5 33 4 43 4 79 4 22 4-179 4 34 4 49 5-31 4-68 4 56 4-17 4-38 4 69 4 111 5-87 4 14 4-10 4-23 4-11 4-16 4 46 5-26 4 19 4-29 4-41 4 72 4-47 4 71 4 61 5-102 4-23 4 15 4 72 4-7 4-63 4 43 5-26 4 87 4-117 4-42 4 92 4-50 4-6 5-20 4 97 4-98 4 46 4 85 4-62 4-34 5 75 4-65 4 99 4-100 4 30 4-3 4-53 5-13 4 91 4-34 4 32 4-79 4 65 4 52 5-88 4 5 4-43 4-18 4 110 4-30 4 45 5-47 4-29 4-79 4 115 4-40 4-9 4 12 4-64 5 72 4 38 4-32 4 96 4-109 4-33 4 59 5-62 4-9 4-29 4 109 4 42 4-1 4-47 5 77 4-95 4 14 4 15 4-26 4-45 4 52 5 7 4-80 4 121 4 9 4-146 4 40 4 113 5-19 4-31 4 44 4-25 4-36 4 11 4-17 5 85 4 24 4-106 4 17 4-81 4 38 4 107 5-58 4 7 4-55 4-12 4-61 4 66 4 22 4 2 5-41 4 142 4-55 4-50 4 2 4 34 4-50 5-31 4 38 4 48 4-44 4 1 4-40 4-49 5 98 4 4 4 59 4-66 4 2 4 1 4 6 5-1 4-23 4 39 4 18 4-10 4-51 4 40 5 40 4-135 4 102 4-31 4 40 4 34 4 20 5-17 4-2 4-98 4 87 4-12 4-84 4 56 5-59 4-16 4 122 4-28 4-2 4-96 4-8 4 34 5-115 4 100 4-31 4-26 4 39 4-101 4-6 5-16 4 9 4 20 4-4 4-57 4 54 4-90 5-71 4-14 4 45 4-33 4-36 4-37 4-77 5 59 4-8 4-39 4-4 4-16 4 65 4 7 5-94 4-36 4 99 4-26 4-23 4-4 4-14 5-26 4 25 4 103 4-50 4 117 4 17 4-37 5 32 4-66 4-75 4 66 4 3 4 30 4-34 4 33 5 3 4-6 4 25 4-6 4-30 4 53 4-74 5 105 4-43 4 109 4 18 4-71 4 18 4 3 5-51 4 62 4 14 4 61 4-82 4 24 4 9 5 128 4-55 4-20 4 19 4-44 4 72 4 4 5-55 4 16 4 69 4 36 4 3 4 11 4-64 5-5 4 102 4-25 4 33 4 109 4-166 4-52 5 130 4 9 4-65 4 36 4-12 4 15 4-25 4-14 5 35 4-26 4 29 4-17 4 71 4-89 4 72 5 7 4-52 4-13 4 6 4-23 4 60 4 10 5-49 4 58 4 20 4-127 4 63 4 45 4-21 5 20 4-103 4 53 4-57 4 80 4-12 4-66 5 114 4-80 4 32 4-16 4 34 4 4 4 100 5-184 4 95 4 13 4-84 4 27 4-42 4-15 5-4 4 32 4 10 4 97 4-76 4 29 4-28 4 17 5 53 4-70 4-27 4 63 4-41 4-33 4-24 5 88 4 66 4-69 4-75 4 102 4-54 4 75 5-59 4 24 4-33 4 50 4-95 4 63 4 3 5-20 4 2 4 35 4-37 4 65 4-45 4-54 5 32 4 46 4-14 4 86 4-100 4-71 4 36 5 44 4 20 4 26 4-24 4-23 4-47 4 4 5 55 4-18 4-10 4 10 4 90 4 33 4-68 4-88 5 5 4 48 4-55 4 43 4-76 4 30 4 67 5-56 4 71 4 50 4-42 4-58 4 33 4 89 5-75 4-25 4-111 4 19 4 54 4 74 4-40 5 61 4-63 4-30 4-24 4 39 4-9 4 45 5-93 4 0 4 55 4 45 4-34 4-52 4 7 5-23 4 16 4 97 4-104 4-36 4 26 4-9 5 131 4-2 4 1 4-77 4 56 4 23 4-103 4-28 5 98 4-134 4 108 4-17 4 27 4-36 4-7 5 72 4-62 4 99 4-131 4 62 4-56 4 84 5 18 4-63 4-29 4 132 4-45 4-54 4 5 5 73 4-83 4 60 4-31 4-63 4 83 4 8 5 74 4-38 4 4 4-117 4-91 4 177 4-112 5 3 4 64 4-17 4-69 4 125 4 66 4-66 5-51 4 38 4 23 4-106 4 52 4-18 4-2 4 32 5 31 4-24 4-16 4 94 4-83 4 9 4-37 5-1 4 79 4-32 4 52 4 6 4-128 4-30 5 1 4 26 4 25 4 9 4 89 4-1 4-131 5-52 4 71 4 59 4-13 4-3 4 53 4 38 5-69 4-12 4 9 4-158 4 89 4 69 4-35 5 73 4-98 4 24 4 20 4-13 4-75 4 58 5 70 4-139 4 31 4 6 4 52 4 12 4-11 4-6 5 21 4 1 4-87 4-8 4 116 4 12 4-2 5 7 4 6 4-53 4-60 4 74 4 80 4-94 5-44 4 62 4-81 4 33 4 46 4-14 4-12 5 23 4-29 4 19 4-111 4 35 4 5 4 140 5-1 4-12 4-143 4 62 4-28 4 76 4 5 5-109 4 56 4 87 4-31 4-94 4-5 4 19 5 37 4 14 4-45 4 64 4-64 4 33 4-14 4-15 5 54 4-164 4 105 4 11 4 53 4-10 4-33 5 53 4 45 4-62 4-60 4 163 4-29 4-66 5-17 4-80 4 124 4-55 4-6 4 6 4 3 5-75 4 22 4 6 4-4 4 82 4-9 4 22 5-83 4 77 4-85 4 13 4-1 4 5 4-13 5-8 4 1 4 24 4-43 4 47 4 85 4 8 5-138 4 27 4 21 4 8 4 22 4-150 4 154 4-2 5-52 4 90 4 6 4-58 4-16 4-7 4-2 5 61 4-31 4-149 4 98 4 70 4 76 4-108 5-62 4 68 4-54 4 69 4-8 4 0 4 0 5-53 4 66 4-48 4-4 4 70 4-54 4-48 5 69 4 4 4-19 4-39 4-11 4 3 0 156-4 59-4 13-4-52-4 33-4-7-5-72-4 28-4 87-4-105-4-32-4 88-4 37-5-78-4 84-4-85-4-12-4-24-4 78-4-37-5 18-4 171-4-142-4-124-4 79-4-10-4 49-5-75-4 108-4-10-4 32-4-13-4-37-4-4-5-20-4-25-4-98-4 132-4-21-4-44-4-20-4-11-5 153-4-44-4-40-4-16-4-37-4 9-4 46-5-63-4 51-4-41-4 21-4 21-4 16-4 76-5-52-4 50-4-74-4 72-4-132-4 22-4 17-5 34-4 29-4-38-4-31-4 51-4-17-4-14-5 57-4 108-4-61-4-69-4-39-4 93-4 4-5-60-4-38-4 29-4-37-4-50-4-28-4 105-5-55-4 60-4 5-4-17-4 6-4-53-4 94-4 82-5-170-4-47-4 57-4 45-4 143-4-163-4 16-5-7-4 111-4-130-4 24-4-59-4 90-4 13-5 11-4-95-4 109-4-116-4 10-4 130-4-73-5 23-4-82-4 25-4-37-4 77-4 26-4-92-5 116-4-10-4-36-4 17-4-13-4-25-4 52-5-38-4-10-4 99-4-123-4-49-4 94-4-60-5-21-4 75-4-69-4 40-4-92-4 73-4-61-4 114-5-31-4-82-4 23-4 41-4-42-4 29-4 62-5-70-4 39-4-75-4 48-4 15-4 12-4-4-5 81-4-59-4 15-4-19-4-35-4-15-4-11-5 8-4 70-4 9-4-104-4 8-4 36-4-35-5-57-4 57-4 120-4 69-4-97-4-35-4-48-5-22-4 37-4 56-4 38-4-11-4-51-4 36-5-58-4 44-4-64-4 91-4-73-4 30-4-21-4 34-5 51-4-21-4-52-4 14-4-77-4 41-4-52-5-8-4 95-4-51-4-50-4 133-4 27-4 25-5-48-4-62-4-78-4 146-4-57-4-24-4 64-5 61-4-157-4 52-4 49-4-128-4 74-4 22-5-40-4 1-4 26-4 43-4-16-4-3-4 12-5 2-4-54-4 8-4 20-4 44-4-104-4 32-5-16-4-51-4 81-4 29-4-100-4 66-4 21-4 13-5-97-4 24-4-27-4-20-4 122-4-68-4-54-5 38-4 43-4 9-4 34-4-20-4-49-4-22-5 82-4 7-4-40-4 73-4-86-4 24-4 11-5-27-4 48-4-66-4-88-4-6-4 122-4 47-5 26-4-95-4-1-4 21-4 46-4-8-4-117-5 102-4-50-4 28-4 49-4-118-4 40-4 51-5 6-4 67-4-16-4 29-4-73-4 21-4-32-4 2-5-24-4-69-4 52-4 15-4 31-4-28-4-47-5-2-4 98-4 11-4-12-4-56-4-24-4-38-5 9-4 22-4 52-4-74-4 57-4-16-4-55-5 91-4-65-4-52-4 128-4-16-4-46-4 89-5-39-4 37-4-42-4-122-4 63-4 92-4 28-5-71-4-81-4 130-4 9-4-150-4 75-4 85-5-75-4 62-4-83-4 70-4-7-4-69-4 41-4-36-5-96-4 19-4 88-4-6-4 76-4-58-4-8-5 78-4-59-4-51-4 22-4 19-4-79-4 72-5-54-4 22-4 10-4 75-4-19-4 31-4-70-5 30-4 2-4 5-4-58-4 33-4-10-4 6-5-1-4 30-4-122-4 57-4-8-4 3-4 29-5 56-4-120-4 130-4-58-4 31-4-34-4-48-5 88-4-39-4 3-4 25-4-77-4 4-4 30-4-8-5-111-4 68-4 161-4-113-4-53-4 33-4-49-5-27-4 106-4-42-4 4-4-54-4-6-4-41-5 19-4 27-4-72-4 13-4 56-4-49-4 46-5-80-4-69-4 4-4 73-4-24-4-40-4-63-5 107-4-69-4 36-4 31-4-30-4-85-4 32-5-5-4 39-4-32-4 78-4-7-4-42-4-86-5 18-4 54-4-53-4 12-4-33-4-47-4 16-4 83-5-9-4 49-4-64-4-16-4-12-4-73-4 64-5-37-4-73-4 36-4 11-4 9-4-68-4 67-5 34-4 24-4-5-4-49-4-31-4 48-4 48-5-103-4 91-4 14-4 35-4 40-4 17-4-31-5 70-4 91-4-20-4-19-4 21-4-9-4-37-5 19-4 29-4 41-4 12-4 39-4-34-4-31-5 27-4 58-4-59-4 104-4-5-4 17-4-85-4 38-5-23-4 22-4 37-4-4-4-39-4 45-4 3-5 52-4-54-4-30-4 12-4-23-4-9-4 24-5 13-4-20-4-4-4 68-4 29-4-58-4-71-5-5-4 25-4-15-4-13-4 97-4 57-4-95-5-69-4 11-4 68-4 41-4-65-4-9-4-46-5 41-4 54-4-70-4 39-4 76-4 38-4-143-5-8-4-12-4 26-4-104-4 48-4 113-4 13-4-74-5 66-4-74-4 5-4 31-4-25-4 106-4-22-5-103-4 33-4 23-4 24-4 29-4-24-4-36-5 24-4-46-4-96-4 173-4-24-4-60-4-3-5 4-4-8-4 131-4-97-4-43-4 107-4-7-5 14-4 87-4-88-4-95-4-78-4 94-4 15-5-13-4-83-4 18-4 131-4-71-4 59-4-114-5-72-4 141-4-71-4 49-4 77-4-84-4-3-4 94-5 26-4-89-4-3-4-122-4 169-4-77-4-14-5 75-4-39-4-49-4 49-4 104-4-82-4-12-5-87-4 96-4-31-4 34-4 75-4-32-4-15-5-20-4-45-4 127-4-152-4-13-4 77-4-111-5 45-4-22-4 107-4-65-4-28-4 111-4-81-5 8-4 27-4-8-4 15-4 11-4-100-4 127-5 2-4-61-4-58-4 57-4 7-4 11-4-49-4 54-5-5-4-83-4 72-4-2-4 47-4-35-4-50-5 115-4-61-4 2-4-65-4 63-4-122-4 98-5-15-4 18-4-39-4 119-4-33-4 82-4-72-5-130-4-17-4 75-4-12z" fill="#3a3a3a" fill-opacity="0.65"/>
<path transform="scale(.1)" d="M618 7948l4-42 4-29 4 23 5 81 4 58 4-2 4 28 4-149 4 36 4 16 5-8 4-83 4 89 4-40 4 13 4 34 4 86 5-101 4 32 4 12 4-35 4-4 4-44 4 65 5-11 4-17 4 9 4-25 4 32 4-52 4 64 4 62 5-52 4-76 4 58 4 30 4-11 4-27 4 8 5-17 4 84 4-114 4-7 4 78 4-78 4 8 5-32 4 103 4-87 4 30 4 118 4-95 4 6 5 48 4-26 4 66 4-88 4-2 4 15 4-75 5 37 4 52 4 23 4-36 4-63 4 57 4 45 5-81 4 9 4 17 4-94 4 117 4-14 4 67 5-36 4-62 4-38 4 100 4-59 4-29 4 41 4-102 5 72 4 76 4-45 4 83 4-120 4-25 4 71 5-25 4-12 4-61 4 93 4 69 4 43 4-67 5 31 4-43 4-47 4 29 4 36 4-89 4 31 5 1 4-39 4 91 4 17 4-160 4 68 4 80 5-22 4 2 4 34 4-27 4-29 4-6 4-25 5 93 4 24 4-106 4 21 4-56 4 16 4 90 5-61 4 40 4-34 4-62 4-55 4 85 4-2 4 7 5-16 4 142 4-47 4-63 4-18 4 52 4-52 5-36 4 42 4 29 4 10 4-20 4-54 4-30 5 83 4 50 4 1 4-82 4 8 4 8 4-9 5 1 4 24 4 49 4-5 4-40 4-23 4 30 5 13 4-79 4 55 4-3 4 13 4 32 4 37 5-34 4-3 4-71 4 63 4-4 4-60 4 16 5-17 4-27 4 103 4-22 4 1 4-100 4 25 4-12 5-70 4 65 4 1 4-32 4 13 4-71 4-17 5-17 4 23 4 14 4-13 4-18 4 36 4-90 5-71 4 9 4 14 4-37 4-35 4-26 4-83 5 81 4-29 4-43 4 13 4 17 4 35 4-8 5-64 4-52 4 84 4-18 4-17 4-20 4 29 5 6 4-20 4 88 4-19 4 67 4 41 4-43 5 20 4-74 4-46 4 57 4 18 4 8 4 10 4-10 5-8 4 40 4 34 4 0 4-54 4 42 4-56 5 55 4-38 4 98 4 23 4-50 4-10 4 36 5-79 4 63 4 27 4 42 4-77 4 10 4 39 5 104 4-50 4 14 4-19 4-28 4 72 4-12 5-36 4 28 4 38 4 45 4-1 4 26 4-85 5 11 4 76 4-29 4 43 4 111 4-164 4-60 5 121 4 9 4-48 4 16 4 32 4-5 4-14 4 13 5-26 4 10 4 32 4-24 4 64 4-109 4 96 5-24 4-41 4-8 4 7 4-40 4 91 4-10 5-24 4 26 4 15 4-80 4 61 4 20 4-12 5-5 4-17 4 12 4-20 4 3 4-11 4-44 5 84 4-76 4 56 4-18 4 6 4 28 4 79 5-131 4 51 4 36 4-80 4 16 4-65 4-16 5 45 4 34 4-15 4 83 4-34 4-21 4 27 4-22 5 64 4-78 4-51 4 107 4-25 4-82 4 29 5 79 4 19 4-80 4-69 4 112 4-6 4 19 5-10 4-33 4 7 4 33 4-112 4 58 4 34 5-56 4 29 4 25 4-46 4 69 4-49 4-38 5 12 4 42 4 5 4 71 4-44 4-41 4-31 5 23 4 34 4 27 4-28 4-19 4-49 4 36 5 39 4-9 4 10 4-5 4 82 4 1 4-26 4-77 5 0 4-2 4-47 4 80 4-62 4 1 4 58 5-79 4 94 4 29 4-44 4-40 4 17 4 93 5-51 4-36 4-116 4 12 4 71 4 70 4-44 5 44 4-37 4-27 4 31 4-17 4 16 4 18 5-87 4 11 4 52 4 32 4-34 4-30 4-18 5-31 4 35 4 83 4-113 4-8 4 27 4-17 5 114 4-7 4-11 4-71 4 78 4-3 4-92 4 11 5 57 4-82 4 105 4-30 4 3 4-22 4 24 5 35 4-37 4 51 4-58 4 10 4-41 4 41 5 30 4-43 4-52 4 131 4-47 4-53 4 80 5 7 4-74 4 42 4 13 4-104 4 80 4 35 5 61 4-31 4-12 4-125 4-20 4 113 4-103 5 5 4 58 4-29 4 4 4 56 4 59 4-22 5-51 4 2 4 21 4-68 4 63 4-55 4 31 4-5 5 44 4-30 4 17 4 53 4-61 4-23 4-37 5 10 4 64 4 1 4 75 4-32 4-123 4-44 5 29 4 31 4-6 4 0 4 97 4-5 4-101 5-29 4 40 4 38 4 11 4 8 4 18 4 49 5-75 4-4 4-2 4-86 4 21 4 71 4-36 5 71 4-80 4-3 4 31 4-26 4-49 4 70 5 50 4-126 4 46 4-34 4 72 4-14 4 29 4-40 5 21 4 30 4-91 4 21 4 119 4-43 4 4 5 23 4-24 4-13 4-24 4 29 4 58 4-42 5-80 4 76 4-53 4-22 4 42 4-20 4 35 5 0 4 22 4-56 4-60 4 75 4-51 4 117 5-6 4-13 4-116 4 61 4-26 4 102 4-52 5-51 4 19 4 126 4-87 4-70 4-31 4 33 5 103 4-34 4-69 4 58 4-35 4 26 4-10 4-37 5 54 4-134 4 66 4 31 4 44 4-19 4 3 5 56 4 21 4-78 4-10 4 116 4 16 4-87 5-38 4-32 4 70 4-53 4 13 4 22 4-13 5-55 4 2 4-8 4 64 4 5 4 33 4-14 5-16 4 1 4-50 4-5 4-10 4 22 4-32 5 28 4-23 4 8 4-3 4 31 4 63 4 26 5-145 4 19 4 20 4 26 4 21 4-141 4 126 4 12 5-16 4 47 4 22 4-23 4-24 4 1 4-54 5 68 4-41 4-69 4 10 4 97 4 108 4-139 5-40 4 52 4-65 4 46 4 2 4 43 4-43 5 13 4 14 4-68 4 15 4 87 4-70 4-39 5 71 4 5 4-26 4 7 4-12 4-28" fill="none" stroke="#151515" stroke-width="10" stroke-linejoin="round"/>
<path transform="scale(.1)" d="M618 7973l4-47 4-4 4-93 5-4 4 96 4-48 4 58 4 82 4-72 4-55 5 94 4-83 4-37 4 67 4-3 4-17 4 18 5-35 4 53 4-43 4-74 4 55 4 100 4 59 5-111 4-12 4 15 4 21 4 55 4-88 4 17 4-26 5-11 4 35 4-49 4 108 4-153 4 90 4-18 5-91 4 94 4-72 4 73 4 90 4-75 4-65 5 53 4 44 4 7 4-77 4 2 4-40 4 42 5-56 4 144 4-131 4 50 4-11 4 38 4-5 5-17 4-68 4 4 4 19 4-58 4 59 4 37 5 42 4-142 4 109 4-52 4-41 4 115 4-64 5 1 4 72 4 57 4-53 4 73 4-99 4 15 4-80 5 70 4-48 4-7 4-42 4 68 4-19 4 62 5 63 4-82 4-11 4 76 4-16 4-94 4 53 5 17 4 18 4-109 4-29 4 14 4 87 4-96 5 36 4 91 4 45 4-39 4-127 4 37 4-83 5 54 4 78 4-54 4 38 4 15 4 36 4 43 5-31 4-89 4 45 4 58 4-58 4 12 4-8 5 39 4 34 4-131 4 58 4-49 4-23 4-25 4 51 5 21 4 3 4-50 4 34 4 16 4 4 4-8 5-19 4 10 4-58 4 46 4 11 4-7 4 47 5 29 4-44 4-30 4-48 4 60 4 24 4 7 5-62 4-27 4 113 4-54 4 1 4 24 4-13 5 11 4 5 4-64 4-74 4 108 4-55 4 33 5-73 4 5 4 140 4-14 4-154 4 77 4 37 5-66 4 136 4 56 4-161 4-48 4 82 4-55 4 0 5 7 4 1 4 23 4-15 4-56 4-9 4-93 5-12 4 102 4-77 4-82 4 25 4-65 4 47 5-82 4 76 4-80 4 43 4-106 4 74 4 65 5-123 4-6 4-45 4-7 4-39 4 92 4-90 5-4 4-63 4 15 4 99 4-43 4-3 4 39 5 51 4-21 4-112 4 70 4-15 4 55 4-38 5 39 4-9 4-19 4 6 4-63 4 87 4-39 4-96 5 41 4 77 4-24 4 67 4-96 4 23 4 16 5-46 4 91 4 32 4 6 4-27 4-42 4 1 5-102 4 44 4 59 4-49 4 63 4 1 4-121 5 56 4 33 4 55 4 1 4-19 4-45 4-7 5 57 4-50 4 133 4-94 4 34 4 79 4-46 5-7 4-36 4-15 4 82 4-2 4-4 4 52 5-10 4 18 4 32 4 45 4-30 4-57 4-2 4 48 5-74 4 21 4 29 4-52 4 0 4 41 4 47 5 32 4 37 4-42 4-10 4 27 4-108 4 88 5-37 4-29 4 98 4-1 4 100 4-98 4-54 5 58 4 120 4-176 4 49 4 68 4-69 4 62 5 70 4-64 4 41 4-48 4-52 4 50 4 105 5-89 4 6 4-38 4 85 4-79 4 26 4-9 5 79 4-71 4 47 4 42 4 63 4-13 4-104 4-1 5-2 4 41 4-8 4-45 4 39 4-15 4 42 5 1 4 75 4-85 4 19 4 5 4-37 4 31 5 33 4-53 4-26 4 78 4-30 4-24 4 81 5 60 4 24 4-127 4-13 4 93 4-8 4-34 5-6 4-37 4-129 4 154 4-5 4 19 4 10 5 1 4-4 4-50 4-16 4 4 4 56 4-123 5 94 4 18 4-116 4 93 4-34 4-45 4 51 4 90 5-74 4 14 4 32 4-127 4 74 4-19 4 67 5-21 4 54 4-68 4 59 4 1 4-40 4-7 5-7 4-54 4 65 4 81 4-74 4-16 4-94 5 32 4 7 4 70 4-29 4 2 4-14 4-28 5 35 4 39 4-11 4 33 4-40 4 60 4-63 5-13 4-94 4 105 4-5 4-4 4 2 4 32 5-7 4 62 4-52 4-27 4 81 4 0 4-82 4-42 5 63 4-65 4-18 4 29 4 66 4 12 4 68 5-51 4-66 4 64 4-114 4-7 4 83 4-40 5 96 4-2 4-23 4-76 4 56 4 32 4-125 5 47 4-27 4-6 4 24 4 38 4 6 4 79 5-115 4-4 4 114 4-51 4 62 4-190 4 41 5-32 4 13 4 31 4-1 4 27 4 43 4 17 5-49 4 26 4-73 4 13 4 33 4 79 4-66 4-41 5 35 4 26 4-23 4-61 4 143 4-103 4 76 5-38 4-85 4 40 4 9 4 23 4 2 4-126 5 37 4 87 4-29 4 26 4-99 4 45 4-3 5 37 4 70 4-172 4 81 4 86 4 5 4-6 5-17 4 30 4-100 4 12 4-36 4 42 4-25 5 13 4-32 4-7 4 27 4 78 4 40 4-16 5-5 4-5 4 0 4-101 4 15 4 126 4-10 4 12 5-71 4-68 4 49 4-4 4 13 4-79 4-9 5 62 4-6 4 10 4 34 4 52 4-101 4 30 5 27 4-10 4 0 4-28 4 45 4-67 4 37 5-48 4 77 4 49 4-100 4-40 4 72 4-31 5-56 4 8 4 53 4 10 4 17 4 2 4-26 5-59 4 94 4 39 4 7 4-128 4 135 4-3 5-150 4 17 4 99 4-24 4-68 4 28 4-33 4 103 5-74 4 26 4-27 4 11 4-3 4-105 4 122 5-12 4 39 4-1 4-1 4-18 4-30 4-22 5-75 4 46 4 64 4-54 4 38 4-88 4 154 5-97 4 48 4-84 4 97 4-54 4 49 4 104 5-48 4-51 4-12 4 104 4-22 4-25 4-37 5-2 4 29 4 51 4-103 4 25 4-100 4 101 5-36 4 21 4 5 4-10 4-27 4 86 4-37 4-29 5-40 4 46 4-195 4 143 4 18 4-6 4-5 5 0 4 13 4-10 4-43 4-83 4 223 4-69 5 2 4 117 4-10 4-50 4 15 4-49 4 29 5-27 4-40 4-23 4 63 4 16 4 10 4-74 5 19 4-91 4 119 4-96 4 84 4 16 0 119-4-8-4-40-4-5-4-45-4 21-5 9-4 54-4-22-4 26-4-9-4-59-4 37-5 139-4-114-4 19-4 2-4 25-4 41-4-90-5 42-4 15-4-77-4-112-4 116-4-53-4 44-5-29-4 68-4-40-4-9-4-46-4 35-4 135-5-1-4-69-4-6-4-26-4 0-4 9-4 62-4-81-5 26-4 13-4-12-4 23-4 36-4-41-4-49-5 51-4 22-4 47-4 3-4-87-4 32-4 40-5-15-4-71-4-16-4 20-4 5-4 10-4-55-5 55-4-75-4 3-4-6-4 43-4-90-4 25-5 5-4 99-4 36-4-55-4 10-4 3-4-27-5 13-4 7-4 38-4-92-4-1-4 20-4 0-5 53-4 30-4-110-4 28-4 49-4 30-4-118-4-15-5 171-4 24-4-111-4 35-4 6-4-3-4-111-5 49-4 46-4 103-4-122-4-20-4-48-4 30-5 9-4 40-4-36-4 62-4 25-4-44-4-101-5 56-4-36-4 97-4 65-4-107-4-1-4 8-5-13-4 39-4 8-4-28-4-21-4-42-4-1-5-25-4 52-4 22-4-20-4 78-4-109-4 53-5 61-4 18-4 4-4-118-4-23-4 135-4-59-4 9-5 22-4 2-4-37-4-26-4-25-4-9-4 52-5 19-4-4-4-57-4-8-4 21-4 116-4-51-5-11-4-1-4-8-4-19-4 34-4 32-4-55-5-67-4 18-4-67-4 106-4 60-4-84-4-89-5 16-4 93-4 6-4-36-4-6-4-58-4 120-5 59-4-62-4 30-4-102-4 44-4 92-4-108-5-44-4 46-4 98-4-87-4-59-4 27-4 80-4-21-5-6-4-11-4 62-4-89-4-27-4-46-4 48-5 12-4 3-4 107-4 16-4 4-4-24-4-127-5 132-4-27-4-35-4-13-4-9-4 28-4-76-5-19-4 107-4-34-4 50-4-22-4 49-4-39-5-74-4 22-4-76-4 73-4 57-4-40-4 71-5 11-4-61-4-22-4-46-4 19-4 35-4-16-5 10-4 76-4-3-4-25-4 10-4 13-4-3-4 31-5-100-4 15-4-4-4 21-4-71-4-35-4 25-5 16-4 86-4-71-4 48-4-18-4 1-4-38-5 15-4-23-4 168-4-158-4 15-4-38-4 0-5 60-4 1-4 64-4 14-4-116-4-27-4 55-5 13-4-12-4 46-4 4-4 33-4-56-4-57-5 27-4-23-4 81-4-51-4 17-4-64-4-8-5 153-4-137-4-44-4 25-4 62-4-111-4 92-4 62-5-98-4 94-4-47-4 18-4 55-4-60-4 46-5-17-4-5-4-36-4-12-4-47-4 81-4-8-5 5-4 7-4 11-4-52-4 17-4 104-4 12-5-73-4-48-4-4-4-5-4-57-4 43-4 46-5 47-4-114-4 102-4-10-4-22-4 17-4-70-5-28-4-6-4 108-4-17-4-44-4-47-4 3-5 24-4-55-4 102-4 7-4-16-4-93-4 90-4-8-5-59-4-41-4-10-4 60-4-106-4 76-4-13-5 53-4-82-4 112-4-62-4 50-4-73-4 42-5-38-4-28-4 37-4-15-4-84-4 126-4-77-5 16-4-25-4 158-4-205-4 61-4-72-4-53-5 83-4 3-4-18-4 19-4 28-4-18-4 36-5-66-4-84-4 12-4 15-4-2-4 23-4-67-5 89-4 37-4-7-4-27-4 71-4-92-4 94-4-71-5-13-4-95-4 5-4 44-4-109-4-8-4 133-5 57-4-59-4-47-4-60-4 66-4-48-4-18-5 16-4 89-4-57-4 47-4-106-4-28-4-11-5 55-4-35-4 30-4-91-4 59-4-49-4-69-5 107-4 73-4 65-4-42-4-6-4-23-4-52-5-20-4 25-4 35-4-21-4 72-4-104-4-89-5 49-4 63-4 57-4-152-4 59-4 26-4 59-4-61-5-29-4 24-4-42-4 22-4-2-4 52-4 12-5-46-4-36-4 67-4-50-4-95-4 157-4-39-5 47-4-8-4 12-4-60-4 43-4-24-4 31-5 119-4-45-4-68-4 101-4-64-4 61-4-12-5-11-4 9-4 10-4-11-4 105-4 69-4-93-5-19-4 100-4 19-4 39-4-20-4 45-4-66-5 24-4 29-4 64-4-104-4 42-4 121-4-55-4-162-5 80-4 2-4-33-4 58-4 58-4 16-4-184-5 89-4 125-4-14-4-138-4 53-4 98-4-88-5-2-4 17-4 92-4-145-4 39-4 23-4-78-5 99-4-4-4-54-4-40-4 38-4 57-4 15-5-22-4-34-4-62-4 38-4-23-4 31-4-24-5 7-4 12-4 54-4-85-4 23-4 12-4 25-5-24-4-40-4-23-4 85-4-21-4-13-4 164-4-122-5 5-4-37-4 27-4 122-4-85-4-6-4 13-5 8-4-18-4-72-4 25-4-57-4 77-4-27-5-101-4 146-4-130-4 145-4 9-4-50-4-47-5-17-4 54-4 11-4-115-4 74-4 72-4-38-5 10-4-18-4 29-4 21-4-23-4 36-4 4-5 32-4-111-4 2-4-111-4 41-4 43-4 12-5-62-4 90-4 64-4 54-4-58-4 43-4-103-4-39-5-38-4 200-4-201-4 54-4-5-4 48-4-14-5-18-4 47-4-112-4 38-4-63-4 44-4 73-5 8-4-24-4-45-4-3-4-19-4 171-4-81-5-76-4 17-4 31-4 27-4 37-4 71-4-108-5-74-4 68-4 63-4-82-4 20-4-33-4 23-5-5-4 40-4-113-4 167-4-120-4 106-4-79-5 92-4-33-4 10-4-12-4 2-4 11-4-32-4-50-5 119-4-17-4-153-4 52-4-34-4 73-4-69-5 41-4 36-4-37-4 17-4-55-4 34-4 64-5-105-4 67-4 39-4-23-4-94-4 25-4 3-5-56-4 55-4 36-4 82z" fill="#b08048" fill-opacity="0.65"/>
<path transform="scale(.1)" d="M618 8043l4-65 4-19 4-75 5 26 4 47 4-37 4 76 4 53 4-56 4-61 5 100 4-73 4-36 4 61 4-10 4 10 4-9 5-38 4 61 4-58 4-20 4 1 4 127 4 38 5-115 4 19 4 24 4 4 4 27 4-38 4 4 4 3 5-51 4 57 4-78 4 114 4-160 4 102 4-29 5-44 4 36 4-20 4 27 4 86 4-69 4-67 5 64 4 76 4-32 4-57 4-13 4-35 4 12 5 11 4 112 4-151 4 34 4-4 4 42 4 9 5-12 4-71 4-19 4 40 4-47 4 85 4-5 5 30 4-64 4 30 4-23 4-47 4 158 4-133 5 20 4 55 4 81 4-48 4 65 4-77 4-24 4-85 5 66 4-30 4-25 4-41 4 89 4-10 4 86 5 16 4-44 4-23 4 49 4-18 4-62 4 36 5 3 4 29 4-91 4-51 4 64 4 38 4-75 5 26 4 69 4 48 4-24 4-136 4 83 4-114 5 77 4 53 4-66 4 48 4-5 4 54 4 30 5-19 4-51 4 26 4 71 4-90 4-8 4 15 5 17 4 78 4-147 4 35 4-14 4-54 4-1 4 45 5 23 4-11 4-31 4 5 4 51 4-25 4-10 5-13 4 17 4-45 4 35 4-13 4 27 4 40 5 26 4-30 4-43 4-43 4 50 4 39 4 6 5-81 4 26 4 44 4-46 4 73 4-34 4-15 5 6 4 47 4-81 4-64 4 123 4-20 4-46 5-81 4 94 4 63 4-36 4-106 4 54 4 18 5-73 4 149 4 56 4-141 4-45 4 93 4-60 4-14 5-9 4 34 4-11 4 2 4-47 4-15 4-96 5 3 4 98 4-73 4-93 4 18 4-38 4 19 5-35 4 43 4-70 4 54 4-104 4 71 4 55 5-121 4-18 4-11 4-25 4 10 4 40 4-40 5-26 4-12 4-71 4 97 4 3 4-34 4 37 5 48 4-16 4-82 4 36 4-18 4 48 4-31 5 34 4 26 4-39 4-10 4-61 4 119 4-48 4-79 5-4 4 83 4 40 4-3 4-37 4-6 4-5 5-13 4 72 4 28 4 6 4 7 4-53 4-37 5-104 4 57 4 54 4-54 4 76 4-14 4-43 5 1 4 21 4 42 4 53 4-33 4 6 4-48 5 21 4-16 4 90 4-79 4 47 4 63 4 6 5-32 4-85 4-3 4 96 4-23 4-5 4 74 5 1 4 44 4-30 4 68 4-50 4-15 4 2 4 5 5-81 4 44 4 3 4-25 4-7 4 14 4 65 5 50 4 0 4-12 4-19 4 4 4-45 4 42 5-60 4 12 4 85 4-31 4 153 4-128 4-14 5 20 4 99 4-151 4 67 4 41 4-53 4 45 5 54 4-53 4 57 4-49 4 5 4-31 4 94 5-71 4 9 4-57 4 96 4-70 4 18 4 16 5 69 4-32 4-21 4 68 4 39 4-10 4-103 4 27 5-13 4 19 4 19 4 0 4 28 4-62 4 24 5 15 4 72 4-50 4 20 4 8 4-70 4 73 5-8 4-49 4-35 4 68 4-12 4-10 4 64 5 66 4 6 4-115 4-15 4 72 4-9 4-21 5-5 4-15 4-104 4 100 4 4 4 27 4 7 5 10 4-25 4 4 4-35 4-7 4 51 4-108 5 96 4-22 4-104 4 102 4-48 4-35 4 47 4 114 5-113 4 10 4 49 4-72 4 62 4-50 4 45 5-24 4 56 4-7 4 14 4-2 4-43 4 3 5-11 4-54 4 46 4 99 4-45 4-39 4-48 5-14 4 3 4 54 4-21 4 80 4-91 4-3 5 10 4 38 4-6 4 26 4-44 4 66 4-75 5-15 4-59 4 70 4 33 4-12 4 3 4 8 5 47 4 15 4-24 4-21 4 36 4 12 4-39 4-59 5 27 4-25 4-26 4 4 4 56 4 17 4 65 5-31 4-69 4 52 4-85 4-40 4 79 4-31 5 85 4 19 4-36 4-27 4 3 4 33 4-116 5 33 4 25 4-18 4 17 4 26 4 20 4 53 5-123 4 61 4 69 4-27 4 22 4-148 4 19 5-22 4-18 4 39 4 13 4 58 4-10 4 14 5-21 4 24 4-77 4-7 4 46 4 83 4-82 4-44 5 40 4 67 4-58 4-52 4 123 4-67 4 69 5-49 4-102 4 49 4 7 4 30 4-2 4-109 5 10 4 88 4 28 4-17 4-103 4 56 4-11 5 53 4 62 4-102 4 24 4 52 4 6 4-2 5-3 4 40 4-108 4-4 4-14 4 50 4-11 5-3 4-42 4 1 4 26 4 52 4 39 4-10 5-13 4-7 4 30 4-118 4 18 4 122 4-7 4-2 5-67 4-60 4 79 4-41 4 16 4-50 4-31 5 44 4-2 4 26 4 27 4 40 4-54 4-5 5 20 4-9 4 0 4 40 4-10 4-82 4 36 5-51 4 88 4 47 4-63 4-50 4 54 4-36 5-32 4-11 4 50 4 15 4 70 4-51 4-36 5-54 4 102 4 21 4 1 4-82 4 123 4-13 5-160 4 16 4 108 4-27 4-58 4-1 4 39 4 36 5-63 4 13 4-24 4 7 4 44 4-72 4 58 5-13 4 34 4-3 4-5 4 19 4-34 4-60 5-40 4 10 4 78 4-49 4 22 4-45 4 114 5-76 4 52 4-47 4 46 4-37 4 32 4 88 5-17 4-45 4-23 4 96 4-12 4-36 4-30 5-27 4 40 4 46 4-70 4 1 4-44 4 44 5-31 4 51 4-29 4-9 4-13 4 55 4-15 4 20 5-20 4-44 4-115 4 95 4 13 4 17 4-36 5 14 4-16 4 22 4-80 4 15 4 150 4-42 5-20 4 104 4-26 4-37 4 6 4-34 4 72 5-84 4-38 4 18 4 36 4-5 4 16 4-64 5 5 4-56 4 82 4-45 4 62 4 12" fill="none" stroke="#a0703a" stroke-width="10" stroke-linejoin="round"/>
<path transform="scale(.1)" d="M618 7871l4 33 4-10 4 38 5 16 4-83 4-2 4 118 4-10 4-40 4-17 5-33 4 23 4 87 4-121 4 70 4-25 4-18 5-12 4-3 4-61 4 7 4 66 4 7 4-95 5 84 4 78 4 23 4-191 4 44 4 80 4 4 4-18 5-28 4 122 4-40 4-31 4-20 4-3 4 24 5-13 4 97 4-175 4-3 4 24 4 52 4-44 5-42 4-18 4 81 4 61 4-34 4-12 4-17 5 74 4-23 4-30 4 18 4-51 4 28 4 86 5-45 4-94 4 75 4-39 4 14 4-35 4-4 5 61 4-8 4-13 4-9 4 53 4 22 4-33 5-51 4 18 4 25 4-10 4-5 4-37 4-30 4-30 5 93 4-77 4 51 4 93 4-33 4-60 4-11 5 28 4 42 4 22 4-7 4-58 4-40 4 202 5-109 4-72 4-80 4 36 4 31 4 64 4 11 5-67 4 57 4-13 4-4 4 55 4-23 4 19 5-23 4-39 4 33 4 42 4-23 4 75 4-60 5-66 4-57 4 84 4-17 4-65 4-69 4 132 5-16 4-50 4 17 4 66 4 9 4-37 4-74 4 60 5-37 4-30 4 117 4 22 4-85 4-29 4 32 5 13 4 8 4 52 4-134 4 99 4 68 4-75 5-80 4 87 4 24 4 23 4-23 4 39 4-16 5 31 4-13 4-159 4 33 4 12 4-59 4 73 5 68 4-69 4 75 4-47 4-34 4 57 4-5 5-96 4 118 4 26 4-47 4-7 4 20 4-146 5 109 4-5 4-9 4-47 4 104 4-108 4 5 4-68 5 83 4-8 4-91 4-23 4 32 4-31 4-21 5-73 4 124 4-181 4-56 4-27 4-68 4 2 5 33 4-18 4-20 4-17 4 105 4-146 4-31 5-11 4 53 4-28 4-52 4 133 4 38 4-90 5 19 4-16 4 31 4-76 4 96 4 22 4 10 5 29 4-55 4 6 4 45 4-56 4-30 4 10 5-46 4 51 4 44 4-17 4 35 4-50 4 100 4 126 5-14 4-53 4-23 4 2 4 18 4 65 4 29 5-56 4-24 4 80 4-77 4 38 4 30 4 35 5 101 4-45 4-72 4 134 4-173 4 4 4 86 5-75 4 38 4 82 4-11 4 10 4 79 4 35 5-42 4-99 4-2 4 56 4 42 4 29 4-95 5-83 4 106 4 71 4-62 4 67 4 28 4 40 5-62 4-29 4 14 4 49 4 48 4-46 4-58 4 19 5-70 4 113 4-9 4-52 4-12 4-21 4 128 5-93 4 2 4 8 4-11 4 56 4-43 4 27 5 5 4-18 4-32 4-14 4 60 4-18 4 38 5 14 4 25 4-35 4-69 4 17 4 58 4-55 5 12 4-6 4-25 4-9 4 51 4 35 4-87 5 41 4 58 4-81 4-16 4 47 4-17 4 1 5-81 4 55 4 36 4-48 4-63 4 103 4 12 4 26 5-50 4 85 4-28 4 50 4-59 4 69 4-44 5-81 4 37 4 14 4 0 4 11 4 43 4-61 5-79 4 18 4 59 4-53 4-38 4 56 4-16 5 21 4 62 4 77 4-111 4-14 4-64 4 125 5-101 4 33 4 35 4 31 4-68 4-16 4-1 5-25 4 51 4-69 4 40 4 53 4-61 4 51 5-36 4 27 4 44 4 94 4-118 4-28 4-33 4-107 5 178 4-59 4-11 4 27 4 31 4 8 4-13 5-71 4-62 4 62 4 41 4-80 4 59 4 5 5 47 4-49 4-39 4 79 4 29 4-122 4-36 5 64 4 61 4 4 4-25 4 28 4 5 4-12 5 10 4 7 4-37 4 42 4-7 4-3 4 20 5 9 4-10 4-112 4-6 4 43 4 64 4-36 5-47 4 11 4 61 4 15 4-3 4 8 4 22 4-19 5 38 4-45 4-94 4-16 4 81 4 8 4 45 5 9 4-16 4-44 4 3 4-52 4 32 4 26 5-55 4-21 4 55 4-43 4-22 4 95 4-2 5-17 4 61 4-110 4-17 4 112 4-25 4 38 5-62 4 4 4 34 4-62 4 10 4-12 4-1 5 35 4-46 4-13 4 4 4 2 4 21 4 71 5-124 4 53 4-21 4 36 4 14 4 30 4-107 4 70 5 16 4 61 4-30 4-80 4 37 4 80 4-60 5 12 4-110 4 40 4-41 4 37 4 35 4 12 5 28 4-81 4 139 4-107 4 72 4-36 4 111 5-129 4-73 4 52 4 19 4 5 4-16 4-30 5 61 4-30 4-18 4-1 4 13 4 26 4 25 5-149 4 110 4-46 4-48 4 136 4-60 4-77 5 75 4 64 4-43 4 59 4 14 4-23 4-77 4-65 5 35 4 15 4 39 4 95 4-54 4-91 4 49 5 106 4-103 4-59 4 129 4-55 4 55 4-142 5 46 4 17 4 34 4-24 4 22 4 25 4 25 5-35 4-52 4 22 4-26 4 98 4-46 4-51 5-83 4 102 4 33 4 12 4-78 4 33 4 32 5 24 4-29 4-41 4 89 4-1 4-104 4-19 5 34 4 15 4-76 4 57 4 69 4-105 4 34 4-66 5 102 4-39 4-41 4 45 4-27 4 6 4 89 5-22 4 6 4 111 4-114 4-71 4 75 4 12 5-69 4 28 4 53 4-20 4-60 4 46 4 60 5-43 4 12 4-90 4-7 4-9 4 42 4 2 5 44 4-98 4 88 4 2 4 106 4-68 4-27 5-3 4-118 4 133 4 30 4-84 4 45 4-38 5-4 4 17 4 38 4-69 4-34 4 98 4-31 4-60 5 25 4 65 4-23 4-37 4 5 4-67 4 58 5 51 4-31 4-58 4 24 4-30 4 110 4-92 5-54 4 55 4 82 4-67 4 10 4 78 4-72 5 45 4 7 4-26 4 10 4-7 4-5 4-1 5-49 4 46 4-40 4-37 4 103 4-42 0 88-4 54-4-40-4-13-4 12-4-11-5 11-4 27-4-29-4 47-4-36-4 87-4-71-5-60-4 91-4-66-4 14-4 30-4-62-4 80-5-14-4 43-4-98-4-26-4 54-4-15-4 43-5-32-4 104-4-13-4-114-4 86-4 3-4-34-5-39-4 64-4-40-4-98-4 64-4 51-4-33-4 13-5 48-4-14-4-34-4 81-4-41-4-36-4 38-5 19-4 26-4 17-4-58-4-15-4 27-4-21-5 37-4-50-4-74-4-19-4 122-4 16-4-47-5 29-4-72-4 39-4-21-4 58-4-73-4 58-5-41-4-7-4 34-4-18-4 172-4-168-4 24-5 0-4-16-4-19-4-60-4 144-4-86-4-9-5-47-4 30-4 134-4-44-4-59-4-21-4 72-4-63-5-86-4 63-4 59-4 43-4-28-4-41-4 11-5 6-4-18-4-30-4 112-4 26-4-114-4-3-5-27-4 22-4 96-4-107-4 92-4-14-4 37-5-62-4-17-4-31-4 48-4-48-4-6-4-39-5 61-4 64-4 0-4-18-4-73-4 90-4 18-5-3-4-148-4 117-4 4-4 34-4-132-4 40-5-31-4 67-4-19-4 49-4-14-4-31-4 7-4-86-5 78-4 53-4 45-4-143-4-43-4 55-4-49-5 78-4-36-4 37-4 26-4-75-4 27-4 2-5-47-4 73-4 9-4-52-4 9-4 22-4 40-5 69-4-71-4-20-4-27-4 72-4-46-4-23-5 32-4-72-4-27-4-28-4 104-4-57-4 92-5-44-4 90-4-78-4 29-4 9-4 6-4-81-5 42-4-23-4 12-4 40-4-25-4-106-4 82-4-37-5 67-4-75-4 30-4 8-4 48-4-52-4 18-5-34-4 90-4-70-4-51-4 60-4-17-4-14-5 104-4-89-4 44-4-129-4 42-4 139-4-42-5-52-4 28-4-89-4-16-4 86-4-26-4-44-5 121-4-36-4 14-4 76-4-41-4 40-4 31-5-68-4 51-4-58-4-88-4 0-4 101-4-19-5-30-4 87-4-83-4 8-4-17-4 37-4-120-4-18-5 120-4-28-4 0-4-22-4 51-4-29-4 28-5-21-4-20-4 21-4 20-4-7-4-22-4 58-5-20-4-42-4 15-4-65-4 65-4-43-4 15-5-39-4-4-4 56-4 32-4-21-4-9-4-14-5 61-4-55-4-62-4 115-4-65-4-71-4 33-5 38-4 31-4 65-4-91-4 46-4-31-4 37-5-52-4 35-4 72-4-79-4 124-4-110-4-4-4-19-5-31-4-23-4 36-4-23-4-1-4 6-4 59-5-61-4 64-4-13-4 10-4-16-4 65-4-38-5 23-4-147-4 90-4 14-4 110-4-101-4-14-5-25-4-49-4 76-4-66-4 29-4-8-4 27-5 19-4 76-4-50-4 38-4-45-4-12-4 22-5 62-4-24-4-91-4 114-4-79-4 10-4-69-5 50-4-21-4 15-4-32-4-23-4 43-4-65-4 4-5 56-4-44-4 139-4-143-4 95-4-25-4-58-5-28-4 106-4-51-4-6-4 19-4 3-4-29-5 1-4 81-4-24-4-65-4 76-4 68-4-94-5-3-4-16-4-13-4 14-4-40-4 62-4 40-5-90-4-1-4 25-4 32-4-25-4-52-4 75-5 61-4-82-4 70-4-7-4-64-4-4-4-23-5 18-4-59-4 132-4-15-4-35-4 6-4-51-4 2-5 59-4-41-4 34-4-93-4 33-4-50-4-79-5 59-4 156-4-87-4-65-4 95-4-47-4 39-5-7-4 23-4-111-4-24-4 32-4-56-4 86-5-96-4-42-4 117-4 28-4-49-4-9-4 26-5-49-4 47-4-156-4 29-4 14-4 38-4-76-5 77-4-14-4-104-4 77-4-73-4 24-4 64-5-11-4-114-4-62-4-4-4-26-4 81-4-98-4-17-5 5-4-1-4 79-4 32-4-66-4 58-4-16-5-8-4 44-4-40-4-141-4 76-4-13-4 10-5 3-4 70-4-3-4-104-4-25-4 58-4-82-5 19-4 68-4 147-4-139-4 27-4 24-4-23-5 122-4-55-4-32-4 20-4 174-4 32-4-14-5 56-4-59-4 34-4-2-4 9-4 43-4 11-5-48-4 62-4-25-4 72-4 29-4-39-4-35-4 20-5 2-4 52-4-35-4-23-4 44-4-17-4-49-5 108-4-20-4-106-4 80-4 35-4-29-4 48-5-42-4-110-4 119-4-20-4-61-4 70-4 51-5-8-4-42-4-13-4 29-4-45-4 6-4-38-5 82-4 69-4-87-4-120-4 94-4-36-4 46-5-46-4-19-4-14-4 109-4-11-4-137-4 46-5 39-4-101-4 116-4 91-4-30-4-77-4-35-4 4-5 49-4-44-4 4-4 75-4-37-4-29-4 49-5 28-4 46-4-58-4 3-4-7-4-20-4-7-5 75-4-71-4 50-4-45-4 86-4-32-4-62-5-5-4 10-4-21-4 30-4-33-4-51-4 75-5 99-4-139-4 22-4 21-4 23-4-32-4-3-5 8-4-14-4 3-4 40-4 8-4-18-4-71-5-20-4 87-4-78-4 42-4 55-4 10-4-76-4 40-5 17-4-19-4 22-4-38-4-24-4 48-4-21-5 95-4-83-4-45-4 123-4-95-4 14-4 29-5 25-4 17-4-112-4 55-4-30-4 39-4 8-5-71-4 66-4-11-4 46-4-97-4-71-4 8-5 124-4 3-4-75-4-32-4-34-4 215-4-125-5 27-4-15-4-8-4 37-4 31-4-12-4-105-5 26-4 18-4 9-4-57-4 97-4 21-4 37-4-39-5-84-4-5-4 43-4-41-4 40-4-71-4-7-5 54-4 54-4 0-4-71-4 70-4-70-4 68-5-55-4 19-4 33-4 1-4-95-4 68-4 37-5 44-4-74-4-55-4-1z" fill="#3030b0" fill-opacity="0.65"/>
<path transform="scale(.1)" d="M618 7926l4 17 4 22 4 57 5-14 4-60 4-36 4 107 4-6 4-36 4-18 5 11 4-23 4 79 4-95 4 70 4-13 4-35 5-34 4 2 4 5 4-16 4 54 4-18 4-45 5 84 4 58 4-7 4-106 4-26 4 68 4-3 4-17 5-28 4 114 4-14 4-31 4-28 4 2 4 20 5-20 4 110 4-195 4 16 4 28 4 63 4-23 5-83 4-13 4 76 4 79 4-40 4-1 4-41 5 73 4-16 4-35 4 25 4-53 4 70 4 34 5-35 4-62 4 31 4 28 4-54 4 4 4 40 5-17 4 6 4-30 4 8 4 45 4 0 4-7 5-34 4-11 4 50 4-10 4-29 4-40 4 24 4-59 5 57 4-3 4 34 4 43 4-37 4-31 4 2 5 9 4 23 4 27 4-15 4-39 4-31 4 170 5-104 4-74 4-14 4 35 4 0 4 42 4 1 5-31 4 60 4 9 4-45 4 50 4-37 4 45 5-48 4-17 4 27 4 24 4-13 4 67 4-53 5-47 4-53 4 57 4 9 4-70 4-36 4 88 5-33 4-27 4 26 4 72 4 19 4-64 4-94 4 80 5-38 4-38 4 127 4 17 4-98 4-7 4 26 5 29 4-19 4 44 4-114 4 109 4 78 4-72 5-81 4 63 4 8 4 35 4-27 4 27 4 12 5 20 4-32 4-114 4 46 4 17 4-89 4 91 5 55 4-58 4 52 4-42 4-57 4 82 4 7 5-101 4 83 4 21 4-45 4 8 4 27 4-98 5 53 4-12 4 12 4-4 4 38 4-90 4 15 4-65 5 65 4-9 4-67 4-16 4 17 4-32 4 18 5-64 4 69 4-106 4-116 4-23 4-18 4 29 5-45 4 2 4-21 4-22 4 122 4-147 4-50 5-15 4 68 4-43 4-13 4 118 4 20 4-79 5 8 4-13 4 21 4-75 4 118 4 31 4-17 5 19 4-20 4-26 4 56 4-45 4-54 4 5 5-25 4 34 4 71 4-49 4 31 4-24 4 82 4 120 5-2 4-59 4-23 4 37 4-29 4 84 4 22 5-67 4 26 4 22 4-46 4 5 4 93 4-6 5 75 4-36 4-32 4 92 4-101 4-56 4 64 5 10 4-23 4 69 4-22 4 17 4 95 4 6 5-18 4-68 4 22 4-19 4 53 4 58 4-125 5-71 4 92 4 60 4-47 4 80 4-3 4 41 5-61 4-15 4 32 4 22 4 41 4-15 4-95 4 39 5-45 4 68 4-2 4 6 4-2 4-46 4 105 5-77 4-37 4 31 4 7 4 11 4-33 4 14 5 47 4-29 4-47 4 13 4 23 4-3 4 28 5 8 4 59 4-51 4-73 4 42 4 41 4-69 5 6 4 11 4-13 4-14 4 28 4 43 4-97 5 35 4 58 4-28 4-56 4 95 4-77 4 22 5-69 4 26 4 51 4-46 4-20 4 68 4-2 4 23 5-49 4 77 4-19 4 64 4-86 4 79 4-9 5-72 4 8 4 12 4 23 4-13 4 46 4-68 5-49 4-5 4 34 4-42 4 15 4-10 4 16 5 23 4 38 4 89 4-111 4-13 4-77 4 136 5-63 4 36 4-15 4 24 4-40 4-1 4-32 5 17 4-3 4-38 4 21 4 37 4-48 4 37 5-3 4 23 4 25 4 101 4-121 4 26 4-53 4-70 5 114 4-48 4 10 4-9 4 61 4-28 4-22 5-55 4-47 4 66 4 53 4-97 4 60 4 30 5-7 4-17 4-15 4 49 4-1 4-89 4-16 5 52 4 23 4 23 4-45 4 46 4-5 4 15 5 15 4-25 4-8 4 25 4-13 4-13 4 21 5 15 4-19 4-42 4-28 4 32 4 32 4-4 5-84 4 15 4 91 4-12 4 8 4-1 4 53 4-53 5 34 4-13 4-98 4-7 4 84 4 33 4-3 5 39 4-24 4-42 4 22 4-64 4 9 4 31 5-88 4 11 4 41 4-65 4-2 4 91 4-15 5 18 4 52 4-125 4-30 4 121 4-35 4 64 5-83 4 9 4 26 4-61 4 30 4 29 4-45 5 34 4-32 4 20 4-23 4-3 4-4 4 73 5-96 4 45 4-51 4 71 4 20 4-5 4-60 4 47 5-14 4 72 4-18 4-45 4 4 4 79 4-75 5 28 4-101 4 49 4-73 4 33 4 30 4 43 5-3 4-28 4 92 4-90 4 50 4-8 4 91 5-99 4-57 4 16 4 4 4 29 4-12 4-52 5 54 4-16 4-23 4 38 4-7 4-6 4 31 5-114 4 80 4-50 4-3 4 140 4-53 4-65 5-2 4 76 4-25 4 45 4 14 4-36 4-30 4-65 5 32 4-12 4 86 4 30 4-29 4-104 4 99 5 54 4-60 4-75 4 101 4-18 4 27 4-103 5-8 4 29 4 19 4 13 4-13 4 28 4 21 5 13 4-45 4 19 4-60 4 103 4-71 4-36 5-29 4 53 4 73 4-6 4-96 4 32 4 25 5 9 4-20 4 0 4 59 4-22 4-82 4-41 5 60 4 39 4-74 4 39 4 64 4-31 4-49 4-49 5 75 4-15 4 23 4-50 4 16 4 13 4 52 5-10 4-9 4 139 4-143 4-26 4 20 4 10 5-15 4-14 4 63 4-39 4-20 4 4 4 65 5-36 4 30 4-53 4-64 4 5 4 58 4 25 5 4 4-38 4 30 4 9 4 81 4-42 4-26 5-12 4-77 4 84 4 35 4-82 4 40 4-13 5-25 4 1 4 36 4-60 4-49 4 98 4 4 4-61 5 31 4 50 4-13 4-62 4 60 4-27 4-23 5 42 4-37 4-22 4-15 4-2 4 104 4-67 5-21 4-12 4 72 4-49 4-2 4 72 4-81 5 53 4 39 4-57 4 23 4-27 4 12 4-14 5-30 4 28 4-26 4-12 4 72 4-48" fill="none" stroke="#1c1c99" stroke-width="10" stroke-linejoin="round"/>
<path transform="scale(.1)" d="M618 7961l4-40 4 62 4-40 5-29 4 92 4-77 4 29 4-27 4-7 4-62 5 42 4 27 4-29 4-9 4 132 4-98 4 27 5-1 4-65 4-18 4 92 4-10 4-88 4 54 5-10 4 112 4-94 4-36 4 45 4 7 4-123 4 36 5 4 4 19 4-5 4 92 4-5 4 63 4-197 5 33 4 80 4 29 4-2 4 49 4-143 4 10 5 42 4 63 4-104 4 10 4 7 4-11 4 58 5-15 4-43 4-49 4-20 4 65 4 95 4-78 5 38 4-1 4-83 4 137 4-23 4-61 4-36 5 43 4-30 4-16 4 50 4 29 4-20 4-58 5 58 4-46 4 20 4-7 4 23 4-105 4 115 4-48 5 55 4-5 4 48 4-45 4-35 4 44 4-24 5 29 4-24 4 13 4 27 4-23 4 4 4-41 5-137 4 225 4-22 4-38 4 28 4-33 4 1 5-96 4 30 4 3 4 59 4 20 4-27 4 62 5 41 4-56 4-147 4 74 4 92 4-42 4 10 5-29 4 58 4-89 4-4 4 27 4-59 4 144 5-71 4-94 4 65 4-12 4 17 4 33 4-45 4-11 5-55 4 8 4 45 4-4 4 100 4-72 4-1 5-18 4-18 4 6 4 71 4-61 4 8 4 0 5 84 4-58 4-16 4-12 4-21 4 50 4-39 5 12 4-20 4-31 4 64 4-67 4 178 4-89 5 11 4-79 4 67 4-28 4 57 4 34 4-108 5-15 4 63 4-156 4 90 4 6 4 57 4 50 5-55 4 24 4-39 4 55 4-88 4 29 4 43 4-70 5 2 4 7 4-93 4 18 4-17 4-82 4 70 5-104 4 84 4-39 4-20 4 26 4-1 4 0 5-52 4-93 4 9 4-10 4-91 4-4 4-73 5 92 4-32 4-70 4 79 4-15 4 21 4-19 5-34 4 75 4-28 4-67 4 47 4 20 4-67 5 67 4-18 4-70 4 56 4-10 4 16 4-30 5-14 4 35 4 77 4 6 4-118 4 126 4 26 4-61 5-13 4 88 4-72 4 72 4 25 4-84 4-15 5 44 4 46 4-5 4 35 4 35 4 5 4-122 5 109 4-43 4 79 4-58 4 5 4 30 4-55 5 116 4-14 4 56 4 0 4 6 4-21 4-27 5-105 4 202 4 2 4-35 4 11 4-54 4 9 5 27 4 17 4-94 4 101 4 75 4-25 4-74 5 30 4 68 4 14 4-42 4 34 4-51 4 39 4-49 5-23 4-7 4 1 4 0 4 109 4-31 4 8 5 29 4 33 4-32 4-33 4 92 4-38 4-64 5-72 4 105 4-7 4-69 4-8 4 73 4 49 5-68 4 18 4 18 4 29 4-37 4 17 4-8 5 16 4 67 4-114 4-42 4 13 4 39 4-7 5-11 4-13 4 126 4-85 4 77 4-35 4-15 5-66 4 7 4 8 4-5 4 38 4 36 4-5 4 17 5-51 4-35 4 51 4 7 4-32 4-41 4 26 5-5 4 89 4 39 4-41 4-85 4 29 4 47 5 3 4-20 4-1 4-13 4 38 4 22 4-95 5 20 4 33 4-86 4 105 4-29 4-33 4 12 5-45 4 120 4-32 4-80 4 45 4-23 4-43 5 12 4 50 4-50 4-36 4 63 4-53 4 92 5 15 4-9 4-50 4 19 4-59 4 14 4 41 4-85 5 71 4 21 4 4 4 32 4 6 4-8 4 1 5 12 4-24 4 4 4 33 4-7 4 13 4-117 5 1 4-32 4 53 4 16 4 32 4 27 4-31 5 50 4-34 4-16 4-117 4 130 4-50 4 6 5 10 4 155 4-40 4-164 4 50 4-59 4-63 5 51 4 127 4-12 4-61 4-13 4 73 4-60 5-26 4 59 4-8 4 109 4-76 4 38 4-2 4-108 5 25 4 18 4 14 4-112 4 40 4 26 4 47 5 37 4-4 4-52 4 53 4-62 4-101 4 126 5 17 4 93 4-74 4-89 4-11 4 186 4 7 5-102 4 22 4-43 4-14 4-12 4 74 4-2 5-116 4 37 4 64 4-40 4-6 4 42 4-95 5 14 4 53 4-75 4 96 4-71 4 34 4 63 5-2 4-109 4 71 4 23 4 0 4 1 4-85 4-49 5 14 4-24 4 41 4 33 4 75 4-55 4-26 5-4 4 39 4 40 4-24 4 20 4-34 4-16 5-29 4 59 4-21 4 28 4 5 4-96 4 16 5 65 4-59 4 22 4-43 4 72 4-8 4 11 5 10 4-64 4 60 4 2 4-45 4 29 4 45 5-52 4 24 4-62 4-17 4 166 4-34 4-103 5-27 4 18 4 14 4 75 4-51 4 34 4-84 4 8 5-4 4 12 4-49 4 72 4-28 4 95 4-101 5 1 4 0 4 60 4 15 4-106 4 40 4 25 5-6 4 56 4-44 4-22 4 56 4-87 4 83 5-35 4 12 4 11 4 16 4-13 4-18 4 13 5 20 4-43 4-62 4 74 4-46 4-26 4 37 5 21 4-38 4 105 4 27 4-69 4-54 4 7 5 70 4 18 4-68 4 37 4 65 4-78 4-29 4 23 5-52 4-35 4 58 4 10 4 108 4-71 4-27 5-60 4-19 4 46 4-29 4 44 4 20 4-15 5 59 4-41 4-66 4 71 4-44 4-102 4 171 5 9 4-33 4-72 4-83 4 56 4 66 4 80 5-60 4-49 4 56 4 18 4-72 4 48 4-5 5-22 4 82 4-26 4-26 4 30 4-73 4 80 5-134 4-73 4 167 4 143 4-149 4-28 4 58 4 33 5-1 4 61 4-209 4-9 4 91 4-70 4 144 5-77 4-30 4 85 4 13 4-20 4 5 4-81 5-7 4 13 4-17 4 108 4-101 4 33 4 43 5-19 4 32 4-25 4-51 4 155 4-122 4-88 5 82 4-82 4 19 4-28 4-12 4 132 0 157-4-112-4 34-4-55-4 73-4 55-5-143-4 55-4 113-4-67-4-11-4 31-4 36-5 25-4-125-4-37-4 144-4-122-4 26-4-45-5 2-4 60-4 81-4-59-4 2-4-49-4 43-5 37-4-108-4 77-4-122-4 35-4 161-4 10-5-71-4-62-4 14-4-7-4 128-4-51-4-49-4-108-5 89-4-2-4 6-4 11-4 3-4 36-4-44-5-21-4 51-4-76-4 103-4-72-4 82-4-25-5-16-4-26-4-65-4 20-4 29-4 21-4 22-5-3-4-102-4 75-4 36-4-59-4 22-4 20-5 81-4-82-4-19-4-55-4 25-4-24-4 19-5 54-4 4-4 80-4-80-4-74-4 0-4 8-5 9-4 23-4-2-4 81-4-80-4-16-4 55-4-14-5-12-4-29-4 69-4 93-4-72-4-51-4-18-5 14-4-83-4 105-4-56-4 22-4-42-4 59-5-19-4-27-4 96-4-20-4-55-4 9-4-32-5 47-4-70-4 104-4-69-4 22-4 35-4-38-5-43-4-23-4 143-4-51-4-29-4-52-4 12-5 52-4 24-4 59-4-88-4-19-4-48-4 43-5-29-4 62-4 1-4 26-4 17-4 57-4-167-4 82-5 126-4-92-4 20-4-97-4 16-4 46-4-52-5 20-4 18-4-82-4 51-4 51-4 15-4-72-5 9-4-21-4 30-4-33-4 40-4 3-4-13-5-50-4-12-4 89-4 0-4-14-4 38-4-129-5 75-4 14-4-7-4-20-4 50-4 35-4-43-5-83-4 180-4-118-4 30-4-55-4 39-4-121-5-25-4 109-4 62-4-19-4-21-4-8-4-27-4 53-5 5-4-28-4 7-4 35-4-55-4-6-4-16-5 58-4 7-4-64-4 16-4 41-4-46-4 16-5 52-4 39-4-106-4 71-4-12-4-7-4-7-5 138-4-42-4-126-4 45-4 54-4 57-4-121-5-42-4 51-4-82-4 68-4 33-4 5-4-57-5-5-4-67-4 22-4-39-4 63-4 12-4-50-5-27-4 125-4 89-4-100-4 45-4-45-4 17-4-79-5 60-4-18-4-95-4 134-4-18-4 26-4-82-5-49-4 126-4-108-4 56-4 67-4 49-4-28-5-11-4-54-4-23-4-35-4 9-4 48-4 37-5-89-4 59-4-4-4-86-4 78-4-37-4-40-5-19-4 96-4 117-4-120-4-11-4 5-4 45-5-49-4-2-4 76-4-83-4-35-4 16-4-24-5-17-4 59-4-57-4-42-4 67-4 39-4-7-4 31-5-41-4-20-4-18-4-6-4 46-4-23-4 41-5-52-4 9-4 16-4-25-4 247-4-164-4 6-5-16-4-24-4-15-4 99-4-130-4 59-4 40-5-122-4 130-4-34-4-50-4 12-4-5-4 82-5-67-4-51-4 46-4 142-4-82-4 13-4-59-5-57-4 62-4-72-4 62-4-16-4-9-4 45-5-20-4 17-4 22-4-63-4-48-4 101-4-74-4-27-5 121-4-40-4 6-4 23-4 27-4-97-4 21-5 34-4-33-4-96-4 23-4 5-4 128-4-42-5 14-4-28-4-14-4 18-4 32-4-72-4-6-5 65-4-17-4-93-4-12-4 56-4-3-4 6-5 11-4 59-4 21-4-112-4 95-4 59-4-125-5 25-4-14-4-21-4 94-4-25-4-169-4 83-5-36-4 137-4-14-4-51-4 19-4 26-4-52-4-5-5-11-4-30-4 62-4-38-4-151-4 78-4-24-5-14-4 16-4 76-4 50-4-6-4-66-4-42-5 65-4-3-4-74-4 30-4-24-4 8-4-53-5-89-4 96-4-81-4-3-4 46-4-45-4 31-5-55-4 140-4-41-4-86-4-6-4 8-4 46-5-50-4-89-4 125-4 37-4-23-4-56-4-101-5 88-4 52-4-100-4-34-4 102-4-42-4-15-4-116-5 39-4 46-4-14-4-40-4 57-4 30-4-29-5-14-4 1-4-29-4 123-4-39-4-20-4-92-5 42-4 13-4-29-4 43-4-43-4 0-4 36-5-32-4 26-4 76-4 11-4-5-4 34-4 89-5 25-4 33-4-76-4-30-4 40-4 48-4 35-5-35-4 5-4 29-4 0-4 32-4 28-4-7-5 14-4 33-4-1-4 42-4 48-4-122-4 63-4-36-5 43-4-17-4-109-4 93-4-55-4 70-4-70-5 48-4 57-4-38-4-64-4 59-4-103-4 115-5-30-4 109-4-179-4 89-4-119-4 80-4 2-5 37-4 11-4 7-4-80-4 23-4 13-4 61-5-32-4-47-4 11-4 11-4-63-4 78-4-21-5 53-4 27-4-26-4-37-4 91-4-173-4 29-5-13-4 80-4-4-4-65-4-8-4 34-4-15-4 107-5-3-4-93-4-9-4 62-4-43-4 46-4-36-5 38-4 21-4 27-4-144-4 95-4 11-4 49-5-39-4-21-4-24-4-11-4 53-4-131-4 45-5 29-4 82-4-27-4-54-4 92-4-15-4-78-5-26-4 85-4-14-4 9-4 37-4-44-4 90-5-29-4-75-4-81-4 43-4 57-4-60-4 81-5 21-4-86-4-65-4 68-4 55-4-97-4-21-4 40-5 45-4-46-4 65-4-51-4 11-4 38-4-30-5-67-4 17-4 86-4 0-4-20-4 50-4-77-5 1-4 30-4 4-4 17-4-45-4-62-4 41-5 44-4-49-4 37-4-20-4 87-4-29-4-61-5-13-4-47-4 246-4-115-4-43-4-34-4-6-5-33-4 117-4 15-4-15-4-142-4 22-4-34-5 27-4 14-4 50-4-10-4-57-4 128-4 18-4-23-5-25-4-16-4 78-4-75-4-92-4 22-4 130-5-64-4 40-4 12-4-129-4 44-4 28-4-17-5 28-4-14-4-26-4 20-4 10-4 112-4-85-5 11-4 136-4-155-4 21z" fill="#6a3a7a" fill-opacity="0.65"/>
<path transform="scale(.1)" d="M618 8020l4-31 4 109 4-88 5-20 4 88 4-94 4 10 4-24 4 10 4-24 5 6 4 23 4-29 4-26 4 130 4-55 4-6 5 31 4-98 4-20 4 92 4 33 4-83 4 35 5 8 4 67 4-56 4-82 4 51 4 8 4-86 4 11 5-12 4 27 4-13 4 117 4 4 4 25 4-158 5 33 4 43 4 32 4 21 4 82 4-195 4 28 5 28 4 62 4-37 4-39 4 14 4-24 4 53 5-29 4-42 4 6 4 13 4 23 4 46 4-54 5 19 4 37 4-66 4 78 4-11 4-73 4-27 5 55 4 0 4-27 4 20 4 39 4-42 4-6 5 7 4-44 4 21 4 45 4-16 4-87 4 91 4 18 5 17 4-42 4 53 4-51 4-38 4 62 4 26 5 29 4-58 4 29 4-5 4-16 4 9 4-63 5-55 4 151 4-3 4-66 4 42 4-4 4-40 5-62 4-8 4 67 4 3 4 15 4-1 4 41 5 41 4-53 4-79 4-10 4 118 4-35 4-5 5-34 4 47 4-68 4 20 4-18 4-24 4 118 5-34 4-100 4 39 4-22 4 12 4 49 4-21 4-45 5-21 4-11 4 109 4-47 4 68 4-22 4-15 5-35 4 1 4-36 4 68 4-37 4-1 4 23 5 58 4-59 4-15 4-17 4 29 4 22 4-25 5-13 4-10 4-56 4 92 4-78 4 178 4-99 5 21 4-98 4 85 4-43 4 61 4 35 4-82 5-32 4 67 4-113 4 72 4-43 4 83 4 33 5-48 4 30 4-51 4 88 4-68 4-7 4 23 4-52 5-6 4 7 4-61 4-7 4-8 4-55 4 32 5-34 4 24 4-44 4-30 4 29 4 37 4-16 5-39 4-91 4-12 4-3 4-51 4-40 4-49 5 61 4-34 4-34 4 60 4-29 4 26 4-16 5-38 4 83 4-4 4-14 4-38 4 25 4-34 5 40 4 6 4-51 4 0 4 15 4 15 4-38 5-26 4 75 4 46 4 24 4-110 4 80 4 63 4-57 5-50 4 94 4-8 4 48 4-6 4-104 4 37 5 47 4-1 4-6 4 21 4 60 4 23 4-131 5 82 4-37 4 62 4-52 4 4 4 56 4-76 5 103 4 19 4 24 4 12 4-12 4 27 4-13 5-85 4 123 4 33 4-14 4-20 4-65 4-3 5 20 4 21 4-86 4 126 4 57 4-44 4-22 5 20 4 37 4 33 4-34 4 8 4 0 4 26 4-93 5 6 4-44 4 85 4 12 4 7 4-4 4 10 5 3 4 79 4-46 4-64 4 102 4-29 4-62 5-42 4 50 4-2 4-63 4 2 4 84 4 33 5-67 4 12 4 45 4-1 4-28 4 15 4 11 5 0 4 55 4-121 4-24 4-5 4 68 4 13 5-23 4-17 4 112 4-56 4 27 4-20 4 12 5-93 4 16 4 42 4-54 4 43 4 50 4-14 4 0 5-15 4-40 4 30 4 12 4-48 4 16 4-18 5 26 4 74 4 13 4 21 4-114 4-9 4 49 5 35 4-51 4 2 4-12 4 44 4 28 4-112 5 70 4-3 4-73 4 118 4-64 4-9 4 18 5-15 4 57 4 66 4-163 4 35 4-19 4-27 5 33 4 4 4-13 4-41 4 34 4-18 4 56 5 28 4-20 4-21 4-10 4-63 4 28 4 49 4-72 5 44 4 23 4-6 4 33 4 45 4-42 4 1 5 31 4-35 4 0 4 21 4 57 4-52 4-107 5 10 4 4 4 45 4-30 4 59 4 15 4-45 5 70 4-36 4-32 4-63 4 83 4-14 4 30 5 11 4 91 4-45 4-115 4-3 4 25 4-95 5 50 4 104 4-19 4-21 4-74 4 84 4-21 5-42 4 69 4-13 4 77 4-61 4 69 4-45 4-117 5 26 4 35 4 0 4-87 4 40 4 2 4 57 5 21 4 26 4-29 4 10 4-65 4-9 4 38 5 29 4 107 4-65 4-72 4-28 4 156 4 25 5-121 4 15 4-18 4-1 4-42 4 90 4-20 5-84 4 10 4 55 4-40 4-11 4 53 4-51 5-22 4 35 4-35 4 76 4-53 4 13 4 46 5-4 4-81 4 49 4 16 4 10 4 10 4-73 4-80 5 20 4 49 4 1 4 44 4 22 4 31 4-103 5 40 4 41 4 2 4-36 4 20 4-14 4-15 5-52 4 94 4-29 4 20 4 3 4-92 4 13 5 58 4-23 4 9 4-41 4 53 4-19 4 15 5 1 4 4 4 22 4-24 4-48 4 56 4 13 5-36 4 38 4-54 4-16 4 131 4-27 4-6 5-76 4-32 4 91 4 8 4-33 4 4 4-43 4-27 5 13 4-16 4-1 4 46 4 30 4 18 4-62 5-26 4-6 4 56 4 22 4-27 4-52 4 24 5 19 4 47 4-40 4-22 4 62 4-95 4 77 5-41 4 22 4 0 4 36 4 4 4-58 4 21 5 19 4-51 4-10 4 26 4 5 4-65 4 60 5 3 4-10 4 78 4 49 4-81 4-61 4 18 5 41 4 16 4-61 4 26 4 73 4-80 4-14 4 0 5-30 4-22 4 29 4 43 4 94 4-76 4-16 5-56 4-20 4 35 4-26 4 49 4 19 4 34 5-11 4-30 4-44 4 65 4-41 4-88 4 136 5 7 4-28 4-46 4-56 4 18 4 65 4 53 5-22 4-12 4-13 4 45 4-87 4 61 4-28 5 0 4 63 4-31 4-15 4 10 4-40 4 41 5-111 4 17 4 108 4 97 4-138 4-10 4 21 4 48 5 35 4 25 4-184 4-22 4 106 4-73 4 125 5-56 4-37 4 67 4 5 4 20 4-38 4-71 5-4 4 29 4-22 4 116 4-123 4 35 4 84 5-22 4-2 4-28 4-20 4 111 4-117 4-72 5 113 4-69 4-27 4 14 4-23 4 121" fill="none" stroke="#4a1f5a" stroke-width="10" stroke-linejoin="round"/>
<path transform="scale(.1)" d="M618 7866l4 41 4 38 4 34 5-6 4 23 4-5 4-42 4-15 4 116 4-77 5-88 4 37 4 28 4-14 4 21 4-14 4 21 5-37 4 89 4-124 4 114 4-85 4-59 4 122 5-68 4 32 4-54 4 39 4 1 4-24 4-71 4 133 5-76 4 17 4 14 4 6 4-45 4-34 4-20 5 104 4 73 4-47 4-44 4 34 4-59 4-130 5 106 4 133 4-96 4 2 4 36 4-53 4-11 5 43 4-14 4-70 4 51 4-61 4 203 4-62 5-3 4-106 4 29 4 6 4 57 4 1 4-44 5 14 4 33 4-20 4-93 4 164 4-135 4-28 5 104 4-40 4 22 4-56 4 64 4-30 4 38 4-32 5-13 4-7 4-16 4 69 4-47 4 36 4 40 5-19 4-52 4 55 4-90 4 14 4-9 4 113 5 18 4-88 4 35 4-8 4-82 4 19 4-26 5 30 4 50 4-14 4 32 4-83 4 91 4-177 5 98 4 62 4 38 4-66 4 41 4-49 4 6 5 36 4-42 4-50 4 99 4 1 4-66 4 38 5-2 4-111 4 109 4 2 4 16 4-14 4 100 4-101 5-49 4 100 4-150 4 94 4 37 4 9 4-66 5-15 4 48 4 60 4-21 4-49 4 6 4 65 5 5 4-121 4-118 4 125 4 148 4-143 4-9 5 71 4-64 4 34 4 24 4 35 4-40 4-17 5 45 4-110 4 108 4-122 4 21 4 61 4-46 5 32 4 28 4-142 4 115 4-49 4 54 4-6 5-59 4 42 4-58 4 97 4 19 4-33 4-169 4 63 5 64 4-56 4-63 4 100 4-100 4-81 4-36 5 78 4-48 4-4 4-9 4-75 4-59 4-19 5 48 4-108 4-48 4 3 4-3 4-5 4 37 5-68 4-54 4-70 4 66 4 23 4 36 4-58 5-9 4 46 4-5 4-23 4 115 4-88 4 22 5-59 4 77 4 17 4-12 4-3 4-14 4 28 5 28 4 61 4-30 4-18 4 16 4-28 4-6 4 35 5-28 4 16 4 84 4-37 4 3 4 54 4-80 5 26 4 77 4 62 4-55 4 3 4 3 4-91 5 70 4-39 4 44 4 97 4-49 4 77 4-45 5 32 4 81 4-20 4 13 4-13 4-44 4 40 5-71 4 11 4 112 4 38 4-59 4 57 4-19 5-12 4 12 4-17 4 37 4 49 4 41 4 30 5-36 4-47 4 12 4-21 4-87 4 130 4-14 4-14 5 61 4-103 4 39 4-39 4 43 4-87 4-18 5 70 4 72 4-11 4-16 4 83 4-82 4-4 5 57 4 86 4-109 4 16 4-54 4 10 4 79 5-75 4-9 4 6 4-27 4 18 4-30 4 130 5-70 4-19 4 16 4-71 4 45 4 8 4 32 5 20 4-53 4 56 4 30 4-41 4-25 4 9 5 45 4 26 4-103 4 74 4-60 4 88 4-66 4-46 5-17 4 79 4-28 4 89 4-107 4-22 4 85 5-27 4-8 4 9 4-98 4 153 4-70 4-22 5 55 4-29 4 22 4-63 4 17 4 63 4 3 5-31 4-62 4 61 4-9 4-31 4 57 4-93 5 41 4 86 4-79 4-36 4-2 4-68 4 79 5 48 4-10 4-13 4 26 4-73 4-41 4 94 5-8 4 58 4 54 4-39 4-41 4 0 4 19 4 31 5-117 4-43 4 174 4-36 4-63 4 51 4 45 5-49 4 2 4 0 4-78 4-89 4 105 4-20 5 69 4-47 4 13 4-61 4-4 4 99 4-57 5-62 4 54 4 67 4-6 4 17 4-56 4 30 5 28 4-96 4 11 4 30 4 105 4-104 4 27 5-8 4 38 4-35 4 23 4-49 4-114 4 137 5 135 4-95 4-27 4 5 4-37 4-18 4-102 4 124 5 36 4-11 4 57 4-95 4 44 4 29 4-27 5-50 4 2 4-61 4 43 4 94 4-64 4-4 5-88 4 172 4-106 4-21 4 11 4 75 4 22 5-27 4 81 4-160 4-20 4 40 4-9 4 116 5-41 4-20 4-38 4 72 4-12 4-27 4 13 5 42 4-102 4-26 4 153 4-97 4-83 4 87 5-21 4 42 4 40 4-127 4 14 4-15 4 59 4-19 5 5 4-27 4-17 4 20 4 81 4 13 4 27 5-76 4-12 4 50 4-51 4-2 4-65 4 31 5-91 4 109 4 74 4 40 4-131 4 68 4-77 5-7 4 2 4 77 4-25 4-54 4-16 4 73 5-72 4-9 4-21 4 35 4-21 4-7 4-33 5 68 4-66 4 86 4-4 4 35 4-87 4 75 5-54 4 9 4 62 4 70 4-60 4-37 4 9 4 33 5-59 4 24 4-9 4 48 4-5 4-69 4 95 5-9 4-38 4-34 4 43 4 4 4 77 4-33 5-11 4 8 4 68 4-142 4-35 4 40 4 65 5-4 4-39 4-13 4 65 4-66 4-5 4 16 5-1 4 47 4 26 4-20 4-24 4-23 4-9 5-1 4 28 4 1 4 79 4-103 4 27 4 30 5 12 4-9 4 10 4-34 4 46 4-57 4 14 4-9 5-103 4 89 4-21 4 32 4 29 4-71 4-22 5 63 4 56 4-62 4 111 4-88 4-18 4 3 5-8 4 62 4 10 4-26 4-64 4 25 4-40 5 17 4-15 4 144 4-9 4-117 4-12 4 3 5 22 4 67 4-28 4 22 4-12 4 8 4 10 5-23 4-34 4 22 4-52 4 29 4-47 4-19 5 118 4-68 4 50 4-54 4-9 4 84 4 41 4-45 5-23 4-54 4 75 4-12 4-34 4-6 4-10 5 12 4-39 4 75 4-22 4 53 4-89 4 90 5-36 4-40 4-35 4 59 4 49 4-66 4-22 5 49 4-35 4 49 4 30 4-53 4 39 4-63 5-24 4-30 4 106 4-77 4-19 4 128 0 102-4-127-4 3-4 78-4-82-4 16-5 39-4 61-4-23-4 53-4-85-4-10-4 40-5-67-4 160-4-54-4 50-4-183-4 43-4 54-5 7-4 16-4-21-4-56-4 59-4-39-4 29-5-25-4-2-4-27-4 58-4 7-4-56-4 128-5-53-4 74-4-100-4-62-4-24-4 125-4-86-4 48-5-88-4-8-4 80-4-50-4 94-4-24-4-11-5 22-4 14-4 11-4-13-4-50-4 8-4-32-5 19-4-15-4 32-4 36-4 17-4-66-4-64-5 158-4-97-4-10-4 47-4-2-4-10-4 102-5-152-4 37-4 19-4 34-4-82-4 37-4-54-5-42-4 62-4-7-4 0-4 25-4-49-4-29-5 124-4-81-4 45-4 3-4-12-4 22-4 24-4 3-5-42-4-60-4 2-4 81-4-73-4 4-4 43-5-19-4-54-4 111-4-71-4 38-4-26-4 51-5-83-4-15-4 10-4 58-4-59-4 1-4 80-5 5-4-90-4-72-4 113-4 115-4-104-4 89-5-79-4 59-4-65-4-45-4 23-4-19-4 48-5-34-4-49-4 28-4 56-4-71-4 43-4-31-5 52-4-83-4-4-4 60-4 45-4-52-4-69-4 80-5-12-4 9-4-19-4-55-4 39-4-69-4 20-5-35-4 52-4 56-4-55-4-4-4 93-4-58-5 18-4-80-4 63-4 42-4-15-4-75-4 30-5-31-4 95-4-7-4 69-4-33-4-10-4-64-5-47-4 19-4 105-4-80-4 58-4-56-4 28-5 45-4-16-4-3-4-58-4-66-4 62-4 79-5-76-4 8-4-9-4 56-4-56-4 87-4 18-4-85-5 66-4-153-4 94-4 114-4-24-4-18-4-26-5-20-4 22-4-34-4 36-4-87-4 64-4 63-5 35-4-91-4-43-4-16-4-11-4 136-4 18-5-76-4-32-4 21-4-45-4 12-4 87-4-142-5 105-4-22-4 13-4-30-4-16-4-15-4 71-5 84-4 2-4-84-4-2-4 69-4-118-4 65-5-44-4-96-4 105-4 19-4-31-4 67-4 31-4 41-5-87-4-73-4-4-4 91-4-53-4 18-4-46-5 17-4 49-4 31-4-30-4-123-4 90-4-1-5-8-4 36-4-18-4 31-4 6-4-99-4-1-5 48-4 8-4-70-4 26-4 57-4-50-4 52-5 25-4-107-4 27-4-35-4 109-4-43-4 22-5 71-4-37-4-96-4 81-4 25-4-130-4 124-5 80-4-76-4-52-4 48-4 3-4 14-4-58-4 28-5-81-4-58-4 40-4 99-4-32-4-37-4 5-5-17-4 0-4-44-4 21-4 42-4 66-4-34-5-103-4 130-4-95-4 62-4-30-4 47-4-22-5 6-4 74-4-97-4-5-4 17-4 35-4-36-5 54-4-55-4 95-4-104-4-4-4 8-4 52-5-33-4 26-4-44-4 77-4 21-4-105-4-48-5 42-4 45-4 21-4-88-4 87-4-50-4 50-4 40-5-39-4-78-4 37-4 84-4-10-4 0-4-66-5 71-4-103-4 53-4-82-4 32-4-33-4 89-5 35-4-86-4-50-4 85-4-77-4 30-4 20-5 62-4-9-4-78-4 54-4 85-4-21-4-99-5-54-4 68-4 16-4-62-4 37-4 2-4 52-5-196-4 100-4 102-4-131-4 28-4-20-4 77-5 12-4-14-4-40-4-90-4 90-4-18-4-2-4 29-5 61-4-27-4-20-4-23-4-96-4 20-4-18-5 66-4-11-4 13-4-9-4-16-4-63-4-39-5 38-4-56-4 39-4 38-4 49-4-68-4-75-5 37-4 19-4-70-4 84-4-76-4-59-4-5-5-30-4 40-4 19-4-45-4 53-4 83-4-156-5-58-4 151-4-118-4 12-4 40-4 22-4-108-5 69-4-42-4-73-4 120-4-101-4 110-4-59-4 58-5-95-4-68-4 34-4 20-4-15-4-39-4 18-5-21-4-27-4 122-4-112-4 42-4 33-4-98-5 26-4 10-4 32-4-71-4-48-4 65-4 61-5 66-4-64-4 54-4 27-4-80-4 57-4 67-5-4-4 10-4 84-4 12-4 68-4 5-4-37-5-40-4 24-4 97-4 58-4-11-4 16-4-9-5-61-4 106-4-18-4 75-4 47-4-65-4 22-4-112-5 58-4 27-4-52-4 10-4-25-4 25-4 48-5-33-4-15-4-13-4 5-4 45-4-7-4 77-5-112-4 36-4 54-4-16-4-63-4 19-4 76-5-38-4-31-4 75-4-80-4-104-4 128-4 8-5 47-4-119-4 10-4 72-4-14-4-38-4-12-5-49-4 94-4-22-4-49-4 2-4 57-4 3-5-53-4 112-4-79-4-5-4-23-4 19-4-77-4 108-5-43-4 7-4 16-4 15-4-115-4 58-4 65-5 23-4-55-4-5-4 18-4 46-4-76-4-26-5 86-4-14-4-17-4-21-4-25-4 52-4-99-5-20-4 21-4 87-4 4-4 46-4 2-4 8-5-27-4-48-4 27-4-19-4 30-4-12-4-29-5 26-4-23-4-51-4 61-4-18-4 24-4-63-5 55-4 20-4-73-4 66-4-78-4 27-4 13-4 59-5-33-4-34-4 77-4-123-4 47-4 28-4-18-5-22-4 67-4 41-4-124-4 43-4 18-4 22-5 79-4-17-4-197-4 62-4 52-4-18-4 5-5-9-4-30-4 37-4 47-4-63-4 87-4-111-5-29-4 11-4 79-4 22-4 27-4 33-4-104-5-75-4 53-4-9-4 65-4 11-4-57-4 36-5 67-4-101-4 64-4-18-4-27-4-63-4 52-4 4-5 55-4-98-4 37-4 54-4 5-4 7-4-8-5 30-4-74-4 40-4 5-4-59-4 13-4-56-5 126-4 16-4-62-4-1-4 13-4 4-4 57-5-63-4 15-4 4-4-5z" fill="#a83030" fill-opacity="0.65"/>
<path transform="scale(.1)" d="M618 7975l4 22 4 17 4 10 5 28 4-17 4-4 4-28 4-7 4 90 4-47 5-107 4 47 4 7 4 23 4 8 4-27 4 47 5-33 4 48 4-65 4 54 4-69 4-48 4 110 5-62 4 14 4-53 4 51 4 14 4-3 4-67 4 117 5-72 4-10 4 36 4-3 4-55 4-12 4-36 5 89 4 89 4-41 4-35 4 6 4-69 4-70 5 67 4 122 4-91 4 32 4-5 4-45 4 9 5 26 4-9 4-26 4-1 4-61 4 200 4-23 5-41 4-64 4 6 4-19 4 90 4-19 4-56 5 18 4 25 4-24 4-70 4 144 4-106 4 3 5 69 4-50 4 5 4-42 4 71 4-48 4 56 4-26 5-35 4 29 4-20 4 43 4-54 4 44 4 31 5-22 4-12 4 34 4-60 4 16 4-18 4 81 5 22 4-48 4 16 4-27 4-42 4-35 4-23 5 25 4 75 4-34 4 29 4-31 4 54 4-81 5 6 4 44 4 57 4-56 4 11 4-22 4 30 5 7 4-53 4-54 4 107 4-7 4-41 4 15 5 20 4-109 4 93 4-9 4 20 4-5 4 90 4-106 5 1 4 49 4-104 4 47 4 43 4 15 4-80 5 17 4 30 4 49 4-3 4-61 4-2 4 92 5-21 4-64 4-123 4 114 4 114 4-109 4 11 5 54 4-70 4 8 4 43 4 26 4-47 4-26 5 78 4-94 4 58 4-84 4 8 4 38 4-16 5 32 4-10 4-83 4 70 4-29 4 52 4-16 5-58 4 76 4-40 4 81 4-14 4-53 4-76 4-22 5 63 4-24 4-39 4 55 4-79 4-88 4-30 5 59 4-6 4-5 4-38 4-44 4-71 4-15 5 26 4-87 4-52 4 41 4-15 4-29 4 50 5-67 4-57 4-68 4 57 4 47 4 2 4-34 5-17 4 71 4-19 4-32 4 113 4-104 4 24 5-19 4 30 4 27 4 2 4-12 4-23 4 48 5 61 4 2 4 14 4-64 4 59 4-75 4 34 4 39 5-49 4 62 4 31 4-38 4-5 4 86 4-115 5 41 4 117 4-11 4-54 4 25 4-8 4-66 5 50 4-17 4 51 4 87 4-66 4 73 4-32 5-2 4 78 4 23 4-17 4-26 4-42 4 49 5-55 4 25 4 87 4 28 4-25 4 21 4-4 5-39 4 15 4-18 4 66 4 37 4 30 4 29 5-49 4-38 4 7 4-1 4-89 4 110 4 13 4 0 5 24 4-90 4 30 4-34 4 88 4-95 4-59 5 133 4 10 4-6 4-27 4 72 4-49 4-35 5 55 4 92 4-43 4-35 4-54 4 44 4 44 5-69 4-14 4-12 4 25 4-33 4 9 4 109 5-53 4-54 4 24 4-51 4 63 4-22 4 68 5-26 4 6 4 28 4 20 4-62 4-31 4 44 5 41 4-7 4-76 4 62 4-74 4 89 4-44 4-46 5-29 4 64 4 38 4 34 4-92 4 11 4 30 5 3 4-30 4 0 4-47 4 128 4-82 4 17 5 0 4 4 4-7 4-40 4 11 4 80 4-35 5-19 4-20 4 7 4 10 4-46 4 76 4-112 5 72 4 61 4-73 4-39 4-12 4-11 4 39 5 33 4-8 4 12 4 29 4-86 4-40 4 75 5 37 4 15 4 56 4-27 4-22 4-24 4 36 4 54 5-99 4-84 4 153 4-31 4-72 4 73 4 42 5-61 4-9 4 21 4-94 4-26 4 38 4 44 5 22 4-49 4 31 4-59 4-15 4 84 4-32 5-55 4 28 4 83 4-7 4-7 4-19 4-3 5 18 4-47 4-39 4 76 4 68 4-68 4-11 5-13 4 42 4-26 4 38 4-70 4-55 4 105 5 111 4-68 4-29 4-31 4-3 4-18 4-104 4 110 5 40 4-38 4 88 4-82 4 23 4 56 4-14 5-68 4-34 4-23 4 30 4 62 4-39 4 9 5-96 4 156 4-96 4-17 4 28 4 27 4 28 5 24 4 32 4-148 4-5 4 28 4 17 4 104 5-38 4-42 4-51 4 79 4-24 4 4 4-5 5 32 4-38 4-5 4 89 4-106 4-88 4 120 5-44 4 64 4 11 4-107 4 35 4-35 4 34 4-14 5 40 4-53 4-39 4 43 4 69 4 9 4 21 5-60 4-21 4 53 4-54 4 39 4-85 4 6 5-22 4 86 4 43 4 36 4-100 4 38 4-87 5 12 4-14 4 76 4-4 4-49 4-39 4 77 5-45 4 24 4-57 4 20 4 17 4-32 4-42 5 51 4-43 4 77 4-21 4 45 4-34 4 33 5-21 4-35 4 65 4 61 4-52 4-49 4 7 4 57 5-55 4 28 4-27 4 60 4-31 4-48 4 72 5 12 4-43 4-7 4 10 4 25 4 70 4-46 5 34 4-40 4 86 4-129 4-74 4 57 4 77 5-5 4-59 4-7 4 62 4-62 4-7 4 15 5 41 4-2 4 26 4-29 4 24 4-67 4 22 5 9 4-7 4-2 4 76 4-92 4 12 4 45 5 28 4-7 4-7 4-28 4 29 4-29 4-16 4 36 5-113 4 59 4 13 4 4 4 15 4-32 4-43 5 53 4 55 4-50 4 97 4-61 4-18 4-17 5 71 4-19 4 10 4-13 4-55 4 17 4 29 5-71 4 25 4 105 4-13 4-77 4-22 4 9 5 2 4 50 4-18 4 35 4 1 4-2 4-1 5-23 4-12 4 23 4-72 4 39 4-64 4-5 5 103 4-58 4 68 4-89 4 7 4 73 4 71 4-60 5 15 4-91 4 66 4-10 4-46 4 11 4-4 5 18 4-34 4 57 4-41 4 55 4-34 4 37 5-21 4-47 4-40 4 122 4-1 4-6 4-91 5 58 4-38 4 30 4 58 4-54 4 32 4-63 5-31 4-23 4 94 4-78 4-11 4 128" fill="none" stroke="#8b1a1a" stroke-width="10" stroke-linejoin="round"/>
<path transform="scale(.1)" d="M618 7891l4-68 4-43 4 108 5 18 4-23 4 16 4 90 4-134 4-38 4 78 5 44 4-11 4 41 4-27 4-63 4-43 4 32 5 7 4 60 4 125 4-170 4 20 4 7 4-53 5 78 4 33 4-6 4-113 4 15 4 109 4-155 4 52 5 37 4 8 4-90 4 41 4 2 4 79 4-82 5 4 4 69 4 25 4-35 4 36 4-13 4-22 5-38 4 43 4 53 4-18 4 21 4-63 4-28 5 9 4 11 4-80 4 15 4 36 4-2 4 60 5 27 4-55 4-86 4-36 4 99 4 5 4 6 5 16 4 17 4-82 4-66 4 73 4 0 4 20 5 10 4 87 4-98 4 22 4-48 4 80 4 0 4-14 5 56 4-150 4 132 4 7 4-18 4 23 4-47 5 7 4-2 4-13 4-14 4-9 4 13 4-34 5-36 4 69 4-7 4-11 4 33 4-2 4-31 5 77 4-131 4 87 4-51 4 3 4-41 4 66 5-15 4 23 4-41 4 19 4-53 4 104 4-32 5-93 4 27 4 88 4-31 4-19 4 33 4 84 5-88 4 67 4-153 4 33 4 34 4-13 4 19 4 32 5 15 4-24 4 8 4-108 4 44 4-40 4 38 5-10 4 16 4-14 4 14 4 33 4-47 4-49 5 59 4 129 4-152 4 13 4-36 4 27 4 16 5 59 4 48 4-135 4-38 4 89 4 88 4-54 5 21 4-15 4 132 4-133 4-90 4 99 4-2 5-40 4 72 4-76 4 74 4-72 4 36 4-12 5 8 4 40 4-66 4-21 4-9 4 50 4 58 4-78 5-10 4 51 4-18 4-57 4-45 4 26 4 50 5 71 4-47 4-75 4 38 4-33 4 27 4-67 5 14 4 25 4-72 4 43 4 16 4-77 4 33 5-59 4-80 4 43 4-18 4 21 4 26 4-42 5-13 4-52 4 27 4-31 4 27 4-5 4-37 5-42 4 89 4-82 4-122 4 118 4-108 4 56 5-81 4 109 4-97 4 74 4-12 4-48 4 70 4 113 5-92 4-14 4-32 4 76 4 38 4-112 4-52 5 79 4 31 4 1 4-55 4 62 4-64 4 18 5 45 4 8 4-17 4-74 4 38 4 65 4-6 5-42 4 78 4 79 4-121 4 4 4 25 4 37 5-57 4 157 4-111 4 0 4-27 4 22 4-142 5 171 4-41 4 167 4-65 4-71 4 115 4 55 5-76 4-57 4-50 4 95 4-22 4 69 4-100 4 66 5-65 4 91 4 11 4-94 4 119 4-54 4 21 5 68 4-58 4-17 4-23 4 74 4 33 4-64 5-90 4 111 4-36 4 147 4-6 4-89 4-7 5-22 4 24 4 39 4 36 4-18 4-6 4 13 5 37 4-95 4-2 4 62 4 58 4-15 4-92 5 32 4-42 4 59 4-18 4 21 4-11 4 77 5-88 4-30 4 21 4-15 4 87 4-58 4 11 4-5 5 15 4 0 4 3 4-51 4 28 4-8 4 87 5-118 4 39 4 64 4 9 4 28 4 11 4 26 5-104 4 32 4-17 4 15 4 32 4-6 4-107 5 136 4 27 4-133 4 20 4 64 4-111 4-5 5-17 4 149 4-70 4 36 4-4 4 22 4-94 5 67 4-24 4-42 4 5 4 20 4 31 4-49 5 55 4 69 4-99 4 48 4-15 4 7 4 64 4-34 5 49 4-77 4-68 4 19 4 35 4-63 4 69 5 39 4 36 4-77 4-58 4 36 4 49 4-2 5 11 4-12 4-60 4 17 4-10 4 60 4-60 5-17 4 41 4-11 4 29 4-103 4 89 4-56 5-36 4 68 4-72 4 126 4-23 4-50 4 49 5-41 4 46 4 10 4-66 4-6 4 51 4-7 5-29 4 17 4-5 4 18 4 24 4 8 4-39 4-23 5 52 4-74 4-13 4 43 4 6 4 129 4-106 5 11 4-73 4 77 4-53 4 6 4 19 4-82 5 35 4 91 4 0 4-47 4 21 4-53 4 44 5 89 4-37 4-68 4-24 4-14 4-28 4 57 5 15 4-21 4 23 4 10 4-5 4-24 4-102 5 23 4 157 4-85 4 17 4 19 4-28 4 22 5 50 4 13 4-148 4-22 4 133 4-10 4-12 4-17 5 43 4-76 4 36 4-8 4 86 4-66 4-65 5-24 4 182 4-92 4-37 4 8 4-30 4-99 5 68 4 49 4-77 4 67 4-3 4 4 4 84 5 25 4-95 4-67 4 102 4 4 4-69 4 103 5-1 4-50 4-24 4 84 4-31 4-69 4-21 5 41 4 116 4-89 4-26 4 59 4 31 4-134 5 52 4 2 4-2 4-14 4-7 4-56 4 129 4 0 5-40 4-44 4 41 4 67 4-34 4-44 4 37 5 21 4 3 4 73 4-191 4 71 4 30 4-23 5-79 4 153 4-52 4-39 4 60 4-109 4 113 5 11 4-34 4-29 4 1 4 49 4-8 4 55 5-188 4 57 4 66 4-34 4-27 4-7 4 82 5 40 4-32 4-21 4-1 4-25 4 2 4-91 5 33 4 135 4-87 4-40 4 112 4-111 4 24 4 61 5-34 4-39 4-22 4-4 4 47 4 16 4-107 5 122 4 6 4-8 4-44 4-44 4 109 4-74 5 72 4-114 4 33 4-18 4 41 4-29 4 63 5-17 4-21 4 24 4-18 4-9 4 48 4 38 5-33 4-9 4-80 4 23 4 78 4-28 4-91 5 81 4 41 4-117 4 32 4 11 4-77 4 124 5-14 4 81 4-76 4-29 4 34 4 34 4-3 4-26 5-70 4 33 4 34 4-15 4 44 4-21 4 65 5-98 4 74 4 12 4-48 4 68 4-45 4-72 5 76 4-57 4 4 4 46 4 42 4-114 4 35 5-18 4-37 4 57 4 25 4 63 4-49 4 1 5-3 4-25 4-41 4 18 4-28 4 57 0 86-4-40-4 73-4-45-4 34-4 1-5 10-4 47-4-23-4 9-4-88-4 118-4-118-5 15-4-53-4 148-4-53-4-63-4 69-4-9-5-53-4 167-4-66-4-98-4 104-4 38-4-86-5 6-4 22-4 34-4-80-4-14-4-12-4-73-5 86-4-11-4 54-4-7-4-71-4 32-4 69-4-80-5-13-4-113-4 85-4-31-4-29-4 172-4-87-5-26-4 18-4 34-4-51-4 45-4 29-4-5-5 41-4-45-4 23-4-97-4 45-4 27-4-5-5 17-4-35-4 16-4-27-4 42-4-144-4 148-5-65-4 78-4-93-4 18-4 52-4 8-4-26-5-111-4 103-4-17-4-38-4 51-4 2-4 1-5 7-4-15-4 53-4 11-4-103-4 57-4 69-4-45-5-62-4 8-4 39-4 30-4 2-4-32-4 70-5-76-4-14-4-18-4 16-4 18-4 2-4-41-5 132-4-88-4-2-4-25-4-17-4 34-4 31-5 12-4 3-4-29-4-17-4 62-4-28-4-95-5 28-4 90-4-101-4 3-4 129-4-7-4-63-5 47-4 15-4-59-4 66-4-107-4-68-4 131-5-44-4 6-4-89-4 33-4 30-4-8-4-2-4-14-5 40-4 52-4-44-4-10-4-20-4 136-4-128-5-45-4 121-4 37-4-73-4-87-4 33-4 114-5-23-4-132-4 76-4 28-4-25-4-53-4 90-5-45-4-46-4-29-4 41-4 2-4-32-4 8-5-16-4 16-4 76-4-79-4 77-4 69-4-128-5 75-4-27-4 43-4-98-4 44-4-60-4 82-5-42-4-1-4 18-4 22-4-56-4-4-4 78-4 57-5 4-4-119-4 76-4 23-4-98-4 65-4-102-5 24-4-13-4 99-4-16-4-47-4-22-4 47-5-52-4-16-4 21-4 24-4 62-4 23-4 12-5-58-4-55-4 25-4 9-4 51-4-10-4-131-5 39-4 79-4 3-4-63-4 87-4-26-4 3-5-59-4 113-4-106-4-2-4-34-4-19-4 144-5-50-4 0-4-12-4 64-4-32-4-65-4 78-4-43-5-40-4 106-4-66-4-77-4 57-4-8-4-38-5 27-4 36-4 17-4 90-4-167-4 60-4-55-5 7-4 45-4-69-4 71-4 29-4-24-4-34-5 0-4 31-4-58-4 106-4-45-4 18-4-2-5-28-4 22-4-26-4-87-4 112-4 95-4-27-5-119-4-2-4 115-4-103-4-57-4 60-4 104-5 3-4-47-4-19-4 20-4-54-4 1-4 127-4-123-5 35-4-19-4-45-4-4-4 3-4 32-4-9-5-50-4 158-4-77-4 20-4 13-4 27-4-141-5-43-4 91-4 87-4-132-4 21-4 110-4-48-5-33-4 28-4-2-4 61-4-106-4 1-4 56-5 23-4-30-4 25-4-53-4-13-4-19-4-26-5 51-4-6-4-32-4-6-4 0-4 53-4 6-5-74-4 22-4-13-4 88-4-107-4 82-4-119-4 25-5 234-4-135-4-68-4 54-4-7-4 21-4-102-5 35-4 65-4 25-4-77-4 16-4-76-4 71-5 27-4-27-4 92-4-73-4 8-4-27-4 69-5-89-4 2-4 43-4 107-4-197-4-24-4 36-5-31-4 128-4-82-4 6-4-79-4 146-4-78-5-34-4-69-4 53-4-50-4 64-4-48-4 0-5 19-4-54-4 114-4-64-4 2-4-72-4-19-4 73-5 84-4-65-4-76-4 59-4 46-4-114-4-10-5-71-4 98-4-26-4-7-4-20-4 113-4-150-5 46-4 29-4-97-4 19-4 107-4-63-4-101-5 84-4 16-4-58-4-70-4 147-4-47-4 37-5-77-4-57-4 85-4-67-4 63-4 1-4 59-5-152-4 9-4 113-4-12-4 72-4-72-4-12-5 69-4-61-4-127-4 119-4-16-4-105-4 109-4-21-5-42-4 9-4 109-4-128-4 94-4 49-4 14-5 8-4-45-4 46-4-15-4-29-4-31-4 108-5-45-4 54-4 29-4-29-4 25-4-27-4 55-5 13-4 68-4 3-4-39-4-75-4 90-4 96-5-115-4 61-4 29-4-49-4 63-4-37-4 37-5-48-4-16-4 6-4-12-4 38-4 34-4 72-5-58-4-2-4-36-4-6-4 105-4-127-4 48-4-42-5 13-4-17-4 105-4-74-4 10-4 9-4-29-5-3-4-12-4-41-4 110-4 58-4-78-4 10-5 29-4-45-4-51-4 20-4-10-4 60-4-5-5-33-4-66-4-32-4-6-4 30-4 120-4-27-5-119-4 23-4 47-4 28-4-74-4 20-4-31-5 4-4 45-4-31-4 120-4-13-4-77-4 26-5 33-4-38-4-1-4 27-4-72-4 10-4 97-4-53-5 103-4-126-4 29-4 17-4 13-4-120-4 40-5 42-4 22-4-87-4 11-4 48-4-21-4 12-5-16-4 8-4-45-4 10-4 104-4-81-4 123-5-16-4-51-4-39-4 94-4-13-4-52-4-9-5 12-4 7-4-7-4-11-4-23-4 15-4 19-5-12-4 85-4-56-4 74-4-42-4-132-4 157-5-81-4-7-4-5-4-46-4 15-4 43-4 49-4-32-5 9-4 67-4-128-4-40-4 42-4 93-4-40-5-9-4 90-4-124-4-57-4 96-4-48-4 72-5-23-4-46-4 9-4-11-4 18-4-19-4 63-5 15-4 11-4 21-4-53-4 32-4 37-4-117-5 30-4 44-4 16-4 0-4-42-4-32-4 27-5 0-4-5-4-89-4 35-4-4-4 95-4-80-5 27-4 11-4 53-4-134-4 25-4 86-4 12-4-39-5-90-4 84-4-47-4 47-4 150-4-118-4-123-5 19-4-6-4 60-4 52-4 11-4-45-4 18-5-26-4-77-4-3-4 112-4 5-4 9-4 19-5 1-4-126-4 13-4 24z" fill="#f0a050" fill-opacity="0.65"/>
<path transform="scale(.1)" d="M618 7947l4-45 4-28 4 117 5 8 4-21 4 4 4 42 4-123 4-17 4 77 5 35 4-14 4 43 4-19 4-58 4-51 4 19 5-6 4 91 4 122 4-160 4-14 4 27 4-68 5 84 4 36 4-9 4-100 4-5 4 122 4-105 4 21 5 5 4 44 4-93 4 23 4-16 4 83 4-38 5 2 4 21 4 29 4 3 4 18 4-14 4-34 5-34 4 81 4 7 4-24 4 36 4-41 4-20 5-3 4-26 4-31 4-1 4 24 4-6 4 53 5 25 4-64 4-18 4-67 4 78 4 65 4-42 5 13 4 28 4-87 4-55 4 57 4 64 4-23 5 0 4 60 4-74 4-11 4-31 4 63 4 2 4-3 5 68 4-153 4 132 4 24 4-45 4 39 4-66 5 9 4-10 4-14 4 4 4 2 4 10 4-21 5-24 4 39 4 23 4 0 4-30 4 18 4 10 5 47 4-127 4 84 4-78 4-3 4 2 4 29 5 1 4 5 4-10 4-14 4-32 4 95 4-27 5-68 4-6 4 104 4-22 4-18 4 2 4 105 5-96 4 61 4-125 4 11 4 53 4-20 4 10 4 35 5-9 4-25 4 43 4-48 4-38 4-4 4-4 5-7 4 24 4-18 4 44 4 3 4-47 4-36 5 89 4 78 4-136 4-9 4-14 4 29 4 41 5 46 4 26 4-97 4-14 4 35 4 69 4-4 5-5 4-12 4 105 4-95 4-101 4 70 4 6 5-19 4 50 4-42 4 32 4 1 4-35 4 3 5-2 4 40 4-56 4 53 4-58 4 28 4 48 4-38 5 24 4-11 4-26 4-47 4-17 4 10 4 33 5 60 4-42 4-20 4-12 4 8 4-1 4-64 5 64 4-35 4-81 4 59 4 27 4-40 4-17 5-36 4-67 4 34 4-21 4 25 4-1 4-49 5 16 4-79 4 28 4-1 4 22 4-26 4 4 5-25 4 38 4-66 4-108 4 123 4-109 4 24 5-19 4 64 4-103 4 90 4 2 4-83 4 98 4 87 5-81 4-1 4 21 4 2 4 25 4-113 4-31 5 116 4-14 4 0 4-59 4 64 4-74 4 38 5 61 4-15 4 15 4-111 4 54 4 62 4-11 5-63 4 90 4 70 4-113 4-8 4 61 4 4 5-51 4 153 4-112 4 10 4-10 4 24 4-120 5 121 4-16 4 141 4-56 4-65 4 96 4 60 5-80 4-65 4-16 4 84 4-12 4 66 4-106 4 60 5-42 4 45 4 30 4-79 4 84 4-53 4 45 5 51 4 10 4-82 4 28 4 34 4 58 4-96 5-30 4 37 4-6 4 173 4-57 4-66 4-5 5 34 4-23 4 34 4 13 4 28 4-49 4 20 5 5 4-83 4 37 4 23 4 67 4-20 4-78 5-1 4 29 4 19 4-5 4-16 4 28 4 106 5-161 4-27 4 69 4-48 4 97 4-73 4 12 4-14 5 45 4-3 4-25 4-26 4 18 4 11 4 47 5-85 4 33 4 41 4 12 4 40 4-7 4 28 5-63 4-13 4-8 4 60 4-15 4-2 4-67 5 85 4 37 4-121 4-1 4 98 4-99 4-48 5 13 4 145 4-48 4 11 4-12 4 49 4-125 5 58 4-7 4-37 4 1 4 11 4 38 4-15 5 11 4 96 4-113 4 23 4 19 4-6 4 41 4 7 5 23 4-90 4-65 4 38 4 70 4-89 4 35 5 79 4 31 4-86 4-85 4 62 4 37 4-12 5 20 4-5 4-39 4 31 4-58 4 59 4-45 5-9 4 37 4 7 4 0 4-87 4 79 4-51 5-21 4 61 4-65 4 146 4-57 4-33 4 7 5-34 4 42 4 8 4-61 4 36 4 58 4-56 5 5 4 30 4-42 4 42 4 28 4-28 4-14 4-11 5 51 4-109 4 3 4 38 4 4 4 118 4-110 5 36 4-39 4 52 4-70 4 34 4 8 4-80 5-2 4 111 4 5 4-49 4 6 4-39 4 50 5 73 4-25 4-45 4-43 4-19 4-25 4 37 5 34 4-35 4 23 4 28 4 6 4-61 4-45 5-1 4 130 4-75 4 57 4-1 4-52 4 70 5 23 4-22 4-113 4-9 4 95 4-17 4-15 4-7 5 42 4-79 4 48 4-26 4 92 4-54 4-20 5-49 4 155 4-80 4-57 4 43 4-53 4-57 5 41 4 21 4-22 4 32 4-22 4 16 4 65 5 35 4-92 4-7 4 64 4-12 4-73 4 118 5 11 4-82 4-29 4 85 4 22 4-54 4-70 5 42 4 122 4-112 4-3 4 35 4 37 4-93 5 6 4 8 4 0 4-3 4-19 4-44 4 109 4-3 5 2 4-88 4 55 4 87 4-50 4 8 4 10 5-12 4 33 4 40 4-161 4 34 4 66 4-56 5-54 4 124 4-12 4-50 4 38 4-40 4 55 5-1 4-32 4-32 4 9 4 37 4-3 4 72 5-160 4 49 4 32 4-26 4-21 4 5 4 48 5 58 4-51 4 6 4-2 4-27 4-19 4-50 5 48 4 90 4-78 4-49 4 108 4-61 4-15 4 38 5-20 4-20 4-12 4-27 4 42 4 17 4-106 5 117 4 16 4-8 4-48 4-31 4 101 4-76 5 69 4-131 4 88 4-30 4 34 4-23 4 50 5-17 4-8 4-2 4-32 4 44 4 13 4 42 5-37 4-2 4-55 4-11 4 64 4-30 4-55 5 53 4 65 4-145 4 30 4 22 4-81 4 118 5 0 4 80 4-73 4-30 4 53 4 20 4-29 4-7 5-78 4 53 4 23 4-1 4 63 4-28 4 22 5-52 4 79 4-13 4-75 4 82 4 11 4-119 5 64 4-24 4-33 4 55 4 48 4-132 4 45 5-17 4 40 4-30 4 57 4 27 4-14 4-23 5-6 4-13 4-38 4 32 4-50 4 48" fill="none" stroke="#ea8e38" stroke-width="10" stroke-linejoin="round"/>
<path transform="scale(.1)" d="M618 7964l4-121 4 36 4 66 5-16 4-60 4 104 4-32 4-148 4 53 4 107 5-38 4-27 4-66 4 74 4 32 4-26 4 83 5 104 4-121 4-59 4 0 4 12 4-44 4 19 5 72 4-87 4-29 4-15 4 55 4 17 4 32 4-118 5 54 4 72 4-81 4 75 4-79 4 39 4-44 5-73 4 66 4 78 4 30 4-82 4 36 4-36 5 22 4-47 4 88 4 40 4-25 4-27 4 23 5-48 4 76 4-18 4-15 4 59 4-32 4-7 5-5 4-13 4-94 4 103 4 38 4-54 4-65 5 33 4 11 4-41 4 17 4 27 4 24 4 12 5-80 4-10 4 138 4-105 4 39 4 39 4-92 4 6 5-40 4-2 4 54 4-6 4 5 4 24 4 115 5-95 4-37 4-27 4 30 4-71 4 24 4-23 5 31 4-53 4 96 4-122 4 22 4 88 4-20 5 85 4-57 4-44 4 89 4 25 4-100 4 64 5-55 4-17 4 1 4-26 4 32 4 54 4-14 5-28 4-12 4-45 4 35 4 38 4-12 4 88 5-78 4 8 4-137 4 79 4 38 4 22 4 58 4-84 5 9 4-44 4-14 4 35 4-27 4 74 4-32 5 45 4 38 4 35 4-107 4-67 4-17 4 49 5-14 4-32 4 87 4 7 4-80 4 39 4-42 5 77 4 8 4-37 4 46 4-24 4 0 4-1 5-22 4-31 4 82 4-22 4 21 4-17 4-14 5-5 4-33 4 70 4 30 4 3 4-44 4 15 5-94 4 36 4-40 4-13 4 18 4 56 4 27 4-75 5 3 4-49 4-12 4-17 4 28 4 13 4-119 5 40 4-66 4-2 4 80 4-66 4-79 4-28 5-74 4 75 4 15 4 12 4-7 4-57 4-25 5 37 4 2 4-27 4 47 4-37 4 53 4 42 5-36 4 44 4-32 4 11 4 67 4-167 4-1 5 80 4 8 4 25 4-26 4 18 4 86 4-23 5 45 4-26 4-16 4 8 4-29 4-46 4 1 4 55 5 77 4-89 4 91 4-21 4 0 4 43 4-76 5 26 4-50 4 94 4-51 4 29 4 45 4-8 5-23 4 7 4 30 4 64 4-13 4 51 4-19 5-2 4-62 4 111 4-188 4 53 4 129 4-55 5-31 4-24 4-45 4 97 4-20 4 28 4 21 5-52 4-23 4 79 4-30 4-84 4 69 4 99 5-47 4-12 4-41 4 50 4-136 4 152 4-24 4 28 5-69 4-78 4 110 4 14 4-19 4 72 4 16 5-49 4-19 4 25 4-17 4-46 4 20 4 33 5 2 4-30 4 97 4-131 4-22 4 55 4-91 5 126 4 2 4 24 4-29 4-97 4 70 4-16 5 13 4-107 4 73 4 43 4-33 4-44 4 74 5-75 4 65 4 4 4-4 4-65 4 63 4-44 5 18 4 39 4 2 4-22 4-68 4 11 4 33 4 77 5-43 4 56 4-44 4 0 4-23 4 3 4 47 5-9 4-69 4-79 4 69 4-43 4-16 4 94 5-2 4 45 4-65 4 9 4 59 4-61 4-19 5 31 4-31 4 26 4 12 4-46 4 11 4 21 5 45 4 2 4-50 4 10 4-6 4 26 4-62 5-110 4 94 4 106 4-88 4 54 4 1 4 3 5-26 4-33 4-58 4 88 4-79 4-22 4 101 4 8 5 36 4-99 4 54 4-79 4 101 4-64 4 20 5 59 4 13 4-38 4-40 4 72 4-40 4 0 5-32 4 63 4-86 4 34 4 51 4 66 4-65 5-21 4-74 4 94 4 58 4-7 4-54 4-8 5 54 4-71 4 17 4 39 4 3 4 53 4 29 5-131 4 0 4 76 4 6 4-102 4 75 4 2 5-112 4 105 4 15 4-9 4-3 4 49 4-27 4-52 5 68 4-43 4-2 4 117 4-6 4-87 4-40 5 4 4 73 4-24 4-69 4 36 4 48 4-43 5-7 4-14 4-9 4-15 4-1 4 79 4-34 5-26 4-44 4 89 4 4 4 9 4-33 4 18 5 77 4-125 4 6 4 37 4 49 4-22 4 4 5-22 4-29 4 5 4-50 4 52 4-8 4 10 5-50 4-13 4 48 4-27 4-17 4 42 4-57 4-63 5 162 4 51 4-40 4-59 4-53 4-17 4 60 5-15 4-20 4 78 4-43 4-22 4 57 4 17 5 8 4-115 4 5 4 5 4 54 4 13 4-76 5 71 4-55 4 60 4 5 4-34 4-18 4-52 5 81 4-52 4 85 4 41 4 1 4-66 4-61 5 64 4 32 4-26 4 50 4-29 4-25 4 12 5 45 4-74 4 0 4 50 4-76 4 41 4 126 4-92 5-92 4 109 4-75 4 37 4-15 4-29 4 71 5 41 4-156 4 105 4-12 4-87 4 25 4 10 5 70 4 1 4 33 4 33 4-138 4 16 4 23 5 37 4-36 4-94 4 126 4-63 4-18 4 34 5-7 4 16 4-69 4 1 4 29 4-36 4 74 5-4 4-23 4 28 4-69 4 83 4-35 4 21 5-27 4 33 4 10 4 87 4-96 4-32 4-17 4 95 5-10 4 9 4-103 4 52 4-1 4 3 4-15 5 53 4-71 4-7 4-8 4 75 4-83 4-39 5 49 4-61 4 203 4-108 4-114 4 57 4 36 5 10 4-99 4 130 4 19 4-94 4 40 4 124 5-56 4-75 4 79 4-51 4 10 4 35 4-69 5-98 4 37 4 54 4 98 4-64 4 10 4 15 5 38 4-90 4-15 4-24 4 2 4 3 4 46 4 39 5 42 4 45 4-49 4 13 4-41 4-35 4-18 5-21 4 63 4-23 4-36 4 18 4 37 4 49 5 21 4-99 4 43 4 36 4-111 4 48 4-16 5 7 4 54 4 61 4-161 4 131 4-10 4-146 5 140 4-52 4-24 4 26 4 49 4-25 0 124-4-13-4-26-4-10-4-21-4 41-5 23-4 45-4-50-4-44-4 90-4-77-4-23-5-24-4 113-4-83-4 60-4-40-4-63-4 130-5 66-4-160-4 15-4-60-4 78-4-16-4 1-5-1-4 2-4 44-4 7-4-25-4 54-4-51-5 5-4-5-4-58-4 63-4-67-4 13-4-52-4 109-5 43-4-118-4 69-4 49-4-1-4-206-4 50-5 109-4 72-4-145-4 36-4 24-4-27-4 4-5 80-4-108-4 10-4 45-4-61-4-127-4 97-5 18-4-46-4 14-4 44-4 127-4-68-4-103-5-18-4 99-4 15-4-73-4 46-4 45-4-5-5-36-4 26-4-5-4-32-4-79-4 113-4 84-5-38-4-121-4 6-4 125-4-9-4-75-4 69-4-19-5-38-4-30-4 33-4-61-4 54-4 27-4-52-5 16-4-30-4 84-4-142-4 96-4-11-4 127-5-128-4-53-4 26-4 72-4-27-4-24-4 59-5 2-4-100-4 117-4 33-4-27-4 12-4 58-5-121-4-32-4-23-4 88-4-27-4-95-4 176-5-35-4-34-4-69-4 16-4-26-4 61-4-107-5 115-4 79-4-141-4 134-4-21-4-108-4 72-4 9-5-22-4-49-4 41-4 72-4-58-4 4-4 31-5-146-4 80-4 158-4-119-4-37-4-66-4 62-5-72-4 33-4 24-4 15-4-29-4-2-4 28-5-21-4 40-4 7-4-44-4-3-4 3-4 75-5-9-4-30-4-64-4 71-4-22-4-28-4-14-5 49-4-4-4-28-4 19-4 79-4 80-4-102-5-114-4-8-4 93-4-73-4-9-4 82-4-31-4 17-5-23-4-10-4 81-4-37-4-19-4-6-4 28-5 70-4-3-4 4-4 1-4-46-4-17-4 147-5-163-4-18-4 43-4-23-4 29-4-87-4 52-5 19-4 14-4-12-4-45-4 35-4 12-4-31-5-10-4 83-4-102-4-16-4 60-4 57-4-43-5-68-4 58-4 106-4 4-4-67-4-69-4 65-5-57-4 4-4 63-4-82-4 31-4-23-4-4-4 52-5-62-4 16-4-66-4 87-4-2-4-92-4 49-5 88-4 0-4-2-4-4-4-78-4-32-4 63-5-36-4 110-4-39-4-23-4-2-4-83-4 42-5 34-4 24-4-89-4 16-4-38-4 83-4 79-5-77-4-79-4 60-4-74-4 49-4 85-4 58-5-80-4-129-4 46-4-62-4 73-4 34-4 38-5-55-4-7-4-28-4-12-4 12-4 60-4-45-4-21-5 20-4 58-4-23-4-40-4 69-4-86-4-141-5 182-4 8-4 42-4 27-4-13-4-52-4-9-5-16-4 46-4-2-4 79-4-99-4-67-4 36-5 6-4-23-4 49-4-59-4 99-4-42-4-26-5 42-4-104-4 35-4 13-4-45-4 27-4 50-5 13-4-51-4 79-4-30-4 34-4 6-4 35-5-66-4-43-4 53-4-13-4-60-4 43-4-16-4-18-5-3-4 34-4-85-4 84-4 43-4-68-4 17-5 23-4-22-4 61-4 8-4-44-4-14-4 12-5 47-4-76-4-11-4 122-4-27-4 47-4-93-5-68-4 38-4-59-4 58-4 73-4-68-4 42-5 74-4-96-4 18-4-25-4 14-4-41-4 49-5 66-4 19-4-89-4-41-4 87-4-113-4-22-5 119-4-42-4 31-4-66-4 3-4-23-4 76-4-19-5 48-4-109-4 50-4-2-4 19-4-81-4 85-5 3-4-60-4 43-4-15-4-118-4 98-4-34-5 27-4 76-4-54-4-21-4 109-4-155-4 56-5 13-4 110-4-128-4 42-4-79-4-42-4 14-5-13-4 20-4 6-4-37-4-1-4-17-4-30-5-6-4 75-4-5-4 42-4-44-4-96-4 88-5-65-4-49-4 55-4 51-4-8-4 0-4-38-4 58-5-80-4 39-4-58-4 12-4-23-4 75-4-104-5 18-4-22-4 148-4-110-4 61-4-47-4-16-5-20-4-9-4-58-4 81-4-17-4 60-4-105-5 5-4 32-4 78-4-96-4 29-4-44-4 1-5-13-4 38-4 70-4 91-4-74-4-4-4 20-5 21-4 157-4-77-4-25-4 62-4-94-4 79-5-28-4 86-4-17-4-54-4 96-4-78-4 41-4 5-5 54-4-80-4 61-4 12-4-27-4-39-4 32-5-56-4 114-4-88-4 62-4-36-4 20-4-100-5 163-4-98-4 5-4-28-4-8-4 75-4-19-5-47-4 5-4-64-4 61-4 47-4-110-4 40-5 123-4-146-4-1-4 52-4 87-4-17-4-66-5 25-4 4-4-30-4-21-4 42-4-41-4 25-5 74-4-28-4-66-4-3-4-17-4 39-4-22-4 4-5 82-4-65-4 41-4-54-4-36-4 72-4-41-5 10-4 119-4-146-4-44-4 51-4 51-4 7-5-22-4 84-4 31-4-102-4-34-4 40-4 18-5-81-4 40-4-82-4 121-4-46-4-40-4 44-5-2-4-9-4-53-4 76-4 7-4-39-4 95-5 39-4-63-4-22-4 101-4-156-4 14-4 36-5-27-4-26-4 72-4 83-4-126-4 138-4-137-4-22-5 68-4 15-4-26-4-6-4-88-4 51-4 17-5 50-4 24-4 16-4-75-4-5-4-14-4 13-5 92-4-49-4 26-4-70-4 68-4 23-4-118-5 45-4-45-4 77-4-19-4-36-4-20-4-14-5 5-4 58-4-29-4 10-4 15-4-33-4-49-5 48-4 20-4 6-4-24-4 4-4-4-4-42-5 124-4-50-4-14-4-8-4-14-4-38-4 7-4 119-5-135-4 21-4 5-4 64-4-59-4 93-4 88-5-88-4-13-4-19-4-33-4-136-4 183-4-28-5-5-4-104-4-22-4 118-4 44-4-126-4 81-5-5-4-39-4-9-4 70z" fill="#d070f5" fill-opacity="0.65"/>
<path transform="scale(.1)" d="M618 8007l4-96 4 23 4 53 5-6 4-70 4 114 4-38 4-132 4 37 4 106 5-17 4 0 4-124 4 105 4 32 4-3 4 48 5 96 4-105 4-76 4 30 4-26 4-24 4-2 5 104 4-103 4-18 4 11 4 35 4 12 4 23 4-33 5-36 4 57 4-38 4 35 4-27 4 17 4-33 5-60 4 58 4 55 4 7 4-46 4 33 4-47 5 8 4-16 4 54 4 38 4-3 4-52 4 34 5-47 4 97 4-20 4-41 4 64 4-29 4 21 5-49 4-13 4-39 4 53 4 57 4-35 4-45 5-8 4-3 4-46 4 53 4 16 4 25 4-2 5-74 4 6 4 138 4-122 4 83 4-22 4-82 4 16 5-6 4-20 4 20 4 75 4-47 4 22 4 90 5-67 4-67 4 7 4 11 4-73 4 38 4-7 5 16 4-48 4 68 4-38 4-50 4 85 4-29 5 83 4-38 4-42 4 62 4 63 4-65 4-10 5-17 4-12 4-25 4-39 4 38 4 101 4-67 5-19 4 14 4-58 4 36 4 45 4-26 4 77 5-80 4 1 4-57 4 20 4 28 4 12 4 62 4-28 5-32 4-35 4 14 4-4 4-3 4 52 4-18 5 10 4 52 4 26 4-97 4-59 4-9 4 98 5-68 4-36 4 98 4-20 4-70 4 51 4-23 5 61 4 14 4-56 4 27 4 2 4-2 4 48 5-92 4 34 4 31 4 7 4-20 4 35 4-64 5 26 4-33 4 54 4 29 4-4 4-53 4 47 5-73 4 15 4-40 4 32 4-39 4 55 4 22 4-81 5 16 4-64 4 41 4-39 4 26 4 45 4-138 5 9 4-43 4 2 4 77 4-79 4-75 4-32 5-31 4 37 4 29 4-8 4 45 4-68 4-29 5 16 4 54 4-44 4 32 4-58 4 55 4 25 5-7 4 30 4 7 4-25 4 88 4-157 4 10 5 31 4 56 4-24 4-2 4 3 4 72 4-31 5 62 4-41 4 11 4 3 4-10 4-48 4-27 4 52 5 71 4-89 4 94 4 11 4-21 4 24 4-76 5 16 4-10 4 56 4-25 4 33 4 20 4-14 5-5 4-4 4 36 4 72 4-28 4 90 4-65 5-8 4-58 4 133 4-149 4 37 4 91 4-65 5-29 4 5 4-72 4 108 4-2 4-8 4 41 5-28 4-54 4 80 4-24 4-41 4 9 4 104 5-47 4 3 4-59 4 37 4-70 4 109 4-27 4 35 5-94 4-28 4 111 4-36 4 11 4 81 4-2 5-57 4-34 4 33 4-16 4-10 4 1 4 64 5-36 4-36 4 82 4-102 4-40 4 58 4-65 5 97 4 48 4-12 4-1 4-110 4 41 4 30 5-17 4-59 4 43 4 44 4-21 4-53 4 49 5-50 4 24 4 36 4-23 4-74 4 73 4-39 5 11 4 28 4 10 4-33 4-4 4 12 4-10 4 60 5 12 4 10 4-25 4-17 4 4 4-39 4 49 5-10 4-60 4-53 4 57 4-28 4-25 4 98 5-21 4 35 4-11 4-46 4 60 4-55 4 1 5 13 4-33 4 46 4 55 4-62 4 6 4-12 5 30 4 6 4 1 4 12 4-17 4-8 4-35 5-146 4 117 4 96 4-78 4 47 4 12 4-27 5-24 4-6 4-6 4 14 4-46 4-5 4 65 4 7 5 46 4-69 4 10 4-76 4 82 4-55 4 75 5 69 4-23 4-61 4-44 4 73 4-50 4 39 5 22 4-7 4-85 4 36 4 18 4 77 4-45 5-27 4-58 4 89 4 30 4 7 4-7 4-59 5 45 4-67 4 25 4 58 4 4 4 27 4 15 5-110 4-24 4 83 4 5 4-95 4 71 4-7 5-26 4 27 4 10 4 6 4-17 4 66 4-45 4-28 5 62 4-54 4 34 4 92 4-5 4-96 4-49 5 36 4 58 4-41 4-64 4 26 4 74 4-62 5 1 4 8 4-10 4-25 4 22 4 46 4-24 5-23 4-48 4 88 4-12 4 16 4-39 4 19 5 120 4-137 4 12 4 41 4 24 4-13 4 4 5-46 4-29 4 6 4-16 4 45 4-44 4 9 5-13 4-15 4 39 4-54 4-4 4 58 4-76 4-27 5 138 4 76 4-59 4-70 4-35 4 5 4 32 5-32 4-3 4 53 4-11 4-46 4 60 4 24 5 8 4-94 4 1 4 3 4 50 4 2 4-58 5 46 4-41 4 31 4 17 4-25 4-21 4-42 5 76 4-56 4 75 4 39 4 60 4-112 4-70 5 104 4 1 4-15 4 54 4-51 4-32 4 30 5 34 4-42 4-36 4 79 4-28 4-46 4 133 4-85 5-103 4 107 4-67 4 31 4-15 4 19 4 53 5 38 4-166 4 100 4 8 4-88 4 24 4 21 5 95 4-28 4 10 4 30 4-85 4-51 4 62 5 18 4-48 4-35 4 76 4-67 4-22 4 43 5 61 4-56 4-29 4-47 4 85 4-59 4 51 5-10 4 15 4 1 4-62 4 72 4-34 4 25 5 6 4 26 4-30 4 81 4-43 4-79 4-11 4 108 5 14 4-38 4-107 4 65 4 15 4 4 4-20 5 44 4-32 4-26 4-28 4 74 4-48 4-70 5 34 4 21 4 135 4-117 4-79 4 22 4 40 5-3 4-98 4 128 4 40 4-69 4 15 4 116 5-68 4-40 4 53 4-38 4-13 4 90 4-70 5-104 4-6 4 130 4 50 4-57 4-30 4 67 5-2 4-100 4 18 4-18 4 35 4-31 4 52 4 22 5 19 4 48 4-52 4 20 4-25 4-39 4-10 5-10 4 31 4-3 4-58 4 40 4 11 4 104 5-22 4-115 4 53 4 38 4-86 4 66 4-64 5 15 4 38 4 70 4-126 4 88 4 20 4-96 5 58 4-46 4-2 4 18 4 38 4-6" fill="none" stroke="#c040f0" stroke-width="10" stroke-linejoin="round"/>
<path transform="scale(.1)" d="M618 7924l4 26 4-67 4-51 5 50 4 41 4-63 4 66 4 47 4 7 4 56 5 56 4-122 4-90 4-50 4 31 4 112 4-9 5-126 4 81 4 88 4-99 4 19 4-27 4-35 5-19 4 19 4 35 4 49 4-49 4 48 4-71 4-11 5-27 4 96 4-4 4-21 4-26 4 78 4-2 5-54 4-54 4 75 4-78 4 58 4-118 4 90 5 70 4 23 4-48 4-98 4 4 4 95 4 56 5-62 4 24 4-153 4 85 4 51 4 121 4-60 5-72 4 37 4 2 4-114 4 45 4 79 4-32 5-32 4 43 4-64 4-17 4-100 4 92 4 90 5 8 4-47 4-59 4-39 4 99 4-44 4 90 4-52 5-6 4 24 4-30 4-18 4 51 4 22 4 23 5-65 4 34 4-12 4-64 4-30 4 79 4 43 5-57 4-22 4 85 4-144 4 126 4-86 4 45 5 42 4-6 4-39 4 39 4-22 4-71 4 26 5 44 4 105 4-117 4 114 4-106 4-25 4 93 5-54 4 33 4-61 4 28 4 50 4-41 4-17 5-2 4-111 4 98 4-60 4 55 4 64 4-16 4 26 5-95 4 8 4 6 4 63 4-70 4 85 4 31 5-31 4 47 4-55 4-22 4-4 4-23 4-57 5 13 4-17 4 55 4 12 4-101 4 93 4 18 5-51 4 50 4-19 4-16 4 7 4-30 4 58 5 28 4-70 4-29 4 76 4 26 4-33 4-109 5 142 4-5 4-86 4 39 4 92 4 33 4-88 5 47 4-59 4-14 4-62 4 39 4 5 4 38 4 44 5-59 4-19 4-115 4 47 4 78 4-143 4 71 5 8 4-38 4 37 4-50 4-41 4 36 4 54 5-46 4 41 4-55 4 13 4-19 4-36 4-75 5 34 4 6 4 41 4 12 4-49 4-44 4 12 5-16 4 82 4 15 4-34 4 26 4 77 4-101 5-28 4-29 4 71 4-31 4 21 4-12 4 51 5-24 4-5 4 18 4-8 4-15 4-12 4 52 4-74 5 160 4-5 4 5 4-75 4-27 4 75 4 11 5-34 4 19 4-36 4 35 4-43 4 52 4 60 5-15 4-12 4 22 4-32 4-17 4-23 4 10 5 46 4 64 4-34 4 4 4 7 4-22 4-19 5 0 4 33 4-53 4 13 4 63 4-84 4 44 5 70 4-28 4 63 4-67 4-61 4 82 4-17 5-74 4 23 4 32 4 0 4 67 4-68 4-12 4 46 5-16 4 69 4-29 4 3 4-22 4 98 4 4 5 41 4-53 4 21 4-45 4 26 4-65 4 58 5 20 4 16 4-53 4-16 4 44 4 18 4 19 5-119 4 40 4 43 4-37 4-21 4-90 4-47 5 139 4-2 4 22 4 47 4 11 4-139 4-32 5 116 4-36 4-41 4 0 4-44 4 89 4 1 5-58 4-23 4 85 4-29 4 5 4-17 4 18 4-40 5-126 4 41 4 75 4 87 4-86 4-84 4 90 5-57 4 86 4 49 4-65 4 50 4-75 4-65 5 42 4-15 4-35 4 43 4-49 4-28 4 122 5-102 4-15 4 61 4-24 4 12 4 2 4-23 5 3 4 24 4-80 4 6 4 15 4 11 4-71 5 136 4-11 4-156 4 32 4-4 4-47 4-40 5 127 4-22 4 40 4-38 4-88 4 62 4-46 4 87 5-92 4 28 4 44 4 1 4-14 4-43 4 31 5 79 4-46 4 5 4 66 4-19 4-2 4 20 5 10 4 43 4-32 4 18 4-17 4 13 4 10 5-67 4 39 4 81 4-95 4 54 4 45 4-115 5 117 4-32 4-26 4-9 4 49 4-8 4 9 5-43 4 76 4-39 4-34 4-37 4 50 4 4 5 20 4-85 4 69 4 139 4-92 4-41 4-22 4 61 5-3 4-28 4 11 4-39 4-32 4 39 4 47 5 0 4 48 4-34 4-76 4-43 4 50 4-51 5 39 4 5 4 30 4-34 4 47 4 42 4-27 5-80 4 19 4 91 4-97 4 69 4-51 4-9 5 125 4-2 4-106 4-41 4 74 4 11 4-16 5-52 4 2 4-35 4 76 4-32 4 28 4-7 5-48 4-65 4 111 4-11 4 8 4 18 4-70 4 88 5-44 4 106 4-89 4-22 4-83 4 85 4 19 5-40 4 55 4 2 4 40 4-73 4 94 4-33 5-1 4 74 4-120 4 63 4-105 4 35 4 55 5 35 4-3 4-46 4 24 4-44 4-88 4 148 5-23 4-47 4-32 4-113 4 189 4-43 4 95 5-53 4-65 4-57 4 113 4 19 4 59 4-35 5 5 4-52 4 13 4-49 4 24 4 23 4-97 4-24 5 110 4-62 4-67 4 45 4 0 4 86 4-12 5 97 4-29 4-54 4-79 4 17 4-6 4-6 5 74 4-110 4 59 4 75 4-7 4-38 4-18 5-65 4 57 4 39 4-94 4-80 4 47 4 89 5 4 4 10 4-25 4 41 4-54 4-89 4 71 5 124 4-19 4-4 4-74 4 49 4-64 4 17 5 13 4 80 4-80 4-44 4-19 4 17 4 65 4-66 5 6 4-5 4 64 4-13 4 32 4-3 4-57 5 100 4-142 4-7 4 121 4-34 4 26 4-15 5 64 4-50 4 66 4-29 4-133 4 43 4 0 5-22 4 35 4-16 4 21 4-28 4 39 4-36 5 14 4-67 4-6 4 98 4 48 4-60 4-9 5-31 4 58 4 110 4-83 4-98 4 91 4-45 5 25 4-15 4 13 4-25 4 12 4 43 4-43 4 25 5-8 4-104 4 131 4-18 4-70 4-30 4 101 5 3 4-23 4 38 4-32 4 41 4-46 4 54 5-64 4-17 4 51 4 60 4 4 4-16 4-161 5 125 4 22 4-144 4 77 4-71 4 17 4 37 5 12 4 30 4-4 4-78 4 2 4 22 0 121-4 13-4 6-4 31-4 14-4-28-5-58-4-29-4 70-4 6-4 99-4 15-4-30-5-90-4 141-4-63-4 3-4-57-4-51-4 82-5 22-4-82-4 86-4-62-4-5-4-32-4 80-5-48-4-76-4-15-4 89-4 1-4-34-4 27-5 7-4-45-4 53-4-48-4 36-4 3-4 23-4 62-5-104-4 46-4-45-4 15-4 95-4-106-4-48-5 148-4-20-4-25-4-71-4-10-4-38-4 20-5 29-4 27-4-37-4 81-4-72-4-25-4-18-5 138-4-81-4-48-4 101-4 10-4-24-4 11-5-29-4-7-4 74-4-74-4-94-4-19-4 156-5-61-4 44-4 19-4-55-4 36-4-117-4 0-5 76-4 54-4-32-4-9-4 37-4 14-4-5-4-101-5 36-4 54-4 52-4-85-4 82-4-61-4 7-5 32-4-183-4 72-4 98-4-63-4-27-4 83-5-89-4-87-4-31-4 95-4 81-4-4-4-66-5 28-4 63-4 2-4-8-4-51-4 42-4 13-5-50-4 43-4-26-4-31-4 107-4 35-4 0-5-37-4 45-4-130-4-57-4 75-4-43-4 97-5-119-4-14-4 73-4-16-4 3-4 37-4-29-4 70-5-8-4 46-4-36-4 8-4-70-4-39-4 100-5 68-4-166-4 43-4 2-4-73-4 39-4 92-5-25-4-156-4 150-4-15-4 93-4-64-4 32-5-59-4-46-4 64-4 40-4-39-4 49-4-35-5-34-4 65-4 55-4-129-4-19-4 58-4-79-5 1-4 58-4-147-4 72-4 65-4 52-4-94-5 62-4-44-4-9-4-22-4 78-4-71-4-88-4 45-5 70-4 30-4 53-4-85-4-56-4 105-4-57-5 1-4 36-4 28-4 30-4-118-4 82-4 17-5-51-4-5-4 17-4 2-4 0-4-9-4 24-5-15-4-16-4 13-4 63-4-39-4 0-4-19-5-106-4 75-4-31-4 5-4 40-4 97-4-74-5-44-4 6-4-88-4 38-4 47-4-24-4 112-5-89-4-50-4 29-4 63-4 48-4-52-4 44-4-45-5-85-4 123-4-128-4 36-4-6-4 92-4-139-5 74-4 42-4-44-4-54-4 20-4 59-4 19-5-18-4-12-4-41-4-23-4 36-4-79-4-23-5 117-4-21-4-59-4 61-4 16-4 2-4-45-5-58-4 77-4 9-4-73-4-24-4 14-4-18-5 56-4-49-4-70-4 27-4 23-4-6-4-67-5 57-4 44-4-23-4-32-4 2-4 70-4-2-4 22-5-79-4-73-4 70-4 56-4-18-4 54-4 29-5-119-4 44-4-18-4 8-4 11-4 54-4 62-5 32-4-113-4-8-4 0-4 14-4-42-4-1-5 106-4-73-4 10-4-8-4-12-4 73-4-14-5-51-4 53-4 63-4-37-4 68-4 18-4-84-5 49-4-90-4 15-4 93-4-70-4-92-4-68-5 135-4 129-4-47-4 1-4-49-4 96-4-127-4 18-5 43-4 32-4-131-4 133-4-4-4 0-4 0-5-17-4-37-4 101-4 29-4 13-4-81-4-25-5-71-4-24-4 80-4 58-4 20-4-3-4 31-5 6-4-22-4-30-4 9-4 40-4-10-4 5-5-41-4-61-4 53-4 5-4 17-4 33-4 20-5 20-4-35-4-144-4 21-4 52-4-37-4-3-5-54-4 59-4-30-4 10-4-23-4-25-4 26-4 26-5-13-4 63-4-126-4 51-4 36-4-9-4-8-5-12-4-33-4 45-4-106-4 45-4 35-4-22-5 46-4-29-4-29-4 88-4-24-4-17-4-54-5 12-4-26-4-12-4 10-4 43-4-10-4 15-5 28-4-100-4-82-4 51-4 81-4-77-4-2-5 42-4-3-4-103-4 29-4 72-4-5-4 10-5-88-4 32-4-46-4-8-4 100-4-50-4-57-4 130-5-50-4-82-4-7-4-16-4 92-4-29-4-19-5-2-4 72-4-58-4 1-4 61-4-89-4 30-5 16-4-41-4-2-4 43-4 6-4-55-4 2-5 3-4 12-4 64-4-22-4 111-4-60-4-24-5 5-4 71-4-138-4 67-4 69-4 11-4 5-5-28-4-92-4 112-4-22-4-25-4 104-4-42-5 24-4 13-4-58-4 82-4-165-4 99-4 25-4 66-5-12-4 38-4-76-4-30-4-4-4 95-4-20-5-17-4-45-4-1-4-33-4-28-4 23-4 67-5-65-4 125-4-151-4 52-4-48-4 12-4 58-5-42-4 32-4-67-4 31-4-24-4-40-4 14-5 13-4 102-4-24-4-23-4 68-4-13-4-33-5 154-4-158-4 30-4-4-4-53-4-66-4 108-5 5-4 11-4-50-4 3-4-58-4 46-4-32-4 133-5-86-4 65-4-28-4-13-4-91-4 69-4-22-5 46-4-65-4 71-4 109-4-82-4 13-4-50-5-81-4 12-4-2-4 41-4 18-4-33-4 33-5 25-4-46-4-8-4 30-4-15-4-28-4 157-5-102-4 37-4-108-4 15-4 3-4 27-4 8-5 1-4 14-4 44-4-46-4-52-4 3-4 155-5-101-4-28-4 21-4-69-4 55-4-117-4 79-4 64-5 0-4-55-4-47-4 63-4 6-4-8-4 7-5 11-4 74-4-144-4 56-4 44-4 5-4-50-5 41-4 77-4-24-4-159-4 92-4-33-4 47-5 21-4-55-4-2-4-20-4 5-4 34-4 82-5-141-4 4-4 13-4 38-4-8-4-53-4 86-5 18-4 11-4-115-4 14-4 22-4 80-4-99-5-39-4 52-4 27-4-38-4 26-4-18-4-17-4 8-5 69-4-72-4 17-4 36-4 29-4-11-4-64-5 73-4 97-4-210-4 75-4-34-4 93-4 65-5-51-4-54-4 21-4 41-4-118-4 37-4-14-5-85-4 61-4 72-4 36z" fill="#60d860" fill-opacity="0.65"/>
<path transform="scale(.1)" d="M618 8015l4-5 4-69 4-56 5 68 4 27 4-50 4 92 4 3 4-7 4 55 5 54 4-94 4-91 4-9 4-22 4 162 4-54 5-99 4 73 4 49 4-64 4-9 4-22 4 19 5-44 4 5 4 27 4 33 4-37 4 43 4-50 4-31 5 6 4 97 4-41 4-22 4-20 4 96 4-6 5-36 4-70 4 64 4-35 4 10 4-65 4 43 5 105 4-29 4-42 4-51 4 12 4 49 4 55 5-41 4-12 4-60 4-3 4 105 4 72 4-68 5-57 4 44 4-2 4-79 4-5 4 111 4-53 5-22 4 18 4-27 4-12 4-82 4 70 4 73 5 4 4-56 4-69 4 39 4 22 4 13 4 34 4-12 5 47 4-65 4-16 4 16 4 49 4-11 4 5 5-33 4 12 4-19 4-33 4-23 4 93 4 3 5 23 4-89 4 56 4-64 4 48 4-39 4 45 5 9 4-20 4-3 4 10 4-31 4-34 4 6 5 63 4 77 4-64 4 98 4-108 4-48 4 79 5-50 4 27 4-64 4 59 4 32 4-7 4-41 5 42 4-122 4 65 4-53 4 56 4 31 4 17 4 8 5-51 4-49 4 35 4 59 4-33 4 27 4 95 5-93 4 40 4-21 4-45 4 10 4 0 4-79 5-1 4-15 4 47 4 18 4-66 4 81 4-7 5-5 4-4 4-16 4 16 4-22 4 61 4-34 5 46 4-68 4-26 4 52 4 30 4-17 4-31 5 79 4 8 4-91 4 21 4 62 4 54 4-63 5 30 4-63 4-19 4-81 4 102 4-39 4 48 4 16 5-41 4 11 4-110 4 37 4 49 4-127 4 81 5 19 4-22 4 13 4-60 4-54 4 88 4-9 5-25 4 32 4 3 4-50 4 2 4-50 4-44 5 16 4 2 4 48 4 3 4-46 4-21 4 26 5-16 4 26 4 52 4-47 4 13 4 67 4-86 5-14 4-4 4 49 4-61 4 19 4-3 4 66 5 13 4-67 4 37 4 22 4-58 4-2 4 49 4-53 5 124 4-8 4 6 4-74 4-28 4 89 4 7 5-38 4 11 4 20 4-23 4-47 4 67 4 80 5-21 4-14 4 16 4-37 4-14 4-5 4 17 5 18 4 59 4-9 4 14 4-40 4 3 4 5 5-23 4 27 4-43 4-17 4 85 4-65 4 39 5 41 4-10 4 36 4-51 4-56 4 104 4-41 5-30 4-2 4 4 4 12 4 45 4-39 4 9 4-6 5 19 4 35 4 5 4-25 4-22 4 122 4 19 5 11 4-37 4-6 4-31 4 11 4-59 4 59 5 31 4 5 4-21 4-29 4 18 4 24 4 21 5-63 4 5 4 23 4-29 4-40 4-85 4-11 5 105 4 12 4 51 4 17 4-9 4-120 4 3 5 66 4-18 4-21 4 2 4-88 4 110 4-16 5-50 4-21 4 106 4-62 4 27 4-9 4 32 4-84 5-130 4 54 4 83 4 79 4-89 4-50 4 90 5-53 4 85 4 16 4-67 4 43 4-69 4-58 5 46 4-1 4-54 4 28 4-21 4-19 4 98 5-104 4-7 4 52 4-19 4 6 4 4 4 46 5-15 4-19 4-67 4-2 4 3 4 15 4-58 5 127 4-19 4-105 4 25 4-31 4-58 4 16 5 103 4-21 4 21 4-55 4-44 4 46 4-11 4 22 5-75 4 48 4 25 4-11 4-21 4 13 4 40 5 12 4-14 4-4 4 44 4 28 4-6 4-28 5 33 4 44 4-17 4 1 4-38 4 36 4 15 5-92 4 31 4 80 4-65 4 38 4 43 4-52 5 68 4-25 4-43 4-15 4 52 4 18 4-16 5-59 4 108 4-66 4-14 4-36 4 88 4-59 5 53 4-20 4 12 4 96 4-71 4-52 4-25 4 55 5 43 4-70 4 18 4-43 4-35 4 63 4 21 5 22 4 61 4-65 4-59 4-23 4 40 4-63 5 73 4 12 4 14 4 3 4-8 4 15 4-6 5-33 4-2 4 50 4-48 4 33 4-34 4-2 5 88 4-9 4-95 4 39 4 22 4-9 4-25 5-27 4 29 4-70 4 66 4 27 4-13 4-18 5-59 4-55 4 100 4 30 4-36 4 20 4-30 4 66 5-53 4 100 4-71 4-43 4-78 4 116 4-19 5-21 4 67 4-28 4 30 4 28 4 19 4-49 5 17 4 54 4-84 4 51 4-73 4-14 4 51 5 46 4-17 4 9 4-35 4-14 4-119 4 152 5 1 4-69 4-36 4-20 4 93 4-42 4 130 5-60 4-83 4-9 4 91 4 6 4 47 4-40 5 7 4-61 4 20 4-43 4 11 4 20 4-86 4-4 5 114 4-80 4-12 4-15 4 29 4 108 4-29 5 67 4-14 4-44 4-94 4 25 4 9 4-24 5 62 4-62 4 9 4 63 4 0 4-19 4-41 5-47 4 62 4 21 4-87 4-88 4 39 4 89 5 46 4-37 4 2 4 52 4-76 4-81 4 127 5 46 4-13 4 28 4-77 4 66 4-58 4-18 5-11 4 90 4-38 4-28 4-28 4 13 4 48 4-60 5-35 4-2 4 90 4-25 4 44 4-11 4-51 5 81 4-149 4 6 4 108 4 20 4-24 4-5 5 47 4-31 4 45 4-19 4-117 4 45 4 41 5-80 4 26 4 5 4 47 4-55 4 38 4-32 5-7 4-43 4 16 4 54 4 59 4-18 4 6 5-90 4 53 4 108 4-88 4-57 4 68 4-45 5 64 4-38 4-5 4-15 4-11 4 45 4-48 4 35 5-8 4-65 4 83 4-10 4-80 4-7 4 89 5 25 4-51 4 35 4-14 4 51 4-65 4 68 5-43 4-50 4 51 4 59 4 0 4 24 4-152 5 108 4 26 4-79 4-12 4-38 4-27 4 34 5 35 4 29 4-10 4-54 4-2 4 4" fill="none" stroke="#44cc44" stroke-width="10" stroke-linejoin="round"/>
<path transform="scale(.1)" d="M618 7944l4-3 4-26 4-95 5 7 4 57 4 45 4-28 4 56 4-37 4-40 5-10 4 33 4 138 4-88 4-7 4 25 4-123 5 61 4 41 4-9 4 10 4-86 4 126 4-100 5 54 4-56 4-44 4 38 4 85 4-91 4-1 4-40 5 77 4-39 4 61 4-41 4 21 4 15 4 32 5-32 4 31 4 22 4-126 4 34 4 59 4-5 5-26 4 9 4-16 4 12 4-27 4 25 4 51 5-110 4 19 4-36 4 31 4 51 4 16 4-112 5 74 4 39 4 18 4-47 4 30 4-22 4 8 5-4 4-14 4-26 4 10 4-24 4-70 4 103 5 57 4-46 4-17 4 22 4-56 4 116 4-68 4-28 5 100 4-84 4-36 4 56 4-26 4 30 4-3 5-17 4-43 4 46 4-4 4 92 4-68 4-60 5 28 4 5 4-8 4-16 4 56 4 8 4-89 5 4 4 108 4 11 4-42 4-43 4-83 4 83 5 71 4-50 4-2 4-5 4 71 4 11 4-30 5-17 4-43 4-32 4 57 4-125 4 88 4-30 5 60 4 44 4-19 4 57 4-111 4-6 4-5 4-36 5 31 4-49 4 134 4-44 4-14 4 29 4-41 5 35 4 39 4 28 4-113 4 143 4-65 4-105 5 28 4 48 4 19 4-10 4-4 4-28 4 56 5 39 4-129 4 82 4 13 4-151 4 122 4 40 5 4 4-80 4 22 4 1 4 96 4-36 4-118 5 46 4-40 4-26 4 205 4-3 4-100 4-36 5 13 4-40 4 70 4 71 4-115 4 30 4 63 4-29 5-67 4-5 4 40 4-115 4 84 4-82 4 3 5 24 4-127 4 68 4-106 4 117 4-41 4-14 5-90 4 40 4 17 4 19 4-74 4-89 4 47 5-2 4-15 4-7 4 75 4 8 4-103 4 135 5-79 4-47 4 54 4-96 4-47 4 95 4-20 5 39 4-29 4 47 4-35 4-76 4 32 4 26 5 13 4 14 4-34 4 29 4 57 4-33 4 58 4 4 5-35 4-2 4 46 4-27 4-61 4 38 4 11 5 23 4 53 4-25 4 107 4-118 4-72 4 57 5 65 4-103 4 52 4-8 4 49 4 13 4 32 5 15 4-25 4-29 4 23 4 20 4-4 4-30 5 33 4-21 4-11 4 3 4 20 4-15 4 3 5 41 4-45 4 46 4 89 4-19 4-35 4 8 5-17 4-81 4 127 4 43 4-47 4-31 4 53 4-61 5-88 4 146 4 58 4-65 4 58 4 6 4-107 5 14 4 25 4-42 4 124 4-33 4-70 4 32 5 63 4-45 4 17 4-34 4 36 4-52 4 103 5-53 4-44 4 39 4 10 4-15 4-17 4-59 5 15 4 36 4 53 4-53 4-25 4 3 4 77 5 5 4-19 4 47 4-12 4-51 4-25 4 54 5-40 4 73 4-63 4 0 4-59 4 19 4 55 4 9 5-6 4 20 4 30 4-24 4-72 4 11 4-84 5 52 4 49 4 30 4 3 4-29 4 19 4 3 5-63 4 9 4 43 4 17 4-35 4 33 4-32 5 41 4-74 4 5 4 73 4-20 4-42 4 58 5-54 4 58 4-225 4 131 4 74 4-7 4 99 5-48 4-101 4 39 4 44 4 0 4-14 4 16 5 11 4-40 4 56 4 10 4 36 4 29 4-92 4-63 5-42 4 126 4 12 4-41 4-15 4 17 4 9 5-12 4 7 4-52 4 36 4-1 4-27 4 2 5 110 4 20 4 22 4-77 4 81 4-107 4-29 5 114 4-85 4 67 4-48 4-47 4-46 4 2 5 22 4 68 4-56 4 26 4-21 4-62 4 17 5 110 4-38 4 9 4-19 4-38 4 38 4 4 5-32 4 23 4-18 4 12 4 27 4-24 4-114 4 126 5 17 4-6 4-59 4 33 4-79 4-3 4 10 5-8 4-4 4 59 4 25 4-45 4-58 4 150 5 6 4-127 4 77 4-66 4 18 4 75 4-31 5-64 4 53 4-68 4 5 4 33 4-5 4 41 5-119 4 135 4-115 4 44 4-26 4-33 4 5 5 62 4-23 4 51 4-37 4 69 4 66 4-104 5 1 4-86 4-8 4 81 4 70 4-90 4-37 4 57 5 0 4 11 4-136 4 125 4 9 4-42 4 40 5-116 4 55 4 41 4 14 4-12 4-32 4-10 5 105 4 22 4-25 4 71 4-4 4-109 4 36 5 17 4-59 4-7 4-30 4-38 4 62 4 8 5-14 4 91 4-6 4-63 4-79 4 85 4 17 5-28 4-21 4 50 4 3 4-68 4-32 4 104 5 28 4-61 4 0 4-47 4 56 4 61 4-65 4-28 5 88 4-16 4-5 4 6 4-50 4-58 4 2 5 74 4 31 4-91 4 41 4 1 4-118 4 192 5-58 4 33 4-24 4-89 4-4 4 93 4-16 5 15 4-30 4-78 4 27 4 89 4-32 4 87 5-104 4 28 4 66 4-47 4-33 4 59 4-68 5 14 4 85 4-81 4-14 4 2 4 98 4-31 5 18 4-33 4-21 4-86 4-36 4 41 4 69 4-86 5 60 4-24 4 54 4-14 4 36 4 8 4-34 5 12 4-7 4-48 4-107 4 176 4-20 4-34 5 47 4-68 4-63 4 99 4 3 4 38 4-6 5 1 4-42 4 63 4 16 4-11 4-102 4 66 5 7 4-32 4 27 4-85 4 59 4-23 4 18 5 113 4-148 4 0 4 110 4-76 4 12 4-5 5-74 4 32 4-24 4-35 4 47 4 79 4 29 4-72 5 57 4 15 4-82 4 62 4-58 4-24 4 7 5 9 4 60 4-91 4-28 4 90 4 32 4-80 5 121 4-3 4-7 4 38 4-87 4-5 4-79 5 95 4-39 4-32 4-8 4 11 4 49 4-61 5 35 4-31 4 64 4 17 4 10 4-34 0 128-4 0-4-27-4 3-4-60-4 15-5-12-4 64-4 24-4-100-4 11-4 7-4 40-5 85-4-97-4 65-4 30-4-5-4 31-4-30-5-101-4 28-4-30-4-68-4 86-4 7-4-18-5 88-4-68-4-52-4 104-4 32-4-44-4 57-5-96-4 85-4-74-4-87-4-1-4 51-4-34-4 40-5 33-4-7-4-16-4 50-4-107-4 62-4 89-5-88-4 19-4 8-4 37-4-56-4-27-4 99-5-67-4-3-4 93-4-46-4-8-4-8-4 35-5-63-4-1-4 29-4-73-4 86-4-57-4 5-5-21-4 69-4 34-4-111-4 49-4 15-4 20-5-58-4 43-4-32-4 32-4-24-4-44-4 5-5-39-4 74-4 11-4-71-4 19-4 40-4 5-4 49-5 55-4-60-4-41-4-1-4-28-4 84-4-36-5-71-4 68-4-17-4 50-4 41-4-110-4 47-5 65-4-79-4-7-4 39-4-181-4 121-4 14-5-12-4 17-4 31-4-110-4 79-4 37-4 70-5-31-4-134-4 94-4-28-4-9-4 23-4 4-5-86-4 21-4 46-4 31-4-52-4 29-4 42-5-67-4 13-4 30-4-75-4-35-4 24-4 88-4 22-5-63-4-100-4 17-4 141-4-50-4 65-4-82-5 85-4-98-4 16-4-17-4 85-4 14-4-50-5 67-4-36-4 14-4-107-4-5-4-5-4 80-5-11-4 28-4 24-4 50-4-97-4 6-4-30-5-45-4-10-4 9-4 35-4-11-4-67-4 153-5-5-4-69-4-25-4 31-4-9-4 155-4-149-5-34-4-20-4 44-4 64-4 19-4-176-4 56-4 31-5 37-4 46-4-47-4-16-4-12-4 39-4-53-5-86-4-14-4 88-4 47-4-29-4 53-4 50-5-91-4-1-4 36-4-26-4 25-4 21-4-29-5 29-4-5-4-65-4 12-4 30-4-14-4 39-5 29-4-182-4 102-4 71-4-27-4-70-4 37-5 42-4-54-4 12-4 45-4 27-4-34-4 23-5 17-4-39-4-10-4 46-4-13-4-87-4 36-4-11-5 113-4-86-4 39-4-23-4 94-4-118-4 85-5-25-4 15-4-27-4-38-4-34-4 50-4-44-5 19-4 19-4 70-4-35-4 15-4-16-4 28-5-16-4-72-4 112-4-81-4 93-4 8-4-52-5-3-4-21-4-65-4 81-4-35-4 36-4-69-5 22-4-34-4-9-4 93-4-32-4 22-4-123-5 19-4 37-4 144-4 44-4-141-4 54-4-103-4 20-5 68-4-69-4-5-4 2-4-59-4-33-4 136-5-7-4-26-4-40-4-64-4-19-4 79-4 25-5 18-4-92-4 77-4-1-4-1-4-15-4-12-5 53-4-47-4-9-4 14-4 54-4-77-4 8-5 7-4-9-4 47-4-38-4-17-4 21-4-5-5-109-4 111-4 32-4-18-4 21-4-9-4 9-5-33-4 55-4-99-4-15-4 7-4 14-4 69-4 2-5 11-4-74-4 86-4-48-4 18-4 26-4-52-5-1-4-7-4-28-4 31-4-13-4 42-4-29-5-46-4 25-4 16-4 26-4 12-4-96-4 57-5 86-4-95-4 19-4-68-4 45-4 60-4-36-5-38-4 51-4-35-4 41-4-89-4 53-4-14-5-47-4 86-4 22-4-39-4 25-4-41-4-147-5 102-4 9-4 94-4-35-4 71-4-83-4-75-4 31-5-49-4 44-4 27-4 23-4-55-4-38-4-38-5 3-4 72-4-72-4 39-4-30-4-1-4 5-5 1-4 9-4 19-4-30-4-33-4 33-4-3-5-21-4 55-4-87-4-43-4 98-4-66-4 59-5-56-4-31-4 46-4 89-4-123-4 21-4-14-5-16-4-39-4 117-4 17-4-25-4-78-4 15-5 7-4 41-4-121-4 88-4-25-4-36-4 50-4-63-5 11-4-22-4-76-4 51-4 49-4 36-4-69-5 64-4-18-4-143-4 52-4 131-4-99-4 105-5 35-4-84-4 54-4-29-4-33-4-33-4 1-5 116-4-99-4 13-4 85-4 15-4-60-4 53-5 23-4 81-4-60-4-54-4 150-4-156-4 112-5-10-4 52-4-6-4-23-4 89-4 31-4-46-5 26-4 61-4-100-4-33-4 137-4-39-4-111-4 24-5 63-4 38-4 3-4 10-4-116-4-67-4 83-5 67-4-12-4 48-4-74-4 10-4-59-4 81-5 20-4-93-4-52-4 152-4-44-4-52-4 91-5-11-4-59-4-31-4 61-4-30-4 14-4-90-5-10-4 104-4 40-4-129-4 173-4-100-4-55-5-8-4 75-4-72-4 6-4 154-4-176-4 16-5-50-4 65-4-6-4-27-4 149-4-46-4-1-4-13-5-83-4 36-4-33-4 25-4 74-4-22-4 7-5 39-4 55-4-44-4-11-4-69-4-12-4 26-5-76-4 2-4 11-4 57-4 127-4-112-4-1-5 3-4-22-4 28-4-87-4 22-4 23-4-13-5-9-4 44-4 65-4-74-4-46-4-15-4 20-5 2-4 90-4-58-4 9-4-72-4 147-4-15-5 31-4-120-4 54-4-42-4-3-4 28-4-50-4 58-5-60-4-60-4 47-4 114-4-64-4-42-4 22-5 109-4-80-4 46-4-18-4-2-4-12-4-4-5-68-4 44-4-18-4-24-4 21-4 46-4-48-5 89-4 6-4-69-4-9-4 85-4-71-4-29-5 55-4-15-4-7-4-4-4 56-4-23-4-4-5 12-4-49-4-34-4 61-4 6-4-33-4 12-5-13-4-62-4 81-4 59-4-72-4-39-4-28-4 72-5 30-4 0-4-101-4 110-4-40-4-11-4-11-5-62-4 206-4-33-4-45-4 37-4-93-4 0-5-17-4-8-4 37-4-11-4-2-4 7-4-73-5 34-4 126-4-72-4 1z" fill="#f04a4a" fill-opacity="0.65"/>
<path transform="scale(.1)" d="M618 7992l4-2 4 23 4-111 5-13 4 65 4 19 4-13 4 34 4-38 4-16 5 4 4 17 4 115 4-63 4 19 4 29 4-164 5 62 4 26 4 0 4 25 4-97 4 113 4-50 5 12 4-64 4-8 4 39 4 78 4-75 4-41 4 11 5 45 4-26 4 47 4-23 4-20 4 24 4 41 5-22 4 17 4 23 4-91 4 19 4 33 4 5 5-40 4 18 4 28 4-37 4-8 4 47 4 22 5-100 4 34 4-41 4 5 4 37 4 17 4-77 5 70 4 22 4 15 4-22 4 24 4-35 4 44 5-56 4-18 4 8 4 37 4-69 4-58 4 81 5 58 4-51 4 16 4-3 4-27 4 79 4-60 4 46 5 34 4-34 4-92 4 64 4-18 4 45 4-47 5-9 4-32 4 30 4 22 4 83 4-67 4-52 5 19 4 9 4-16 4-19 4 72 4-10 4-34 5 0 4 55 4 61 4-84 4-50 4-47 4 40 5 74 4-38 4 5 4 32 4 41 4 28 4-43 5-28 4-25 4-5 4-8 4-76 4 61 4-33 5 72 4 28 4-9 4 52 4-131 4 11 4 0 4-50 5 41 4-33 4 155 4-99 4-10 4 50 4-58 5 22 4 47 4 64 4-143 4 136 4-53 4-104 5 19 4 69 4 3 4 9 4-32 4 2 4 57 5 25 4-110 4 67 4 29 4-152 4 87 4 66 5-8 4-80 4 40 4-4 4 85 4-42 4-53 5-10 4-62 4 20 4 161 4-7 4-51 4-37 5-25 4-32 4 91 4 55 4-126 4 31 4 82 4-46 5-46 4 21 4 4 4-102 4 54 4-38 4-25 5 17 4-119 4 112 4-129 4 86 4 9 4-47 5-56 4-7 4 39 4 2 4-80 4-51 4 73 5-59 4-8 4 13 4 54 4 18 4-78 4 109 5-57 4-76 4 77 4-114 4-49 4 119 4-1 5-12 4 20 4 5 4-42 4-64 4 54 4 25 5 1 4 38 4-42 4 33 4 41 4-61 4 90 4-19 5-21 4-8 4 61 4-1 4-39 4-39 4 25 5 19 4 34 4-23 4 115 4-104 4-58 4 43 5 61 4-81 4 59 4-53 4 46 4 50 4-11 5 17 4-10 4-32 4 29 4 24 4-11 4-19 5 15 4-13 4-5 4 17 4-10 4 29 4-35 5 20 4-4 4 42 4 72 4-21 4-31 4-18 5 16 4-56 4 101 4 63 4-59 4 2 4-21 4-35 5-94 4 146 4 50 4-45 4 48 4-8 4-97 5 31 4 19 4-47 4 106 4-37 4-17 4-10 5 51 4-5 4-21 4-39 4 51 4-35 4 99 5-69 4-51 4 68 4-2 4-20 4-16 4-43 5 31 4 33 4 5 4-20 4-28 4 16 4 42 5 2 4 17 4 10 4-15 4-1 4-56 4 65 5-26 4 35 4-65 4-7 4-34 4 17 4 77 4-22 5 13 4 5 4 20 4-23 4-26 4-11 4-97 5 80 4 27 4 4 4 10 4 5 4-14 4 6 5-35 4 0 4 60 4-18 4-24 4 21 4 7 5-6 4-31 4 10 4 37 4-10 4-59 4 75 5-36 4 17 4-153 4 76 4 68 4 17 4 63 5-21 4-118 4 35 4 52 4-1 4-4 4 42 5-28 4-30 4 79 4-22 4 88 4-7 4-118 4-50 5-30 4 124 4-5 4-5 4-53 4 13 4 21 5-17 4 38 4-44 4 36 4-41 4 19 4 11 5 57 4 36 4 7 4-86 4 82 4-110 4 21 5 65 4-56 4 42 4-32 4-6 4-58 4-9 5 2 4 56 4-53 4 30 4 9 4-18 4 1 5 67 4-61 4 63 4-56 4-8 4 0 4 45 5-73 4 17 4-27 4 50 4 20 4-35 4-52 4 82 5 1 4-15 4-12 4 3 4-63 4-7 4 32 5-25 4-21 4 65 4 26 4-58 4-80 4 166 5-11 4-83 4 45 4-48 4 3 4 70 4-13 5-46 4 40 4-44 4-10 4 29 4-20 4 21 5-14 4 42 4-83 4 36 4-36 4-61 4 10 5 74 4 14 4 6 4-12 4 42 4 57 4-75 5-18 4-58 4-32 4 128 4 26 4-77 4-41 4 38 5 18 4 80 4-146 4 67 4-11 4-8 4 54 5-55 4-50 4 54 4 13 4-24 4-20 4 0 5 75 4 26 4-15 4 84 4-28 4-66 4 4 5 14 4-69 4-2 4-12 4 34 4 24 4 23 5-41 4 71 4-11 4-74 4-31 4 35 4 58 5-57 4 30 4-7 4 27 4-105 4-25 4 102 5 46 4-42 4-44 4-35 4 46 4 67 4-47 4-20 5 77 4-29 4-17 4 29 4-41 4-51 4-10 5 80 4 14 4-58 4 25 4 15 4-106 4 163 5-13 4-19 4-30 4-84 4 52 4 32 4-17 5 13 4-22 4-99 4 104 4 25 4-12 4 83 5-85 4-10 4 89 4-45 4-41 4 38 4-68 5 43 4 60 4-83 4 8 4 1 4 69 4 15 5-19 4-41 4-12 4-64 4-27 4 56 4 29 4-80 5 49 4-14 4 49 4 5 4 2 4 20 4-39 5 35 4-13 4-32 4-78 4 144 4-27 4-51 5 33 4-36 4-3 4 6 4 39 4 4 4-3 5 32 4-38 4 35 4 12 4 18 4-98 4 35 5 37 4-66 4 27 4-14 4 11 4-15 4-1 5 100 4-118 4-31 4 109 4-64 4 14 4 1 5-53 4-4 4 5 4-43 4 24 4 83 4 52 4-79 5 77 4-22 4-18 4 14 4-80 4 14 4 37 5-39 4 39 4-49 4-57 4 78 4 32 4-55 5 111 4 14 4-19 4 21 4-58 4-35 4 9 5 5 4-40 4-19 4-9 4 55 4 12 4-62 5 24 4-23 4 62 4 7 4 18 4-17" fill="none" stroke="#ee2a2a" stroke-width="10" stroke-linejoin="round"/>
<path transform="scale(.1)" d="M618 7871l4-67 4 50 4 93 5-57 4-76 4 43 4 51 4-9 4 32 4-11 5-25 4 2 4 0 4 77 4-29 4 35 4-112 5 65 4-23 4 12 4-7 4 66 4-36 4-51 5 32 4-8 4 13 4 15 4-38 4-13 4 43 4-48 5-36 4 89 4-38 4-40 4 32 4 86 4-66 5-58 4 98 4-23 4-16 4 92 4-163 4-4 5 48 4-84 4 138 4-61 4-86 4 134 4 40 5-77 4 44 4 48 4-48 4-39 4-6 4 12 5-37 4-27 4 27 4 114 4-31 4 61 4-9 5-66 4-38 4-27 4 37 4 114 4-13 4-8 5-49 4 5 4-116 4-20 4 96 4-11 4-10 4 46 5 14 4 59 4-104 4-24 4-16 4 51 4-55 5 70 4 46 4-25 4-22 4 42 4 38 4-160 5 110 4-3 4-44 4-62 4 120 4-99 4 100 5-63 4 10 4 81 4-73 4-2 4 55 4-48 5-2 4-17 4 5 4 44 4-1 4-48 4 25 5 37 4-112 4 73 4-57 4-12 4 82 4 44 5-51 4-52 4-40 4 7 4 26 4 60 4 30 4-249 5 108 4 108 4-27 4-48 4 82 4 6 4-71 5-40 4-55 4 66 4 56 4-31 4 29 4-41 5 96 4-16 4-16 4 17 4-8 4-119 4-8 5 21 4 129 4-42 4-115 4 58 4 92 4-70 5 36 4-5 4-73 4 64 4-3 4 31 4 8 5-8 4-46 4-5 4 24 4 48 4-60 4 38 5-51 4 29 4-22 4-46 4 9 4 196 4-11 4-63 5-36 4-37 4-163 4 105 4 9 4-14 4 50 5-32 4-29 4 135 4-120 4-64 4 97 4 3 5-29 4 43 4 9 4-54 4 48 4 31 4-61 5-3 4-38 4 98 4 41 4-123 4 90 4 12 5-8 4-91 4 31 4 81 4-8 4-124 4 134 5 23 4-80 4-53 4 104 4-12 4-32 4 3 5 19 4-87 4-68 4 33 4 98 4 16 4-55 4 88 5-27 4-38 4 36 4-10 4 28 4-67 4 53 5-19 4 43 4-82 4-11 4 31 4-43 4 25 5 24 4-27 4 10 4 63 4 5 4-39 4 12 5 23 4-131 4 67 4-56 4 81 4 0 4 7 5-13 4-6 4-63 4 35 4 32 4 27 4-137 5 53 4-35 4 46 4 120 4-72 4 76 4-41 5-100 4 94 4 24 4 77 4-105 4-32 4 38 4-14 5 28 4 30 4-52 4-39 4-13 4 82 4-26 5-38 4 16 4 0 4-19 4 33 4 12 4 52 5-32 4-62 4-11 4-57 4 81 4-15 4 16 5 1 4 62 4-131 4 79 4 12 4-106 4 49 5 35 4-1 4-97 4 132 4 6 4-75 4-39 5 61 4 84 4-111 4 7 4 50 4-6 4 21 5-29 4 79 4-62 4 15 4-60 4 13 4 76 4-103 5-18 4 111 4 27 4-75 4-1 4-38 4 14 5 87 4-61 4-8 4-5 4-8 4 59 4-88 5-4 4 7 4 18 4-54 4 2 4 73 4 16 5-15 4-54 4 3 4 98 4 53 4-40 4-139 5 161 4-91 4 34 4 26 4-30 4-130 4 146 5-6 4-41 4 6 4 11 4-3 4-95 4 86 5 53 4 53 4-39 4-33 4-99 4 101 4-48 4 89 5-21 4-20 4-13 4 3 4 14 4 37 4-93 5 84 4-19 4-85 4 45 4 3 4 48 4 9 5-3 4-11 4-13 4-32 4 41 4-38 4-42 5 1 4 17 4 42 4 37 4-43 4-31 4-96 5 22 4 158 4-91 4 1 4-65 4 51 4-21 5 47 4 20 4-15 4 35 4-4 4-31 4-9 5-19 4-37 4 103 4-35 4 48 4-21 4-13 4 63 5-84 4 60 4 5 4-88 4 123 4-1 4-95 5 4 4-29 4 17 4 60 4-51 4 29 4 15 5-30 4 57 4 36 4-53 4-57 4-72 4 25 5 66 4 20 4 32 4-74 4-64 4 34 4 19 5 146 4-104 4 14 4-4 4-74 4 33 4-11 5-51 4 172 4-21 4-131 4-3 4 100 4-11 5-38 4-87 4 98 4-5 4 78 4-140 4 2 4 89 5-4 4-22 4-74 4-53 4-5 4 94 4 69 5-2 4-65 4 56 4-27 4-24 4-18 4 41 5-24 4 32 4 50 4-12 4-69 4 5 4-25 5-3 4-120 4 154 4-66 4 197 4-235 4 78 5-83 4 133 4-47 4-31 4 84 4 35 4 76 5-99 4-37 4 24 4-41 4-15 4-18 4 158 5-112 4 46 4-70 4 61 4 40 4-18 4-112 4 80 5-68 4 36 4 102 4-77 4-116 4 58 4 78 5 4 4 2 4-146 4 52 4 158 4-115 4 5 5 51 4 25 4-90 4-49 4 82 4 53 4-110 5 85 4 42 4-93 4-18 4 39 4 12 4-56 5-75 4 177 4 34 4-23 4-118 4 64 4-12 5 14 4-57 4 31 4 83 4-48 4-106 4 57 5 4 4-7 4 34 4 38 4 8 4-72 4-11 4-1 5 39 4-52 4-31 4 75 4 28 4-77 4 26 5 54 4-30 4-51 4-34 4-59 4 22 4 54 5-40 4 66 4-17 4 46 4-22 4 33 4 4 5 46 4 19 4-82 4-50 4 72 4-49 4 68 5 19 4-104 4 80 4-71 4 16 4 20 4 0 5 27 4-10 4-88 4 80 4 31 4-89 4 61 5 4 4-14 4 40 4 16 4-20 4-3 4 41 4-49 5-28 4-67 4 65 4-59 4 61 4-50 4 60 5-45 4 41 4 22 4 27 4-52 4 52 4 12 5-106 4 29 4 18 4-24 4 13 4 14 4-27 5-15 4 67 4-26 4-29 4-8 4 6 4-79 5 26 4 74 4 72 4-86 4 7 4 3 0 68-4 31-4-18-4 74-4-79-4-70-5 39-4 18-4 51-4-28-4 8-4 38-4 39-5-39-4 15-4-34-4 25-4-25-4-39-4-35-5 126-4 18-4-91-4 133-4-87-4-42-4 17-5 22-4 23-4-21-4-41-4 39-4-89-4 85-5 65-4-7-4-47-4 15-4 89-4-110-4 18-4-9-5-13-4 5-4 61-4-39-4-40-4-3-4 8-5-25-4-2-4 45-4-54-4 48-4-86-4 88-5 14-4-54-4 0-4 47-4-27-4 48-4 20-5-37-4-53-4 85-4-69-4-6-4 81-4-56-5 18-4-14-4-42-4 45-4-66-4 122-4-2-5-89-4-23-4 69-4-37-4-53-4 76-4 6-5-55-4 18-4-16-4 55-4 60-4-73-4-15-4 61-5-80-4-8-4 50-4 143-4-46-4-111-4-19-5 21-4-24-4 119-4-49-4 11-4-15-4-87-5-25-4 87-4-54-4 8-4 92-4-25-4-40-5-5-4 34-4-33-4-63-4 124-4-31-4 18-5-88-4 65-4 80-4-166-4-41-4 163-4-32-5 35-4-111-4-58-4 114-4 100-4-103-4-29-5 41-4-96-4 98-4 48-4-66-4-32-4 28-4 67-5 5-4-31-4-54-4-49-4 84-4-3-4 1-5 135-4-125-4 2-4-22-4 0-4-23-4 39-5-26-4 42-4 45-4-97-4-21-4-21-4-18-5 45-4 49-4 1-4-16-4 61-4-78-4-23-5 120-4-77-4-17-4-7-4 54-4-8-4 44-5-52-4-1-4-116-4 2-4 98-4 43-4 67-5-106-4-21-4-5-4 65-4-28-4-17-4 9-4 12-5-1-4-6-4-38-4-12-4 168-4-68-4-135-5 36-4 35-4 30-4 7-4 35-4-15-4 111-5-132-4-8-4-31-4 53-4-2-4-5-4-21-5-114-4-11-4 89-4 161-4-82-4-31-4-36-5 42-4-12-4-59-4 39-4-4-4-17-4 34-5-38-4 150-4-59-4-140-4 100-4-10-4-46-5 71-4-16-4-30-4 2-4-47-4 127-4-105-4-13-5-23-4 29-4 31-4 13-4 3-4 74-4-106-5-26-4 41-4-49-4 2-4-13-4 92-4-72-5 76-4-62-4 70-4-3-4-45-4 34-4-83-5 11-4 75-4 46-4-19-4-30-4 57-4-50-5 46-4-42-4 21-4-41-4-73-4 61-4 64-5-40-4 11-4 19-4-49-4 25-4-58-4 69-5 56-4-30-4-71-4 1-4-23-4 83-4 44-4-73-5-86-4 89-4 19-4-77-4-22-4 67-4-30-5 58-4-43-4-4-4 70-4-19-4 33-4-3-5-20-4-31-4 38-4-71-4-66-4 99-4-26-5 15-4-59-4 18-4-103-4 47-4 117-4-128-5-11-4 86-4 40-4-14-4-22-4-20-4 55-5 35-4-147-4 71-4 100-4-48-4-34-4-51-5 0-4 66-4-49-4 31-4 14-4 4-4 44-4-72-5 7-4 22-4-33-4-57-4 2-4 86-4-35-5-18-4 64-4 27-4 24-4-217-4 142-4-61-5 14-4-91-4 176-4-51-4 105-4-68-4 43-5-74-4-8-4 15-4-54-4 19-4 58-4 28-5 21-4-90-4 33-4-48-4 22-4 24-4-86-5 123-4 4-4-49-4-73-4 53-4 67-4 32-5-120-4 34-4-49-4 23-4 103-4-53-4-30-4 5-5 73-4-6-4-52-4 79-4-80-4-51-4-64-5 53-4 72-4-14-4-14-4-91-4 59-4 53-5-46-4-14-4 35-4-21-4 138-4-121-4 37-5 25-4-29-4-29-4-4-4-8-4 13-4-16-5 6-4 23-4-6-4 33-4-46-4 66-4-37-5 48-4-132-4 117-4-31-4-8-4 18-4-60-5 51-4 6-4 5-4-64-4 20-4 70-4-109-4 109-5 33-4-96-4 17-4 25-4-23-4-64-4 140-5-26-4-103-4 29-4 60-4-78-4-62-4 84-5 41-4 32-4-71-4 66-4-89-4-74-4 17-5 43-4 61-4-10-4-59-4 61-4-27-4-36-5-20-4 36-4-68-4 89-4 66-4-84-4-43-5 14-4-42-4 93-4-100-4 40-4 24-4 74-5 5-4 64-4 2-4-80-4-99-4 14-4 54-4-5-5 47-4-85-4 130-4-69-4-17-4-36-4 50-5 49-4-76-4 26-4-53-4 103-4-19-4-43-5-1-4 12-4-64-4-56-4 127-4 39-4-154-5-6-4 53-4 95-4 10-4-12-4-26-4 3-5-51-4 35-4 85-4-43-4 2-4-109-4-26-5 81-4 48-4 72-4-111-4 13-4 45-4-170-5 42-4 93-4-9-4-32-4 7-4-47-4 17-4 50-5 95-4-99-4-62-4 12-4 30-4-25-4 83-5-24-4 0-4 42-4-2-4 46-4-144-4 16-5 21-4 79-4-83-4 53-4 79-4-114-4-14-5 135-4-140-4 31-4-88-4 131-4-63-4 6-5 19-4 109-4-82-4-79-4 31-4 111-4-119-5 8-4-39-4 3-4-33-4 26-4 132-4-72-5 19-4 45-4 11-4-39-4-115-4-42-4 126-4 21-5 4-4 23-4-12-4-55-4 21-4-65-4 30-5 76-4 41-4-85-4 2-4-48-4-21-4 0-5 50-4 70-4-88-4 10-4 106-4-89-4-49-5 71-4 72-4-221-4 87-4 38-4-63-4-22-5 54-4 82-4 29-4-138-4 65-4 1-4-79-5 36-4 117-4-87-4-74-4 45-4 34-4 16-5-58-4 25-4-59-4 38-4 24-4-24-4 52-4 12-5 19-4-21-4-18-4-30-4-30-4 33-4 69-5-143-4 106-4-18-4 10-4 4-4-63-4 45-5 45-4-16-4-11-4 60-4-174-4 79-4 28-5-21-4-31-4-65-4 30z" fill="#4a4af5" fill-opacity="0.65"/>
<path transform="scale(.1)" d="M618 7916l4-48 4 58 4 61 5-18 4-51 4-19 4 113 4-35 4 22 4 3 5-35 4-22 4 31 4 37 4-20 4 27 4-109 5 104 4-46 4-10 4 11 4 48 4-9 4-15 5 7 4-10 4-20 4 19 4-30 4-26 4 51 4-37 5 11 4 37 4-36 4-42 4 52 4 87 4-91 5-48 4 89 4-12 4-40 4 114 4-96 4-43 5-3 4-30 4 100 4-50 4-86 4 178 4-17 5-74 4 47 4 69 4-77 4-25 4 41 4-29 5-43 4-14 4 24 4 81 4-16 4 72 4-24 5-71 4-35 4 20 4 8 4 84 4-1 4-15 5-27 4-7 4-122 4 11 4 106 4 14 4-10 4 0 5-2 4 65 4-118 4-25 4 9 4 24 4-8 5 31 4 82 4-68 4-26 4 60 4 60 4-134 5 45 4-4 4 9 4-97 4 105 4-65 4 119 5-98 4 11 4 98 4-76 4-28 4 70 4-64 5-12 4-16 4 75 4-1 4 0 4-45 4 13 5 30 4-97 4 49 4-44 4-12 4 72 4 71 5-73 4-50 4-29 4 27 4 10 4 46 4 19 4-171 5 33 4 139 4-36 4-30 4 96 4-33 4-60 5-60 4-14 4 87 4 27 4 6 4-28 4-38 5 74 4-10 4 5 4 14 4-8 4-107 4-31 5 14 4 141 4-41 4-120 4 56 4 79 4-41 5 18 4 19 4-27 4-19 4 25 4 2 4 42 5-28 4-49 4 16 4 20 4 59 4-95 4 61 5-48 4 17 4-38 4-30 4 54 4 137 4-6 4-64 5-20 4-56 4-93 4 33 4 54 4-54 4 47 5-23 4 7 4 109 4-93 4-76 4 82 4-17 5-4 4 40 4 17 4-57 4 53 4 21 4-61 5-23 4-28 4 86 4 66 4-95 4 81 4-11 5-24 4-88 4 47 4 79 4-33 4-77 4 118 5 25 4-110 4 6 4 63 4-19 4-24 4 50 5-8 4-97 4 20 4-18 4 39 4 40 4-31 4 41 5-38 4 11 4 9 4-1 4 29 4-92 4 93 5-34 4 40 4-74 4 18 4-1 4-19 4 1 5 9 4-5 4-2 4 35 4 5 4-5 4 20 5 0 4-85 4 94 4-97 4 52 4-18 4 10 5 17 4-29 4-61 4 63 4 22 4 21 4-105 5 0 4 15 4 48 4 101 4-76 4 64 4-17 5-87 4 45 4 27 4 64 4-103 4-28 4 43 4-24 5 74 4-1 4-59 4-46 4 30 4 66 4-15 5-81 4 51 4-12 4-20 4 40 4-11 4 71 5-26 4-45 4-35 4-38 4 68 4-15 4 12 5 38 4 9 4-32 4-13 4 32 4-141 4 70 5 10 4 31 4-120 4 174 4-8 4-51 4-52 5 40 4 59 4-98 4 2 4 53 4 14 4-1 5-17 4 75 4-53 4 5 4-36 4-9 4 62 4-84 5-9 4 80 4 31 4-14 4-50 4-55 4 81 5 26 4-58 4 6 4 8 4 3 4 10 4-87 5 4 4 67 4-49 4-51 4 52 4 28 4 37 5-15 4-13 4-49 4 82 4 63 4-39 4-54 5 90 4-44 4 0 4 23 4-50 4-63 4 95 5-33 4-5 4-30 4 16 4 37 4-57 4-2 5 70 4 63 4-41 4-59 4-38 4 51 4 11 4 59 5-38 4-44 4 22 4-11 4 31 4 10 4-53 5 63 4-42 4-73 4 59 4 22 4 14 4 25 5-24 4 19 4-35 4-1 4 30 4-42 4-58 5-5 4 49 4 5 4 40 4-19 4-51 4-17 5-27 4 115 4-92 4 7 4-33 4 50 4-31 5 37 4 63 4-45 4 16 4-9 4-30 4-19 5 1 4-11 4 104 4-81 4 47 4-11 4 8 4 39 5-77 4 53 4 7 4-93 4 131 4 29 4-122 5 21 4-32 4 17 4 32 4-45 4 44 4 14 5-36 4 46 4 34 4 14 4-109 4-80 4 18 5 89 4 21 4 19 4-36 4-59 4 33 4 13 5 139 4-107 4 14 4-19 4-41 4 2 4-24 5-43 4 154 4 23 4-149 4 4 4 69 4-3 5-18 4-49 4 44 4 6 4 53 4-102 4 3 4 55 5 51 4-45 4-58 4-75 4-4 4 105 4 35 5 25 4-55 4 32 4-40 4-8 4-1 4 59 5-72 4 28 4 64 4-37 4-26 4 1 4-37 5-24 4-50 4 87 4-22 4 147 4-140 4 18 5-29 4 47 4-12 4-15 4 52 4 17 4 101 5-117 4-19 4 13 4-62 4 17 4 17 4 95 5-59 4-10 4-49 4 46 4 53 4-32 4-106 4 89 5-55 4 32 4 103 4-89 4-115 4 58 4 95 5-15 4 16 4-154 4 46 4 162 4-97 4-30 5 70 4 3 4-29 4-87 4 72 4 43 4-71 5 44 4 42 4-34 4-56 4 16 4 33 4-72 5-24 4 131 4 25 4-17 4-34 4-28 4 6 5-3 4-19 4 70 4 65 4-96 4-77 4 32 5 42 4-34 4 24 4 56 4-26 4-64 4 3 4-9 5 46 4-29 4-53 4 64 4 32 4-73 4 25 5 72 4-15 4-86 4 16 4-52 4 32 4 34 5-29 4 61 4-49 4 26 4 24 4-26 4 28 5 41 4 0 4-65 4-11 4 12 4-24 4 61 5 2 4-96 4 83 4-60 4 35 4-12 4 1 5 26 4-9 4-42 4 59 4 35 4-75 4 29 5 8 4-2 4 10 4 63 4-54 4-9 4 44 4-21 5-46 4-77 4 77 4-48 4 50 4-14 4 18 5-33 4 12 4 32 4 57 4-93 4 72 4-3 5-116 4 32 4 29 4 0 4-6 4 24 4-21 5 12 4 14 4-32 4-19 4 10 4-22 4-48 5-7 4 72 4 75 4-80 4 13 4-14" fill="none" stroke="#2a2af0" stroke-width="10" stroke-linejoin="round"/>
<line x1="64.8" y1="797.3" x2="337.8" y2="797.3" stroke="#333" stroke-width="1.3" stroke-dasharray="1.3 3.1"/>
<line x1="61.5" y1="693.9" x2="61.5" y2="832.3" stroke="#1b1b1b" stroke-width="1.6"/>
<line x1="56" y1="694.7" x2="61.5" y2="694.7" stroke="#1b1b1b" stroke-width="1.6"/>
<text x="54.2" y="699" font-size="12" text-anchor="end" fill="#1b1b1b" stroke="#1b1b1b" stroke-width="0.3">3</text>
<line x1="56" y1="728.9" x2="61.5" y2="728.9" stroke="#1b1b1b" stroke-width="1.6"/>
<text x="54.2" y="733.2" font-size="12" text-anchor="end" fill="#1b1b1b" stroke="#1b1b1b" stroke-width="0.3">2</text>
<line x1="56" y1="763.1" x2="61.5" y2="763.1" stroke="#1b1b1b" stroke-width="1.6"/>
<text x="54.2" y="767.4" font-size="12" text-anchor="end" fill="#1b1b1b" stroke="#1b1b1b" stroke-width="0.3">1</text>
<line x1="56" y1="797.3" x2="61.5" y2="797.3" stroke="#1b1b1b" stroke-width="1.6"/>
<text x="54.2" y="801.6" font-size="12" text-anchor="end" fill="#1b1b1b" stroke="#1b1b1b" stroke-width="0.3">0</text>
<line x1="56" y1="831.5" x2="61.5" y2="831.5" stroke="#1b1b1b" stroke-width="1.6"/>
<text x="54.2" y="835.8" font-size="12" text-anchor="end" fill="#1b1b1b" stroke="#1b1b1b" stroke-width="0.3">-1</text>
<line x1="60.7" y1="831.5" x2="337.8" y2="831.5" stroke="#1b1b1b" stroke-width="1.6"/>
<line x1="61.8" y1="831.5" x2="61.8" y2="837" stroke="#1b1b1b" stroke-width="1.6"/>
<text x="61.8" y="850.5" font-size="12" text-anchor="middle" fill="#1b1b1b" stroke="#1b1b1b" stroke-width="0.3">-5</text>
<line x1="130.8" y1="831.5" x2="130.8" y2="837" stroke="#1b1b1b" stroke-width="1.6"/>
<text x="130.8" y="850.5" font-size="12" text-anchor="middle" fill="#1b1b1b" stroke="#1b1b1b" stroke-width="0.3">0</text>
<line x1="199.8" y1="831.5" x2="199.8" y2="837" stroke="#1b1b1b" stroke-width="1.6"/>
<text x="199.8" y="850.5" font-size="12" text-anchor="middle" fill="#1b1b1b" stroke="#1b1b1b" stroke-width="0.3">5</text>
<line x1="268.8" y1="831.5" x2="268.8" y2="837" stroke="#1b1b1b" stroke-width="1.6"/>
<text x="268.8" y="850.5" font-size="12" text-anchor="middle" fill="#1b1b1b" stroke="#1b1b1b" stroke-width="0.3">10</text>
<line x1="337.8" y1="831.5" x2="337.8" y2="837" stroke="#1b1b1b" stroke-width="1.6"/>
<text x="337.8" y="850.5" font-size="12" text-anchor="middle" fill="#1b1b1b" stroke="#1b1b1b" stroke-width="0.3">15</text>
<text x="35.8" y="763.1" font-size="14.5" text-anchor="middle" fill="#1b1b1b" stroke="#1b1b1b" stroke-width="0.3" transform="rotate(-90 35.8 763.1)">ΔF/F0 (%)</text>
<text x="199.8" y="864.5" font-size="14.5" text-anchor="middle" fill="#1b1b1b" stroke="#1b1b1b" stroke-width="0.3">Time (sec)</text>
<text x="307" y="704.6" font-size="9.1" text-anchor="middle" fill="#1b1b1b" stroke="#1b1b1b" stroke-width="0.3">Stimuli (#)</text>
<line x1="272.2" y1="716.9" x2="287.2" y2="716.9" stroke="#2a2af0" stroke-width="1.5"/>
<text x="296" y="720.1" font-size="8.6" text-anchor="start" fill="#1b1b1b" stroke="#1b1b1b" stroke-width="0.3">0</text>
<line x1="305.9" y1="716.9" x2="320.1" y2="716.9" stroke="#151515" stroke-width="1.5"/>
<text x="328.7" y="720.1" font-size="8.6" text-anchor="start" fill="#1b1b1b" stroke="#1b1b1b" stroke-width="0.3">20</text>
<line x1="272.2" y1="727.3" x2="287.2" y2="727.3" stroke="#ee2a2a" stroke-width="1.5"/>
<text x="296" y="730.5" font-size="8.6" text-anchor="start" fill="#1b1b1b" stroke="#1b1b1b" stroke-width="0.3">1</text>
<line x1="305.9" y1="727.3" x2="320.1" y2="727.3" stroke="#a67a52" stroke-width="1.5"/>
<text x="328.7" y="730.5" font-size="8.6" text-anchor="start" fill="#1b1b1b" stroke="#1b1b1b" stroke-width="0.3">30</text>
<line x1="272.2" y1="737.7" x2="287.2" y2="737.7" stroke="#44cc44" stroke-width="1.5"/>
<text x="296" y="740.9" font-size="8.6" text-anchor="start" fill="#1b1b1b" stroke="#1b1b1b" stroke-width="0.3">2</text>
<line x1="305.9" y1="737.7" x2="320.1" y2="737.7" stroke="#1c1c8c" stroke-width="1.5"/>
<text x="328.7" y="740.9" font-size="8.6" text-anchor="start" fill="#1b1b1b" stroke="#1b1b1b" stroke-width="0.3">40</text>
<line x1="272.2" y1="748.1" x2="287.2" y2="748.1" stroke="#c040f0" stroke-width="1.5"/>
<text x="296" y="751.3" font-size="8.6" text-anchor="start" fill="#1b1b1b" stroke="#1b1b1b" stroke-width="0.3">5</text>
<line x1="305.9" y1="748.1" x2="320.1" y2="748.1" stroke="#5a2a5a" stroke-width="1.5"/>
<text x="328.7" y="751.3" font-size="8.6" text-anchor="start" fill="#1b1b1b" stroke="#1b1b1b" stroke-width="0.3">50</text>
<line x1="272.2" y1="758.5" x2="287.2" y2="758.5" stroke="#ea8e38" stroke-width="1.5"/>
<text x="296" y="761.7" font-size="8.6" text-anchor="start" fill="#1b1b1b" stroke="#1b1b1b" stroke-width="0.3">10</text>
<line x1="305.9" y1="758.5" x2="320.1" y2="758.5" stroke="#8b2a2a" stroke-width="1.5"/>
<text x="328.7" y="761.7" font-size="8.6" text-anchor="start" fill="#1b1b1b" stroke="#1b1b1b" stroke-width="0.3">60</text>
<text x="9.7" y="674.3" font-size="16.5" text-anchor="start" fill="#111" font-weight="bold">i</text>
<line x1="404.5" y1="698.2" x2="404.5" y2="837.2" stroke="#1b1b1b" stroke-width="1.6"/>
<line x1="399" y1="836.4" x2="404.5" y2="836.4" stroke="#1b1b1b" stroke-width="1.6"/>
<text x="397.2" y="840.7" font-size="12" text-anchor="end" fill="#1b1b1b" stroke="#1b1b1b" stroke-width="0.3">0</text>
<line x1="399" y1="790.6" x2="404.5" y2="790.6" stroke="#1b1b1b" stroke-width="1.6"/>
<text x="397.2" y="794.9" font-size="12" text-anchor="end" fill="#1b1b1b" stroke="#1b1b1b" stroke-width="0.3">2</text>
<line x1="399" y1="744.8" x2="404.5" y2="744.8" stroke="#1b1b1b" stroke-width="1.6"/>
<text x="397.2" y="749.1" font-size="12" text-anchor="end" fill="#1b1b1b" stroke="#1b1b1b" stroke-width="0.3">4</text>
<line x1="399" y1="699" x2="404.5" y2="699" stroke="#1b1b1b" stroke-width="1.6"/>
<text x="397.2" y="703.3" font-size="12" text-anchor="end" fill="#1b1b1b" stroke="#1b1b1b" stroke-width="0.3">6</text>
<line x1="403.7" y1="836.4" x2="680" y2="836.4" stroke="#1b1b1b" stroke-width="1.6"/>
<line x1="413" y1="836.4" x2="413" y2="841.9" stroke="#1b1b1b" stroke-width="1.6"/>
<text x="413" y="855.6" font-size="12" text-anchor="middle" fill="#1b1b1b" stroke="#1b1b1b" stroke-width="0.3">0</text>
<line x1="441.7" y1="836.4" x2="441.7" y2="841.9" stroke="#1b1b1b" stroke-width="1.6"/>
<text x="441.7" y="855.6" font-size="12" text-anchor="middle" fill="#1b1b1b" stroke="#1b1b1b" stroke-width="0.3">1</text>
<line x1="470.4" y1="836.4" x2="470.4" y2="841.9" stroke="#1b1b1b" stroke-width="1.6"/>
<text x="470.4" y="855.6" font-size="12" text-anchor="middle" fill="#1b1b1b" stroke="#1b1b1b" stroke-width="0.3">2</text>
<line x1="499.1" y1="836.4" x2="499.1" y2="841.9" stroke="#1b1b1b" stroke-width="1.6"/>
<text x="499.1" y="855.6" font-size="12" text-anchor="middle" fill="#1b1b1b" stroke="#1b1b1b" stroke-width="0.3">5</text>
<line x1="527.8" y1="836.4" x2="527.8" y2="841.9" stroke="#1b1b1b" stroke-width="1.6"/>
<text x="527.8" y="855.6" font-size="12" text-anchor="middle" fill="#1b1b1b" stroke="#1b1b1b" stroke-width="0.3">10</text>
<line x1="556.5" y1="836.4" x2="556.5" y2="841.9" stroke="#1b1b1b" stroke-width="1.6"/>
<text x="556.5" y="855.6" font-size="12" text-anchor="middle" fill="#1b1b1b" stroke="#1b1b1b" stroke-width="0.3">20</text>
<line x1="585.2" y1="836.4" x2="585.2" y2="841.9" stroke="#1b1b1b" stroke-width="1.6"/>
<text x="585.2" y="855.6" font-size="12" text-anchor="middle" fill="#1b1b1b" stroke="#1b1b1b" stroke-width="0.3">30</text>
<line x1="613.9" y1="836.4" x2="613.9" y2="841.9" stroke="#1b1b1b" stroke-width="1.6"/>
<text x="613.9" y="855.6" font-size="12" text-anchor="middle" fill="#1b1b1b" stroke="#1b1b1b" stroke-width="0.3">40</text>
<line x1="642.6" y1="836.4" x2="642.6" y2="841.9" stroke="#1b1b1b" stroke-width="1.6"/>
<text x="642.6" y="855.6" font-size="12" text-anchor="middle" fill="#1b1b1b" stroke="#1b1b1b" stroke-width="0.3">50</text>
<line x1="671.3" y1="836.4" x2="671.3" y2="841.9" stroke="#1b1b1b" stroke-width="1.6"/>
<text x="671.3" y="855.6" font-size="12" text-anchor="middle" fill="#1b1b1b" stroke="#1b1b1b" stroke-width="0.3">60</text>
<text x="384" y="765.9" font-size="14.3" text-anchor="middle" fill="#1b1b1b" stroke="#1b1b1b" stroke-width="0.3" transform="rotate(-90 384 765.9)">Normalised AUC to 0 Stim.</text>
<text x="541.4" y="870.5" font-size="14.5" text-anchor="middle" fill="#1b1b1b" stroke="#1b1b1b" stroke-width="0.3">Stimuli (#)</text>
<circle cx="408.5" cy="813.5" r="3" fill="#2222e8"/>
<circle cx="410" cy="813.5" r="3" fill="#2222e8"/>
<circle cx="411.5" cy="813.5" r="3" fill="#2222e8"/>
<circle cx="413" cy="813.5" r="3" fill="#2222e8"/>
<circle cx="414.5" cy="813.5" r="3" fill="#2222e8"/>
<circle cx="416" cy="813.5" r="3" fill="#2222e8"/>
<circle cx="417.5" cy="813.5" r="3" fill="#2222e8"/>
<line x1="441.7" y1="792.9" x2="441.7" y2="797.5" stroke="#ee2a2a" stroke-width="1.25"/>
<line x1="441.7" y1="806.6" x2="441.7" y2="811.2" stroke="#ee2a2a" stroke-width="1.25"/>
<rect x="435.1" y="797.5" width="13.2" height="9.2" fill="white" fill-opacity="0" stroke="#ee2a2a" stroke-width="1.25"/>
<line x1="435.1" y1="805.5" x2="448.3" y2="805.5" stroke="#ee2a2a" stroke-width="1.25"/>
<circle cx="443.7" cy="792.9" r="3.0" fill="#ee2a2a"/>
<circle cx="437.7" cy="796.3" r="3.0" fill="#ee2a2a"/>
<circle cx="445.7" cy="797.5" r="3.0" fill="#ee2a2a"/>
<circle cx="439.7" cy="800.9" r="3.0" fill="#ee2a2a"/>
<circle cx="446.7" cy="804.3" r="3.0" fill="#ee2a2a"/>
<circle cx="436.7" cy="806.6" r="3.0" fill="#ee2a2a"/>
<circle cx="441.7" cy="811.2" r="3.0" fill="#ee2a2a"/>
<circle cx="444.7" cy="808.9" r="3.0" fill="#ee2a2a"/>
<line x1="470.4" y1="795.2" x2="470.4" y2="796.3" stroke="#44d444" stroke-width="1.25"/>
<line x1="470.4" y1="805.5" x2="470.4" y2="814.6" stroke="#44d444" stroke-width="1.25"/>
<rect x="463.8" y="796.3" width="13.2" height="9.2" fill="white" fill-opacity="0" stroke="#44d444" stroke-width="1.25"/>
<line x1="463.8" y1="803.2" x2="477" y2="803.2" stroke="#44d444" stroke-width="1.25"/>
<circle cx="466.4" cy="795.2" r="3.0" fill="#44d444"/>
<circle cx="474.4" cy="796.3" r="3.0" fill="#44d444"/>
<circle cx="470.4" cy="797.5" r="3.0" fill="#44d444"/>
<circle cx="465.4" cy="802" r="3.0" fill="#44d444"/>
<circle cx="475.4" cy="804.3" r="3.0" fill="#44d444"/>
<circle cx="470.4" cy="806.6" r="3.0" fill="#44d444"/>
<circle cx="470.4" cy="814.6" r="3.0" fill="#44d444"/>
<line x1="499.1" y1="792.9" x2="499.1" y2="798.6" stroke="#c040f0" stroke-width="1.25"/>
<line x1="499.1" y1="811.2" x2="499.1" y2="819.2" stroke="#c040f0" stroke-width="1.25"/>
<rect x="492.5" y="798.6" width="13.2" height="12.6" fill="white" fill-opacity="0" stroke="#c040f0" stroke-width="1.25"/>
<line x1="492.5" y1="805.5" x2="505.7" y2="805.5" stroke="#c040f0" stroke-width="1.25"/>
<circle cx="499.1" cy="792.9" r="3.0" fill="#c040f0"/>
<circle cx="502.1" cy="796.3" r="3.0" fill="#c040f0"/>
<circle cx="494.1" cy="799.8" r="3.0" fill="#c040f0"/>
<circle cx="504.1" cy="803.2" r="3.0" fill="#c040f0"/>
<circle cx="496.1" cy="806.6" r="3.0" fill="#c040f0"/>
<circle cx="503.1" cy="810.1" r="3.0" fill="#c040f0"/>
<circle cx="499.1" cy="819.2" r="3.0" fill="#c040f0"/>
<line x1="527.8" y1="787.2" x2="527.8" y2="788.3" stroke="#ea8e38" stroke-width="1.25"/>
<line x1="527.8" y1="804.8" x2="527.8" y2="812.4" stroke="#ea8e38" stroke-width="1.25"/>
<rect x="521.2" y="788.3" width="13.2" height="16.5" fill="white" fill-opacity="0" stroke="#ea8e38" stroke-width="1.25"/>
<line x1="521.2" y1="797.5" x2="534.4" y2="797.5" stroke="#ea8e38" stroke-width="1.25"/>
<circle cx="522.8" cy="787.2" r="3.0" fill="#ea8e38"/>
<circle cx="531.8" cy="787.2" r="3.0" fill="#ea8e38"/>
<circle cx="527.8" cy="791.7" r="3.0" fill="#ea8e38"/>
<circle cx="522.8" cy="796.3" r="3.0" fill="#ea8e38"/>
<circle cx="532.8" cy="802" r="3.0" fill="#ea8e38"/>
<circle cx="524.8" cy="804.3" r="3.0" fill="#ea8e38"/>
<circle cx="527.8" cy="812.4" r="3.0" fill="#ea8e38"/>
<line x1="556.5" y1="782.6" x2="556.5" y2="791.3" stroke="#111111" stroke-width="1.25"/>
<line x1="556.5" y1="811.2" x2="556.5" y2="811.2" stroke="#111111" stroke-width="1.25"/>
<rect x="549.9" y="791.3" width="13.2" height="19.9" fill="white" fill-opacity="0" stroke="#111111" stroke-width="1.25"/>
<line x1="549.9" y1="811.2" x2="563.1" y2="811.2" stroke="#111111" stroke-width="1.25"/>
<circle cx="559.5" cy="782.6" r="3.0" fill="#111111"/>
<circle cx="558.5" cy="786" r="3.0" fill="#111111"/>
<circle cx="556.5" cy="800.9" r="3.0" fill="#111111"/>
<circle cx="551.5" cy="810.1" r="3.0" fill="#111111"/>
<circle cx="561.5" cy="810.1" r="3.0" fill="#111111"/>
<circle cx="556.5" cy="811.2" r="3.0" fill="#111111"/>
<circle cx="553.5" cy="811.2" r="3.0" fill="#111111"/>
<line x1="585.2" y1="760.8" x2="585.2" y2="778.9" stroke="#a67a3a" stroke-width="1.25"/>
<line x1="585.2" y1="802.7" x2="585.2" y2="814.2" stroke="#a67a3a" stroke-width="1.25"/>
<rect x="578.6" y="778.9" width="13.2" height="23.8" fill="white" fill-opacity="0" stroke="#a67a3a" stroke-width="1.25"/>
<line x1="578.6" y1="792" x2="591.8" y2="792" stroke="#a67a3a" stroke-width="1.25"/>
<circle cx="585.2" cy="760.8" r="3.0" fill="#a67a3a"/>
<circle cx="580.7" cy="778.9" r="3.0" fill="#a67a3a"/>
<circle cx="589.7" cy="778.9" r="3.0" fill="#a67a3a"/>
<circle cx="580.7" cy="789.9" r="3.0" fill="#a67a3a"/>
<circle cx="589.7" cy="792" r="3.0" fill="#a67a3a"/>
<circle cx="580.7" cy="800.7" r="3.0" fill="#a67a3a"/>
<circle cx="589.7" cy="802.7" r="3.0" fill="#a67a3a"/>
<circle cx="585.2" cy="814.2" r="3.0" fill="#a67a3a"/>
<line x1="613.9" y1="756.7" x2="613.9" y2="778.9" stroke="#1c1c99" stroke-width="1.25"/>
<line x1="613.9" y1="804.8" x2="613.9" y2="811.7" stroke="#1c1c99" stroke-width="1.25"/>
<rect x="607.3" y="778.9" width="13.2" height="25.9" fill="white" fill-opacity="0" stroke="#1c1c99" stroke-width="1.25"/>
<line x1="607.3" y1="796.1" x2="620.5" y2="796.1" stroke="#1c1c99" stroke-width="1.25"/>
<circle cx="613.9" cy="756.7" r="3.0" fill="#1c1c99"/>
<circle cx="613.9" cy="775.3" r="3.0" fill="#1c1c99"/>
<circle cx="618.4" cy="787.4" r="3.0" fill="#1c1c99"/>
<circle cx="609.9" cy="790.1" r="3.0" fill="#1c1c99"/>
<circle cx="613.9" cy="794.7" r="3.0" fill="#1c1c99"/>
<circle cx="618.4" cy="794" r="3.0" fill="#1c1c99"/>
<circle cx="615.9" cy="809.1" r="3.0" fill="#1c1c99"/>
<circle cx="611.9" cy="811.7" r="3.0" fill="#1c1c99"/>
<line x1="642.6" y1="744.6" x2="642.6" y2="777.5" stroke="#6b1f6e" stroke-width="1.25"/>
<line x1="642.6" y1="811.7" x2="642.6" y2="811.7" stroke="#6b1f6e" stroke-width="1.25"/>
<rect x="636" y="777.5" width="13.2" height="34.1" fill="white" fill-opacity="0" stroke="#6b1f6e" stroke-width="1.25"/>
<line x1="636" y1="792.2" x2="649.2" y2="792.2" stroke="#6b1f6e" stroke-width="1.25"/>
<circle cx="642.6" cy="744.6" r="3.0" fill="#6b1f6e"/>
<circle cx="641.6" cy="776.9" r="3.0" fill="#6b1f6e"/>
<circle cx="647.1" cy="776.9" r="3.0" fill="#6b1f6e"/>
<circle cx="642.6" cy="782.4" r="3.0" fill="#6b1f6e"/>
<circle cx="642.6" cy="801.6" r="3.0" fill="#6b1f6e"/>
<circle cx="638.1" cy="811.7" r="3.0" fill="#6b1f6e"/>
<circle cx="642.6" cy="811.7" r="3.0" fill="#6b1f6e"/>
<circle cx="647.1" cy="811.7" r="3.0" fill="#6b1f6e"/>
<line x1="671.3" y1="721.9" x2="671.3" y2="755.3" stroke="#b22222" stroke-width="1.25"/>
<line x1="671.3" y1="800.7" x2="671.3" y2="807.3" stroke="#b22222" stroke-width="1.25"/>
<rect x="664.7" y="755.3" width="13.2" height="45.3" fill="white" fill-opacity="0" stroke="#b22222" stroke-width="1.25"/>
<line x1="664.7" y1="799.8" x2="677.9" y2="799.8" stroke="#b22222" stroke-width="1.25"/>
<circle cx="671.3" cy="721.9" r="3.0" fill="#b22222"/>
<circle cx="671.3" cy="750.1" r="3.0" fill="#b22222"/>
<circle cx="671.3" cy="768.8" r="3.0" fill="#b22222"/>
<circle cx="666.8" cy="795.6" r="3.0" fill="#b22222"/>
<circle cx="671.3" cy="800.4" r="3.0" fill="#b22222"/>
<circle cx="675.8" cy="800.4" r="3.0" fill="#b22222"/>
<circle cx="671.3" cy="807.3" r="3.0" fill="#b22222"/>
<path d="M580.80,744.60L580.80,751.00M578.03,746.20L583.57,749.40M578.03,749.40L583.57,746.20" stroke="#1b1b1b" stroke-width="1.45"/>
<path d="M589.60,744.60L589.60,751.00M586.83,746.20L592.37,749.40M586.83,749.40L592.37,746.20" stroke="#1b1b1b" stroke-width="1.45"/>
<path d="M609.50,742.10L609.50,748.50M606.73,743.70L612.27,746.90M606.73,746.90L612.27,743.70" stroke="#1b1b1b" stroke-width="1.45"/>
<path d="M618.30,742.10L618.30,748.50M615.53,743.70L621.07,746.90M615.53,746.90L621.07,743.70" stroke="#1b1b1b" stroke-width="1.45"/>
<path d="M638.20,732.10L638.20,738.50M635.43,733.70L640.97,736.90M635.43,736.90L640.97,733.70" stroke="#1b1b1b" stroke-width="1.45"/>
<path d="M647.00,732.10L647.00,738.50M644.23,733.70L649.77,736.90M644.23,736.90L649.77,733.70" stroke="#1b1b1b" stroke-width="1.45"/>
<path d="M662.50,708.60L662.50,715.00M659.73,710.20L665.27,713.40M659.73,713.40L665.27,710.20" stroke="#1b1b1b" stroke-width="1.45"/>
<path d="M671.30,708.60L671.30,715.00M668.53,710.20L674.07,713.40M668.53,713.40L674.07,710.20" stroke="#1b1b1b" stroke-width="1.45"/>
<path d="M680.10,708.60L680.10,715.00M677.33,710.20L682.87,713.40M677.33,713.40L682.87,710.20" stroke="#1b1b1b" stroke-width="1.45"/>
<text x="352.8" y="674" font-size="16.5" text-anchor="start" fill="#111" font-weight="bold">j</text>
<g transform="translate(0,0)" fill="none" stroke="#333" stroke-width="0.9" stroke-linecap="round" stroke-linejoin="round">
<g stroke="#d4d4d4" stroke-width="0.5"><path d="M17,109 L10,118 M17.5,109.5 L14,121 M18,109.5 L19,122 M18.5,109 L24,121 M19,109 L28,119 M16.5,108.5 L8,114"/></g>
<path d="M36.2,88.4 C30,90.5 22,94 14,98.9 C9,102 6.5,104.5 7.6,106.5 C8.5,108.5 10,109.6 12,110.5 C16,113.5 22,116 29.2,117 C36,118 41,118.8 45.5,121 C50,123.5 52.5,127 55,129 C58,131.5 61.5,132.8 64.2,133.4"/>
<path d="M53.7,104.8 C58,104.5 62,103.5 66,101 C70.5,98.3 73,94.5 72.4,91.5 C71.8,88 68.5,86 65,86 C61.5,86 58.5,87.5 57.2,89"/>
<path d="M72.4,89.6 C80,88.6 90,89 100,90.8 C110,92.8 120,96.5 127,101.5 C132,105 136,110 138.5,115.5 C140,119 141,121 141.5,122.5"/>
<path d="M139.4,128.2 C148,130 158,131.5 166,132.3 C170,132.6 174,132.3 176.5,131.2"/>
<path d="M139.4,131.5 C146,133.5 152,134.8 158,135.8 C164,136.8 170,137 174.5,135.6 C178,134.4 179,131.8 177.5,129.6 C175.5,127 171,125.2 166,123.8 C163,123 160.5,122.4 159,122.2"/>
<path d="M109.9,118.4 C107,121.5 106,124.5 106.6,127.3 C107.3,129.8 108.8,131.6 110.5,132.8"/>
<path d="M80,132.8 C90,134.5 102,135.8 117,137.4 C119,137.6 121,138 122.6,139"/>
<path d="M64.2,133.4 C66,136 66.5,140 65,143 C64,145 63,145.7 63.6,145.7 C66,145 68,142.5 70,140.4 C72,137.8 74,135.5 80,132.8"/>
<path d="M54.5,129.5 C51,128 47,127.6 44.5,128.3 C43.5,129 43.6,130.3 45,130.8 C44.5,132 45.5,133.2 47.5,132.8 C49.5,133.5 52,133 56.5,131.5"/>
<path d="M46,129.8 L49,130.2 M48,131.5 L51,131.6"/>
<path d="M63.6,145.7 C60,144.8 56,143.5 54,142.5 C52.5,142 52.2,143.4 53.3,144.4 C52.8,145.5 54,146.5 56,146.2 C58,146.8 61,146.6 63.6,145.7"/>
<path d="M54.5,143.8 L58,144.5"/>
<path d="M117,137.4 C115.5,138.5 114.5,140 114.8,142 C115,143.5 115.6,145 116.3,145.6 M116.8,140.8 C117.5,142.5 118.2,144.5 119,146 M119.5,140.2 C120.5,142 121.5,144 122.5,145.5 M122.5,139.5 C123.5,141 124.8,142.5 126,143"/>
<path d="M131.5,137.5 C131.5,139.5 130.8,141.5 129.5,142.5"/>
<circle cx="31.3" cy="101.3" r="2.6" fill="#1e1e1e" stroke="none"/>
<circle cx="30.6" cy="100.5" r="0.6" fill="#777" stroke="none"/>
<path d="M139.4,120.4 L151.9,123.6 L142.7,126.9 L145.3,128.2 L128.2,138.1 L122.3,140.1 L132.8,132.2 L130.2,131.5 L136.8,125 Z" fill="#fcdcb4" stroke="#e83a30" stroke-width="1.1"/>
</g>
<g transform="translate(0,0)">
<circle cx="47.3" cy="91.2" r="9.3" fill="#fff" stroke="#9c9c9c" stroke-width="2.4"/>
<path d="M34,87.5 L37.5,79.5 L42,86 Z" fill="#a5a5a5"/>
<path d="M53.5,100 L59.5,91.5 L61.5,99.5 Z" fill="#a5a5a5"/>
<rect x="43.2" y="82.6" width="10.5" height="5.8" fill="#d6d6cc"/>
<rect x="42.8" y="79.2" width="11.4" height="3.6" fill="#3a3a3a"/>
<rect x="40.6" y="68.2" width="15.1" height="11.2" rx="1" fill="#111"/>
<rect x="42" y="50.5" width="12.3" height="17.8" fill="#1c1c1c"/>
<rect x="36.4" y="60.8" width="5.8" height="6.5" fill="#151515"/>
<rect x="40.4" y="48.4" width="15.3" height="2.3" fill="#8a8a8a"/>
<circle cx="51.3" cy="57.3" r="0.9" fill="#999"/>
</g>
<g transform="translate(0,454)" fill="none" stroke="#333" stroke-width="0.9" stroke-linecap="round" stroke-linejoin="round">
<g stroke="#d4d4d4" stroke-width="0.5"><path d="M17,109 L10,118 M17.5,109.5 L14,121 M18,109.5 L19,122 M18.5,109 L24,121 M19,109 L28,119 M16.5,108.5 L8,114"/></g>
<path d="M36.2,88.4 C30,90.5 22,94 14,98.9 C9,102 6.5,104.5 7.6,106.5 C8.5,108.5 10,109.6 12,110.5 C16,113.5 22,116 29.2,117 C36,118 41,118.8 45.5,121 C50,123.5 52.5,127 55,129 C58,131.5 61.5,132.8 64.2,133.4"/>
<path d="M53.7,104.8 C58,104.5 62,103.5 66,101 C70.5,98.3 73,94.5 72.4,91.5 C71.8,88 68.5,86 65,86 C61.5,86 58.5,87.5 57.2,89"/>
<path d="M72.4,89.6 C80,88.6 90,89 100,90.8 C110,92.8 120,96.5 127,101.5 C132,105 136,110 138.5,115.5 C140,119 141,121 141.5,122.5"/>
<path d="M139.4,128.2 C148,130 158,131.5 166,132.3 C170,132.6 174,132.3 176.5,131.2"/>
<path d="M139.4,131.5 C146,133.5 152,134.8 158,135.8 C164,136.8 170,137 174.5,135.6 C178,134.4 179,131.8 177.5,129.6 C175.5,127 171,125.2 166,123.8 C163,123 160.5,122.4 159,122.2"/>
<path d="M109.9,118.4 C107,121.5 106,124.5 106.6,127.3 C107.3,129.8 108.8,131.6 110.5,132.8"/>
<path d="M80,132.8 C90,134.5 102,135.8 117,137.4 C119,137.6 121,138 122.6,139"/>
<path d="M64.2,133.4 C66,136 66.5,140 65,143 C64,145 63,145.7 63.6,145.7 C66,145 68,142.5 70,140.4 C72,137.8 74,135.5 80,132.8"/>
<path d="M54.5,129.5 C51,128 47,127.6 44.5,128.3 C43.5,129 43.6,130.3 45,130.8 C44.5,132 45.5,133.2 47.5,132.8 C49.5,133.5 52,133 56.5,131.5"/>
<path d="M46,129.8 L49,130.2 M48,131.5 L51,131.6"/>
<path d="M63.6,145.7 C60,144.8 56,143.5 54,142.5 C52.5,142 52.2,143.4 53.3,144.4 C52.8,145.5 54,146.5 56,146.2 C58,146.8 61,146.6 63.6,145.7"/>
<path d="M54.5,143.8 L58,144.5"/>
<path d="M117,137.4 C115.5,138.5 114.5,140 114.8,142 C115,143.5 115.6,145 116.3,145.6 M116.8,140.8 C117.5,142.5 118.2,144.5 119,146 M119.5,140.2 C120.5,142 121.5,144 122.5,145.5 M122.5,139.5 C123.5,141 124.8,142.5 126,143"/>
<path d="M131.5,137.5 C131.5,139.5 130.8,141.5 129.5,142.5"/>
<circle cx="31.3" cy="101.3" r="2.6" fill="#1e1e1e" stroke="none"/>
<circle cx="30.6" cy="100.5" r="0.6" fill="#777" stroke="none"/>
<path d="M139.4,120.4 L151.9,123.6 L142.7,126.9 L145.3,128.2 L128.2,138.1 L122.3,140.1 L132.8,132.2 L130.2,131.5 L136.8,125 Z" fill="#fcdcb4" stroke="#e83a30" stroke-width="1.1"/>
</g>
<g transform="translate(0,454)">
<circle cx="47.3" cy="91.2" r="9.3" fill="#fff" stroke="#9c9c9c" stroke-width="2.4"/>
<path d="M34,87.5 L37.5,79.5 L42,86 Z" fill="#a5a5a5"/>
<path d="M53.5,100 L59.5,91.5 L61.5,99.5 Z" fill="#a5a5a5"/>
<rect x="43.2" y="82.6" width="10.5" height="5.8" fill="#d6d6cc"/>
<rect x="42.8" y="79.2" width="11.4" height="3.6" fill="#3a3a3a"/>
<rect x="40.6" y="68.2" width="15.1" height="11.2" rx="1" fill="#111"/>
<rect x="42" y="50.5" width="12.3" height="17.8" fill="#1c1c1c"/>
<rect x="36.4" y="60.8" width="5.8" height="6.5" fill="#151515"/>
<rect x="40.4" y="48.4" width="15.3" height="2.3" fill="#8a8a8a"/>
<circle cx="51.3" cy="57.3" r="0.9" fill="#999"/>
</g>
<path d="M22.4,38.9 C24,42 27,44.3 33,44.6 C40,44.9 46,44.4 47.6,46 C48.2,46.8 48.2,47.8 48.2,48.4" fill="none" stroke="#1a1a1a" stroke-width="1.1"/>
<path d="M21.9,487.5 C24,492 27,495 34,495.6 C41,496 46,495.5 47.3,497.5 C48,499 48,501 48,502.4" fill="none" stroke="#1a1a1a" stroke-width="1.1"/>
<text x="31.5" y="36.6" font-size="11.7" fill="#1b1b1b" stroke="#1b1b1b" stroke-width="0.25">BG – <tspan fill="#4fbf6e" stroke="#4fbf6e">GfaABC1d.GCaMP6f</tspan></text>
<text x="4.4" y="63.8" font-size="11.5" text-anchor="start" fill="#1b1b1b" stroke="#1b1b1b" stroke-width="0.3">Mini</text>
<text x="4.4" y="77.8" font-size="11.5" text-anchor="start" fill="#1b1b1b" stroke="#1b1b1b" stroke-width="0.3">scope</text>
<text x="83.2" y="110.6" font-size="11" text-anchor="middle" fill="#1b1b1b" stroke="#1b1b1b" stroke-width="0.3" font-style="italic">WT</text>
<text x="83.4" y="124.6" font-size="11.5" text-anchor="middle" fill="#1b1b1b" stroke="#1b1b1b" stroke-width="0.3" font-style="italic">mouse</text>
<text x="85.1" y="165.8" font-size="11" text-anchor="middle" fill="#1b1b1b" stroke="#1b1b1b" stroke-width="0.3">Awake</text>
<text x="139.7" y="105.5" font-size="11.6" text-anchor="start" fill="#1b1b1b" stroke="#1b1b1b" stroke-width="0.3">Electrical</text>
<text x="139.7" y="119.4" font-size="11.6" text-anchor="start" fill="#1b1b1b" stroke="#1b1b1b" stroke-width="0.3">stimulus</text>
<text x="1" y="13.7" font-size="16.5" text-anchor="start" fill="#111" font-weight="bold">a</text>
<text x="26.6" y="487" font-size="11.7" fill="#1b1b1b" stroke="#1b1b1b" stroke-width="0.25">LC – <tspan fill="#4fbf6e" stroke="#4fbf6e">rTH.Cre + DIO.GCaMP6f</tspan></text>
<text x="4.4" y="517.8" font-size="11.5" text-anchor="start" fill="#1b1b1b" stroke="#1b1b1b" stroke-width="0.3">Mini</text>
<text x="4.4" y="531.8" font-size="11.5" text-anchor="start" fill="#1b1b1b" stroke="#1b1b1b" stroke-width="0.3">scope</text>
<text x="83.2" y="564.1" font-size="11" text-anchor="middle" fill="#1b1b1b" stroke="#1b1b1b" stroke-width="0.3" font-style="italic">WT</text>
<text x="83.4" y="578.1" font-size="11.5" text-anchor="middle" fill="#1b1b1b" stroke="#1b1b1b" stroke-width="0.3" font-style="italic">mouse</text>
<text x="85.1" y="619.3" font-size="11" text-anchor="middle" fill="#1b1b1b" stroke="#1b1b1b" stroke-width="0.3">Awake</text>
<text x="139.7" y="559.5" font-size="11.6" text-anchor="start" fill="#1b1b1b" stroke="#1b1b1b" stroke-width="0.3">Electrical</text>
<text x="139.7" y="573.4" font-size="11.6" text-anchor="start" fill="#1b1b1b" stroke="#1b1b1b" stroke-width="0.3">stimulus</text>
<text x="3" y="453.1" font-size="16.5" text-anchor="start" fill="#111" font-weight="bold">f</text>
</svg></body></html>
